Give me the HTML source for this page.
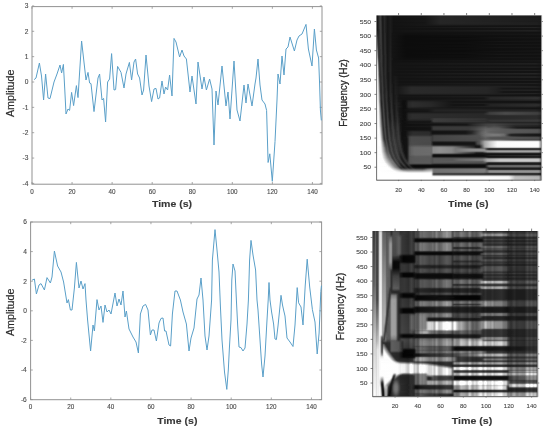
<!DOCTYPE html>
<html><head><meta charset="utf-8"><title>Signals and spectrograms</title>
<style>
html,body{margin:0;padding:0;background:#fff;}
body{width:550px;height:432px;overflow:hidden;position:relative;}
.sp{position:absolute;overflow:hidden;}
.sp i{display:block;height:1px;width:100%;}
svg{position:absolute;left:0;top:0;display:block;font-family:"Liberation Sans", sans-serif;}
</style></head><body>
<div class="sp" style="left:377px;top:15px;width:165px;height:166px"><i style="background:linear-gradient(90deg,#151515 0%,#151515 0.3%,#323232 1.5%,#3a3a3a 2.1%,#1a1a1a 3.3%,#262626 4.5%,#171717 5.8%,#1a1a1a 8.2%,#121212 10%,#121212 27%,#202020 38.5%,#1b1b1b 96.7%,#161616 100%)"></i>
<i style="background:linear-gradient(90deg,#151515 0%,#151515 0.3%,#353535 1.5%,#3d3d3d 2.1%,#1a1a1a 3.3%,#272727 4.5%,#151515 6.4%,#1b1b1b 8.2%,#121212 10%,#141414 28.8%,#252525 38.5%,#1d1d1d 96.7%,#181818 100%)"></i>
<i style="background:linear-gradient(90deg,#151515 0%,#151515 0.3%,#353535 1.5%,#3d3d3d 2.1%,#1a1a1a 3.3%,#282828 4.5%,#151515 6.4%,#1c1c1c 8.2%,#131313 10%,#171717 29.4%,#262626 38.5%,#1b1b1b 100%)"></i>
<i style="background:linear-gradient(90deg,#151515 0%,#151515 0.3%,#353535 1.5%,#3d3d3d 2.1%,#1a1a1a 3.3%,#1d1d1d 3.9%,#282828 4.5%,#151515 6.4%,#1c1c1c 8.2%,#121212 10%,#151515 28.8%,#262626 38.5%,#1e1e1e 96.7%,#191919 100%)"></i>
<i style="background:linear-gradient(90deg,#151515 0%,#151515 0.3%,#353535 1.5%,#3d3d3d 2.1%,#1a1a1a 3.3%,#1d1d1d 3.9%,#282828 4.5%,#151515 6.4%,#1c1c1c 8.2%,#121212 10%,#151515 28.8%,#262626 38.5%,#1e1e1e 96.7%,#191919 100%)"></i>
<i style="background:linear-gradient(90deg,#151515 0%,#151515 0.3%,#353535 1.5%,#3d3d3d 2.1%,#1b1b1b 3.3%,#1d1d1d 3.9%,#282828 4.5%,#151515 6.4%,#1c1c1c 8.2%,#131313 10%,#171717 29.4%,#262626 38.5%,#1c1c1c 100%)"></i>
<i style="background:linear-gradient(90deg,#151515 0%,#151515 0.3%,#343434 1.5%,#3d3d3d 2.1%,#2f2f2f 2.7%,#1b1b1b 3.3%,#1d1d1d 3.9%,#282828 4.5%,#151515 6.4%,#1c1c1c 8.2%,#131313 10%,#171717 29.4%,#262626 38.5%,#1b1b1b 100%)"></i>
<i style="background:linear-gradient(90deg,#151515 0%,#151515 0.3%,#343434 1.5%,#3d3d3d 2.1%,#303030 2.7%,#1b1b1b 3.3%,#1d1d1d 3.9%,#282828 4.5%,#151515 6.4%,#1c1c1c 8.2%,#121212 10%,#151515 28.8%,#262626 38.5%,#1e1e1e 96.7%,#191919 100%)"></i>
<i style="background:linear-gradient(90deg,#151515 0%,#151515 0.3%,#343434 1.5%,#3d3d3d 2.1%,#303030 2.7%,#1b1b1b 3.3%,#1d1d1d 3.9%,#282828 4.5%,#151515 6.4%,#1c1c1c 8.2%,#131313 10%,#161616 28.8%,#252525 38.5%,#1f1f1f 96.7%,#1a1a1a 100%)"></i>
<i style="background:linear-gradient(90deg,#151515 0%,#151515 0.3%,#343434 1.5%,#3d3d3d 2.1%,#313131 2.7%,#1b1b1b 3.3%,#1d1d1d 3.9%,#282828 4.5%,#151515 6.4%,#1c1c1c 8.2%,#131313 10%,#171717 29.4%,#212121 38.5%,#1f1f1f 96.7%,#1b1b1b 100%)"></i>
<i style="background:linear-gradient(90deg,#151515 0%,#151515 0.3%,#333333 1.5%,#3c3c3c 2.1%,#313131 2.7%,#1b1b1b 3.3%,#1d1d1d 3.9%,#282828 4.5%,#151515 6.4%,#1c1c1c 8.2%,#121212 10%,#191919 38.5%,#151515 100%)"></i>
<i style="background:linear-gradient(90deg,#151515 0%,#151515 0.3%,#333333 1.5%,#3c3c3c 2.1%,#313131 2.7%,#1c1c1c 3.3%,#1d1d1d 3.9%,#282828 4.5%,#151515 6.4%,#1c1c1c 8.2%,#121212 10%,#141414 100%)"></i>
<i style="background:linear-gradient(90deg,#151515 0%,#151515 0.3%,#333333 1.5%,#3c3c3c 2.1%,#323232 2.7%,#1c1c1c 3.3%,#1d1d1d 3.9%,#282828 4.5%,#151515 6.4%,#1c1c1c 8.2%,#131313 10%,#232323 96.1%,#1a1a1a 100%)"></i>
<i style="background:linear-gradient(90deg,#151515 0%,#151515 0.3%,#333333 1.5%,#3c3c3c 2.1%,#323232 2.7%,#1c1c1c 3.3%,#1d1d1d 3.9%,#282828 4.5%,#151515 6.4%,#1c1c1c 8.2%,#121212 10%,#151515 100%)"></i>
<i style="background:linear-gradient(90deg,#151515 0%,#151515 0.3%,#3c3c3c 2.1%,#323232 2.7%,#1c1c1c 3.3%,#1d1d1d 3.9%,#282828 4.5%,#151515 6.4%,#1c1c1c 8.2%,#121212 10%,#141414 100%)"></i>
<i style="background:linear-gradient(90deg,#171717 0%,#171717 0.3%,#3c3c3c 2.1%,#333333 2.7%,#1d1d1d 3.3%,#1d1d1d 3.9%,#282828 4.5%,#151515 6.4%,#1d1d1d 8.2%,#131313 10%,#212121 96.1%,#1a1a1a 100%)"></i>
<i style="background:linear-gradient(90deg,#1b1b1b 0%,#232323 0.9%,#3b3b3b 2.1%,#333333 2.7%,#1d1d1d 3.3%,#1c1c1c 3.9%,#282828 4.5%,#151515 6.4%,#1d1d1d 8.2%,#131313 10%,#1b1b1b 96.7%,#171717 100%)"></i>
<i style="background:linear-gradient(90deg,#202020 0%,#242424 0.9%,#3b3b3b 2.1%,#333333 2.7%,#1d1d1d 3.3%,#1c1c1c 3.9%,#282828 4.5%,#151515 6.4%,#1d1d1d 8.2%,#121212 10%,#121212 100%)"></i>
<i style="background:linear-gradient(90deg,#252525 0%,#252525 0.9%,#3b3b3b 2.1%,#343434 2.7%,#1d1d1d 3.3%,#1c1c1c 3.9%,#282828 4.5%,#262626 5.2%,#191919 5.8%,#151515 6.4%,#1d1d1d 8.2%,#131313 9.4%,#101010 16.7%,#141414 100%)"></i>
<i style="background:linear-gradient(90deg,#2a2a2a 0%,#262626 0.9%,#3b3b3b 2.1%,#343434 2.7%,#1e1e1e 3.3%,#1c1c1c 3.9%,#282828 4.5%,#262626 5.2%,#191919 5.8%,#151515 6.4%,#1d1d1d 8.2%,#141414 9.4%,#0f0f0f 17.3%,#171717 100%)"></i>
<i style="background:linear-gradient(90deg,#2f2f2f 0%,#272727 0.9%,#3a3a3a 2.1%,#353535 2.7%,#1e1e1e 3.3%,#1c1c1c 3.9%,#282828 4.5%,#262626 5.2%,#191919 5.8%,#151515 6.4%,#1d1d1d 8.2%,#131313 9.4%,#0d0d0d 17.3%,#121212 100%)"></i>
<i style="background:linear-gradient(90deg,#333333 0%,#333333 0.3%,#282828 0.9%,#3a3a3a 2.1%,#353535 2.7%,#1e1e1e 3.3%,#1c1c1c 3.9%,#282828 4.5%,#262626 5.2%,#191919 5.8%,#151515 6.4%,#1d1d1d 8.2%,#131313 9.4%,#0c0c0c 17.3%,#111111 100%)"></i>
<i style="background:linear-gradient(90deg,#383838 0%,#383838 0.3%,#282828 0.9%,#3a3a3a 2.1%,#353535 2.7%,#1f1f1f 3.3%,#1c1c1c 3.9%,#282828 4.5%,#262626 5.2%,#191919 5.8%,#151515 6.4%,#1d1d1d 8.2%,#141414 9.4%,#0c0c0c 17.3%,#0c0c0c 53%,#141414 74.8%,#151515 100%)"></i>
<i style="background:linear-gradient(90deg,#3c3c3c 0%,#3c3c3c 0.3%,#292929 0.9%,#3a3a3a 2.1%,#363636 2.7%,#1f1f1f 3.3%,#1c1c1c 3.9%,#282828 4.5%,#272727 5.2%,#191919 5.8%,#151515 6.4%,#1d1d1d 8.2%,#131313 9.4%,#0c0c0c 17.3%,#131313 100%)"></i>
<i style="background:linear-gradient(90deg,#404040 0%,#404040 0.3%,#2a2a2a 0.9%,#393939 2.1%,#363636 2.7%,#1f1f1f 3.3%,#1c1c1c 3.9%,#282828 4.5%,#272727 5.2%,#191919 5.8%,#151515 6.4%,#1e1e1e 8.2%,#131313 9.4%,#0c0c0c 17.3%,#111111 100%)"></i>
<i style="background:linear-gradient(90deg,#444444 0%,#444444 0.3%,#2b2b2b 0.9%,#393939 2.1%,#363636 2.7%,#202020 3.3%,#1c1c1c 3.9%,#282828 4.5%,#272727 5.2%,#1a1a1a 5.8%,#151515 6.4%,#1e1e1e 8.2%,#141414 9.4%,#0c0c0c 17.3%,#0c0c0c 53%,#141414 100%)"></i>
<i style="background:linear-gradient(90deg,#484848 0%,#484848 0.3%,#2b2b2b 0.9%,#393939 2.1%,#363636 2.7%,#202020 3.3%,#1c1c1c 3.9%,#282828 4.5%,#272727 5.2%,#1a1a1a 5.8%,#151515 6.4%,#1e1e1e 8.2%,#131313 9.4%,#0c0c0c 17.3%,#0c0c0c 53%,#151515 74.8%,#151515 100%)"></i>
<i style="background:linear-gradient(90deg,#4c4c4c 0%,#4c4c4c 0.3%,#2c2c2c 0.9%,#393939 2.1%,#373737 2.7%,#212121 3.3%,#1c1c1c 3.9%,#282828 4.5%,#272727 5.2%,#1a1a1a 5.8%,#151515 6.4%,#1e1e1e 8.2%,#131313 9.4%,#0c0c0c 16.7%,#111111 100%)"></i>
<i style="background:linear-gradient(90deg,#505050 0%,#505050 0.3%,#2d2d2d 0.9%,#2f2f2f 1.5%,#383838 2.1%,#373737 2.7%,#212121 3.3%,#1c1c1c 3.9%,#282828 4.5%,#282828 5.2%,#1a1a1a 5.8%,#151515 6.4%,#1e1e1e 8.2%,#141414 9.4%,#0c0c0c 17.3%,#121212 100%)"></i>
<i style="background:linear-gradient(90deg,#545454 0%,#545454 0.3%,#2d2d2d 0.9%,#2f2f2f 1.5%,#383838 2.1%,#373737 2.7%,#222222 3.3%,#1c1c1c 3.9%,#282828 4.5%,#282828 5.2%,#1a1a1a 5.8%,#151515 6.4%,#1e1e1e 8.2%,#141414 9.4%,#0c0c0c 17.3%,#0c0c0c 53%,#151515 74.8%,#151515 100%)"></i>
<i style="background:linear-gradient(90deg,#5a5a5a 0%,#5a5a5a 0.3%,#2e2e2e 0.9%,#373737 2.7%,#222222 3.3%,#1c1c1c 3.9%,#282828 4.5%,#282828 5.2%,#1a1a1a 5.8%,#151515 6.4%,#1e1e1e 8.2%,#131313 9.4%,#0c0c0c 16.7%,#111111 100%)"></i>
<i style="background:linear-gradient(90deg,#616161 0%,#616161 0.3%,#303030 0.9%,#2e2e2e 1.5%,#373737 2.1%,#383838 2.7%,#222222 3.3%,#1c1c1c 3.9%,#282828 4.5%,#282828 5.2%,#1b1b1b 5.8%,#151515 6.4%,#1f1f1f 8.2%,#131313 9.4%,#0c0c0c 16.7%,#121212 100%)"></i>
<i style="background:linear-gradient(90deg,#686868 0%,#686868 0.3%,#313131 0.9%,#2e2e2e 1.5%,#373737 2.1%,#383838 2.7%,#232323 3.3%,#1c1c1c 3.9%,#282828 4.5%,#292929 5.2%,#1b1b1b 5.8%,#151515 6.4%,#1f1f1f 8.2%,#141414 9.4%,#0d0d0d 16.7%,#0c0c0c 53%,#151515 74.8%,#161616 100%)"></i>
<i style="background:linear-gradient(90deg,#6f6f6f 0%,#6f6f6f 0.3%,#333333 0.9%,#2e2e2e 1.5%,#373737 2.1%,#383838 2.7%,#232323 3.3%,#1c1c1c 3.9%,#282828 4.5%,#292929 5.2%,#1b1b1b 5.8%,#151515 6.4%,#1f1f1f 8.2%,#131313 9.4%,#0c0c0c 17.3%,#121212 100%)"></i>
<i style="background:linear-gradient(90deg,#767676 0%,#767676 0.3%,#343434 0.9%,#2e2e2e 1.5%,#383838 2.7%,#242424 3.3%,#1c1c1c 3.9%,#282828 4.5%,#292929 5.2%,#1b1b1b 5.8%,#151515 6.4%,#1f1f1f 8.2%,#131313 9.4%,#0c0c0c 17.3%,#111111 100%)"></i>
<i style="background:linear-gradient(90deg,#7d7d7d 0%,#7d7d7d 0.3%,#353535 0.9%,#2d2d2d 1.5%,#383838 2.7%,#252525 3.3%,#1c1c1c 3.9%,#272727 4.5%,#292929 5.2%,#1b1b1b 5.8%,#151515 6.4%,#1f1f1f 8.2%,#141414 9.4%,#0c0c0c 17.9%,#0c0c0c 53%,#151515 100%)"></i>
<i style="background:linear-gradient(90deg,#848484 0%,#848484 0.3%,#363636 0.9%,#2d2d2d 1.5%,#393939 2.7%,#252525 3.3%,#1c1c1c 3.9%,#272727 4.5%,#292929 5.2%,#1c1c1c 5.8%,#151515 6.4%,#1f1f1f 8.2%,#141414 9.4%,#0c0c0c 17.3%,#0c0c0c 53%,#141414 74.8%,#141414 100%)"></i>
<i style="background:linear-gradient(90deg,#8b8b8b 0%,#8b8b8b 0.3%,#383838 0.9%,#2d2d2d 1.5%,#393939 2.7%,#262626 3.3%,#1c1c1c 3.9%,#272727 4.5%,#2a2a2a 5.2%,#1c1c1c 5.8%,#151515 6.4%,#202020 8.2%,#131313 9.4%,#0c0c0c 17.3%,#111111 100%)"></i>
<i style="background:linear-gradient(90deg,#919191 0%,#919191 0.3%,#393939 0.9%,#2d2d2d 1.5%,#393939 2.7%,#262626 3.3%,#1c1c1c 3.9%,#272727 4.5%,#2a2a2a 5.2%,#1c1c1c 5.8%,#151515 6.4%,#202020 8.2%,#141414 9.4%,#0c0c0c 17.9%,#141414 100%)"></i>
<i style="background:linear-gradient(90deg,#979797 0%,#979797 0.3%,#3a3a3a 0.9%,#2c2c2c 1.5%,#393939 2.7%,#272727 3.3%,#1d1d1d 3.9%,#272727 4.5%,#2a2a2a 5.2%,#151515 6.4%,#202020 8.2%,#141414 9.4%,#0c0c0c 17.9%,#0c0c0c 53%,#161616 74.8%,#161616 100%)"></i>
<i style="background:linear-gradient(90deg,#9e9e9e 0%,#9e9e9e 0.3%,#3b3b3b 0.9%,#2c2c2c 1.5%,#393939 2.7%,#1d1d1d 3.9%,#2a2a2a 5.2%,#151515 6.4%,#202020 8.2%,#141414 9.4%,#0c0c0c 17.3%,#111111 100%)"></i>
<i style="background:linear-gradient(90deg,#a4a4a4 0%,#a4a4a4 0.3%,#3d3d3d 0.9%,#2c2c2c 1.5%,#393939 2.7%,#1d1d1d 3.9%,#2a2a2a 5.2%,#151515 6.4%,#202020 8.2%,#141414 9.4%,#0c0c0c 17.3%,#121212 100%)"></i>
<i style="background:linear-gradient(90deg,#ababab 0%,#ababab 0.3%,#404040 0.9%,#2d2d2d 1.5%,#393939 2.7%,#1d1d1d 3.9%,#2a2a2a 5.2%,#151515 6.4%,#212121 8.2%,#141414 9.4%,#0d0d0d 17.9%,#0d0d0d 53%,#161616 74.8%,#161616 100%)"></i>
<i style="background:linear-gradient(90deg,#b2b2b2 0%,#b2b2b2 0.3%,#464646 0.9%,#2e2e2e 1.5%,#393939 2.7%,#1d1d1d 3.9%,#2b2b2b 5.2%,#151515 6.4%,#212121 8.2%,#121212 10%,#0e0e0e 17.3%,#131313 100%)"></i>
<i style="background:linear-gradient(90deg,#b9b9b9 0%,#b9b9b9 0.3%,#4d4d4d 0.9%,#2f2f2f 1.5%,#393939 2.7%,#1d1d1d 3.9%,#2b2b2b 5.2%,#151515 6.4%,#212121 8.2%,#121212 10%,#0f0f0f 17.3%,#121212 100%)"></i>
<i style="background:linear-gradient(90deg,#c0c0c0 0%,#c0c0c0 0.3%,#535353 0.9%,#303030 1.5%,#393939 2.7%,#1d1d1d 3.9%,#2b2b2b 5.2%,#161616 6.4%,#212121 8.2%,#141414 9.4%,#131313 10%,#121212 17.3%,#181818 100%)"></i>
<i style="background:linear-gradient(90deg,#c7c7c7 0%,#c7c7c7 0.3%,#595959 0.9%,#313131 1.5%,#393939 2.7%,#1e1e1e 3.9%,#2b2b2b 5.2%,#161616 6.4%,#212121 8.2%,#141414 9.4%,#131313 10%,#111111 16.7%,#161616 100%)"></i>
<i style="background:linear-gradient(90deg,#cecece 0%,#cecece 0.3%,#606060 0.9%,#323232 1.5%,#323232 2.1%,#393939 2.7%,#1e1e1e 3.9%,#2b2b2b 5.2%,#161616 6.4%,#212121 8.2%,#141414 9.4%,#131313 10%,#141414 100%)"></i>
<i style="background:linear-gradient(90deg,#d4d4d4 0%,#d4d4d4 0.3%,#666666 0.9%,#333333 1.5%,#313131 2.1%,#383838 2.7%,#1e1e1e 3.9%,#2b2b2b 5.2%,#161616 6.4%,#222222 8.2%,#141414 9.4%,#141414 10%,#202020 96.1%,#181818 100%)"></i>
<i style="background:linear-gradient(90deg,#dbdbdb 0%,#dbdbdb 0.3%,#6b6b6b 0.9%,#333333 1.5%,#313131 2.1%,#383838 2.7%,#1e1e1e 3.9%,#2c2c2c 5.2%,#161616 6.4%,#222222 8.2%,#141414 9.4%,#141414 10%,#1c1c1c 96.1%,#171717 100%)"></i>
<i style="background:linear-gradient(90deg,#e1e1e1 0%,#e1e1e1 0.3%,#717171 0.9%,#343434 1.5%,#303030 2.1%,#383838 2.7%,#1e1e1e 3.9%,#2c2c2c 5.2%,#161616 6.4%,#222222 8.2%,#141414 9.4%,#131313 13%,#141414 100%)"></i>
<i style="background:linear-gradient(90deg,#e4e4e4 0%,#e4e4e4 0.3%,#767676 0.9%,#353535 1.5%,#303030 2.1%,#383838 2.7%,#1f1f1f 3.9%,#2c2c2c 5.2%,#161616 6.4%,#222222 8.2%,#151515 9.4%,#141414 10%,#1a1a1a 96.1%,#161616 100%)"></i>
<i style="background:linear-gradient(90deg,#e6e6e6 0%,#e6e6e6 0.3%,#7b7b7b 0.9%,#363636 1.5%,#2f2f2f 2.1%,#383838 2.7%,#2f2f2f 3.3%,#1f1f1f 3.9%,#2c2c2c 5.2%,#161616 6.4%,#222222 8.2%,#151515 9.4%,#141414 10%,#1e1e1e 96.1%,#171717 100%)"></i>
<i style="background:linear-gradient(90deg,#e7e7e7 0%,#e7e7e7 0.3%,#7f7f7f 0.9%,#373737 1.5%,#2f2f2f 2.1%,#373737 2.7%,#303030 3.3%,#1f1f1f 3.9%,#2c2c2c 5.2%,#161616 6.4%,#232323 8.2%,#151515 9.4%,#131313 13%,#131313 100%)"></i>
<i style="background:linear-gradient(90deg,#e8e8e8 0%,#e8e8e8 0.3%,#848484 0.9%,#383838 1.5%,#2e2e2e 2.1%,#373737 2.7%,#303030 3.3%,#202020 3.9%,#2c2c2c 5.2%,#161616 6.4%,#232323 8.2%,#151515 9.4%,#131313 13%,#141414 100%)"></i>
<i style="background:linear-gradient(90deg,#e9e9e9 0%,#e9e9e9 0.3%,#888888 0.9%,#383838 1.5%,#2e2e2e 2.1%,#373737 2.7%,#313131 3.3%,#202020 3.9%,#2c2c2c 5.2%,#161616 6.4%,#232323 8.2%,#151515 9.4%,#151515 10%,#1f1f1f 96.1%,#181818 100%)"></i>
<i style="background:linear-gradient(90deg,#eaeaea 0%,#eaeaea 0.3%,#8c8c8c 0.9%,#393939 1.5%,#2d2d2d 2.1%,#363636 2.7%,#323232 3.3%,#202020 3.9%,#2c2c2c 5.2%,#171717 6.4%,#232323 8.2%,#151515 9.4%,#131313 13%,#141414 100%)"></i>
<i style="background:linear-gradient(90deg,#ebebeb 0%,#ebebeb 0.3%,#3a3a3a 1.5%,#2c2c2c 2.1%,#363636 2.7%,#333333 3.3%,#212121 3.9%,#2c2c2c 5.2%,#171717 6.4%,#171717 7%,#232323 8.2%,#151515 9.4%,#131313 13%,#141414 100%)"></i>
<i style="background:linear-gradient(90deg,#ececec 0%,#ececec 0.3%,#3a3a3a 1.5%,#2c2c2c 2.1%,#353535 2.7%,#333333 3.3%,#212121 3.9%,#2c2c2c 5.2%,#171717 6.4%,#171717 7%,#232323 8.2%,#151515 9.4%,#151515 10%,#252525 96.1%,#1b1b1b 100%)"></i>
<i style="background:linear-gradient(90deg,#ededed 0%,#ededed 0.3%,#3b3b3b 1.5%,#2b2b2b 2.1%,#343434 2.7%,#343434 3.3%,#222222 3.9%,#2c2c2c 5.2%,#171717 6.4%,#171717 7%,#232323 8.2%,#151515 9.4%,#141414 13%,#1d1d1d 96.1%,#171717 100%)"></i>
<i style="background:linear-gradient(90deg,#eeeeee 0%,#eeeeee 0.3%,#9a9a9a 0.9%,#3c3c3c 1.5%,#2b2b2b 2.1%,#343434 2.7%,#353535 3.3%,#222222 3.9%,#242424 4.5%,#2c2c2c 5.2%,#171717 6.4%,#171717 7%,#232323 8.2%,#151515 9.4%,#131313 13.6%,#141414 100%)"></i>
<i style="background:linear-gradient(90deg,#efefef 0%,#efefef 0.3%,#9e9e9e 0.9%,#404040 1.5%,#2b2b2b 2.1%,#363636 3.3%,#232323 3.9%,#232323 4.5%,#2c2c2c 5.2%,#181818 6.4%,#171717 7%,#232323 8.2%,#161616 9.4%,#191919 11.2%,#151515 13%,#202020 96.1%,#181818 100%)"></i>
<i style="background:linear-gradient(90deg,#f0f0f0 0%,#f0f0f0 0.3%,#a2a2a2 0.9%,#454545 1.5%,#2c2c2c 2.1%,#363636 3.3%,#242424 3.9%,#232323 4.5%,#2c2c2c 5.2%,#181818 6.4%,#171717 7%,#232323 8.2%,#161616 9.4%,#191919 11.2%,#151515 13%,#212121 96.1%,#191919 100%)"></i>
<i style="background:linear-gradient(90deg,#f0f0f0 0%,#f0f0f0 0.3%,#a6a6a6 0.9%,#4a4a4a 1.5%,#2c2c2c 2.1%,#373737 3.3%,#242424 3.9%,#232323 4.5%,#2c2c2c 5.2%,#181818 6.4%,#171717 7%,#232323 8.2%,#161616 9.4%,#191919 11.2%,#131313 13.6%,#141414 100%)"></i>
<i style="background:linear-gradient(90deg,#f1f1f1 0%,#f1f1f1 0.3%,#a9a9a9 0.9%,#4f4f4f 1.5%,#2d2d2d 2.1%,#373737 3.3%,#252525 3.9%,#232323 4.5%,#2b2b2b 5.2%,#262626 5.8%,#181818 6.4%,#171717 7%,#242424 8.2%,#161616 9.4%,#191919 11.2%,#141414 13.6%,#151515 100%)"></i>
<i style="background:linear-gradient(90deg,#f2f2f2 0%,#f2f2f2 0.3%,#adadad 0.9%,#535353 1.5%,#2d2d2d 2.1%,#383838 3.3%,#262626 3.9%,#232323 4.5%,#2b2b2b 5.2%,#262626 5.8%,#191919 6.4%,#161616 7%,#242424 8.2%,#161616 9.4%,#161616 10%,#1b1b1b 11.2%,#151515 13.6%,#1e1e1e 96.1%,#181818 100%)"></i>
<i style="background:linear-gradient(90deg,#f2f2f2 0%,#f2f2f2 0.3%,#b0b0b0 0.9%,#585858 1.5%,#2e2e2e 2.1%,#393939 3.3%,#262626 3.9%,#232323 4.5%,#2b2b2b 5.2%,#272727 5.8%,#191919 6.4%,#171717 7%,#242424 8.2%,#161616 9.4%,#1a1a1a 11.2%,#131313 13.6%,#131313 100%)"></i>
<i style="background:linear-gradient(90deg,#f3f3f3 0%,#f3f3f3 0.3%,#b3b3b3 0.9%,#5c5c5c 1.5%,#2e2e2e 2.1%,#303030 2.7%,#393939 3.3%,#272727 3.9%,#232323 4.5%,#2b2b2b 5.2%,#282828 5.8%,#1a1a1a 6.4%,#171717 7%,#242424 8.2%,#171717 9.4%,#1a1a1a 11.2%,#131313 13.6%,#141414 100%)"></i>
<i style="background:linear-gradient(90deg,#f3f3f3 0%,#f3f3f3 0.3%,#b7b7b7 0.9%,#606060 1.5%,#2f2f2f 2.1%,#2f2f2f 2.7%,#3a3a3a 3.3%,#282828 3.9%,#222222 4.5%,#2b2b2b 5.2%,#282828 5.8%,#1a1a1a 6.4%,#171717 7%,#252525 8.2%,#171717 9.4%,#161616 10%,#1c1c1c 11.2%,#151515 13.6%,#202020 96.1%,#181818 100%)"></i>
<i style="background:linear-gradient(90deg,#f4f4f4 0%,#f4f4f4 0.3%,#bababa 0.9%,#646464 1.5%,#2f2f2f 2.1%,#2e2e2e 2.7%,#3a3a3a 3.3%,#292929 3.9%,#222222 4.5%,#2b2b2b 5.2%,#292929 5.8%,#1b1b1b 6.4%,#171717 7%,#252525 8.2%,#151515 10%,#1b1b1b 11.2%,#141414 13.6%,#181818 68.8%,#151515 100%)"></i>
<i style="background:linear-gradient(90deg,#f4f4f4 0%,#f4f4f4 0.3%,#bcbcbc 0.9%,#676767 1.5%,#2f2f2f 2.1%,#2e2e2e 2.7%,#3b3b3b 3.3%,#2a2a2a 3.9%,#222222 4.5%,#2b2b2b 5.2%,#2a2a2a 5.8%,#1b1b1b 6.4%,#171717 7%,#252525 8.2%,#151515 10%,#1b1b1b 11.2%,#151515 13%,#1a1a1a 20.3%,#1a1a1a 65.8%,#141414 100%)"></i>
<i style="background:linear-gradient(90deg,#f5f5f5 0%,#f5f5f5 0.3%,#bfbfbf 0.9%,#6b6b6b 1.5%,#303030 2.1%,#2d2d2d 2.7%,#3b3b3b 3.3%,#2b2b2b 3.9%,#222222 4.5%,#2b2b2b 5.2%,#2b2b2b 5.8%,#1c1c1c 6.4%,#171717 7%,#262626 8.2%,#161616 10%,#1d1d1d 11.2%,#181818 13%,#232323 20.9%,#202020 96.1%,#181818 100%)"></i>
<i style="background:linear-gradient(90deg,#f5f5f5 0%,#f5f5f5 0.3%,#c2c2c2 0.9%,#6e6e6e 1.5%,#303030 2.1%,#2c2c2c 2.7%,#3b3b3b 3.3%,#222222 4.5%,#2b2b2b 5.2%,#2b2b2b 5.8%,#1c1c1c 6.4%,#171717 7%,#262626 8.2%,#161616 10%,#1d1d1d 11.2%,#1a1a1a 13%,#292929 20.9%,#262626 66.4%,#1d1d1d 76.1%,#1e1e1e 96.7%,#181818 100%)"></i>
<i style="background:linear-gradient(90deg,#f6f6f6 0%,#f6f6f6 0.3%,#c4c4c4 0.9%,#717171 1.5%,#303030 2.1%,#2c2c2c 2.7%,#3c3c3c 3.3%,#222222 4.5%,#2c2c2c 5.8%,#1d1d1d 6.4%,#171717 7%,#262626 8.2%,#151515 10%,#1d1d1d 11.2%,#191919 13%,#2a2a2a 20.9%,#262626 66.4%,#202020 72.4%,#161616 76.7%,#141414 100%)"></i>
<i style="background:linear-gradient(90deg,#f6f6f6 0%,#f6f6f6 0.3%,#c7c7c7 0.9%,#747474 1.5%,#313131 2.1%,#2b2b2b 2.7%,#3c3c3c 3.3%,#222222 4.5%,#2d2d2d 5.8%,#1e1e1e 6.4%,#171717 7%,#262626 8.2%,#161616 10%,#1e1e1e 11.2%,#1a1a1a 13%,#2a2a2a 20.9%,#262626 66.4%,#1b1b1b 76.1%,#1b1b1b 96.7%,#161616 100%)"></i>
<i style="background:linear-gradient(90deg,#f7f7f7 0%,#f7f7f7 0.3%,#c9c9c9 0.9%,#777777 1.5%,#313131 2.1%,#2a2a2a 2.7%,#3c3c3c 3.3%,#222222 4.5%,#2e2e2e 5.8%,#1e1e1e 6.4%,#171717 7%,#272727 8.2%,#161616 10%,#1e1e1e 11.2%,#1a1a1a 13%,#2a2a2a 20.3%,#262626 66.4%,#1f1f1f 74.2%,#222222 96.7%,#1a1a1a 100%)"></i>
<i style="background:linear-gradient(90deg,#f7f7f7 0%,#f7f7f7 0.3%,#cbcbcb 0.9%,#7b7b7b 1.5%,#323232 2.1%,#2a2a2a 2.7%,#3c3c3c 3.3%,#222222 4.5%,#2e2e2e 5.8%,#171717 7%,#272727 8.2%,#161616 10%,#1e1e1e 11.2%,#1a1a1a 13%,#2a2a2a 20.9%,#262626 66.4%,#202020 72.4%,#161616 76.7%,#141414 100%)"></i>
<i style="background:linear-gradient(90deg,#f8f8f8 0%,#f8f8f8 0.3%,#cecece 0.9%,#343434 2.1%,#2a2a2a 2.7%,#3c3c3c 3.3%,#222222 4.5%,#2f2f2f 5.8%,#171717 7%,#272727 8.2%,#161616 10%,#1e1e1e 11.2%,#1a1a1a 13%,#2a2a2a 20.9%,#262626 66.4%,#202020 72.4%,#161616 76.7%,#141414 100%)"></i>
<i style="background:linear-gradient(90deg,#f8f8f8 0%,#f8f8f8 0.3%,#d0d0d0 0.9%,#383838 2.1%,#2a2a2a 2.7%,#3c3c3c 3.3%,#232323 4.5%,#303030 5.8%,#171717 7%,#272727 8.2%,#252525 8.8%,#161616 10%,#1f1f1f 11.2%,#1a1a1a 13%,#272727 20.3%,#242424 66.4%,#1f1f1f 73.6%,#232323 96.1%,#1a1a1a 100%)"></i>
<i style="background:linear-gradient(90deg,#f8f8f8 0%,#f8f8f8 0.3%,#d2d2d2 0.9%,#3c3c3c 2.1%,#2a2a2a 2.7%,#3c3c3c 3.3%,#343434 3.9%,#232323 4.5%,#303030 5.8%,#181818 7%,#272727 8.2%,#262626 8.8%,#161616 10%,#1e1e1e 11.2%,#171717 13.6%,#1e1e1e 20.9%,#1d1d1d 66.4%,#151515 100%)"></i>
<i style="background:linear-gradient(90deg,#f9f9f9 0%,#f9f9f9 0.3%,#d4d4d4 0.9%,#3f3f3f 2.1%,#2a2a2a 2.7%,#3c3c3c 3.3%,#353535 3.9%,#232323 4.5%,#313131 5.8%,#181818 7%,#282828 8.2%,#272727 8.8%,#161616 10%,#1e1e1e 11.8%,#141414 13.6%,#141414 100%)"></i>
<i style="background:linear-gradient(90deg,#f9f9f9 0%,#f9f9f9 0.3%,#d6d6d6 0.9%,#434343 2.1%,#2a2a2a 2.7%,#3b3b3b 3.3%,#363636 3.9%,#232323 4.5%,#313131 5.8%,#181818 7%,#282828 8.2%,#272727 8.8%,#171717 10%,#1f1f1f 11.8%,#151515 13.6%,#222222 96.1%,#1a1a1a 100%)"></i>
<i style="background:linear-gradient(90deg,#fafafa 0%,#fafafa 0.3%,#d8d8d8 0.9%,#464646 2.1%,#2a2a2a 2.7%,#3b3b3b 3.3%,#373737 3.9%,#232323 4.5%,#323232 5.8%,#181818 7%,#1c1c1c 7.6%,#282828 8.2%,#282828 8.8%,#171717 10%,#1f1f1f 11.8%,#161616 13%,#141414 14.2%,#181818 64.5%,#262626 68.8%,#2f2f2f 96.7%,#2e2e2e 97.9%,#202020 100%)"></i>
<i style="background:linear-gradient(90deg,#fafafa 0%,#fafafa 0.3%,#d9d9d9 0.9%,#494949 2.1%,#2a2a2a 2.7%,#3b3b3b 3.3%,#383838 3.9%,#242424 4.5%,#272727 5.2%,#323232 5.8%,#181818 7%,#1c1c1c 7.6%,#282828 8.2%,#292929 8.8%,#171717 10%,#1f1f1f 11.8%,#151515 13%,#131313 14.2%,#151515 64.5%,#272727 68.8%,#313131 97.3%,#202020 100%)"></i>
<i style="background:linear-gradient(90deg,#fafafa 0%,#fafafa 0.3%,#dbdbdb 0.9%,#4a4a4a 2.1%,#292929 2.7%,#3a3a3a 3.3%,#393939 3.9%,#242424 4.5%,#272727 5.2%,#323232 5.8%,#191919 7%,#1c1c1c 7.6%,#282828 8.2%,#292929 8.8%,#171717 10%,#202020 11.8%,#161616 13%,#131313 15.5%,#1a1a1a 64.5%,#232323 68.8%,#292929 96.1%,#282828 97.9%,#1e1e1e 100%)"></i>
<i style="background:linear-gradient(90deg,#fbfbfb 0%,#fbfbfb 0.3%,#dddddd 0.9%,#4a4a4a 2.1%,#272727 2.7%,#393939 3.3%,#3b3b3b 3.9%,#252525 4.5%,#262626 5.2%,#333333 5.8%,#191919 7%,#2a2a2a 8.8%,#181818 10%,#212121 11.8%,#181818 13%,#101010 16.1%,#111111 17.3%,#1c1c1c 19.1%,#1e1e1e 21.5%,#191919 47%,#232323 96.1%,#1a1a1a 100%)"></i>
<i style="background:linear-gradient(90deg,#fbfbfb 0%,#fbfbfb 0.3%,#dfdfdf 0.9%,#4d4d4d 2.1%,#252525 2.7%,#373737 3.3%,#3d3d3d 3.9%,#252525 4.5%,#252525 5.2%,#333333 5.8%,#1a1a1a 7%,#1b1b1b 7.6%,#272727 8.2%,#2b2b2b 8.8%,#171717 10%,#212121 11.8%,#171717 13%,#0e0e0e 16.1%,#0f0f0f 17.3%,#222222 19.1%,#262626 21.5%,#222222 33%,#141414 46.4%,#141414 100%)"></i>
<i style="background:linear-gradient(90deg,#fcfcfc 0%,#fcfcfc 0.3%,#e2e2e2 0.9%,#515151 2.1%,#252525 2.7%,#363636 3.3%,#3e3e3e 3.9%,#262626 4.5%,#252525 5.2%,#333333 5.8%,#2b2b2b 6.4%,#1a1a1a 7%,#1b1b1b 7.6%,#272727 8.2%,#2c2c2c 8.8%,#181818 10%,#222222 11.8%,#0f0f0f 15.5%,#0e0e0e 16.7%,#151515 17.9%,#272727 19.1%,#2c2c2c 21.5%,#262626 33%,#151515 46.4%,#141414 100%)"></i>
<i style="background:linear-gradient(90deg,#fcfcfc 0%,#fcfcfc 0.3%,#e5e5e5 0.9%,#a1a1a1 1.5%,#565656 2.1%,#252525 2.7%,#404040 3.9%,#282828 4.5%,#242424 5.2%,#333333 5.8%,#2c2c2c 6.4%,#1b1b1b 7%,#1a1a1a 7.6%,#2d2d2d 8.8%,#191919 10%,#232323 11.8%,#0f0f0f 15.5%,#0e0e0e 16.7%,#161616 17.9%,#282828 19.1%,#2e2e2e 21.5%,#282828 32.4%,#191919 43.9%,#222222 96.1%,#1a1a1a 100%)"></i>
<i style="background:linear-gradient(90deg,#fdfdfd 0%,#fdfdfd 0.3%,#e8e8e8 0.9%,#a6a6a6 1.5%,#5a5a5a 2.1%,#252525 2.7%,#414141 3.9%,#292929 4.5%,#232323 5.2%,#323232 5.8%,#2e2e2e 6.4%,#1c1c1c 7%,#1a1a1a 7.6%,#2d2d2d 8.8%,#181818 10%,#232323 11.8%,#0f0f0f 15.5%,#0e0e0e 16.7%,#161616 17.9%,#282828 19.1%,#2e2e2e 21.5%,#282828 33%,#141414 46.4%,#141414 64.5%,#232323 68.8%,#2c2c2c 96.7%,#2b2b2b 97.9%,#1e1e1e 100%)"></i>
<i style="background:linear-gradient(90deg,#fdfdfd 0%,#fdfdfd 0.3%,#ebebeb 0.9%,#aaaaaa 1.5%,#5e5e5e 2.1%,#262626 2.7%,#424242 3.9%,#2a2a2a 4.5%,#232323 5.2%,#323232 5.8%,#2f2f2f 6.4%,#1d1d1d 7%,#1a1a1a 7.6%,#2e2e2e 8.8%,#191919 10%,#181818 10.6%,#242424 11.8%,#1a1a1a 13%,#0e0e0e 16.1%,#0f0f0f 17.3%,#282828 19.1%,#2e2e2e 21.5%,#282828 33%,#141414 46.4%,#151515 64.5%,#232323 68.8%,#2d2d2d 96.7%,#2c2c2c 97.9%,#1e1e1e 100%)"></i>
<i style="background:linear-gradient(90deg,#fefefe 0%,#fefefe 0.3%,#eeeeee 0.9%,#aeaeae 1.5%,#636363 2.1%,#292929 2.7%,#303030 3.3%,#434343 3.9%,#2c2c2c 4.5%,#222222 5.2%,#313131 5.8%,#313131 6.4%,#1e1e1e 7%,#1a1a1a 7.6%,#2e2e2e 8.8%,#1a1a1a 10%,#191919 10.6%,#252525 11.8%,#0e0e0e 16.1%,#0f0f0f 17.3%,#272727 19.1%,#2c2c2c 21.5%,#272727 32.4%,#191919 43.9%,#272727 96.1%,#1c1c1c 100%)"></i>
<i style="background:linear-gradient(90deg,#fefefe 0%,#fefefe 0.3%,#f1f1f1 0.9%,#b2b2b2 1.5%,#686868 2.1%,#2d2d2d 2.7%,#2f2f2f 3.3%,#444444 3.9%,#2d2d2d 4.5%,#222222 5.2%,#313131 5.8%,#323232 6.4%,#1f1f1f 7%,#191919 7.6%,#2f2f2f 8.8%,#1a1a1a 10%,#191919 10.6%,#252525 11.8%,#181818 13.6%,#0e0e0e 16.1%,#0f0f0f 17.3%,#222222 19.1%,#252525 21.5%,#171717 45.2%,#1b1b1b 96.1%,#161616 100%)"></i>
<i style="background:linear-gradient(90deg,#ffffff 0%,#ffffff 0.3%,#f2f2f2 0.9%,#b6b6b6 1.5%,#6d6d6d 2.1%,#313131 2.7%,#2f2f2f 3.3%,#444444 3.9%,#2f2f2f 4.5%,#212121 5.2%,#303030 5.8%,#343434 6.4%,#202020 7%,#191919 7.6%,#2f2f2f 8.8%,#1b1b1b 10%,#181818 10.6%,#252525 11.8%,#151515 13.6%,#0e0e0e 16.1%,#0f0f0f 17.3%,#1b1b1b 19.7%,#1d1d1d 34.8%,#141414 100%)"></i>
<i style="background:linear-gradient(90deg,#ffffff 0%,#ffffff 0.3%,#f3f3f3 0.9%,#b9b9b9 1.5%,#727272 2.1%,#353535 2.7%,#2e2e2e 3.3%,#444444 3.9%,#212121 5.2%,#2f2f2f 5.8%,#353535 6.4%,#212121 7%,#191919 7.6%,#2f2f2f 8.8%,#292929 9.4%,#1c1c1c 10%,#191919 10.6%,#262626 11.8%,#161616 13.6%,#0f0f0f 16.1%,#161616 19.1%,#181818 30.6%,#202020 35.5%,#1f1f1f 96.1%,#181818 100%)"></i>
<i style="background:linear-gradient(90deg,#ffffff 0%,#ffffff 0.3%,#f4f4f4 0.9%,#bdbdbd 1.5%,#777777 2.1%,#393939 2.7%,#2d2d2d 3.3%,#444444 3.9%,#202020 5.2%,#363636 6.4%,#222222 7%,#191919 7.6%,#303030 8.8%,#2b2b2b 9.4%,#1d1d1d 10%,#191919 10.6%,#272727 11.8%,#161616 13.6%,#0f0f0f 16.1%,#161616 19.7%,#171717 30.6%,#232323 35.5%,#252525 96.1%,#1b1b1b 100%)"></i>
<i style="background:linear-gradient(90deg,#ffffff 0%,#f4f4f4 0.9%,#c0c0c0 1.5%,#7b7b7b 2.1%,#3d3d3d 2.7%,#2d2d2d 3.3%,#444444 3.9%,#202020 5.2%,#373737 6.4%,#242424 7%,#191919 7.6%,#303030 8.8%,#2c2c2c 9.4%,#1d1d1d 10%,#181818 10.6%,#272727 11.8%,#242424 12.4%,#151515 13.6%,#0f0f0f 16.1%,#141414 19.7%,#151515 30.6%,#202020 34.8%,#202020 65.2%,#2b2b2b 68.2%,#323232 77.9%,#2c2c2c 97.3%,#1e1e1e 100%)"></i>
<i style="background:linear-gradient(90deg,#ffffff 0%,#f5f5f5 0.9%,#c3c3c3 1.5%,#414141 2.7%,#2c2c2c 3.3%,#434343 3.9%,#373737 4.5%,#212121 5.2%,#383838 6.4%,#191919 7.6%,#303030 8.8%,#2d2d2d 9.4%,#1e1e1e 10%,#191919 10.6%,#272727 11.8%,#262626 12.4%,#161616 13.6%,#0f0f0f 16.1%,#0f0f0f 17.3%,#1a1a1a 19.1%,#1c1c1c 21.5%,#202020 64.5%,#242424 65.8%,#3a3a3a 68.2%,#474747 77.9%,#3c3c3c 97.3%,#272727 100%)"></i>
<i style="background:linear-gradient(90deg,#ffffff 0%,#f6f6f6 0.9%,#c6c6c6 1.5%,#454545 2.7%,#2b2b2b 3.3%,#424242 3.9%,#393939 4.5%,#212121 5.2%,#393939 6.4%,#1a1a1a 7.6%,#212121 8.2%,#303030 8.8%,#2e2e2e 9.4%,#202020 10%,#191919 10.6%,#282828 11.8%,#282828 12.4%,#181818 13.6%,#0f0f0f 16.1%,#101010 17.3%,#222222 19.1%,#262626 21.5%,#262626 64.5%,#3d3d3d 68.2%,#4b4b4b 77.9%,#3f3f3f 97.3%,#2c2c2c 100%)"></i>
<i style="background:linear-gradient(90deg,#ffffff 0%,#f6f6f6 0.9%,#c9c9c9 1.5%,#494949 2.7%,#2b2b2b 3.3%,#414141 3.9%,#3b3b3b 4.5%,#222222 5.2%,#2a2a2a 5.8%,#3a3a3a 6.4%,#1a1a1a 7.6%,#202020 8.2%,#2f2f2f 8.8%,#2f2f2f 9.4%,#202020 10%,#191919 10.6%,#272727 11.8%,#272727 12.4%,#171717 13.6%,#0f0f0f 16.7%,#151515 17.9%,#272727 19.1%,#2d2d2d 21.5%,#282828 64.5%,#393939 68.2%,#454545 77.9%,#3b3b3b 97.3%,#292929 100%)"></i>
<i style="background:linear-gradient(90deg,#ffffff 0%,#f7f7f7 0.9%,#cccccc 1.5%,#4d4d4d 2.7%,#2a2a2a 3.3%,#404040 3.9%,#3e3e3e 4.5%,#232323 5.2%,#292929 5.8%,#3a3a3a 6.4%,#1a1a1a 7.6%,#1f1f1f 8.2%,#2f2f2f 8.8%,#303030 9.4%,#191919 10.6%,#282828 11.8%,#282828 12.4%,#171717 13.6%,#0f0f0f 16.1%,#101010 17.3%,#272727 19.1%,#2e2e2e 21.5%,#282828 64.5%,#303030 77.3%,#303030 96.7%,#212121 100%)"></i>
<i style="background:linear-gradient(90deg,#ffffff 0%,#f7f7f7 0.9%,#cfcfcf 1.5%,#505050 2.7%,#2a2a2a 3.3%,#3f3f3f 3.9%,#404040 4.5%,#242424 5.2%,#282828 5.8%,#3b3b3b 6.4%,#1b1b1b 7.6%,#1f1f1f 8.2%,#2f2f2f 8.8%,#323232 9.4%,#1a1a1a 10.6%,#292929 11.8%,#2a2a2a 12.4%,#1a1a1a 13.6%,#0f0f0f 16.1%,#101010 17.3%,#272727 19.1%,#2e2e2e 21.5%,#282828 66.4%,#2c2c2c 96.7%,#222222 100%)"></i>
<i style="background:linear-gradient(90deg,#ffffff 0%,#f8f8f8 0.9%,#d1d1d1 1.5%,#545454 2.7%,#2a2a2a 3.3%,#3d3d3d 3.9%,#424242 4.5%,#252525 5.2%,#272727 5.8%,#3b3b3b 6.4%,#1c1c1c 7.6%,#1f1f1f 8.2%,#2f2f2f 8.8%,#333333 9.4%,#1a1a1a 10.6%,#2b2b2b 12.4%,#191919 13.6%,#0f0f0f 16.1%,#101010 17.3%,#272727 19.1%,#2e2e2e 21.5%,#282828 68.2%,#2c2c2c 96.7%,#202020 100%)"></i>
<i style="background:linear-gradient(90deg,#ffffff 0%,#f8f8f8 0.9%,#d4d4d4 1.5%,#585858 2.7%,#2c2c2c 3.3%,#3c3c3c 3.9%,#444444 4.5%,#262626 5.2%,#262626 5.8%,#3b3b3b 6.4%,#313131 7%,#1d1d1d 7.6%,#1f1f1f 8.2%,#2f2f2f 8.8%,#343434 9.4%,#1b1b1b 10.6%,#2c2c2c 12.4%,#151515 14.2%,#0f0f0f 16.7%,#161616 17.9%,#272727 19.1%,#2d2d2d 20.9%,#2a2a2a 31.8%,#393939 34.8%,#303030 65.2%,#292929 67.6%,#2d2d2d 96.7%,#1f1f1f 100%)"></i>
<i style="background:linear-gradient(90deg,#ffffff 0%,#f9f9f9 0.9%,#d7d7d7 1.5%,#5d5d5d 2.7%,#2f2f2f 3.3%,#464646 4.5%,#282828 5.2%,#262626 5.8%,#3b3b3b 6.4%,#333333 7%,#1f1f1f 7.6%,#1f1f1f 8.2%,#2f2f2f 8.8%,#353535 9.4%,#1d1d1d 10.6%,#2d2d2d 12.4%,#161616 14.2%,#0f0f0f 16.7%,#101010 17.3%,#272727 19.7%,#282828 31.8%,#3d3d3d 34.8%,#333333 65.2%,#2d2d2d 67.6%,#333333 97.3%,#262626 100%)"></i>
<i style="background:linear-gradient(90deg,#ffffff 0%,#f9f9f9 0.9%,#d9d9d9 1.5%,#616161 2.7%,#323232 3.3%,#474747 4.5%,#2a2a2a 5.2%,#252525 5.8%,#3a3a3a 6.4%,#353535 7%,#212121 7.6%,#202020 8.2%,#363636 9.4%,#1e1e1e 10.6%,#202020 11.2%,#2f2f2f 12.4%,#151515 14.2%,#0f0f0f 15.5%,#101010 17.3%,#1e1e1e 19.1%,#212121 20.9%,#202020 31.8%,#222222 32.4%,#3c3c3c 34.2%,#3d3d3d 34.8%,#2f2f2f 67%,#343434 68.8%,#393939 97.3%,#282828 100%)"></i>
<i style="background:linear-gradient(90deg,#ffffff 0%,#fafafa 0.9%,#dcdcdc 1.5%,#656565 2.7%,#353535 3.3%,#393939 3.9%,#484848 4.5%,#2b2b2b 5.2%,#242424 5.8%,#3a3a3a 6.4%,#373737 7%,#232323 7.6%,#212121 8.2%,#383838 9.4%,#202020 10.6%,#202020 11.2%,#303030 12.4%,#151515 14.2%,#0f0f0f 15.5%,#161616 19.7%,#171717 31.8%,#191919 32.4%,#383838 34.2%,#3a3a3a 34.8%,#323232 65.2%,#2c2c2c 67%,#323232 70%,#343434 97.3%,#232323 100%)"></i>
<i style="background:linear-gradient(90deg,#ffffff 0%,#fafafa 0.9%,#dedede 1.5%,#696969 2.7%,#383838 3.3%,#373737 3.9%,#494949 4.5%,#2d2d2d 5.2%,#242424 5.8%,#393939 6.4%,#393939 7%,#252525 7.6%,#222222 8.2%,#393939 9.4%,#222222 10.6%,#222222 11.2%,#313131 12.4%,#161616 14.2%,#0f0f0f 16.1%,#151515 19.7%,#161616 31.8%,#292929 34.8%,#272727 54.8%,#2d2d2d 65.8%,#252525 82.7%,#252525 96.7%,#1b1b1b 100%)"></i>
<i style="background:linear-gradient(90deg,#ffffff 0%,#fbfbfb 0.9%,#e0e0e0 1.5%,#6d6d6d 2.7%,#3b3b3b 3.3%,#363636 3.9%,#494949 4.5%,#2f2f2f 5.2%,#232323 5.8%,#383838 6.4%,#3b3b3b 7%,#272727 7.6%,#232323 8.2%,#393939 9.4%,#242424 10.6%,#232323 11.2%,#333333 12.4%,#121212 14.8%,#0f0f0f 16.7%,#161616 19.7%,#1e1e1e 54.2%,#363636 65.8%,#393939 71.2%,#2e2e2e 83.3%,#2c2c2c 96.7%,#202020 100%)"></i>
<i style="background:linear-gradient(90deg,#ffffff 0%,#fbfbfb 0.9%,#e3e3e3 1.5%,#717171 2.7%,#3e3e3e 3.3%,#353535 3.9%,#494949 4.5%,#313131 5.2%,#232323 5.8%,#373737 6.4%,#3c3c3c 7%,#292929 7.6%,#242424 8.2%,#3a3a3a 9.4%,#252525 10.6%,#242424 11.2%,#333333 12.4%,#2e2e2e 13%,#171717 14.2%,#101010 15.5%,#161616 54.2%,#2b2b2b 58.5%,#414141 66.4%,#454545 70.6%,#323232 83.9%,#2f2f2f 97.3%,#1f1f1f 100%)"></i>
<i style="background:linear-gradient(90deg,#ffffff 0%,#fcfcfc 0.9%,#e5e5e5 1.5%,#414141 3.3%,#333333 3.9%,#494949 4.5%,#232323 5.8%,#363636 6.4%,#3e3e3e 7%,#2b2b2b 7.6%,#242424 8.2%,#3a3a3a 9.4%,#272727 10.6%,#242424 11.2%,#343434 12.4%,#2f2f2f 13%,#171717 14.2%,#101010 15.5%,#141414 31.8%,#1c1c1c 34.8%,#1d1d1d 54.2%,#424242 65.8%,#474747 71.2%,#2a2a2a 83.3%,#252525 97.3%,#1a1a1a 100%)"></i>
<i style="background:linear-gradient(90deg,#ffffff 0%,#fcfcfc 0.9%,#e8e8e8 1.5%,#454545 3.3%,#323232 3.9%,#484848 4.5%,#232323 5.8%,#3f3f3f 7%,#2d2d2d 7.6%,#252525 8.2%,#3a3a3a 9.4%,#363636 10%,#282828 10.6%,#252525 11.2%,#353535 12.4%,#313131 13%,#191919 14.2%,#101010 15.5%,#161616 19.7%,#181818 31.8%,#1a1a1a 32.4%,#303030 34.2%,#313131 34.8%,#313131 54.8%,#3a3a3a 59.7%,#4e4e4e 65.8%,#494949 67.6%,#4e4e4e 71.2%,#474747 74.8%,#242424 83.9%,#202020 96.7%,#191919 100%)"></i>
<i style="background:linear-gradient(90deg,#ffffff 0%,#fdfdfd 0.9%,#ececec 1.5%,#bababa 2.1%,#494949 3.3%,#303030 3.9%,#474747 4.5%,#242424 5.8%,#404040 7%,#2f2f2f 7.6%,#262626 8.2%,#3a3a3a 9.4%,#373737 10%,#2a2a2a 10.6%,#262626 11.2%,#353535 12.4%,#323232 13%,#191919 14.2%,#101010 15.5%,#141414 31.8%,#161616 32.4%,#373737 34.2%,#393939 34.8%,#3a3a3a 56.1%,#424242 59.7%,#595959 65.8%,#525252 67.6%,#575757 70.6%,#535353 73.6%,#272727 82.1%,#1d1d1d 85.2%,#151515 100%)"></i>
<i style="background:linear-gradient(90deg,#ffffff 0%,#fefefe 0.9%,#f1f1f1 1.5%,#bfbfbf 2.1%,#4d4d4d 3.3%,#2e2e2e 3.9%,#454545 4.5%,#3c3c3c 5.2%,#242424 5.8%,#414141 7%,#272727 8.2%,#3a3a3a 9.4%,#393939 10%,#2c2c2c 10.6%,#262626 11.2%,#363636 12.4%,#343434 13%,#191919 14.2%,#101010 15.5%,#121212 31.8%,#141414 32.4%,#383838 34.2%,#3a3a3a 34.8%,#3b3b3b 55.5%,#444444 59.1%,#616161 65.8%,#5c5c5c 73.6%,#2e2e2e 85.2%,#282828 97.9%,#1b1b1b 100%)"></i>
<i style="background:linear-gradient(90deg,#ffffff 0%,#ffffff 0.9%,#f4f4f4 1.5%,#c4c4c4 2.1%,#515151 3.3%,#2f2f2f 3.9%,#434343 4.5%,#3f3f3f 5.2%,#252525 5.8%,#2f2f2f 6.4%,#414141 7%,#282828 8.2%,#2d2d2d 8.8%,#3a3a3a 9.4%,#3a3a3a 10%,#272727 11.2%,#363636 12.4%,#353535 13%,#1a1a1a 14.2%,#101010 15.5%,#131313 31.8%,#151515 32.4%,#343434 34.2%,#363636 34.8%,#393939 55.5%,#454545 59.1%,#676767 65.8%,#515151 83.9%,#4c4c4c 97.3%,#434343 98.5%,#2a2a2a 99.7%,#2a2a2a 100%)"></i>
<i style="background:linear-gradient(90deg,#ffffff 0%,#ffffff 0.9%,#f6f6f6 1.5%,#c9c9c9 2.1%,#565656 3.3%,#313131 3.9%,#424242 4.5%,#424242 5.2%,#272727 5.8%,#2d2d2d 6.4%,#414141 7%,#292929 8.2%,#2d2d2d 8.8%,#3a3a3a 9.4%,#3c3c3c 10%,#282828 11.2%,#363636 12.4%,#363636 13%,#1b1b1b 14.2%,#101010 15.5%,#1a1a1a 21.5%,#181818 32.4%,#262626 34.8%,#282828 54.2%,#353535 57.9%,#696969 65.8%,#5a5a5a 77.9%,#545454 97.3%,#4a4a4a 98.5%,#2e2e2e 99.7%,#2e2e2e 100%)"></i>
<i style="background:linear-gradient(90deg,#ffffff 0%,#ffffff 0.9%,#f7f7f7 1.5%,#cdcdcd 2.1%,#5c5c5c 3.3%,#343434 3.9%,#404040 4.5%,#444444 5.2%,#282828 5.8%,#2c2c2c 6.4%,#414141 7%,#393939 7.6%,#2b2b2b 8.2%,#2d2d2d 8.8%,#393939 9.4%,#3d3d3d 10%,#292929 11.2%,#373737 13%,#1c1c1c 14.2%,#101010 15.5%,#101010 17.3%,#1d1d1d 19.1%,#262626 21.5%,#252525 31.2%,#151515 33.6%,#181818 53.6%,#2a2a2a 57.9%,#616161 63.9%,#6c6c6c 65.8%,#626262 68.8%,#5a5a5a 77.9%,#545454 97.3%,#4a4a4a 98.5%,#2e2e2e 99.7%,#2e2e2e 100%)"></i>
<i style="background:linear-gradient(90deg,#ffffff 0%,#ffffff 0.9%,#f8f8f8 1.5%,#d1d1d1 2.1%,#616161 3.3%,#363636 3.9%,#464646 5.2%,#2a2a2a 5.8%,#2b2b2b 6.4%,#404040 7%,#3c3c3c 7.6%,#2d2d2d 8.2%,#2d2d2d 8.8%,#3e3e3e 10%,#2b2b2b 11.2%,#383838 13%,#131313 14.8%,#101010 15.5%,#111111 17.3%,#252525 19.7%,#2d2d2d 22.1%,#2b2b2b 31.2%,#2a2a2a 31.8%,#131313 33.6%,#121212 34.2%,#161616 53.6%,#252525 57.3%,#5f5f5f 63.3%,#6f6f6f 65.8%,#656565 68.2%,#565656 81.5%,#4f4f4f 97.3%,#464646 98.5%,#2b2b2b 99.7%,#2b2b2b 100%)"></i>
<i style="background:linear-gradient(90deg,#ffffff 0%,#ffffff 0.9%,#f8f8f8 1.5%,#d5d5d5 2.1%,#666666 3.3%,#393939 3.9%,#3b3b3b 4.5%,#484848 5.2%,#2d2d2d 5.8%,#2a2a2a 6.4%,#3f3f3f 7%,#3e3e3e 7.6%,#2e2e2e 8.2%,#2d2d2d 8.8%,#3f3f3f 10%,#2c2c2c 11.2%,#393939 13%,#131313 14.8%,#101010 15.5%,#111111 17.3%,#262626 19.7%,#2e2e2e 22.1%,#2c2c2c 31.2%,#2b2b2b 31.8%,#151515 33.6%,#151515 34.2%,#191919 53.6%,#282828 57.3%,#666666 63.9%,#717171 66.4%,#646464 76.7%,#454545 80.9%,#3c3c3c 83.9%,#333333 97.9%,#212121 100%)"></i>
<i style="background:linear-gradient(90deg,#ffffff 0%,#f9f9f9 1.5%,#d9d9d9 2.1%,#6b6b6b 3.3%,#3d3d3d 3.9%,#393939 4.5%,#494949 5.2%,#2f2f2f 5.8%,#292929 6.4%,#3e3e3e 7%,#404040 7.6%,#303030 8.2%,#2d2d2d 8.8%,#3f3f3f 10%,#2d2d2d 11.2%,#2d2d2d 11.8%,#393939 13%,#141414 14.8%,#101010 15.5%,#111111 17.3%,#272727 19.7%,#2f2f2f 21.5%,#2e2e2e 31.2%,#212121 33.6%,#252525 34.8%,#2b2b2b 54.2%,#3f3f3f 59.1%,#727272 65.8%,#797979 70%,#777777 73.6%,#6d6d6d 76.7%,#5f5f5f 77.9%,#303030 80.3%,#252525 81.5%,#161616 100%)"></i>
<i style="background:linear-gradient(90deg,#ffffff 0%,#fafafa 1.5%,#dedede 2.1%,#717171 3.3%,#404040 3.9%,#363636 4.5%,#494949 5.2%,#323232 5.8%,#292929 6.4%,#3c3c3c 7%,#424242 7.6%,#323232 8.2%,#2e2e2e 8.8%,#404040 10%,#2e2e2e 11.2%,#2e2e2e 11.8%,#3a3a3a 13%,#313131 13.6%,#141414 14.8%,#101010 15.5%,#111111 17.3%,#2e2e2e 19.7%,#363636 21.5%,#353535 31.2%,#2e2e2e 33%,#3d3d3d 34.8%,#454545 56.1%,#525252 62.1%,#696969 64.5%,#727272 66.4%,#787878 70.6%,#757575 74.2%,#676767 77.3%,#2f2f2f 80.3%,#242424 81.5%,#161616 100%)"></i>
<i style="background:linear-gradient(90deg,#ffffff 0%,#fbfbfb 1.5%,#e2e2e2 2.1%,#444444 3.9%,#343434 4.5%,#494949 5.2%,#353535 5.8%,#292929 6.4%,#3b3b3b 7%,#434343 7.6%,#343434 8.2%,#2e2e2e 8.8%,#404040 10%,#303030 11.2%,#2e2e2e 11.8%,#3a3a3a 13%,#333333 13.6%,#151515 14.8%,#111111 15.5%,#111111 17.3%,#161616 17.9%,#3a3a3a 19.7%,#424242 20.9%,#424242 31.2%,#3b3b3b 33.6%,#454545 34.8%,#505050 61.5%,#545454 62.7%,#686868 65.2%,#6b6b6b 66.4%,#666666 74.8%,#5e5e5e 77.3%,#424242 80.9%,#3c3c3c 82.7%,#333333 87.6%,#313131 97.3%,#1f1f1f 100%)"></i>
<i style="background:linear-gradient(90deg,#ffffff 0%,#fcfcfc 1.5%,#e6e6e6 2.1%,#474747 3.9%,#323232 4.5%,#494949 5.2%,#292929 6.4%,#444444 7.6%,#2f2f2f 8.8%,#404040 10%,#2f2f2f 11.8%,#3a3a3a 13%,#343434 13.6%,#151515 14.8%,#111111 15.5%,#151515 17.9%,#414141 19.7%,#4a4a4a 20.9%,#494949 31.8%,#3d3d3d 33.6%,#464646 34.8%,#4f4f4f 62.1%,#636363 65.8%,#585858 68.8%,#4d4d4d 97.3%,#4b4b4b 97.9%,#2c2c2c 99.7%,#2c2c2c 100%)"></i>
<i style="background:linear-gradient(90deg,#ffffff 0%,#fdfdfd 1.5%,#eaeaea 2.1%,#b9b9b9 2.7%,#4c4c4c 3.9%,#313131 4.5%,#474747 5.2%,#2a2a2a 6.4%,#454545 7.6%,#303030 8.8%,#404040 10%,#2f2f2f 11.8%,#3a3a3a 13%,#353535 13.6%,#161616 14.8%,#111111 15.5%,#131313 17.9%,#1f1f1f 18.5%,#424242 19.7%,#4b4b4b 20.9%,#4a4a4a 31.8%,#3d3d3d 33.6%,#464646 34.8%,#4f4f4f 62.7%,#5f5f5f 65.8%,#555555 69.4%,#4f4f4f 97.3%,#4d4d4d 97.9%,#2d2d2d 99.7%,#2d2d2d 100%)"></i>
<i style="background:linear-gradient(90deg,#ffffff 0%,#fdfdfd 1.5%,#eeeeee 2.1%,#bfbfbf 2.7%,#545454 3.9%,#343434 4.5%,#454545 5.2%,#404040 5.8%,#2b2b2b 6.4%,#464646 7.6%,#313131 8.8%,#3f3f3f 10%,#404040 10.6%,#303030 11.8%,#3a3a3a 13%,#373737 13.6%,#171717 14.8%,#111111 15.5%,#131313 17.9%,#1e1e1e 18.5%,#424242 19.7%,#4b4b4b 20.9%,#4a4a4a 31.8%,#3d3d3d 33.6%,#464646 34.8%,#4c4c4c 60.3%,#535353 62.7%,#646464 65.2%,#676767 67%,#626262 69.4%,#616161 74.8%,#4a4a4a 85.2%,#484848 97.3%,#464646 97.9%,#292929 99.7%,#292929 100%)"></i>
<i style="background:linear-gradient(90deg,#ffffff 0%,#fefefe 1.5%,#f2f2f2 2.1%,#c6c6c6 2.7%,#606060 3.9%,#3b3b3b 4.5%,#454545 5.8%,#2e2e2e 6.4%,#333333 7%,#454545 7.6%,#323232 8.8%,#414141 10.6%,#313131 11.8%,#383838 13.6%,#191919 14.8%,#101010 16.1%,#131313 17.9%,#1e1e1e 18.5%,#424242 19.7%,#4b4b4b 20.9%,#4a4a4a 31.8%,#3b3b3b 33.6%,#424242 34.8%,#4a4a4a 60.3%,#545454 62.1%,#808080 65.2%,#858585 65.8%,#9e9e9e 73%,#848484 84.5%,#828282 97.3%,#7e7e7e 97.9%,#434343 99.7%,#434343 100%)"></i>
<i style="background:linear-gradient(90deg,#ffffff 0%,#ffffff 1.5%,#f6f6f6 2.1%,#cdcdcd 2.7%,#6b6b6b 3.9%,#444444 4.5%,#3e3e3e 5.2%,#494949 5.8%,#323232 6.4%,#303030 7%,#434343 7.6%,#424242 8.2%,#343434 8.8%,#333333 9.4%,#424242 10.6%,#323232 11.8%,#393939 13.6%,#1b1b1b 14.8%,#111111 16.1%,#131313 17.9%,#1e1e1e 18.5%,#424242 19.7%,#4b4b4b 20.9%,#4a4a4a 31.8%,#484848 32.4%,#303030 33.6%,#2c2c2c 34.2%,#303030 53.6%,#353535 59.1%,#555555 62.1%,#9f9f9f 65.2%,#a8a8a8 65.8%,#e9e9e9 73%,#e7e7e7 97.3%,#e0e0e0 97.9%,#6f6f6f 99.7%,#6f6f6f 100%)"></i>
<i style="background:linear-gradient(90deg,#ffffff 0%,#ffffff 1.5%,#f7f7f7 2.1%,#d2d2d2 2.7%,#4d4d4d 4.5%,#3d3d3d 5.2%,#4b4b4b 5.8%,#373737 6.4%,#2f2f2f 7%,#404040 7.6%,#454545 8.2%,#373737 8.8%,#323232 9.4%,#424242 10.6%,#333333 11.8%,#323232 12.4%,#393939 13.6%,#2f2f2f 14.2%,#1d1d1d 14.8%,#131313 15.5%,#111111 16.1%,#131313 17.9%,#1e1e1e 18.5%,#424242 19.7%,#494949 20.3%,#4c4c4c 21.5%,#484848 32.4%,#3a3a3a 33%,#252525 33.6%,#191919 34.2%,#171717 34.8%,#1b1b1b 58.5%,#1f1f1f 59.1%,#494949 60.9%,#555555 62.1%,#a6a6a6 65.2%,#cbcbcb 68.2%,#f9f9f9 73%,#fefefe 97.3%,#f6f6f6 97.9%,#797979 99.7%,#797979 100%)"></i>
<i style="background:linear-gradient(90deg,#ffffff 0%,#ffffff 1.5%,#f8f8f8 2.1%,#d7d7d7 2.7%,#565656 4.5%,#414141 5.2%,#4c4c4c 5.8%,#2f2f2f 7%,#474747 8.2%,#323232 9.4%,#424242 10.6%,#313131 12.4%,#393939 13.6%,#323232 14.2%,#141414 15.5%,#111111 16.1%,#131313 17.9%,#1e1e1e 18.5%,#424242 19.7%,#494949 20.3%,#4c4c4c 21.5%,#484848 32.4%,#151515 34.2%,#121212 34.8%,#151515 58.5%,#181818 59.1%,#474747 60.9%,#535353 62.1%,#a6a6a6 65.2%,#cbcbcb 68.2%,#fafafa 73%,#fefefe 97.3%,#f7f7f7 97.9%,#797979 99.7%,#797979 100%)"></i>
<i style="background:linear-gradient(90deg,#ffffff 0%,#ffffff 1.5%,#f9f9f9 2.1%,#dcdcdc 2.7%,#606060 4.5%,#454545 5.2%,#4a4a4a 5.8%,#434343 6.4%,#313131 7%,#474747 8.2%,#333333 9.4%,#414141 10.6%,#414141 11.2%,#313131 12.4%,#393939 13.6%,#343434 14.2%,#161616 15.5%,#111111 16.1%,#131313 17.9%,#1e1e1e 18.5%,#434343 19.7%,#4a4a4a 20.3%,#4d4d4d 21.5%,#4a4a4a 32.4%,#1a1a1a 34.2%,#171717 34.8%,#171717 59.1%,#3a3a3a 60.9%,#444444 62.1%,#676767 63.3%,#a5a5a5 65.2%,#afafaf 65.8%,#f1f1f1 71.8%,#fafafa 73%,#fefefe 97.3%,#f7f7f7 97.9%,#797979 99.7%,#797979 100%)"></i>
<i style="background:linear-gradient(90deg,#ffffff 0%,#ffffff 1.5%,#fafafa 2.1%,#e0e0e0 2.7%,#696969 4.5%,#4b4b4b 5.2%,#494949 6.4%,#343434 7%,#383838 7.6%,#474747 8.2%,#343434 9.4%,#424242 11.2%,#323232 12.4%,#363636 14.2%,#181818 15.5%,#111111 16.7%,#131313 17.9%,#1f1f1f 18.5%,#484848 19.7%,#505050 20.3%,#565656 22.7%,#555555 31.8%,#545454 32.4%,#383838 34.2%,#353535 45.2%,#1a1a1a 59.7%,#2a2a2a 62.1%,#555555 63.3%,#a4a4a4 65.2%,#afafaf 65.8%,#f1f1f1 71.8%,#f9f9f9 73%,#fefefe 97.3%,#f7f7f7 97.9%,#797979 99.7%,#797979 100%)"></i>
<i style="background:linear-gradient(90deg,#ffffff 0%,#fbfbfb 2.1%,#e3e3e3 2.7%,#727272 4.5%,#525252 5.2%,#4b4b4b 5.8%,#4d4d4d 6.4%,#373737 7%,#363636 7.6%,#454545 8.2%,#434343 8.8%,#353535 9.4%,#343434 10%,#434343 11.2%,#333333 12.4%,#373737 14.2%,#1a1a1a 15.5%,#111111 16.7%,#131313 17.9%,#1f1f1f 18.5%,#4e4e4e 19.7%,#5b5b5b 20.9%,#606060 23.3%,#5d5d5d 33%,#686868 34.2%,#6c6c6c 37.9%,#646464 45.8%,#252525 58.5%,#171717 59.7%,#161616 61.5%,#1a1a1a 62.1%,#303030 62.7%,#a1a1a1 65.2%,#adadad 65.8%,#c8c8c8 68.2%,#f6f6f6 73%,#fbfbfb 97.3%,#f3f3f3 97.9%,#777777 99.7%,#777777 100%)"></i>
<i style="background:linear-gradient(90deg,#ffffff 0%,#fbfbfb 2.1%,#e7e7e7 2.7%,#595959 5.2%,#4d4d4d 5.8%,#515151 6.4%,#3c3c3c 7%,#353535 7.6%,#434343 8.2%,#464646 8.8%,#383838 9.4%,#333333 10%,#434343 11.2%,#303030 13%,#373737 14.2%,#1c1c1c 15.5%,#111111 16.7%,#131313 17.9%,#202020 18.5%,#535353 19.7%,#626262 20.9%,#686868 22.7%,#696969 33%,#868686 34.2%,#8c8c8c 37.9%,#808080 45.8%,#5d5d5d 51.2%,#373737 58.5%,#212121 60.3%,#202020 61.5%,#242424 62.1%,#353535 62.7%,#919191 65.2%,#c8c8c8 73%,#cccccc 97.3%,#c6c6c6 97.9%,#646464 99.7%,#646464 100%)"></i>
<i style="background:linear-gradient(90deg,#ffffff 0%,#fcfcfc 2.1%,#eaeaea 2.7%,#616161 5.2%,#505050 5.8%,#535353 6.4%,#353535 7.6%,#484848 8.8%,#333333 10%,#434343 11.2%,#303030 13%,#373737 14.2%,#303030 14.8%,#151515 16.1%,#111111 16.7%,#131313 17.9%,#202020 18.5%,#545454 19.7%,#636363 20.9%,#6a6a6a 22.7%,#6c6c6c 33%,#8a8a8a 34.2%,#919191 37.9%,#888888 45.2%,#787878 47.6%,#6d6d6d 56.7%,#5f5f5f 60.3%,#606060 62.1%,#767676 65.2%,#454545 67%,#373737 68.2%,#3f3f3f 73%,#424242 97.3%,#414141 97.9%,#292929 100%)"></i>
<i style="background:linear-gradient(90deg,#ffffff 0%,#fcfcfc 2.1%,#ededed 2.7%,#686868 5.2%,#545454 5.8%,#565656 6.4%,#373737 7.6%,#494949 8.8%,#343434 10%,#424242 11.2%,#424242 11.8%,#303030 13%,#363636 14.2%,#323232 14.8%,#161616 16.1%,#121212 16.7%,#131313 17.9%,#202020 18.5%,#545454 19.7%,#636363 20.9%,#6a6a6a 22.7%,#6c6c6c 33%,#8b8b8b 34.2%,#919191 37.9%,#888888 45.2%,#797979 47.6%,#8c8c8c 56.1%,#8e8e8e 64.5%,#8a8a8a 65.2%,#535353 66.4%,#3e3e3e 67%,#313131 67.6%,#2d2d2d 68.2%,#333333 97.3%,#2e2e2e 98.5%,#202020 100%)"></i>
<i style="background:linear-gradient(90deg,#ffffff 0%,#fdfdfd 2.1%,#efefef 2.7%,#6f6f6f 5.2%,#595959 5.8%,#585858 6.4%,#4e4e4e 7%,#393939 7.6%,#3b3b3b 8.2%,#484848 8.8%,#353535 10%,#434343 11.8%,#303030 13%,#343434 14.8%,#181818 16.1%,#121212 16.7%,#131313 17.9%,#202020 18.5%,#545454 19.7%,#636363 20.9%,#6a6a6a 22.7%,#6c6c6c 33%,#8b8b8b 34.2%,#919191 37.9%,#888888 45.2%,#797979 47.6%,#8e8e8e 56.1%,#939393 64.5%,#939393 65.2%,#848484 66.4%,#7b7b7b 68.2%,#848484 74.8%,#858585 97.3%,#838383 97.9%,#747474 98.5%,#424242 99.7%,#424242 100%)"></i>
<i style="background:linear-gradient(90deg,#ffffff 0%,#fdfdfd 2.1%,#f2f2f2 2.7%,#767676 5.2%,#5f5f5f 5.8%,#545454 7%,#3d3d3d 7.6%,#3a3a3a 8.2%,#464646 8.8%,#444444 9.4%,#373737 10%,#353535 10.6%,#444444 11.8%,#313131 13%,#2d2d2d 13.6%,#353535 14.8%,#1a1a1a 16.1%,#111111 17.3%,#131313 17.9%,#202020 18.5%,#545454 19.7%,#636363 20.9%,#6a6a6a 22.7%,#6c6c6c 33%,#8a8a8a 34.2%,#919191 37.9%,#888888 45.2%,#797979 47.6%,#7c7c7c 56.1%,#737373 60.3%,#747474 62.7%,#797979 64.5%,#959595 67%,#a2a2a2 74.2%,#a3a3a3 97.3%,#a0a0a0 97.9%,#8e8e8e 98.5%,#4f4f4f 99.7%,#4f4f4f 100%)"></i>
<i style="background:linear-gradient(90deg,#ffffff 0%,#fefefe 2.1%,#f6f6f6 2.7%,#676767 5.8%,#5d5d5d 6.4%,#5c5c5c 7%,#454545 7.6%,#393939 8.2%,#474747 9.4%,#3a3a3a 10%,#353535 10.6%,#444444 11.8%,#3f3f3f 12.4%,#2b2b2b 13.6%,#353535 14.8%,#2e2e2e 15.5%,#141414 16.7%,#111111 17.3%,#131313 17.9%,#202020 18.5%,#545454 19.7%,#636363 20.9%,#6a6a6a 22.7%,#6b6b6b 33%,#868686 34.2%,#8c8c8c 37.9%,#838383 45.2%,#717171 48.2%,#454545 58.5%,#333333 60.3%,#343434 63.9%,#656565 67%,#6e6e6e 74.8%,#6e6e6e 97.3%,#6c6c6c 97.9%,#606060 98.5%,#383838 99.7%,#383838 100%)"></i>
<i style="background:linear-gradient(90deg,#ffffff 0%,#ffffff 2.1%,#fafafa 2.7%,#e3e3e3 3.3%,#717171 5.8%,#626262 6.4%,#616161 7%,#3c3c3c 8.2%,#3e3e3e 8.8%,#494949 9.4%,#353535 10.6%,#424242 11.8%,#424242 12.4%,#2b2b2b 13.6%,#2a2a2a 14.2%,#333333 14.8%,#333333 15.5%,#171717 16.7%,#121212 17.3%,#131313 17.9%,#202020 18.5%,#545454 19.7%,#636363 20.9%,#6a6a6a 22.7%,#6c6c6c 31.8%,#676767 33%,#686868 38.5%,#616161 45.2%,#272727 58.5%,#161616 60.3%,#151515 63.9%,#202020 67%,#222222 74.8%,#222222 97.3%,#191919 100%)"></i>
<i style="background:linear-gradient(90deg,#ffffff 0%,#fbfbfb 2.7%,#e9e9e9 3.3%,#7c7c7c 5.8%,#696969 6.4%,#5e5e5e 7.6%,#434343 8.2%,#3b3b3b 8.8%,#464646 9.4%,#454545 10%,#383838 10.6%,#363636 11.2%,#444444 12.4%,#2c2c2c 13.6%,#262626 14.2%,#353535 15.5%,#131313 17.3%,#131313 17.9%,#202020 18.5%,#545454 19.7%,#626262 20.9%,#696969 22.7%,#6b6b6b 31.8%,#696969 32.4%,#5e5e5e 33%,#2b2b2b 34.2%,#242424 34.8%,#232323 45.8%,#0e0e0e 60.3%,#131313 68.8%,#151515 100%)"></i>
<i style="background:linear-gradient(90deg,#ffffff 0%,#fdfdfd 2.7%,#efefef 3.3%,#878787 5.8%,#727272 6.4%,#696969 7%,#676767 7.6%,#3b3b3b 8.8%,#494949 10%,#353535 11.2%,#434343 12.4%,#3f3f3f 13%,#232323 14.2%,#343434 15.5%,#303030 16.1%,#161616 17.3%,#141414 17.9%,#202020 18.5%,#515151 19.7%,#5b5b5b 20.3%,#646464 23.3%,#636363 32.4%,#545454 33%,#303030 33.6%,#131313 34.2%,#0d0d0d 34.8%,#0c0c0c 64.5%,#212121 68.8%,#2e2e2e 97.3%,#1e1e1e 100%)"></i>
<i style="background:linear-gradient(90deg,#ffffff 0%,#fefefe 2.7%,#f4f4f4 3.3%,#7c7c7c 6.4%,#6e6e6e 7%,#6c6c6c 7.6%,#5d5d5d 8.2%,#414141 8.8%,#3d3d3d 9.4%,#484848 10%,#373737 11.2%,#424242 13%,#232323 14.2%,#232323 14.8%,#303030 15.5%,#343434 16.1%,#191919 17.3%,#151515 17.9%,#202020 18.5%,#4e4e4e 19.7%,#585858 20.9%,#5c5c5c 23.3%,#5b5b5b 32.4%,#4f4f4f 33%,#303030 33.6%,#171717 34.2%,#121212 34.8%,#131313 64.5%,#1e1e1e 97.3%,#171717 100%)"></i>
<i style="background:linear-gradient(90deg,#ffffff 0%,#fefefe 2.7%,#f8f8f8 3.3%,#868686 6.4%,#757575 7%,#696969 8.2%,#4d4d4d 8.8%,#3c3c3c 9.4%,#474747 10.6%,#3b3b3b 11.2%,#363636 11.8%,#434343 13%,#393939 13.6%,#262626 14.2%,#1f1f1f 14.8%,#353535 16.1%,#161616 17.9%,#202020 18.5%,#4e4e4e 19.7%,#555555 20.3%,#5a5a5a 23.3%,#595959 32.4%,#525252 33%,#424242 33.6%,#383838 34.2%,#373737 34.8%,#363636 63.3%,#3a3a3a 65.8%,#272727 67.6%,#262626 68.2%,#2a2a2a 97.3%,#1c1c1c 100%)"></i>
<i style="background:linear-gradient(90deg,#ffffff 0%,#fcfcfc 3.3%,#ebebeb 3.9%,#929292 6.4%,#757575 7.6%,#717171 8.2%,#5f5f5f 8.8%,#424242 9.4%,#3f3f3f 10%,#484848 10.6%,#373737 11.8%,#414141 13%,#3f3f3f 13.6%,#1e1e1e 14.8%,#232323 15.5%,#313131 16.1%,#333333 16.7%,#1a1a1a 17.9%,#212121 18.5%,#4e4e4e 19.7%,#555555 20.3%,#585858 21.5%,#5a5a5a 31.8%,#4f4f4f 33.6%,#545454 34.8%,#535353 45.8%,#595959 49.4%,#606060 63.3%,#676767 64.5%,#808080 66.4%,#7e7e7e 68.2%,#8e8e8e 74.8%,#8e8e8e 97.3%,#8c8c8c 97.9%,#7c7c7c 98.5%,#464646 99.7%,#464646 100%)"></i>
<i style="background:linear-gradient(90deg,#ffffff 0%,#fefefe 3.3%,#f4f4f4 3.9%,#8d8d8d 7%,#7e7e7e 7.6%,#6f6f6f 8.8%,#404040 10%,#484848 11.2%,#373737 12.4%,#414141 13.6%,#373737 14.2%,#232323 14.8%,#1d1d1d 15.5%,#343434 16.7%,#2f2f2f 17.3%,#222222 17.9%,#242424 18.5%,#4e4e4e 19.7%,#555555 20.3%,#585858 21.5%,#5a5a5a 31.8%,#525252 33.6%,#5a5a5a 34.8%,#585858 45.8%,#666666 49.4%,#7a7a7a 63.9%,#a9a9a9 67%,#c5c5c5 74.8%,#c5c5c5 97.3%,#c1c1c1 97.9%,#ababab 98.5%,#5d5d5d 99.7%,#5d5d5d 100%)"></i>
<i style="background:linear-gradient(90deg,#ffffff 0%,#fbfbfb 3.9%,#9a9a9a 7%,#7c7c7c 8.2%,#6a6a6a 9.4%,#4d4d4d 10%,#404040 10.6%,#484848 11.2%,#353535 13%,#3e3e3e 14.2%,#1e1e1e 15.5%,#202020 16.1%,#2e2e2e 16.7%,#353535 17.3%,#282828 18.5%,#4e4e4e 19.7%,#555555 20.3%,#585858 21.5%,#5a5a5a 31.8%,#525252 33.6%,#5a5a5a 34.8%,#585858 45.8%,#646464 49.4%,#767676 63.9%,#7d7d7d 64.5%,#aeaeae 67%,#cccccc 74.8%,#cccccc 97.3%,#c8c8c8 97.9%,#b1b1b1 98.5%,#606060 99.7%,#606060 100%)"></i>
<i style="background:linear-gradient(90deg,#ffffff 0%,#fdfdfd 3.9%,#f4f4f4 4.5%,#b8b8b8 6.4%,#868686 8.2%,#757575 9.4%,#626262 10%,#474747 10.6%,#434343 11.2%,#494949 11.8%,#343434 13%,#343434 13.6%,#3c3c3c 14.2%,#393939 14.8%,#262626 15.5%,#1c1c1c 16.1%,#323232 17.3%,#2f2f2f 18.5%,#4e4e4e 19.7%,#555555 20.3%,#595959 22.1%,#5a5a5a 31.8%,#525252 33.6%,#5a5a5a 34.8%,#5c5c5c 63.9%,#656565 64.5%,#929292 66.4%,#9a9a9a 67%,#b2b2b2 74.8%,#b3b3b3 97.3%,#afafaf 97.9%,#9c9c9c 98.5%,#565656 99.7%,#565656 100%)"></i>
<i style="background:linear-gradient(90deg,#ffffff 0%,#fbfbfb 4.5%,#828282 8.8%,#727272 10%,#444444 11.2%,#474747 12.4%,#2e2e2e 13.6%,#3c3c3c 14.8%,#333333 15.5%,#222222 16.1%,#1e1e1e 16.7%,#353535 17.9%,#373737 18.5%,#555555 20.3%,#5a5a5a 23.3%,#5a5a5a 31.8%,#505050 33.6%,#575757 34.8%,#505050 63.3%,#5c5c5c 65.8%,#414141 67.6%,#3f3f3f 68.2%,#464646 74.8%,#474747 97.3%,#414141 98.5%,#2b2b2b 99.7%,#2b2b2b 100%)"></i>
<i style="background:linear-gradient(90deg,#ffffff 0%,#fefefe 4.5%,#f9f9f9 5.2%,#8f8f8f 8.8%,#808080 9.4%,#6e6e6e 10.6%,#545454 11.2%,#434343 11.8%,#474747 12.4%,#434343 13%,#313131 13.6%,#282828 14.2%,#3b3b3b 15.5%,#202020 16.7%,#202020 17.3%,#393939 18.5%,#4e4e4e 20.3%,#515151 31.8%,#515151 32.4%,#444444 33.6%,#3f3f3f 65.2%,#3a3a3a 65.8%,#1f1f1f 67%,#191919 68.2%,#1d1d1d 97.3%,#171717 100%)"></i>
<i style="background:linear-gradient(90deg,#ffffff 0%,#ffffff 4.5%,#f6f6f6 5.8%,#8c8c8c 9.4%,#6a6a6a 11.2%,#4f4f4f 11.8%,#434343 12.4%,#464646 13%,#3d3d3d 13.6%,#282828 14.2%,#242424 14.8%,#343434 15.5%,#3a3a3a 16.1%,#1d1d1d 17.3%,#202020 17.9%,#393939 19.1%,#2d2d2d 21.5%,#2c2c2c 32.4%,#222222 33.6%,#1e1e1e 34.8%,#1d1d1d 65.2%,#232323 68.8%,#272727 97.3%,#1b1b1b 100%)"></i>
<i style="background:linear-gradient(90deg,#ffffff 0%,#ffffff 5.2%,#f4f4f4 6.4%,#8a8a8a 10%,#757575 11.2%,#646464 11.8%,#4b4b4b 12.4%,#414141 13%,#424242 13.6%,#202020 14.8%,#242424 15.5%,#343434 16.1%,#353535 16.7%,#181818 17.9%,#1e1e1e 18.5%,#2c2c2c 19.1%,#2f2f2f 19.7%,#161616 20.9%,#0e0e0e 22.1%,#0e0e0e 64.5%,#101010 65.2%,#1a1a1a 65.8%,#545454 67.6%,#5d5d5d 68.2%,#5f5f5f 68.8%,#656565 97.3%,#646464 97.9%,#595959 98.5%,#353535 99.7%,#353535 100%)"></i>
<i style="background:linear-gradient(90deg,#ffffff 0%,#fcfcfc 6.4%,#e4e4e4 7.6%,#898989 10.6%,#727272 11.8%,#474747 13%,#3b3b3b 13.6%,#383838 14.2%,#1e1e1e 15.5%,#222222 16.1%,#2e2e2e 16.7%,#2d2d2d 17.3%,#161616 18.5%,#262626 19.7%,#262626 20.3%,#101010 21.5%,#090909 22.7%,#0d0d0d 64.5%,#0f0f0f 65.2%,#1a1a1a 65.8%,#595959 67.6%,#646464 68.2%,#666666 68.8%,#6c6c6c 97.3%,#6a6a6a 97.9%,#5f5f5f 98.5%,#383838 99.7%,#383838 100%)"></i>
<i style="background:linear-gradient(90deg,#ffffff 0%,#ffffff 6.4%,#f5f5f5 7.6%,#8d8d8d 11.2%,#737373 12.4%,#5f5f5f 13%,#444444 13.6%,#343434 14.2%,#323232 14.8%,#202020 16.1%,#2c2c2c 17.3%,#2c2c2c 17.9%,#1b1b1b 19.1%,#272727 20.3%,#282828 20.9%,#171717 22.1%,#121212 23.9%,#131313 28.2%,#1c1c1c 33%,#1e1e1e 64.5%,#232323 65.8%,#3d3d3d 68.2%,#414141 97.3%,#3b3b3b 98.5%,#272727 99.7%,#272727 100%)"></i>
<i style="background:linear-gradient(90deg,#ffffff 0%,#ffffff 7%,#f7f7f7 8.2%,#808080 13%,#525252 14.2%,#444444 14.8%,#444444 15.5%,#393939 16.7%,#424242 18.5%,#373737 19.7%,#3f3f3f 21.5%,#323232 23.3%,#313131 27.6%,#393939 28.8%,#4f4f4f 30.6%,#5c5c5c 33%,#4d4d4d 34.8%,#565656 64.5%,#4e4e4e 65.8%,#262626 67.6%,#1e1e1e 68.8%,#1f1f1f 97.3%,#181818 100%)"></i>
<i style="background:linear-gradient(90deg,#ffffff 0%,#ffffff 7.6%,#fafafa 8.8%,#989898 13.6%,#737373 14.8%,#6a6a6a 15.5%,#626262 17.3%,#676767 19.1%,#626262 20.3%,#666666 22.1%,#5f5f5f 23.9%,#5e5e5e 27.6%,#686868 28.8%,#828282 30.6%,#8f8f8f 32.4%,#8f8f8f 33%,#6f6f6f 34.2%,#6c6c6c 34.8%,#777777 64.5%,#767676 65.2%,#6a6a6a 65.8%,#444444 67%,#353535 67.6%,#2d2d2d 68.2%,#2d2d2d 97.3%,#1d1d1d 100%)"></i>
<i style="background:linear-gradient(90deg,#ffffff 0%,#fcfcfc 9.4%,#d5d5d5 12.4%,#999999 16.1%,#909090 17.9%,#8e8e8e 27.6%,#a9a9a9 30.6%,#b2b2b2 32.4%,#afafaf 33%,#767676 34.2%,#707070 34.8%,#7d7d7d 64.5%,#7c7c7c 65.2%,#6a6a6a 66.4%,#6a6a6a 67%,#7c7c7c 68.2%,#7e7e7e 68.8%,#808080 97.3%,#7e7e7e 97.9%,#707070 98.5%,#404040 99.7%,#404040 100%)"></i>
<i style="background:linear-gradient(90deg,#ffffff 0%,#fcfcfc 10.6%,#cccccc 16.1%,#bebebe 18.5%,#bdbdbd 27.6%,#d2d2d2 32.4%,#cbcbcb 33%,#787878 34.2%,#707070 34.8%,#7d7d7d 64.5%,#7c7c7c 65.2%,#6e6e6e 66.4%,#737373 67%,#8f8f8f 68.2%,#929292 68.8%,#959595 97.3%,#929292 97.9%,#828282 98.5%,#494949 99.7%,#494949 100%)"></i>
<i style="background:linear-gradient(90deg,#ffffff 0%,#fefefe 11.2%,#e7e7e7 19.7%,#e7e7e7 27.6%,#efefef 32.4%,#e4e4e4 33%,#737373 34.2%,#686868 34.8%,#707070 64.5%,#636363 66.4%,#676767 67%,#7d7d7d 68.2%,#7f7f7f 68.8%,#818181 97.3%,#7f7f7f 97.9%,#717171 98.5%,#404040 99.7%,#404040 100%)"></i>
<i style="background:linear-gradient(90deg,#ffffff 0%,#fdfdfd 32.4%,#ededed 33%,#545454 34.2%,#444444 34.8%,#3d3d3d 64.5%,#343434 67%,#303030 97.3%,#1e1e1e 100%)"></i>
<i style="background:linear-gradient(90deg,#ffffff 0%,#ffffff 32.4%,#efefef 33%,#5c5c5c 34.2%,#4d4d4d 34.8%,#2d2d2d 97.3%,#1d1d1d 100%)"></i>
<i style="background:linear-gradient(90deg,#ffffff 0%,#ffffff 32.4%,#f7f7f7 33%,#a8a8a8 34.2%,#a1a1a1 34.8%,#999999 79.7%,#777777 83.9%,#717171 97.9%,#656565 98.5%,#3a3a3a 99.7%,#3a3a3a 100%)"></i>
<i style="background:linear-gradient(90deg,#ffffff 0%,#ffffff 32.4%,#efefef 34.8%,#efefef 66.4%,#eaeaea 79.7%,#b3b3b3 83.9%,#aaaaaa 97.9%,#969696 98.5%,#535353 99.7%,#535353 100%)"></i>
<i style="background:linear-gradient(90deg,#ffffff 0%,#ffffff 66.4%,#fafafa 79.1%,#f4f4f4 80.3%,#c4c4c4 83.3%,#bfbfbf 83.9%,#b5b5b5 97.9%,#a0a0a0 98.5%,#575757 99.7%,#575757 100%)"></i>
<i style="background:linear-gradient(90deg,#ffffff 0%,#ffffff 66.4%,#fafafa 79.1%,#f4f4f4 80.3%,#c4c4c4 83.3%,#bfbfbf 83.9%,#b5b5b5 97.9%,#a0a0a0 98.5%,#575757 99.7%,#575757 100%)"></i>
<i style="background:linear-gradient(90deg,#ffffff 0%,#ffffff 66.4%,#fafafa 79.1%,#f4f4f4 80.3%,#c4c4c4 83.3%,#bfbfbf 83.9%,#b5b5b5 97.9%,#a0a0a0 98.5%,#575757 99.7%,#575757 100%)"></i>
<i style="background:linear-gradient(90deg,#ffffff 0%,#ffffff 66.4%,#fafafa 79.1%,#f4f4f4 80.3%,#c4c4c4 83.3%,#bfbfbf 83.9%,#b5b5b5 97.9%,#a0a0a0 98.5%,#575757 99.7%,#575757 100%)"></i></div>
<div class="sp" style="left:373px;top:231px;width:165px;height:166px"><i style="background:linear-gradient(90deg,#303030 0%,#393939 0.9%,#555555 1.5%,#3f3f3f 2.1%,#3b3b3b 2.7%,#616161 3.3%,#b3b3b3 3.9%,#c6c6c6 4.5%,#b5b5b5 5.2%,#6b6b6b 5.8%,#505050 6.4%,#464646 8.2%,#444444 10%,#2d2d2d 11.2%,#434343 12.4%,#454545 13%,#424242 15.5%,#303030 16.7%,#333333 19.1%,#2c2c2c 21.5%,#3d3d3d 23.3%,#333333 24.5%,#363636 25.2%,#454545 25.8%,#3e3e3e 27%,#444444 27.6%,#636363 28.8%,#5f5f5f 30%,#656565 30.6%,#646464 31.2%,#585858 34.2%,#5d5d5d 35.5%,#676767 36.1%,#5c5c5c 37.3%,#787878 38.5%,#626262 39.7%,#5e5e5e 40.3%,#666666 41.5%,#797979 42.7%,#7e7e7e 43.9%,#898989 44.5%,#898989 45.2%,#7e7e7e 45.8%,#787878 47%,#4a4a4a 48.2%,#4c4c4c 48.8%,#565656 49.4%,#494949 50.6%,#484848 51.8%,#606060 53.6%,#474747 57.3%,#5f5f5f 58.5%,#5a5a5a 59.1%,#414141 60.3%,#484848 61.5%,#414141 62.7%,#565656 65.2%,#515151 65.8%,#313131 67%,#333333 68.2%,#292929 69.4%,#292929 71.2%,#313131 72.4%,#2a2a2a 73.6%,#323232 77.9%,#1c1c1c 82.1%,#1e1e1e 83.9%,#282828 85.8%,#1f1f1f 87%,#232323 88.8%,#1f1f1f 91.8%,#303030 93.6%,#272727 94.8%,#2e2e2e 96.1%,#262626 97.3%,#2a2a2a 98.5%,#242424 100%)"></i>
<i style="background:linear-gradient(90deg,#313131 0%,#3b3b3b 0.9%,#5b5b5b 1.5%,#414141 2.1%,#3e3e3e 2.7%,#686868 3.3%,#c5c5c5 3.9%,#dbdbdb 4.5%,#c6c6c6 5.2%,#737373 5.8%,#5b5b5b 6.4%,#575757 7.6%,#4d4d4d 8.2%,#4c4c4c 10%,#2f2f2f 11.2%,#4a4a4a 12.4%,#4d4d4d 13%,#494949 15.5%,#313131 16.7%,#343434 19.1%,#2d2d2d 21.5%,#3e3e3e 23.3%,#343434 24.5%,#383838 25.2%,#494949 25.8%,#424242 27%,#484848 27.6%,#6a6a6a 28.8%,#656565 30%,#6c6c6c 30.6%,#6c6c6c 31.2%,#5f5f5f 34.2%,#646464 35.5%,#6f6f6f 36.1%,#636363 37.3%,#818181 38.5%,#6a6a6a 39.7%,#656565 40.3%,#6e6e6e 41.5%,#838383 42.7%,#888888 43.9%,#959595 44.5%,#949494 45.2%,#888888 45.8%,#838383 47%,#505050 48.2%,#595959 48.8%,#6a6a6a 49.4%,#5b5b5b 50.6%,#5a5a5a 51.8%,#727272 53%,#787878 53.6%,#5a5a5a 56.7%,#595959 57.3%,#777777 58.5%,#707070 59.1%,#5c5c5c 59.7%,#515151 60.3%,#5a5a5a 61.5%,#515151 62.7%,#6d6d6d 65.2%,#686868 65.8%,#454545 67%,#4d4d4d 68.2%,#3e3e3e 69.4%,#3f3f3f 71.2%,#4a4a4a 72.4%,#3f3f3f 73.6%,#4a4a4a 76.1%,#4c4c4c 77.9%,#3e3e3e 79.1%,#393939 80.9%,#2d2d2d 81.5%,#2a2a2a 82.1%,#2f2f2f 82.7%,#2b2b2b 83.9%,#393939 85.2%,#393939 85.8%,#2d2d2d 87%,#333333 88.8%,#2d2d2d 91.8%,#474747 93.6%,#393939 94.8%,#434343 96.1%,#383838 97.3%,#3d3d3d 98.5%,#323232 99.1%,#2d2d2d 100%)"></i>
<i style="background:linear-gradient(90deg,#323232 0%,#3d3d3d 0.9%,#5d5d5d 1.5%,#424242 2.1%,#3e3e3e 2.7%,#6a6a6a 3.3%,#cacaca 3.9%,#e0e0e0 4.5%,#cbcbcb 5.2%,#777777 5.8%,#626262 6.4%,#5e5e5e 7.6%,#525252 8.2%,#555555 9.4%,#525252 10%,#303030 11.2%,#4c4c4c 12.4%,#4f4f4f 13%,#4c4c4c 15.5%,#333333 16.7%,#353535 19.1%,#2d2d2d 21.5%,#3f3f3f 23.3%,#343434 24.5%,#383838 25.2%,#4a4a4a 25.8%,#434343 27%,#494949 27.6%,#6c6c6c 28.8%,#676767 30%,#6e6e6e 30.6%,#6d6d6d 31.2%,#616161 34.2%,#666666 35.5%,#717171 36.1%,#656565 37.3%,#848484 38.5%,#6c6c6c 39.7%,#676767 40.3%,#707070 41.5%,#868686 42.7%,#8b8b8b 43.9%,#979797 44.5%,#979797 45.2%,#8b8b8b 45.8%,#858585 47%,#515151 48.2%,#5b5b5b 48.8%,#6f6f6f 49.4%,#606060 50.6%,#5e5e5e 51.8%,#787878 53%,#7e7e7e 53.6%,#5e5e5e 56.7%,#5d5d5d 57.3%,#7c7c7c 58.5%,#757575 59.1%,#616161 59.7%,#555555 60.3%,#5e5e5e 61.5%,#555555 62.7%,#595959 63.3%,#7a7a7a 65.2%,#7e7e7e 65.8%,#626262 67%,#727272 68.2%,#5c5c5c 69.4%,#5d5d5d 71.2%,#6e6e6e 72.4%,#5e5e5e 73.6%,#6f6f6f 76.1%,#717171 77.9%,#5d5d5d 79.1%,#555555 80.9%,#424242 81.5%,#393939 82.1%,#313131 83.3%,#303030 83.9%,#3f3f3f 85.2%,#404040 85.8%,#333333 87%,#393939 88.8%,#333333 91.8%,#515151 93.6%,#424242 94.8%,#4e4e4e 96.1%,#424242 97.3%,#474747 98.5%,#3a3a3a 99.1%,#323232 100%)"></i>
<i style="background:linear-gradient(90deg,#333333 0%,#3d3d3d 0.9%,#5d5d5d 1.5%,#424242 2.1%,#3e3e3e 2.7%,#6a6a6a 3.3%,#cacaca 3.9%,#e0e0e0 4.5%,#cccccc 5.2%,#787878 5.8%,#646464 6.4%,#606060 7.6%,#535353 8.2%,#535353 10%,#323232 11.2%,#4c4c4c 12.4%,#515151 14.8%,#4f4f4f 15.5%,#383838 16.7%,#2d2d2d 21.5%,#3f3f3f 23.3%,#343434 24.5%,#383838 25.2%,#4a4a4a 25.8%,#434343 27%,#494949 27.6%,#6c6c6c 28.8%,#676767 30%,#6e6e6e 30.6%,#6d6d6d 31.2%,#616161 34.2%,#666666 35.5%,#717171 36.1%,#656565 37.3%,#848484 38.5%,#6c6c6c 39.7%,#676767 40.3%,#707070 41.5%,#868686 42.7%,#8b8b8b 43.9%,#989898 44.5%,#979797 45.2%,#8b8b8b 45.8%,#858585 47%,#515151 48.2%,#5b5b5b 48.8%,#6f6f6f 49.4%,#606060 50.6%,#5e5e5e 51.8%,#787878 53%,#7e7e7e 53.6%,#5e5e5e 56.7%,#5d5d5d 57.3%,#7d7d7d 58.5%,#757575 59.1%,#616161 59.7%,#555555 60.3%,#5e5e5e 61.5%,#555555 62.7%,#626262 63.9%,#8f8f8f 65.8%,#7f7f7f 67%,#9c9c9c 68.2%,#7e7e7e 69.4%,#838383 70.6%,#7f7f7f 71.2%,#969696 72.4%,#808080 73.6%,#8a8a8a 74.2%,#979797 76.1%,#9b9b9b 77.9%,#7f7f7f 79.1%,#797979 79.7%,#7c7c7c 80.3%,#757575 80.9%,#5a5a5a 81.5%,#4a4a4a 82.1%,#393939 83.3%,#383838 83.9%,#4a4a4a 85.2%,#4a4a4a 85.8%,#3b3b3b 87%,#3a3a3a 87.6%,#434343 88.8%,#3d3d3d 91.8%,#606060 93.6%,#4e4e4e 94.8%,#5d5d5d 96.1%,#4f4f4f 97.3%,#555555 98.5%,#393939 99.7%,#393939 100%)"></i>
<i style="background:linear-gradient(90deg,#343434 0%,#3e3e3e 0.9%,#5e5e5e 1.5%,#424242 2.1%,#3e3e3e 2.7%,#6a6a6a 3.3%,#cacaca 3.9%,#e1e1e1 4.5%,#cccccc 5.2%,#787878 5.8%,#656565 6.4%,#616161 7.6%,#545454 8.2%,#575757 10%,#3f3f3f 11.2%,#4c4c4c 12.4%,#545454 15.5%,#3a3a3a 17.3%,#2d2d2d 20.9%,#2d2d2d 21.5%,#3f3f3f 23.3%,#343434 24.5%,#383838 25.2%,#4a4a4a 25.8%,#434343 27%,#494949 27.6%,#6c6c6c 28.8%,#676767 30%,#6e6e6e 30.6%,#6d6d6d 31.2%,#616161 34.2%,#666666 35.5%,#717171 36.1%,#656565 37.3%,#848484 38.5%,#6c6c6c 39.7%,#676767 40.3%,#707070 41.5%,#868686 42.7%,#8b8b8b 43.9%,#979797 44.5%,#979797 45.2%,#8b8b8b 45.8%,#858585 47%,#525252 48.2%,#5b5b5b 48.8%,#6f6f6f 49.4%,#5f5f5f 50.6%,#5e5e5e 51.8%,#777777 53%,#7d7d7d 53.6%,#5e5e5e 56.7%,#5d5d5d 57.3%,#7c7c7c 58.5%,#757575 59.1%,#616161 59.7%,#555555 60.3%,#5e5e5e 61.5%,#555555 62.7%,#626262 63.9%,#8b8b8b 65.8%,#7b7b7b 67%,#979797 68.2%,#7a7a7a 69.4%,#7f7f7f 70.6%,#7b7b7b 71.2%,#919191 72.4%,#7c7c7c 73.6%,#858585 74.2%,#929292 76.1%,#969696 77.9%,#7b7b7b 79.1%,#717171 80.9%,#575757 81.5%,#484848 82.1%,#3a3a3a 83.3%,#383838 83.9%,#4a4a4a 85.2%,#4b4b4b 85.8%,#3c3c3c 87%,#3b3b3b 87.6%,#434343 88.8%,#3d3d3d 91.8%,#606060 93.6%,#4e4e4e 94.8%,#5d5d5d 96.1%,#4f4f4f 97.3%,#555555 98.5%,#3b3b3b 99.7%,#3b3b3b 100%)"></i>
<i style="background:linear-gradient(90deg,#353535 0%,#3f3f3f 0.9%,#5e5e5e 1.5%,#424242 2.1%,#3f3f3f 2.7%,#6a6a6a 3.3%,#cbcbcb 3.9%,#e1e1e1 4.5%,#cccccc 5.2%,#797979 5.8%,#666666 6.4%,#626262 7.6%,#545454 8.2%,#5d5d5d 10%,#494949 11.8%,#5a5a5a 15.5%,#363636 17.9%,#2d2d2d 20.9%,#2d2d2d 21.5%,#3f3f3f 23.3%,#343434 24.5%,#373737 25.2%,#484848 25.8%,#424242 27%,#484848 27.6%,#6a6a6a 28.8%,#656565 30%,#6c6c6c 30.6%,#6c6c6c 31.2%,#5f5f5f 34.2%,#646464 35.5%,#6e6e6e 36.1%,#636363 37.3%,#818181 38.5%,#6a6a6a 39.7%,#656565 40.3%,#6e6e6e 41.5%,#838383 42.7%,#888888 43.9%,#949494 44.5%,#949494 45.2%,#888888 45.8%,#828282 47%,#505050 48.2%,#555555 48.8%,#646464 49.4%,#565656 50.6%,#545454 51.8%,#6b6b6b 53%,#717171 53.6%,#555555 56.7%,#535353 57.3%,#707070 58.5%,#696969 59.1%,#575757 59.7%,#4d4d4d 60.3%,#555555 61.5%,#4d4d4d 62.7%,#505050 63.3%,#686868 65.2%,#666666 65.8%,#4b4b4b 67%,#585858 68.2%,#474747 69.4%,#484848 71.2%,#555555 72.4%,#484848 73.6%,#555555 76.1%,#575757 77.9%,#474747 79.1%,#424242 80.9%,#333333 81.5%,#2f2f2f 82.1%,#333333 82.7%,#2f2f2f 83.9%,#3d3d3d 85.2%,#3e3e3e 85.8%,#313131 87%,#373737 88.8%,#313131 91.8%,#4d4d4d 93.6%,#3e3e3e 94.8%,#494949 96.1%,#3d3d3d 97.3%,#424242 98.5%,#363636 99.1%,#303030 100%)"></i>
<i style="background:linear-gradient(90deg,#363636 0%,#404040 0.9%,#5e5e5e 1.5%,#434343 2.1%,#3f3f3f 2.7%,#6b6b6b 3.3%,#cbcbcb 3.9%,#e1e1e1 4.5%,#cdcdcd 5.2%,#7a7a7a 5.8%,#676767 6.4%,#636363 7.6%,#555555 8.2%,#686868 10.6%,#636363 11.2%,#4f4f4f 11.8%,#4d4d4d 12.4%,#4e4e4e 13.6%,#5d5d5d 15.5%,#5a5a5a 16.1%,#3f3f3f 17.3%,#363636 17.9%,#2d2d2d 20.9%,#2d2d2d 21.5%,#3f3f3f 23.3%,#333333 24.5%,#323232 25.2%,#3f3f3f 25.8%,#393939 27%,#3d3d3d 27.6%,#5a5a5a 28.8%,#555555 30%,#5a5a5a 31.2%,#4f4f4f 34.2%,#535353 35.5%,#5c5c5c 36.1%,#525252 37.3%,#6b6b6b 38.5%,#585858 39.7%,#545454 40.3%,#5b5b5b 41.5%,#6c6c6c 42.7%,#707070 43.9%,#7a7a7a 44.5%,#6b6b6b 47%,#414141 48.2%,#313131 51.2%,#323232 51.8%,#444444 53.6%,#323232 57.3%,#434343 58.5%,#2e2e2e 60.3%,#333333 61.5%,#2e2e2e 62.7%,#3d3d3d 65.2%,#2c2c2c 67%,#353535 68.2%,#2b2b2b 69.4%,#2b2b2b 71.2%,#323232 72.4%,#2b2b2b 73.6%,#333333 77.9%,#1d1d1d 82.1%,#1f1f1f 83.9%,#292929 85.8%,#202020 87%,#242424 88.8%,#202020 91.8%,#323232 93.6%,#282828 94.8%,#2f2f2f 96.1%,#272727 97.3%,#2b2b2b 98.5%,#252525 100%)"></i>
<i style="background:linear-gradient(90deg,#373737 0%,#414141 0.9%,#5f5f5f 1.5%,#434343 2.1%,#3f3f3f 2.7%,#6b6b6b 3.3%,#cbcbcb 3.9%,#e2e2e2 4.5%,#cdcdcd 5.2%,#7a7a7a 5.8%,#686868 6.4%,#646464 7.6%,#555555 8.2%,#575757 8.8%,#717171 10.6%,#6c6c6c 11.2%,#525252 11.8%,#4d4d4d 12.4%,#4e4e4e 13.6%,#5e5e5e 15.5%,#5b5b5b 16.1%,#505050 16.7%,#3f3f3f 17.3%,#363636 17.9%,#2d2d2d 21.5%,#3f3f3f 23.3%,#242424 25.2%,#1d1d1d 27%,#2d2d2d 28.8%,#262626 34.2%,#2b2b2b 36.1%,#262626 37.3%,#313131 38.5%,#262626 40.3%,#373737 44.5%,#303030 47%,#212121 48.2%,#242424 49.4%,#1e1e1e 51.2%,#292929 53.6%,#1f1f1f 57.3%,#292929 58.5%,#1c1c1c 60.3%,#1c1c1c 62.7%,#262626 65.2%,#232323 66.4%,#373737 68.2%,#2c2c2c 69.4%,#2d2d2d 71.2%,#343434 72.4%,#2d2d2d 73.6%,#353535 77.9%,#1e1e1e 82.1%,#232323 82.7%,#212121 83.9%,#2b2b2b 85.8%,#222222 87%,#262626 88.8%,#222222 91.8%,#343434 93.6%,#2a2a2a 94.8%,#323232 96.1%,#2a2a2a 97.3%,#2d2d2d 98.5%,#262626 100%)"></i>
<i style="background:linear-gradient(90deg,#383838 0%,#414141 0.9%,#5f5f5f 1.5%,#434343 2.1%,#3f3f3f 2.7%,#6b6b6b 3.3%,#cbcbcb 3.9%,#e2e2e2 4.5%,#cecece 5.2%,#7b7b7b 5.8%,#696969 6.4%,#656565 7.6%,#555555 8.2%,#606060 9.4%,#717171 10%,#787878 10.6%,#727272 11.2%,#545454 11.8%,#4d4d4d 12.4%,#4e4e4e 13.6%,#5e5e5e 15.5%,#5b5b5b 16.1%,#505050 16.7%,#3f3f3f 17.3%,#363636 17.9%,#2d2d2d 20.9%,#2d2d2d 21.5%,#3f3f3f 23.3%,#393939 23.9%,#0e0e0e 25.8%,#0a0a0a 27%,#0f0f0f 28.8%,#0d0d0d 47.6%,#131313 48.8%,#0d0d0d 51.2%,#121212 53.6%,#0d0d0d 57.3%,#121212 58.5%,#0c0c0c 60.3%,#0d0d0d 63.3%,#121212 65.8%,#1b1b1b 66.4%,#404040 67.6%,#474747 68.2%,#393939 69.4%,#3a3a3a 71.2%,#444444 72.4%,#3a3a3a 73.6%,#464646 77.9%,#393939 79.1%,#353535 80.9%,#2a2a2a 81.5%,#282828 82.1%,#2e2e2e 82.7%,#2c2c2c 83.9%,#393939 85.2%,#393939 85.8%,#2d2d2d 87%,#333333 88.8%,#2d2d2d 91.8%,#464646 93.6%,#393939 94.8%,#434343 96.1%,#383838 97.3%,#3c3c3c 98.5%,#323232 99.1%,#2d2d2d 100%)"></i>
<i style="background:linear-gradient(90deg,#393939 0%,#424242 0.9%,#5f5f5f 1.5%,#434343 2.1%,#3f3f3f 2.7%,#6b6b6b 3.3%,#cccccc 3.9%,#e2e2e2 4.5%,#cecece 5.2%,#7c7c7c 5.8%,#6a6a6a 6.4%,#666666 7.6%,#565656 8.2%,#585858 8.8%,#626262 9.4%,#767676 10%,#7f7f7f 10.6%,#787878 11.2%,#565656 11.8%,#4d4d4d 12.4%,#4d4d4d 13.6%,#5e5e5e 15.5%,#5b5b5b 16.1%,#505050 16.7%,#3f3f3f 17.3%,#373737 17.9%,#2d2d2d 20.9%,#2d2d2d 21.5%,#3f3f3f 23.3%,#393939 23.9%,#0a0a0a 25.8%,#080808 26.4%,#080808 47.6%,#0f0f0f 48.8%,#0a0a0a 51.2%,#0e0e0e 58.5%,#0a0a0a 63.3%,#0e0e0e 65.8%,#151515 66.4%,#323232 67.6%,#373737 68.2%,#2c2c2c 69.4%,#2d2d2d 71.2%,#343434 72.4%,#2d2d2d 73.6%,#353535 77.9%,#1e1e1e 82.1%,#232323 82.7%,#212121 83.9%,#2b2b2b 85.8%,#222222 87%,#262626 88.8%,#222222 91.8%,#343434 93.6%,#2a2a2a 94.8%,#323232 96.1%,#2a2a2a 97.3%,#2d2d2d 98.5%,#262626 100%)"></i>
<i style="background:linear-gradient(90deg,#393939 0%,#434343 0.9%,#606060 1.5%,#434343 2.1%,#3f3f3f 2.7%,#6b6b6b 3.3%,#cccccc 3.9%,#e2e2e2 4.5%,#cecece 5.2%,#7c7c7c 5.8%,#6b6b6b 6.4%,#676767 7.6%,#565656 8.2%,#585858 8.8%,#646464 9.4%,#7c7c7c 10%,#868686 10.6%,#7e7e7e 11.2%,#585858 11.8%,#4d4d4d 12.4%,#4d4d4d 13.6%,#5e5e5e 15.5%,#5b5b5b 16.1%,#505050 16.7%,#3f3f3f 17.3%,#373737 17.9%,#2d2d2d 20.9%,#2d2d2d 21.5%,#3f3f3f 23.3%,#393939 23.9%,#1d1d1d 25.2%,#141414 25.8%,#101010 27%,#181818 28.8%,#121212 37.3%,#171717 38.5%,#121212 40.3%,#1a1a1a 44.5%,#131313 48.2%,#181818 49.4%,#141414 51.8%,#1b1b1b 53.6%,#141414 57.3%,#1b1b1b 58.5%,#131313 60.3%,#131313 62.7%,#1b1b1b 66.4%,#2f2f2f 67.6%,#333333 68.2%,#292929 69.4%,#292929 71.2%,#313131 72.4%,#2a2a2a 73.6%,#323232 77.9%,#1c1c1c 82.1%,#1e1e1e 83.9%,#282828 85.8%,#1f1f1f 87%,#232323 88.8%,#1f1f1f 91.8%,#303030 93.6%,#272727 94.8%,#2e2e2e 96.1%,#262626 97.3%,#2a2a2a 98.5%,#242424 100%)"></i>
<i style="background:linear-gradient(90deg,#3a3a3a 0%,#444444 0.9%,#606060 1.5%,#434343 2.1%,#3f3f3f 2.7%,#6b6b6b 3.3%,#cccccc 3.9%,#e3e3e3 4.5%,#cfcfcf 5.2%,#7d7d7d 5.8%,#6c6c6c 6.4%,#676767 7.6%,#575757 8.2%,#595959 8.8%,#666666 9.4%,#818181 10%,#8d8d8d 10.6%,#848484 11.2%,#5a5a5a 11.8%,#4d4d4d 12.4%,#4d4d4d 13.6%,#5e5e5e 15.5%,#5b5b5b 16.1%,#505050 16.7%,#3f3f3f 17.3%,#373737 17.9%,#2d2d2d 20.9%,#2d2d2d 21.5%,#3f3f3f 23.3%,#303030 25.2%,#393939 25.8%,#323232 27%,#353535 27.6%,#4c4c4c 28.8%,#474747 30%,#4a4a4a 31.2%,#3e3e3e 34.2%,#464646 36.1%,#3e3e3e 37.3%,#4f4f4f 38.5%,#3c3c3c 40.3%,#585858 44.5%,#4d4d4d 47%,#333333 48.2%,#414141 49.4%,#393939 50.6%,#383838 51.8%,#4c4c4c 53.6%,#393939 57.3%,#4d4d4d 58.5%,#484848 59.1%,#353535 60.3%,#3b3b3b 61.5%,#363636 62.7%,#474747 65.2%,#363636 67%,#434343 68.2%,#363636 69.4%,#363636 71.2%,#404040 72.4%,#373737 73.6%,#424242 77.9%,#363636 79.1%,#313131 80.9%,#272727 81.5%,#262626 82.1%,#2b2b2b 82.7%,#292929 83.9%,#353535 85.2%,#353535 85.8%,#2a2a2a 87%,#2f2f2f 88.8%,#2a2a2a 91.8%,#414141 93.6%,#353535 94.8%,#3e3e3e 96.1%,#343434 97.3%,#383838 98.5%,#2f2f2f 99.1%,#2a2a2a 100%)"></i>
<i style="background:linear-gradient(90deg,#3b3b3b 0%,#444444 0.9%,#606060 1.5%,#434343 2.1%,#3f3f3f 2.7%,#6c6c6c 3.3%,#cccccc 3.9%,#e3e3e3 4.5%,#cfcfcf 5.2%,#7e7e7e 5.8%,#6c6c6c 6.4%,#686868 7.6%,#575757 8.2%,#595959 8.8%,#686868 9.4%,#868686 10%,#949494 10.6%,#8a8a8a 11.2%,#5c5c5c 11.8%,#4d4d4d 12.4%,#4c4c4c 13.6%,#5e5e5e 15.5%,#5b5b5b 16.1%,#505050 16.7%,#3f3f3f 17.3%,#373737 17.9%,#2d2d2d 20.9%,#2d2d2d 21.5%,#3f3f3f 23.3%,#353535 24.5%,#3d3d3d 25.2%,#525252 25.8%,#515151 26.4%,#494949 27%,#4f4f4f 27.6%,#717171 28.8%,#696969 30%,#707070 30.6%,#6e6e6e 31.2%,#5d5d5d 34.2%,#606060 35.5%,#696969 36.1%,#5d5d5d 37.3%,#777777 38.5%,#616161 39.7%,#5c5c5c 40.3%,#636363 41.5%,#767676 42.7%,#7b7b7b 43.9%,#868686 44.5%,#757575 47%,#484848 48.2%,#4e4e4e 48.8%,#5e5e5e 49.4%,#515151 50.6%,#505050 51.8%,#666666 53%,#6c6c6c 53.6%,#515151 56.7%,#505050 57.3%,#6c6c6c 58.5%,#666666 59.1%,#555555 59.7%,#4a4a4a 60.3%,#535353 61.5%,#4b4b4b 62.7%,#636363 65.2%,#5e5e5e 65.8%,#3a3a3a 67%,#3f3f3f 68.2%,#333333 69.4%,#333333 71.2%,#3c3c3c 72.4%,#333333 73.6%,#3e3e3e 77.9%,#323232 79.1%,#2e2e2e 80.9%,#242424 81.5%,#232323 82.1%,#282828 82.7%,#262626 83.9%,#323232 85.2%,#323232 85.8%,#282828 87%,#2c2c2c 88.8%,#272727 91.8%,#3d3d3d 93.6%,#313131 94.8%,#3a3a3a 96.1%,#313131 97.3%,#343434 98.5%,#2c2c2c 99.1%,#292929 100%)"></i>
<i style="background:linear-gradient(90deg,#3c3c3c 0%,#454545 0.9%,#616161 1.5%,#444444 2.1%,#404040 2.7%,#6c6c6c 3.3%,#cdcdcd 3.9%,#e3e3e3 4.5%,#cfcfcf 5.2%,#7f7f7f 5.8%,#6d6d6d 6.4%,#696969 7.6%,#585858 8.2%,#595959 8.8%,#696969 9.4%,#898989 10%,#979797 10.6%,#8d8d8d 11.2%,#5d5d5d 11.8%,#4d4d4d 12.4%,#4c4c4c 13.6%,#5e5e5e 15.5%,#5b5b5b 16.1%,#505050 16.7%,#3f3f3f 17.3%,#373737 17.9%,#2d2d2d 20.9%,#2d2d2d 21.5%,#3f3f3f 23.3%,#363636 24.5%,#3f3f3f 25.2%,#565656 25.8%,#565656 26.4%,#4d4d4d 27%,#535353 27.6%,#696969 28.2%,#777777 28.8%,#6f6f6f 30%,#767676 30.6%,#747474 31.2%,#626262 34.2%,#666666 35.5%,#707070 36.1%,#636363 37.3%,#7e7e7e 38.5%,#676767 39.7%,#616161 40.3%,#696969 41.5%,#7d7d7d 42.7%,#828282 43.9%,#8e8e8e 44.5%,#8d8d8d 45.2%,#828282 45.8%,#7d7d7d 47%,#4b4b4b 48.2%,#515151 48.8%,#636363 49.4%,#555555 50.6%,#545454 51.8%,#6b6b6b 53%,#717171 53.6%,#555555 56.7%,#545454 57.3%,#717171 58.5%,#6b6b6b 59.1%,#595959 59.7%,#4e4e4e 60.3%,#575757 61.5%,#4f4f4f 62.7%,#686868 65.2%,#626262 65.8%,#353535 67%,#343434 68.2%,#2a2a2a 69.4%,#2a2a2a 71.2%,#313131 72.4%,#2a2a2a 73.6%,#323232 77.9%,#1c1c1c 82.1%,#1e1e1e 83.9%,#282828 85.8%,#1f1f1f 87%,#232323 88.8%,#1f1f1f 91.8%,#303030 93.6%,#272727 94.8%,#2e2e2e 96.1%,#262626 97.3%,#2a2a2a 98.5%,#252525 100%)"></i>
<i style="background:linear-gradient(90deg,#3d3d3d 0%,#464646 0.9%,#616161 1.5%,#444444 2.1%,#404040 2.7%,#6c6c6c 3.3%,#cdcdcd 3.9%,#e4e4e4 4.5%,#d0d0d0 5.2%,#7f7f7f 5.8%,#6e6e6e 6.4%,#6a6a6a 7.6%,#585858 8.2%,#5a5a5a 8.8%,#696969 9.4%,#8a8a8a 10%,#989898 10.6%,#8e8e8e 11.2%,#5d5d5d 11.8%,#4c4c4c 12.4%,#4c4c4c 13.6%,#5e5e5e 15.5%,#5b5b5b 16.1%,#505050 16.7%,#3f3f3f 17.3%,#373737 17.9%,#2e2e2e 20.9%,#2e2e2e 21.5%,#3f3f3f 23.3%,#363636 24.5%,#3f3f3f 25.2%,#565656 25.8%,#565656 26.4%,#4d4d4d 27%,#535353 27.6%,#696969 28.2%,#777777 28.8%,#707070 30%,#767676 30.6%,#747474 31.2%,#626262 34.2%,#666666 35.5%,#707070 36.1%,#636363 37.3%,#7f7f7f 38.5%,#676767 39.7%,#616161 40.3%,#696969 41.5%,#7e7e7e 42.7%,#828282 43.9%,#8e8e8e 44.5%,#8d8d8d 45.2%,#828282 45.8%,#7d7d7d 47%,#4b4b4b 48.2%,#525252 48.8%,#636363 49.4%,#555555 50.6%,#545454 51.8%,#6b6b6b 53%,#717171 53.6%,#555555 56.7%,#545454 57.3%,#717171 58.5%,#6b6b6b 59.1%,#595959 59.7%,#4e4e4e 60.3%,#575757 61.5%,#4f4f4f 62.7%,#696969 65.2%,#646464 65.8%,#3d3d3d 67%,#414141 68.2%,#353535 69.4%,#353535 71.2%,#3e3e3e 72.4%,#353535 73.6%,#404040 77.9%,#343434 79.1%,#303030 80.9%,#262626 81.5%,#232323 82.1%,#272727 82.7%,#252525 83.9%,#303030 85.8%,#262626 87%,#2b2b2b 88.8%,#262626 91.8%,#3c3c3c 93.6%,#303030 94.8%,#393939 96.1%,#303030 97.3%,#343434 98.5%,#2a2a2a 100%)"></i>
<i style="background:linear-gradient(90deg,#3e3e3e 0%,#474747 0.9%,#626262 1.5%,#444444 2.1%,#404040 2.7%,#6c6c6c 3.3%,#cdcdcd 3.9%,#e4e4e4 4.5%,#d0d0d0 5.2%,#808080 5.8%,#6f6f6f 6.4%,#6b6b6b 7.6%,#595959 8.2%,#5a5a5a 8.8%,#696969 9.4%,#8a8a8a 10%,#989898 10.6%,#8e8e8e 11.2%,#5c5c5c 11.8%,#4c4c4c 12.4%,#4b4b4b 13.6%,#5e5e5e 15.5%,#5b5b5b 16.1%,#505050 16.7%,#3f3f3f 17.3%,#373737 17.9%,#2e2e2e 20.9%,#2e2e2e 21.5%,#3f3f3f 23.3%,#363636 24.5%,#3f3f3f 25.2%,#565656 25.8%,#565656 26.4%,#4d4d4d 27%,#535353 27.6%,#696969 28.2%,#777777 28.8%,#707070 30%,#767676 30.6%,#747474 31.2%,#626262 34.2%,#666666 35.5%,#707070 36.1%,#636363 37.3%,#7f7f7f 38.5%,#676767 39.7%,#616161 40.3%,#696969 41.5%,#7e7e7e 42.7%,#828282 43.9%,#8e8e8e 44.5%,#8d8d8d 45.2%,#828282 45.8%,#7d7d7d 47%,#676767 47.6%,#4a4a4a 48.2%,#4d4d4d 48.8%,#5a5a5a 49.4%,#4d4d4d 50.6%,#4c4c4c 51.8%,#616161 53%,#666666 53.6%,#4c4c4c 57.3%,#666666 58.5%,#616161 59.1%,#474747 60.3%,#4e4e4e 61.5%,#474747 62.7%,#4a4a4a 63.3%,#656565 65.2%,#666666 65.8%,#545454 67%,#666666 68.2%,#525252 69.4%,#535353 71.2%,#626262 72.4%,#545454 73.6%,#626262 76.1%,#656565 77.9%,#525252 79.1%,#4c4c4c 80.9%,#3b3b3b 81.5%,#353535 82.1%,#373737 82.7%,#323232 83.3%,#313131 83.9%,#414141 85.2%,#414141 85.8%,#343434 87%,#3b3b3b 88.8%,#353535 91.8%,#545454 93.6%,#454545 94.8%,#525252 96.1%,#454545 97.3%,#4b4b4b 98.5%,#3f3f3f 99.1%,#373737 100%)"></i>
<i style="background:linear-gradient(90deg,#3f3f3f 0%,#484848 0.9%,#626262 1.5%,#444444 2.1%,#404040 2.7%,#6c6c6c 3.3%,#cecece 3.9%,#e4e4e4 4.5%,#d0d0d0 5.2%,#818181 5.8%,#707070 6.4%,#6c6c6c 7.6%,#595959 8.2%,#5a5a5a 8.8%,#696969 9.4%,#8a8a8a 10%,#989898 10.6%,#8e8e8e 11.2%,#5c5c5c 11.8%,#4c4c4c 12.4%,#4b4b4b 13.6%,#5e5e5e 15.5%,#5b5b5b 16.1%,#505050 16.7%,#3f3f3f 17.3%,#373737 17.9%,#2e2e2e 20.9%,#2e2e2e 21.5%,#3f3f3f 23.3%,#363636 24.5%,#3f3f3f 25.2%,#565656 25.8%,#565656 26.4%,#4d4d4d 27%,#535353 27.6%,#696969 28.2%,#777777 28.8%,#707070 30%,#767676 30.6%,#747474 31.2%,#626262 34.2%,#666666 35.5%,#707070 36.1%,#636363 37.3%,#7f7f7f 38.5%,#676767 39.7%,#616161 40.3%,#696969 41.5%,#7e7e7e 42.7%,#828282 43.9%,#8e8e8e 44.5%,#8d8d8d 45.2%,#828282 45.8%,#7d7d7d 47%,#666666 47.6%,#424242 48.2%,#353535 48.8%,#2a2a2a 51.2%,#3a3a3a 53.6%,#2b2b2b 57.3%,#3a3a3a 58.5%,#282828 60.3%,#2d2d2d 61.5%,#2b2b2b 63.3%,#373737 64.5%,#575757 65.8%,#555555 67%,#696969 68.2%,#555555 69.4%,#555555 71.2%,#656565 72.4%,#565656 73.6%,#666666 76.1%,#686868 77.9%,#555555 79.1%,#4e4e4e 80.9%,#3d3d3d 81.5%,#363636 82.1%,#383838 82.7%,#323232 83.3%,#323232 83.9%,#424242 85.2%,#434343 85.8%,#353535 87%,#3c3c3c 88.8%,#363636 91.8%,#565656 93.6%,#464646 94.8%,#535353 96.1%,#464646 97.3%,#4c4c4c 98.5%,#353535 99.7%,#353535 100%)"></i>
<i style="background:linear-gradient(90deg,#404040 0%,#484848 0.9%,#626262 1.5%,#444444 2.1%,#404040 2.7%,#6c6c6c 3.3%,#cecece 3.9%,#e5e5e5 4.5%,#d1d1d1 5.2%,#818181 5.8%,#717171 6.4%,#6d6d6d 7.6%,#595959 8.2%,#5a5a5a 8.8%,#696969 9.4%,#8a8a8a 10%,#989898 10.6%,#8e8e8e 11.2%,#5c5c5c 11.8%,#4b4b4b 12.4%,#4b4b4b 13.6%,#5e5e5e 15.5%,#5b5b5b 16.1%,#505050 16.7%,#3f3f3f 17.3%,#373737 17.9%,#2e2e2e 20.9%,#2e2e2e 21.5%,#3f3f3f 23.3%,#363636 24.5%,#3f3f3f 25.2%,#565656 25.8%,#565656 26.4%,#4d4d4d 27%,#535353 27.6%,#696969 28.2%,#777777 28.8%,#707070 30%,#767676 30.6%,#747474 31.2%,#626262 34.2%,#666666 35.5%,#707070 36.1%,#636363 37.3%,#7f7f7f 38.5%,#676767 39.7%,#616161 40.3%,#696969 41.5%,#7e7e7e 42.7%,#828282 43.9%,#8e8e8e 44.5%,#8d8d8d 45.2%,#828282 45.8%,#7d7d7d 47%,#666666 47.6%,#414141 48.2%,#313131 48.8%,#272727 51.2%,#363636 53.6%,#282828 57.3%,#363636 58.5%,#262626 60.3%,#2a2a2a 61.5%,#262626 62.7%,#333333 64.5%,#484848 65.8%,#444444 67%,#555555 68.2%,#454545 69.4%,#454545 71.2%,#525252 72.4%,#464646 73.6%,#525252 76.1%,#545454 77.9%,#454545 79.1%,#3f3f3f 80.9%,#313131 81.5%,#2d2d2d 82.1%,#303030 82.7%,#2c2c2c 83.9%,#3a3a3a 85.2%,#3a3a3a 85.8%,#2e2e2e 87%,#343434 88.8%,#2f2f2f 91.8%,#4a4a4a 93.6%,#3c3c3c 94.8%,#474747 96.1%,#3c3c3c 97.3%,#414141 98.5%,#363636 99.1%,#2f2f2f 100%)"></i>
<i style="background:linear-gradient(90deg,#414141 0%,#494949 0.9%,#636363 1.5%,#444444 2.1%,#404040 2.7%,#6c6c6c 3.3%,#cecece 3.9%,#e5e5e5 4.5%,#d1d1d1 5.2%,#828282 5.8%,#727272 6.4%,#6e6e6e 7.6%,#5a5a5a 8.2%,#5a5a5a 8.8%,#6a6a6a 9.4%,#8a8a8a 10%,#989898 10.6%,#8e8e8e 11.2%,#5c5c5c 11.8%,#4b4b4b 12.4%,#4a4a4a 13.6%,#5e5e5e 15.5%,#5b5b5b 16.1%,#505050 16.7%,#3f3f3f 17.3%,#373737 17.9%,#2e2e2e 20.9%,#2e2e2e 21.5%,#3f3f3f 23.3%,#363636 24.5%,#3f3f3f 25.2%,#565656 25.8%,#565656 26.4%,#4d4d4d 27%,#535353 27.6%,#696969 28.2%,#777777 28.8%,#6f6f6f 30%,#767676 30.6%,#747474 31.2%,#626262 34.2%,#666666 35.5%,#6f6f6f 36.1%,#636363 37.3%,#7e7e7e 38.5%,#676767 39.7%,#616161 40.3%,#696969 41.5%,#7d7d7d 42.7%,#828282 43.9%,#8e8e8e 44.5%,#8d8d8d 45.2%,#828282 45.8%,#7d7d7d 47%,#676767 47.6%,#474747 48.2%,#454545 48.8%,#4d4d4d 49.4%,#404040 51.2%,#424242 51.8%,#595959 53.6%,#434343 57.3%,#5a5a5a 58.5%,#555555 59.1%,#3f3f3f 60.3%,#464646 61.5%,#404040 62.7%,#434343 63.3%,#575757 65.2%,#565656 65.8%,#434343 67%,#525252 68.2%,#424242 69.4%,#424242 71.2%,#4e4e4e 72.4%,#434343 73.6%,#4f4f4f 76.1%,#515151 77.9%,#424242 79.1%,#3d3d3d 80.9%,#303030 81.5%,#2e2e2e 82.1%,#343434 82.7%,#313131 83.9%,#404040 85.2%,#404040 85.8%,#333333 87%,#393939 88.8%,#333333 91.8%,#505050 93.6%,#414141 94.8%,#4c4c4c 96.1%,#404040 97.3%,#454545 98.5%,#373737 99.1%,#303030 100%)"></i>
<i style="background:linear-gradient(90deg,#414141 0%,#4a4a4a 0.9%,#636363 1.5%,#444444 2.1%,#404040 2.7%,#6d6d6d 3.3%,#cecece 3.9%,#e5e5e5 4.5%,#d2d2d2 5.2%,#838383 5.8%,#737373 6.4%,#6f6f6f 7.6%,#5a5a5a 8.2%,#5b5b5b 8.8%,#6a6a6a 9.4%,#8a8a8a 10%,#989898 10.6%,#8e8e8e 11.2%,#5c5c5c 11.8%,#4b4b4b 12.4%,#4a4a4a 13.6%,#5e5e5e 15.5%,#5b5b5b 16.1%,#505050 16.7%,#3f3f3f 17.3%,#373737 17.9%,#2e2e2e 20.9%,#2e2e2e 21.5%,#404040 23.3%,#353535 24.5%,#3b3b3b 25.2%,#4e4e4e 25.8%,#4e4e4e 26.4%,#464646 27%,#4b4b4b 27.6%,#6c6c6c 28.8%,#656565 30%,#6b6b6b 30.6%,#696969 31.2%,#595959 34.2%,#5c5c5c 35.5%,#656565 36.1%,#595959 37.3%,#727272 38.5%,#5c5c5c 39.7%,#585858 40.3%,#5f5f5f 41.5%,#717171 42.7%,#757575 43.9%,#808080 44.5%,#707070 47%,#5d5d5d 47.6%,#424242 48.2%,#434343 48.8%,#4d4d4d 49.4%,#424242 50.6%,#424242 51.8%,#595959 53.6%,#434343 57.3%,#5a5a5a 58.5%,#555555 59.1%,#3f3f3f 60.3%,#464646 61.5%,#404040 62.7%,#555555 65.2%,#515151 65.8%,#383838 67%,#3f3f3f 68.2%,#333333 69.4%,#333333 71.2%,#3d3d3d 72.4%,#343434 73.6%,#3e3e3e 77.9%,#333333 79.1%,#2e2e2e 80.9%,#252525 81.5%,#232323 82.1%,#282828 82.7%,#262626 83.9%,#323232 85.2%,#323232 85.8%,#282828 87%,#2c2c2c 88.8%,#272727 91.8%,#3e3e3e 93.6%,#323232 94.8%,#3b3b3b 96.1%,#313131 97.3%,#353535 98.5%,#2d2d2d 99.1%,#2a2a2a 100%)"></i>
<i style="background:linear-gradient(90deg,#424242 0%,#4b4b4b 0.9%,#636363 1.5%,#454545 2.1%,#404040 2.7%,#6d6d6d 3.3%,#cfcfcf 3.9%,#e5e5e5 4.5%,#d2d2d2 5.2%,#838383 5.8%,#747474 6.4%,#707070 7.6%,#5b5b5b 8.2%,#5b5b5b 8.8%,#6a6a6a 9.4%,#8a8a8a 10%,#989898 10.6%,#8e8e8e 11.2%,#5b5b5b 11.8%,#4b4b4b 12.4%,#4a4a4a 13.6%,#5e5e5e 15.5%,#5b5b5b 16.1%,#505050 16.7%,#3f3f3f 17.3%,#373737 17.9%,#2e2e2e 20.9%,#2e2e2e 21.5%,#404040 23.3%,#292929 25.2%,#252525 27%,#272727 27.6%,#383838 28.8%,#2d2d2d 34.2%,#333333 36.1%,#2d2d2d 37.3%,#393939 38.5%,#2c2c2c 40.3%,#404040 44.5%,#383838 47%,#252525 48.2%,#2a2a2a 49.4%,#232323 51.2%,#303030 53.6%,#242424 57.3%,#313131 58.5%,#222222 60.3%,#252525 61.5%,#222222 62.7%,#2d2d2d 65.2%,#292929 67%,#353535 68.2%,#2a2a2a 69.4%,#2a2a2a 71.2%,#323232 72.4%,#2b2b2b 73.6%,#333333 77.9%,#1d1d1d 82.1%,#1f1f1f 83.9%,#292929 85.8%,#202020 87%,#242424 88.8%,#202020 91.8%,#313131 93.6%,#282828 94.8%,#2f2f2f 96.1%,#272727 97.3%,#2b2b2b 98.5%,#252525 100%)"></i>
<i style="background:linear-gradient(90deg,#434343 0%,#4c4c4c 0.9%,#646464 1.5%,#454545 2.1%,#414141 2.7%,#6d6d6d 3.3%,#cfcfcf 3.9%,#e6e6e6 4.5%,#d2d2d2 5.2%,#848484 5.8%,#757575 6.4%,#717171 7.6%,#5b5b5b 8.2%,#5b5b5b 8.8%,#6a6a6a 9.4%,#8a8a8a 10%,#989898 10.6%,#8e8e8e 11.2%,#5b5b5b 11.8%,#4a4a4a 12.4%,#4a4a4a 13.6%,#5e5e5e 15.5%,#5b5b5b 16.1%,#505050 16.7%,#3f3f3f 17.3%,#373737 17.9%,#2e2e2e 21.5%,#404040 23.3%,#3a3a3a 23.9%,#0f0f0f 25.8%,#0b0b0b 27%,#111111 28.8%,#0e0e0e 47.6%,#141414 48.8%,#0f0f0f 51.2%,#141414 53.6%,#0f0f0f 57.3%,#141414 58.5%,#0e0e0e 60.3%,#0f0f0f 63.3%,#131313 64.5%,#242424 66.4%,#3f3f3f 67.6%,#454545 68.2%,#383838 69.4%,#383838 71.2%,#424242 72.4%,#393939 73.6%,#444444 77.9%,#383838 79.1%,#333333 80.9%,#282828 81.5%,#262626 82.1%,#2a2a2a 82.7%,#272727 83.9%,#333333 85.2%,#343434 85.8%,#292929 87%,#2e2e2e 88.8%,#292929 91.8%,#404040 93.6%,#343434 94.8%,#3d3d3d 96.1%,#333333 97.3%,#383838 98.5%,#2f2f2f 99.1%,#2b2b2b 100%)"></i>
<i style="background:linear-gradient(90deg,#444444 0%,#4c4c4c 0.9%,#646464 1.5%,#454545 2.1%,#414141 2.7%,#6d6d6d 3.3%,#cfcfcf 3.9%,#e6e6e6 4.5%,#d3d3d3 5.2%,#858585 5.8%,#767676 6.4%,#727272 7.6%,#5c5c5c 8.2%,#5b5b5b 8.8%,#6a6a6a 9.4%,#8a8a8a 10%,#989898 10.6%,#8d8d8d 11.2%,#5b5b5b 11.8%,#4a4a4a 12.4%,#494949 13.6%,#5c5c5c 15.5%,#595959 16.1%,#3d3d3d 17.3%,#353535 17.9%,#2c2c2c 21.5%,#3d3d3d 23.3%,#373737 23.9%,#0b0b0b 25.8%,#080808 26.4%,#090909 47.6%,#111111 48.8%,#0b0b0b 51.2%,#101010 58.5%,#0c0c0c 63.3%,#131313 64.5%,#3e3e3e 65.8%,#4b4b4b 67%,#5f5f5f 68.2%,#4d4d4d 69.4%,#4d4d4d 71.2%,#5c5c5c 72.4%,#4e4e4e 73.6%,#5c5c5c 76.1%,#5e5e5e 77.9%,#4d4d4d 79.1%,#474747 80.9%,#373737 81.5%,#313131 82.1%,#333333 82.7%,#2e2e2e 83.3%,#2d2d2d 83.9%,#3c3c3c 85.2%,#3c3c3c 85.8%,#303030 87%,#363636 88.8%,#313131 91.8%,#4d4d4d 93.6%,#3f3f3f 94.8%,#4b4b4b 96.1%,#3f3f3f 97.3%,#454545 98.5%,#3a3a3a 99.1%,#343434 100%)"></i>
<i style="background:linear-gradient(90deg,#454545 0%,#4d4d4d 0.9%,#646464 1.5%,#454545 2.1%,#414141 2.7%,#6d6d6d 3.3%,#cfcfcf 3.9%,#e6e6e6 4.5%,#d3d3d3 5.2%,#858585 5.8%,#777777 6.4%,#727272 7.6%,#5c5c5c 8.2%,#5b5b5b 8.8%,#6a6a6a 9.4%,#8a8a8a 10%,#989898 10.6%,#8d8d8d 11.2%,#5a5a5a 11.8%,#494949 12.4%,#484848 13.6%,#555555 15.5%,#4e4e4e 16.1%,#323232 17.3%,#292929 17.9%,#212121 21.5%,#2e2e2e 23.3%,#2a2a2a 23.9%,#161616 25.2%,#0e0e0e 27%,#151515 28.8%,#0f0f0f 37.3%,#131313 38.5%,#0f0f0f 40.3%,#151515 44.5%,#101010 47.6%,#161616 49.4%,#121212 51.8%,#191919 53.6%,#131313 56.7%,#191919 58.5%,#111111 60.3%,#121212 63.3%,#1b1b1b 64.5%,#454545 65.8%,#4b4b4b 67%,#5d5d5d 68.2%,#4b4b4b 69.4%,#4b4b4b 71.2%,#595959 72.4%,#4c4c4c 73.6%,#5a5a5a 76.1%,#5c5c5c 77.9%,#4b4b4b 79.1%,#454545 80.9%,#363636 81.5%,#303030 82.1%,#2c2c2c 83.3%,#2c2c2c 83.9%,#393939 85.2%,#3a3a3a 85.8%,#2e2e2e 87%,#343434 88.8%,#2f2f2f 91.8%,#4a4a4a 93.6%,#3d3d3d 94.8%,#484848 96.1%,#3d3d3d 97.3%,#424242 98.5%,#373737 99.1%,#303030 100%)"></i>
<i style="background:linear-gradient(90deg,#464646 0%,#4e4e4e 0.9%,#656565 1.5%,#454545 2.1%,#414141 2.7%,#6d6d6d 3.3%,#d0d0d0 3.9%,#e7e7e7 4.5%,#d3d3d3 5.2%,#868686 5.8%,#787878 6.4%,#737373 7.6%,#5c5c5c 8.2%,#5c5c5c 8.8%,#6a6a6a 9.4%,#8a8a8a 10%,#989898 10.6%,#8d8d8d 11.2%,#585858 11.8%,#454545 12.4%,#494949 15.5%,#1f1f1f 17.3%,#131313 18.5%,#131313 24.5%,#161616 25.2%,#2c2c2c 26.4%,#2b2b2b 27.6%,#3d3d3d 28.8%,#2e2e2e 34.2%,#333333 36.1%,#2c2c2c 37.3%,#383838 38.5%,#2a2a2a 40.3%,#3c3c3c 45.2%,#353535 47%,#252525 48.2%,#333333 49.4%,#2b2b2b 51.8%,#3a3a3a 53.6%,#2b2b2b 57.3%,#3a3a3a 58.5%,#282828 60.3%,#2d2d2d 61.5%,#282828 62.7%,#3a3a3a 65.2%,#3d3d3d 65.8%,#333333 67%,#3f3f3f 68.2%,#333333 69.4%,#333333 71.2%,#3c3c3c 72.4%,#333333 73.6%,#3d3d3d 77.9%,#323232 79.1%,#2e2e2e 80.9%,#242424 81.5%,#222222 82.1%,#232323 83.9%,#2e2e2e 85.8%,#252525 87%,#292929 88.8%,#242424 91.8%,#393939 93.6%,#2e2e2e 94.8%,#363636 96.1%,#2e2e2e 97.3%,#313131 98.5%,#282828 100%)"></i>
<i style="background:linear-gradient(90deg,#474747 0%,#4f4f4f 0.9%,#656565 1.5%,#454545 2.1%,#414141 2.7%,#6e6e6e 3.3%,#d0d0d0 3.9%,#e7e7e7 4.5%,#d4d4d4 5.2%,#878787 5.8%,#797979 6.4%,#7a7a7a 7%,#747474 7.6%,#5d5d5d 8.2%,#5c5c5c 8.8%,#6b6b6b 9.4%,#8a8a8a 10%,#989898 10.6%,#8c8c8c 11.2%,#535353 11.8%,#3d3d3d 12.4%,#393939 15.5%,#1b1b1b 16.7%,#070707 18.5%,#0a0a0a 24.5%,#131313 25.2%,#2c2c2c 25.8%,#3c3c3c 26.4%,#3c3c3c 27.6%,#545454 28.8%,#4d4d4d 30%,#4f4f4f 31.2%,#404040 34.2%,#464646 36.1%,#3d3d3d 37.3%,#4d4d4d 38.5%,#3a3a3a 40.3%,#545454 44.5%,#535353 45.2%,#4a4a4a 47%,#323232 48.2%,#494949 49.4%,#3f3f3f 50.6%,#3e3e3e 51.8%,#535353 53.6%,#3e3e3e 57.3%,#535353 58.5%,#4e4e4e 59.1%,#393939 60.3%,#3f3f3f 61.5%,#393939 62.7%,#4c4c4c 65.2%,#494949 65.8%,#383838 67%,#434343 68.2%,#363636 69.4%,#373737 71.2%,#404040 72.4%,#373737 73.6%,#424242 77.9%,#363636 79.1%,#323232 80.9%,#272727 81.5%,#262626 82.1%,#2b2b2b 82.7%,#292929 83.9%,#363636 85.2%,#363636 85.8%,#2b2b2b 87%,#303030 88.8%,#2a2a2a 91.8%,#424242 93.6%,#353535 94.8%,#3f3f3f 96.1%,#353535 97.3%,#393939 98.5%,#2f2f2f 99.1%,#2b2b2b 100%)"></i>
<i style="background:linear-gradient(90deg,#484848 0%,#505050 0.9%,#666666 1.5%,#454545 2.1%,#414141 2.7%,#6e6e6e 3.3%,#d0d0d0 3.9%,#e7e7e7 4.5%,#d4d4d4 5.2%,#878787 5.8%,#7a7a7a 6.4%,#7b7b7b 7%,#757575 7.6%,#5d5d5d 8.2%,#5c5c5c 8.8%,#6b6b6b 9.4%,#8a8a8a 10%,#989898 10.6%,#8b8b8b 11.2%,#4e4e4e 11.8%,#343434 12.4%,#2f2f2f 15.5%,#161616 16.7%,#050505 18.5%,#080808 24.5%,#121212 25.2%,#2d2d2d 25.8%,#3e3e3e 26.4%,#3f3f3f 27.6%,#585858 28.8%,#515151 30%,#535353 31.2%,#434343 34.2%,#4a4a4a 36.1%,#404040 37.3%,#505050 38.5%,#3c3c3c 40.3%,#585858 44.5%,#575757 45.2%,#4d4d4d 47%,#343434 48.2%,#4d4d4d 49.4%,#434343 50.6%,#424242 51.8%,#585858 53.6%,#414141 57.3%,#585858 58.5%,#535353 59.1%,#3c3c3c 60.3%,#434343 61.5%,#3d3d3d 62.7%,#505050 65.2%,#4c4c4c 65.8%,#313131 67%,#363636 68.2%,#2b2b2b 69.4%,#2b2b2b 71.2%,#333333 72.4%,#2c2c2c 73.6%,#343434 77.9%,#1e1e1e 82.1%,#202020 83.9%,#2a2a2a 85.8%,#212121 87%,#252525 88.8%,#212121 91.8%,#333333 93.6%,#292929 94.8%,#303030 96.1%,#282828 97.3%,#2c2c2c 98.5%,#252525 100%)"></i>
<i style="background:linear-gradient(90deg,#494949 0%,#505050 0.9%,#666666 1.5%,#464646 2.1%,#414141 2.7%,#6e6e6e 3.3%,#d0d0d0 3.9%,#e7e7e7 4.5%,#d4d4d4 5.2%,#888888 5.8%,#7b7b7b 6.4%,#7c7c7c 7%,#767676 7.6%,#5e5e5e 8.2%,#5c5c5c 8.8%,#6b6b6b 9.4%,#8a8a8a 10%,#989898 10.6%,#8a8a8a 11.2%,#494949 11.8%,#2c2c2c 12.4%,#272727 15.5%,#0e0e0e 17.3%,#040404 18.5%,#080808 24.5%,#121212 25.2%,#2d2d2d 25.8%,#3e3e3e 26.4%,#3f3f3f 27.6%,#585858 28.8%,#515151 30%,#535353 31.2%,#434343 34.2%,#4a4a4a 36.1%,#404040 37.3%,#515151 38.5%,#3c3c3c 40.3%,#585858 44.5%,#575757 45.2%,#4d4d4d 47%,#343434 48.2%,#4d4d4d 49.4%,#434343 50.6%,#424242 51.8%,#585858 53.6%,#414141 57.3%,#585858 58.5%,#535353 59.1%,#3c3c3c 60.3%,#434343 61.5%,#3d3d3d 62.7%,#515151 65.2%,#4d4d4d 65.8%,#313131 67%,#353535 68.2%,#2b2b2b 69.4%,#2b2b2b 71.2%,#323232 72.4%,#2b2b2b 73.6%,#333333 77.9%,#1d1d1d 82.1%,#1e1e1e 83.9%,#282828 85.8%,#202020 87%,#232323 88.8%,#1f1f1f 91.8%,#313131 93.6%,#272727 94.8%,#2e2e2e 96.1%,#272727 97.3%,#2a2a2a 98.5%,#252525 100%)"></i>
<i style="background:linear-gradient(90deg,#494949 0%,#515151 0.9%,#666666 1.5%,#464646 2.1%,#414141 2.7%,#6e6e6e 3.3%,#d1d1d1 3.9%,#e8e8e8 4.5%,#d5d5d5 5.2%,#898989 5.8%,#7c7c7c 6.4%,#7d7d7d 7%,#777777 7.6%,#5e5e5e 8.2%,#5d5d5d 8.8%,#6b6b6b 9.4%,#8a8a8a 10%,#989898 10.6%,#898989 11.2%,#444444 11.8%,#232323 12.4%,#1c1c1c 16.1%,#040404 18.5%,#080808 24.5%,#121212 25.2%,#2d2d2d 25.8%,#3e3e3e 26.4%,#3f3f3f 27.6%,#585858 28.8%,#515151 30%,#535353 31.2%,#434343 34.2%,#4a4a4a 36.1%,#404040 37.3%,#515151 38.5%,#3c3c3c 40.3%,#585858 44.5%,#575757 45.2%,#4d4d4d 47%,#343434 48.2%,#4b4b4b 49.4%,#404040 50.6%,#3f3f3f 51.8%,#555555 53.6%,#3f3f3f 57.3%,#555555 58.5%,#505050 59.1%,#3a3a3a 60.3%,#414141 61.5%,#3b3b3b 62.7%,#3d3d3d 63.3%,#515151 65.2%,#515151 65.8%,#404040 67%,#4d4d4d 68.2%,#3e3e3e 69.4%,#3f3f3f 71.2%,#4a4a4a 72.4%,#3f3f3f 73.6%,#4b4b4b 76.1%,#4c4c4c 77.9%,#3e3e3e 79.1%,#3a3a3a 80.9%,#2d2d2d 81.5%,#2a2a2a 82.1%,#2e2e2e 82.7%,#2a2a2a 83.9%,#373737 85.2%,#383838 85.8%,#2c2c2c 87%,#323232 88.8%,#2d2d2d 91.8%,#474747 93.6%,#393939 94.8%,#444444 96.1%,#393939 97.3%,#3e3e3e 98.5%,#343434 99.1%,#2f2f2f 100%)"></i>
<i style="background:linear-gradient(90deg,#4a4a4a 0%,#525252 0.9%,#676767 1.5%,#464646 2.1%,#414141 2.7%,#6e6e6e 3.3%,#d1d1d1 3.9%,#e8e8e8 4.5%,#d5d5d5 5.2%,#898989 5.8%,#7d7d7d 6.4%,#7e7e7e 7%,#787878 7.6%,#5f5f5f 8.2%,#5d5d5d 8.8%,#6b6b6b 9.4%,#8a8a8a 10%,#989898 10.6%,#898989 11.2%,#3f3f3f 11.8%,#1b1b1b 12.4%,#161616 13%,#181818 16.1%,#050505 18.5%,#080808 24.5%,#121212 25.2%,#2d2d2d 25.8%,#3e3e3e 26.4%,#3f3f3f 27.6%,#585858 28.8%,#515151 30%,#535353 31.2%,#434343 34.2%,#4a4a4a 36.1%,#404040 37.3%,#515151 38.5%,#3c3c3c 40.3%,#585858 44.5%,#575757 45.2%,#4d4d4d 47%,#313131 48.2%,#3c3c3c 49.4%,#343434 50.6%,#333333 51.8%,#454545 53.6%,#343434 57.3%,#454545 58.5%,#303030 60.3%,#353535 61.5%,#303030 62.7%,#383838 63.9%,#4e4e4e 65.8%,#464646 67%,#565656 68.2%,#464646 69.4%,#464646 71.2%,#535353 72.4%,#474747 73.6%,#545454 76.1%,#565656 77.9%,#464646 79.1%,#404040 80.9%,#323232 81.5%,#2e2e2e 82.1%,#313131 82.7%,#2c2c2c 83.9%,#3a3a3a 85.2%,#3b3b3b 85.8%,#2f2f2f 87%,#353535 88.8%,#303030 91.8%,#4c4c4c 93.6%,#3e3e3e 94.8%,#494949 96.1%,#3e3e3e 97.3%,#434343 98.5%,#393939 99.1%,#323232 100%)"></i>
<i style="background:linear-gradient(90deg,#4b4b4b 0%,#535353 0.9%,#676767 1.5%,#464646 2.1%,#424242 2.7%,#6e6e6e 3.3%,#d1d1d1 3.9%,#e8e8e8 4.5%,#d6d6d6 5.2%,#8a8a8a 5.8%,#7e7e7e 6.4%,#7f7f7f 7%,#797979 7.6%,#5f5f5f 8.2%,#5d5d5d 8.8%,#6b6b6b 9.4%,#8a8a8a 10%,#979797 10.6%,#878787 11.2%,#3b3b3b 11.8%,#131313 12.4%,#0d0d0d 13%,#0d0d0d 14.8%,#141414 16.7%,#070707 18.5%,#0a0a0a 24.5%,#131313 25.2%,#2e2e2e 25.8%,#3e3e3e 26.4%,#3b3b3b 27%,#3f3f3f 27.6%,#585858 28.8%,#515151 30%,#535353 31.2%,#434343 34.2%,#4a4a4a 36.1%,#404040 37.3%,#515151 38.5%,#3c3c3c 40.3%,#585858 44.5%,#575757 45.2%,#4d4d4d 47%,#2d2d2d 48.2%,#252525 51.2%,#333333 53.6%,#272727 57.3%,#343434 58.5%,#242424 60.3%,#282828 61.5%,#252525 62.7%,#2b2b2b 63.9%,#3e3e3e 65.8%,#393939 67%,#474747 68.2%,#393939 69.4%,#393939 71.2%,#444444 72.4%,#3a3a3a 73.6%,#454545 77.9%,#393939 79.1%,#343434 80.9%,#292929 81.5%,#262626 82.1%,#262626 83.9%,#313131 85.2%,#323232 85.8%,#272727 87%,#2c2c2c 88.8%,#282828 91.8%,#3f3f3f 93.6%,#333333 94.8%,#3c3c3c 96.1%,#333333 97.3%,#373737 98.5%,#2b2b2b 100%)"></i>
<i style="background:linear-gradient(90deg,#4c4c4c 0%,#535353 0.9%,#676767 1.5%,#464646 2.1%,#424242 2.7%,#6f6f6f 3.3%,#d2d2d2 3.9%,#e9e9e9 4.5%,#d6d6d6 5.2%,#8b8b8b 5.8%,#7f7f7f 6.4%,#818181 7%,#7a7a7a 7.6%,#606060 8.2%,#5d5d5d 8.8%,#6a6a6a 9.4%,#868686 10%,#939393 10.6%,#838383 11.2%,#373737 11.8%,#0f0f0f 12.4%,#090909 13%,#0b0b0b 15.5%,#1a1a1a 16.7%,#101010 20.9%,#151515 24.5%,#1c1c1c 25.2%,#343434 25.8%,#3f3f3f 26.4%,#3b3b3b 27%,#3f3f3f 27.6%,#585858 28.8%,#515151 30%,#535353 31.2%,#434343 34.2%,#4a4a4a 36.1%,#404040 37.3%,#505050 38.5%,#3c3c3c 40.3%,#585858 44.5%,#575757 45.2%,#4d4d4d 47%,#2f2f2f 48.2%,#373737 49.4%,#303030 50.6%,#2f2f2f 51.8%,#404040 53.6%,#303030 57.3%,#414141 58.5%,#2d2d2d 60.3%,#323232 61.5%,#303030 63.3%,#3e3e3e 65.2%,#313131 67%,#3c3c3c 68.2%,#303030 69.4%,#303030 71.2%,#393939 72.4%,#313131 73.6%,#3a3a3a 77.9%,#212121 82.1%,#252525 82.7%,#232323 83.9%,#2e2e2e 85.8%,#242424 87%,#292929 88.8%,#242424 91.8%,#383838 93.6%,#2d2d2d 94.8%,#363636 96.1%,#2d2d2d 97.3%,#313131 98.5%,#272727 100%)"></i>
<i style="background:linear-gradient(90deg,#4d4d4d 0%,#545454 0.9%,#686868 1.5%,#464646 2.1%,#424242 2.7%,#6f6f6f 3.3%,#d2d2d2 3.9%,#e9e9e9 4.5%,#d6d6d6 5.2%,#8b8b8b 5.8%,#808080 6.4%,#828282 7%,#7b7b7b 7.6%,#606060 8.2%,#5d5d5d 8.8%,#686868 9.4%,#808080 10%,#8a8a8a 10.6%,#7b7b7b 11.2%,#343434 11.8%,#0e0e0e 12.4%,#080808 13%,#0b0b0b 15.5%,#252525 16.7%,#2a2a2a 17.3%,#212121 21.5%,#2f2f2f 23.3%,#272727 24.5%,#2b2b2b 25.2%,#3c3c3c 25.8%,#3e3e3e 27.6%,#575757 28.8%,#505050 30%,#525252 31.2%,#424242 34.2%,#494949 36.1%,#3f3f3f 37.3%,#4f4f4f 38.5%,#3c3c3c 40.3%,#565656 44.5%,#565656 45.2%,#4c4c4c 47%,#313131 48.2%,#404040 49.4%,#373737 50.6%,#373737 51.8%,#4a4a4a 53.6%,#383838 57.3%,#4b4b4b 58.5%,#474747 59.1%,#343434 60.3%,#3a3a3a 61.5%,#353535 62.7%,#474747 65.2%,#343434 67%,#3f3f3f 68.2%,#333333 69.4%,#333333 71.2%,#3c3c3c 72.4%,#333333 73.6%,#3e3e3e 77.9%,#333333 79.1%,#2f2f2f 80.9%,#252525 81.5%,#242424 82.1%,#292929 82.7%,#262626 83.9%,#323232 85.2%,#323232 85.8%,#282828 87%,#2c2c2c 88.8%,#272727 91.8%,#3d3d3d 93.6%,#313131 94.8%,#3a3a3a 96.1%,#313131 97.3%,#343434 98.5%,#2c2c2c 99.1%,#292929 100%)"></i>
<i style="background:linear-gradient(90deg,#4e4e4e 0%,#555555 0.9%,#686868 1.5%,#464646 2.1%,#424242 2.7%,#6f6f6f 3.3%,#d2d2d2 3.9%,#e9e9e9 4.5%,#d7d7d7 5.2%,#8c8c8c 5.8%,#818181 6.4%,#838383 7%,#7c7c7c 7.6%,#606060 8.2%,#5d5d5d 8.8%,#666666 9.4%,#797979 10%,#818181 10.6%,#737373 11.2%,#313131 11.8%,#0d0d0d 12.4%,#080808 13%,#0b0b0b 15.5%,#2b2b2b 16.7%,#333333 17.3%,#2c2c2c 21.5%,#3d3d3d 23.3%,#313131 24.5%,#303030 25.2%,#3a3a3a 25.8%,#333333 27%,#363636 27.6%,#4d4d4d 28.8%,#464646 30%,#484848 31.2%,#3a3a3a 34.2%,#404040 36.1%,#373737 37.3%,#464646 38.5%,#343434 40.3%,#4c4c4c 45.2%,#434343 47%,#2c2c2c 48.2%,#3b3b3b 49.4%,#333333 50.6%,#323232 51.8%,#444444 53.6%,#333333 57.3%,#454545 58.5%,#303030 60.3%,#353535 61.5%,#303030 62.7%,#414141 65.2%,#3e3e3e 65.8%,#2b2b2b 67%,#323232 68.2%,#282828 69.4%,#282828 71.2%,#303030 72.4%,#292929 73.6%,#303030 77.9%,#1b1b1b 82.1%,#1e1e1e 83.9%,#272727 85.8%,#1f1f1f 87%,#222222 88.8%,#1e1e1e 91.8%,#2f2f2f 93.6%,#262626 94.8%,#2c2c2c 96.1%,#252525 97.3%,#282828 98.5%,#242424 100%)"></i>
<i style="background:linear-gradient(90deg,#4f4f4f 0%,#565656 0.9%,#686868 1.5%,#474747 2.1%,#424242 2.7%,#6f6f6f 3.3%,#d2d2d2 3.9%,#eaeaea 4.5%,#d7d7d7 5.2%,#8d8d8d 5.8%,#828282 6.4%,#848484 7%,#7d7d7d 7.6%,#616161 8.2%,#5d5d5d 8.8%,#797979 10.6%,#6b6b6b 11.2%,#2e2e2e 11.8%,#0d0d0d 12.4%,#080808 13%,#0b0b0b 15.5%,#2d2d2d 16.7%,#353535 17.3%,#363636 19.1%,#2e2e2e 21.5%,#404040 23.3%,#272727 25.2%,#222222 27%,#323232 28.8%,#262626 34.2%,#2a2a2a 36.1%,#252525 37.3%,#2e2e2e 38.5%,#232323 40.3%,#333333 44.5%,#2c2c2c 47%,#1f1f1f 48.2%,#282828 49.4%,#212121 51.8%,#2d2d2d 53.6%,#222222 57.3%,#2e2e2e 58.5%,#1f1f1f 60.3%,#202020 62.7%,#2c2c2c 65.2%,#2a2a2a 67%,#363636 68.2%,#2b2b2b 69.4%,#2b2b2b 71.2%,#333333 72.4%,#2b2b2b 73.6%,#343434 77.9%,#1d1d1d 82.1%,#1e1e1e 83.9%,#282828 85.8%,#1f1f1f 87%,#232323 88.8%,#1f1f1f 91.8%,#313131 93.6%,#272727 94.8%,#2e2e2e 96.1%,#272727 97.3%,#2a2a2a 98.5%,#252525 100%)"></i>
<i style="background:linear-gradient(90deg,#505050 0%,#575757 0.9%,#696969 1.5%,#474747 2.1%,#424242 2.7%,#6f6f6f 3.3%,#d3d3d3 3.9%,#eaeaea 4.5%,#d7d7d7 5.2%,#8e8e8e 5.8%,#838383 6.4%,#858585 7%,#7e7e7e 7.6%,#616161 8.2%,#5d5d5d 8.8%,#707070 10.6%,#636363 11.2%,#2c2c2c 11.8%,#0d0d0d 12.4%,#080808 13%,#0b0b0b 15.5%,#2d2d2d 16.7%,#353535 17.3%,#363636 19.1%,#2e2e2e 21.5%,#404040 23.3%,#3a3a3a 23.9%,#232323 25.2%,#1a1a1a 27%,#272727 28.8%,#1d1d1d 37.3%,#242424 38.5%,#1b1b1b 40.3%,#282828 44.5%,#232323 47%,#1a1a1a 48.2%,#1e1e1e 49.4%,#191919 51.8%,#212121 53.6%,#191919 57.3%,#222222 58.5%,#171717 60.3%,#181818 62.7%,#202020 64.5%,#343434 65.8%,#3e3e3e 67%,#4c4c4c 67.6%,#525252 68.2%,#434343 69.4%,#434343 71.2%,#4f4f4f 72.4%,#444444 73.6%,#505050 76.1%,#525252 77.9%,#434343 79.1%,#3d3d3d 80.9%,#303030 81.5%,#2c2c2c 82.1%,#2b2b2b 83.9%,#383838 85.2%,#383838 85.8%,#2d2d2d 87%,#323232 88.8%,#2d2d2d 91.8%,#474747 93.6%,#3a3a3a 94.8%,#444444 96.1%,#393939 97.3%,#3e3e3e 98.5%,#353535 99.1%,#303030 100%)"></i>
<i style="background:linear-gradient(90deg,#515151 0%,#575757 0.9%,#696969 1.5%,#474747 2.1%,#424242 2.7%,#6f6f6f 3.3%,#d3d3d3 3.9%,#eaeaea 4.5%,#d8d8d8 5.2%,#8e8e8e 5.8%,#848484 6.4%,#868686 7%,#7e7e7e 7.6%,#626262 8.2%,#5d5d5d 8.8%,#676767 10.6%,#5b5b5b 11.2%,#292929 11.8%,#0d0d0d 12.4%,#090909 13%,#0b0b0b 15.5%,#2d2d2d 16.7%,#353535 17.3%,#363636 19.1%,#2e2e2e 21.5%,#404040 23.3%,#3a3a3a 23.9%,#242424 25.2%,#1d1d1d 27%,#2b2b2b 28.8%,#202020 37.3%,#282828 38.5%,#1e1e1e 40.3%,#2c2c2c 44.5%,#262626 47%,#1c1c1c 48.2%,#222222 49.4%,#1c1c1c 51.8%,#262626 53.6%,#1d1d1d 57.3%,#272727 58.5%,#1b1b1b 60.3%,#1b1b1b 62.7%,#262626 64.5%,#454545 65.8%,#494949 67%,#5b5b5b 68.2%,#4a4a4a 69.4%,#4a4a4a 71.2%,#585858 72.4%,#4b4b4b 73.6%,#595959 76.1%,#5b5b5b 77.9%,#4a4a4a 79.1%,#444444 80.9%,#353535 81.5%,#2f2f2f 82.1%,#2a2a2a 83.3%,#2a2a2a 83.9%,#373737 85.2%,#373737 85.8%,#2c2c2c 87%,#323232 88.8%,#2d2d2d 91.8%,#474747 93.6%,#3a3a3a 94.8%,#454545 96.1%,#3a3a3a 97.3%,#3f3f3f 98.5%,#363636 99.1%,#303030 100%)"></i>
<i style="background:linear-gradient(90deg,#515151 0%,#585858 0.9%,#6a6a6a 1.5%,#474747 2.1%,#424242 2.7%,#707070 3.3%,#d3d3d3 3.9%,#eaeaea 4.5%,#d8d8d8 5.2%,#8f8f8f 5.8%,#858585 6.4%,#878787 7%,#7f7f7f 7.6%,#626262 8.2%,#5d5d5d 8.8%,#5d5d5d 10.6%,#525252 11.2%,#282828 11.8%,#101010 12.4%,#0c0c0c 13%,#0f0f0f 15.5%,#2d2d2d 16.7%,#353535 17.3%,#363636 19.1%,#2e2e2e 21.5%,#404040 23.3%,#2b2b2b 25.2%,#303030 25.8%,#292929 27%,#2c2c2c 27.6%,#3e3e3e 28.8%,#303030 34.2%,#353535 36.1%,#2e2e2e 37.3%,#3b3b3b 38.5%,#2c2c2c 40.3%,#404040 44.5%,#393939 47%,#262626 48.2%,#303030 49.4%,#282828 51.8%,#363636 53.6%,#282828 57.3%,#363636 58.5%,#252525 60.3%,#292929 61.5%,#262626 62.7%,#323232 64.5%,#4d4d4d 65.8%,#4a4a4a 67%,#5c5c5c 68.2%,#4a4a4a 69.4%,#4b4b4b 71.2%,#585858 72.4%,#4c4c4c 73.6%,#595959 76.1%,#5b5b5b 77.9%,#4b4b4b 79.1%,#454545 80.9%,#353535 81.5%,#2e2e2e 82.1%,#292929 83.3%,#292929 83.9%,#353535 85.2%,#363636 85.8%,#2b2b2b 87%,#313131 88.8%,#2c2c2c 91.8%,#464646 93.6%,#393939 94.8%,#444444 96.1%,#393939 97.3%,#3e3e3e 98.5%,#343434 99.1%,#2e2e2e 100%)"></i>
<i style="background:linear-gradient(90deg,#525252 0%,#595959 0.9%,#6a6a6a 1.5%,#474747 2.1%,#434343 2.7%,#707070 3.3%,#d3d3d3 3.9%,#ebebeb 4.5%,#d8d8d8 5.2%,#909090 5.8%,#868686 6.4%,#888888 7%,#808080 7.6%,#636363 8.2%,#585858 10%,#505050 10.6%,#424242 11.2%,#252525 11.8%,#151515 12.4%,#131313 13%,#141414 15.5%,#353535 17.3%,#363636 19.1%,#2e2e2e 21.5%,#404040 23.3%,#333333 24.5%,#313131 25.2%,#3b3b3b 25.8%,#333333 27%,#373737 27.6%,#4e4e4e 28.8%,#484848 30%,#4a4a4a 31.2%,#3c3c3c 34.2%,#434343 36.1%,#3b3b3b 37.3%,#4a4a4a 38.5%,#383838 40.3%,#525252 44.5%,#515151 45.2%,#484848 47%,#303030 48.2%,#414141 49.4%,#383838 50.6%,#373737 51.8%,#4a4a4a 53.6%,#373737 57.3%,#494949 58.5%,#323232 60.3%,#383838 61.5%,#333333 62.7%,#3a3a3a 63.9%,#535353 65.8%,#4a4a4a 67%,#5c5c5c 68.2%,#4a4a4a 69.4%,#4b4b4b 71.2%,#585858 72.4%,#4c4c4c 73.6%,#595959 76.1%,#5b5b5b 77.9%,#4b4b4b 79.1%,#454545 80.9%,#353535 81.5%,#2e2e2e 82.1%,#292929 83.3%,#292929 83.9%,#353535 85.2%,#363636 85.8%,#2b2b2b 87%,#313131 88.8%,#2c2c2c 91.8%,#464646 93.6%,#393939 94.8%,#444444 96.1%,#393939 97.3%,#3f3f3f 98.5%,#313131 100%)"></i>
<i style="background:linear-gradient(90deg,#535353 0%,#5a5a5a 0.9%,#6a6a6a 1.5%,#474747 2.1%,#434343 2.7%,#707070 3.3%,#d4d4d4 3.9%,#ebebeb 4.5%,#d9d9d9 5.2%,#909090 5.8%,#878787 6.4%,#898989 7%,#818181 7.6%,#636363 8.2%,#575757 10%,#242424 11.8%,#1b1b1b 12.4%,#1a1a1a 13%,#1b1b1b 15.5%,#353535 17.3%,#363636 19.1%,#2e2e2e 21.5%,#404040 23.3%,#333333 24.5%,#323232 25.2%,#3d3d3d 25.8%,#353535 27%,#393939 27.6%,#515151 28.8%,#4a4a4a 30%,#4d4d4d 31.2%,#3f3f3f 34.2%,#464646 36.1%,#3d3d3d 37.3%,#4d4d4d 38.5%,#3b3b3b 40.3%,#555555 44.5%,#4b4b4b 47%,#323232 48.2%,#454545 49.4%,#3b3b3b 50.6%,#3a3a3a 51.8%,#4e4e4e 53.6%,#3a3a3a 57.3%,#4e4e4e 58.5%,#494949 59.1%,#353535 60.3%,#3b3b3b 61.5%,#353535 62.7%,#383838 63.3%,#525252 65.8%,#484848 67%,#585858 68.2%,#474747 69.4%,#484848 71.2%,#555555 72.4%,#484848 73.6%,#555555 76.1%,#575757 77.9%,#474747 79.1%,#424242 80.9%,#333333 81.5%,#2d2d2d 82.1%,#282828 83.3%,#272727 83.9%,#343434 85.2%,#343434 85.8%,#2a2a2a 87%,#2f2f2f 88.8%,#2b2b2b 91.8%,#444444 93.6%,#373737 94.8%,#424242 96.1%,#373737 97.3%,#3d3d3d 98.5%,#303030 100%)"></i>
<i style="background:linear-gradient(90deg,#545454 0%,#5b5b5b 0.9%,#6b6b6b 1.5%,#474747 2.1%,#434343 2.7%,#707070 3.3%,#d4d4d4 3.9%,#ebebeb 4.5%,#d9d9d9 5.2%,#919191 5.8%,#888888 6.4%,#8a8a8a 7%,#828282 7.6%,#636363 8.2%,#595959 10%,#2e2e2e 11.2%,#212121 12.4%,#212121 15.5%,#323232 17.3%,#2a2a2a 21.5%,#3b3b3b 23.3%,#2f2f2f 24.5%,#2f2f2f 25.2%,#3b3b3b 25.8%,#353535 27%,#383838 27.6%,#505050 28.8%,#494949 30%,#4c4c4c 31.2%,#3e3e3e 34.2%,#454545 36.1%,#3c3c3c 37.3%,#4c4c4c 38.5%,#3a3a3a 40.3%,#545454 44.5%,#4a4a4a 47%,#303030 48.2%,#434343 49.4%,#3a3a3a 50.6%,#393939 51.8%,#4c4c4c 53.6%,#383838 57.3%,#4c4c4c 58.5%,#474747 59.1%,#343434 60.3%,#3a3a3a 61.5%,#363636 63.3%,#494949 65.2%,#4a4a4a 65.8%,#3a3a3a 67%,#464646 68.2%,#383838 69.4%,#393939 71.2%,#434343 72.4%,#393939 73.6%,#454545 77.9%,#383838 79.1%,#343434 80.9%,#282828 81.5%,#242424 82.1%,#232323 83.3%,#2d2d2d 85.8%,#242424 87%,#282828 88.8%,#242424 91.8%,#393939 93.6%,#2e2e2e 94.8%,#373737 96.1%,#2e2e2e 97.3%,#323232 98.5%,#292929 100%)"></i>
<i style="background:linear-gradient(90deg,#555555 0%,#5b5b5b 0.9%,#6b6b6b 1.5%,#484848 2.1%,#434343 2.7%,#707070 3.3%,#d4d4d4 3.9%,#ececec 4.5%,#dadada 5.2%,#929292 5.8%,#898989 6.4%,#8b8b8b 7%,#838383 7.6%,#646464 8.2%,#595959 10%,#2d2d2d 11.2%,#282828 11.8%,#272727 15.5%,#191919 21.5%,#222222 23.3%,#1d1d1d 24.5%,#202020 25.2%,#2e2e2e 25.8%,#303030 27.6%,#454545 28.8%,#353535 34.2%,#3b3b3b 36.1%,#343434 37.3%,#424242 38.5%,#323232 40.3%,#484848 44.5%,#3f3f3f 47%,#2b2b2b 48.2%,#3a3a3a 49.4%,#323232 50.6%,#313131 51.8%,#424242 53.6%,#313131 57.3%,#424242 58.5%,#2e2e2e 60.3%,#333333 61.5%,#2e2e2e 62.7%,#3e3e3e 65.2%,#303030 67%,#3c3c3c 68.2%,#303030 69.4%,#303030 71.2%,#393939 72.4%,#303030 73.6%,#3a3a3a 77.9%,#2f2f2f 79.1%,#2b2b2b 80.9%,#222222 81.5%,#212121 82.1%,#222222 83.9%,#2d2d2d 85.8%,#242424 87%,#282828 88.8%,#232323 91.8%,#373737 93.6%,#2d2d2d 94.8%,#353535 96.1%,#2c2c2c 97.3%,#303030 98.5%,#272727 100%)"></i>
<i style="background:linear-gradient(90deg,#565656 0%,#5c5c5c 0.9%,#6b6b6b 1.5%,#484848 2.1%,#434343 2.7%,#707070 3.3%,#d5d5d5 3.9%,#ececec 4.5%,#dadada 5.2%,#929292 5.8%,#8a8a8a 6.4%,#8c8c8c 7%,#848484 7.6%,#646464 8.2%,#595959 10%,#2d2d2d 11.2%,#2d2d2d 15.5%,#181818 16.7%,#090909 18.5%,#0a0a0a 23.9%,#191919 25.8%,#191919 27.6%,#242424 28.8%,#1b1b1b 37.3%,#222222 38.5%,#191919 40.3%,#252525 45.2%,#1b1b1b 48.2%,#2b2b2b 49.4%,#252525 51.8%,#323232 53.6%,#262626 57.3%,#333333 58.5%,#232323 60.3%,#272727 61.5%,#242424 62.7%,#303030 65.2%,#2e2e2e 66.4%,#494949 68.2%,#3b3b3b 69.4%,#3b3b3b 71.2%,#464646 72.4%,#3c3c3c 73.6%,#464646 76.1%,#484848 77.9%,#3b3b3b 79.1%,#363636 80.9%,#2b2b2b 81.5%,#292929 82.1%,#2f2f2f 82.7%,#2d2d2d 83.9%,#3a3a3a 85.2%,#3b3b3b 85.8%,#2e2e2e 87%,#343434 88.8%,#2e2e2e 91.8%,#484848 93.6%,#3a3a3a 94.8%,#454545 96.1%,#3a3a3a 97.3%,#3e3e3e 98.5%,#333333 99.1%,#2d2d2d 100%)"></i>
<i style="background:linear-gradient(90deg,#575757 0%,#5d5d5d 0.9%,#6c6c6c 1.5%,#484848 2.1%,#434343 2.7%,#717171 3.3%,#d5d5d5 3.9%,#ececec 4.5%,#dadada 5.2%,#939393 5.8%,#858585 7.6%,#656565 8.2%,#595959 10%,#2e2e2e 11.2%,#353535 13%,#333333 15.5%,#171717 16.7%,#050505 18.5%,#050505 23.9%,#101010 25.8%,#0a0a0a 27%,#0f0f0f 28.8%,#0d0d0d 47.6%,#141414 48.8%,#121212 51.8%,#181818 53.6%,#121212 57.3%,#181818 58.5%,#111111 60.3%,#111111 62.7%,#1b1b1b 66.4%,#333333 67.6%,#383838 68.2%,#2d2d2d 69.4%,#2d2d2d 71.2%,#353535 72.4%,#2d2d2d 73.6%,#363636 77.9%,#1f1f1f 82.1%,#232323 82.7%,#212121 83.9%,#2c2c2c 85.8%,#222222 87%,#262626 88.8%,#222222 91.8%,#353535 93.6%,#2b2b2b 94.8%,#323232 96.1%,#2a2a2a 97.3%,#2e2e2e 98.5%,#262626 100%)"></i>
<i style="background:linear-gradient(90deg,#585858 0%,#5e5e5e 0.9%,#6c6c6c 1.5%,#484848 2.1%,#434343 2.7%,#717171 3.3%,#d5d5d5 3.9%,#ededed 4.5%,#dbdbdb 5.2%,#949494 5.8%,#8c8c8c 6.4%,#8e8e8e 7%,#868686 7.6%,#656565 8.2%,#5a5a5a 10%,#2f2f2f 11.2%,#3c3c3c 13%,#393939 15.5%,#171717 16.7%,#050505 18.5%,#050505 23.9%,#0e0e0e 25.8%,#080808 27%,#0c0c0c 28.8%,#0a0a0a 47.6%,#111111 48.8%,#0d0d0d 51.2%,#121212 53.6%,#0d0d0d 62.7%,#121212 65.8%,#161616 66.4%,#2e2e2e 67.6%,#333333 68.2%,#292929 69.4%,#292929 71.2%,#303030 72.4%,#292929 73.6%,#313131 77.9%,#1c1c1c 82.1%,#1e1e1e 83.9%,#272727 85.8%,#1f1f1f 87%,#232323 88.8%,#1f1f1f 91.8%,#303030 93.6%,#262626 94.8%,#2d2d2d 96.1%,#262626 97.3%,#292929 98.5%,#242424 100%)"></i>
<i style="background:linear-gradient(90deg,#595959 0%,#5f5f5f 0.9%,#6c6c6c 1.5%,#484848 2.1%,#434343 2.7%,#717171 3.3%,#d5d5d5 3.9%,#ededed 4.5%,#dbdbdb 5.2%,#949494 5.8%,#8d8d8d 6.4%,#8f8f8f 7%,#878787 7.6%,#666666 8.2%,#5a5a5a 10%,#2f2f2f 11.2%,#3f3f3f 12.4%,#414141 14.8%,#3d3d3d 15.5%,#1a1a1a 16.7%,#090909 18.5%,#070707 21.5%,#0e0e0e 25.8%,#080808 27%,#0c0c0c 28.8%,#0a0a0a 47.6%,#121212 48.8%,#0d0d0d 51.2%,#121212 53.6%,#0d0d0d 57.3%,#121212 58.5%,#0c0c0c 60.3%,#0d0d0d 63.3%,#121212 65.8%,#191919 66.4%,#3a3a3a 67.6%,#404040 68.2%,#343434 69.4%,#343434 71.2%,#3d3d3d 72.4%,#353535 73.6%,#3f3f3f 77.9%,#343434 79.1%,#303030 80.9%,#252525 81.5%,#242424 82.1%,#292929 82.7%,#272727 83.9%,#333333 85.2%,#333333 85.8%,#292929 87%,#2d2d2d 88.8%,#282828 91.8%,#3f3f3f 93.6%,#333333 94.8%,#3c3c3c 96.1%,#323232 97.3%,#363636 98.5%,#2d2d2d 99.1%,#292929 100%)"></i>
<i style="background:linear-gradient(90deg,#595959 0%,#5f5f5f 0.9%,#6d6d6d 1.5%,#484848 2.1%,#434343 2.7%,#717171 3.3%,#d6d6d6 3.9%,#ededed 4.5%,#dbdbdb 5.2%,#959595 5.8%,#8e8e8e 6.4%,#909090 7%,#888888 7.6%,#666666 8.2%,#5f5f5f 8.8%,#5a5a5a 10%,#2f2f2f 11.2%,#414141 12.4%,#434343 14.8%,#404040 15.5%,#252525 16.7%,#222222 17.3%,#191919 21.5%,#232323 23.3%,#0a0a0a 27%,#0f0f0f 28.8%,#0c0c0c 47.6%,#131313 48.8%,#0f0f0f 51.2%,#151515 53.6%,#0f0f0f 63.3%,#141414 65.8%,#1a1a1a 66.4%,#373737 67.6%,#3d3d3d 68.2%,#313131 69.4%,#313131 71.2%,#3a3a3a 72.4%,#323232 73.6%,#3c3c3c 77.9%,#313131 79.1%,#2d2d2d 80.9%,#232323 81.5%,#222222 82.1%,#272727 82.7%,#252525 83.9%,#303030 85.8%,#262626 87%,#2b2b2b 88.8%,#262626 91.8%,#3b3b3b 93.6%,#303030 94.8%,#383838 96.1%,#2f2f2f 97.3%,#333333 98.5%,#282828 100%)"></i>
<i style="background:linear-gradient(90deg,#5a5a5a 0%,#606060 0.9%,#6d6d6d 1.5%,#484848 2.1%,#444444 2.7%,#717171 3.3%,#d6d6d6 3.9%,#ededed 4.5%,#dcdcdc 5.2%,#969696 5.8%,#8f8f8f 6.4%,#919191 7%,#898989 7.6%,#676767 8.2%,#5f5f5f 8.8%,#5a5a5a 10%,#303030 11.2%,#444444 12.4%,#464646 13%,#434343 15.5%,#303030 16.7%,#323232 19.1%,#2b2b2b 20.9%,#2b2b2b 21.5%,#3b3b3b 23.3%,#363636 23.9%,#1f1f1f 25.2%,#151515 27%,#212121 28.8%,#191919 37.3%,#202020 38.5%,#191919 40.3%,#242424 44.5%,#181818 48.2%,#232323 49.4%,#1d1d1d 51.8%,#272727 53.6%,#1d1d1d 57.3%,#282828 58.5%,#1b1b1b 60.3%,#1c1c1c 62.7%,#252525 65.2%,#222222 66.4%,#333333 68.2%,#292929 69.4%,#292929 71.2%,#303030 72.4%,#292929 73.6%,#313131 77.9%,#1c1c1c 82.1%,#1e1e1e 83.9%,#272727 85.8%,#1f1f1f 87%,#232323 88.8%,#1f1f1f 91.8%,#303030 93.6%,#262626 94.8%,#2d2d2d 96.1%,#262626 97.3%,#292929 98.5%,#242424 100%)"></i>
<i style="background:linear-gradient(90deg,#5b5b5b 0%,#616161 0.9%,#6e6e6e 1.5%,#484848 2.1%,#444444 2.7%,#717171 3.3%,#d6d6d6 3.9%,#eeeeee 4.5%,#dcdcdc 5.2%,#969696 5.8%,#909090 6.4%,#929292 7%,#8a8a8a 7.6%,#676767 8.2%,#5f5f5f 8.8%,#5a5a5a 10%,#303030 11.2%,#464646 12.4%,#484848 14.8%,#454545 15.5%,#323232 16.7%,#363636 19.1%,#2e2e2e 21.5%,#404040 23.3%,#2a2a2a 25.2%,#2e2e2e 25.8%,#292929 27%,#2c2c2c 27.6%,#3f3f3f 28.8%,#3f3f3f 31.2%,#363636 34.2%,#3e3e3e 36.1%,#373737 37.3%,#474747 38.5%,#373737 40.3%,#515151 44.5%,#474747 47%,#313131 48.2%,#424242 49.4%,#393939 50.6%,#383838 51.8%,#4c4c4c 53.6%,#393939 57.3%,#4c4c4c 58.5%,#484848 59.1%,#343434 60.3%,#3a3a3a 61.5%,#353535 62.7%,#464646 65.2%,#434343 65.8%,#313131 67%,#3b3b3b 68.2%,#2f2f2f 69.4%,#2f2f2f 71.2%,#383838 72.4%,#303030 73.6%,#393939 77.9%,#2f2f2f 79.1%,#2b2b2b 80.9%,#222222 81.5%,#212121 82.1%,#252525 82.7%,#232323 83.9%,#2e2e2e 85.8%,#242424 87%,#282828 88.8%,#242424 91.8%,#383838 93.6%,#2d2d2d 94.8%,#353535 96.1%,#2c2c2c 97.3%,#303030 98.5%,#272727 100%)"></i>
<i style="background:linear-gradient(90deg,#5c5c5c 0%,#626262 0.9%,#6e6e6e 1.5%,#494949 2.1%,#444444 2.7%,#727272 3.3%,#d6d6d6 3.9%,#eeeeee 4.5%,#dcdcdc 5.2%,#979797 5.8%,#919191 6.4%,#939393 7%,#8a8a8a 7.6%,#676767 8.2%,#5f5f5f 8.8%,#5a5a5a 10%,#303030 11.2%,#484848 12.4%,#4a4a4a 13%,#474747 15.5%,#323232 16.7%,#363636 19.1%,#2e2e2e 21.5%,#414141 23.3%,#303030 25.2%,#3a3a3a 25.8%,#343434 27%,#383838 27.6%,#535353 28.8%,#4f4f4f 30%,#545454 31.2%,#4a4a4a 34.2%,#4e4e4e 35.5%,#565656 36.1%,#4d4d4d 37.3%,#646464 38.5%,#4e4e4e 40.3%,#555555 41.5%,#656565 42.7%,#696969 43.9%,#727272 44.5%,#656565 47%,#424242 48.2%,#606060 49.4%,#545454 50.6%,#525252 51.8%,#696969 53%,#6f6f6f 53.6%,#545454 56.7%,#535353 57.3%,#6f6f6f 58.5%,#696969 59.1%,#575757 59.7%,#4d4d4d 60.3%,#555555 61.5%,#4d4d4d 62.7%,#515151 63.3%,#6c6c6c 65.2%,#6d6d6d 65.8%,#515151 67%,#606060 68.2%,#4d4d4d 69.4%,#4d4d4d 71.2%,#5b5b5b 72.4%,#4e4e4e 73.6%,#5b5b5b 76.1%,#5c5c5c 77.9%,#4c4c4c 79.1%,#464646 80.9%,#363636 81.5%,#313131 82.1%,#333333 82.7%,#2f2f2f 83.3%,#2e2e2e 83.9%,#3c3c3c 85.2%,#3d3d3d 85.8%,#303030 87%,#363636 88.8%,#303030 91.8%,#4b4b4b 93.6%,#3d3d3d 94.8%,#484848 96.1%,#3c3c3c 97.3%,#414141 98.5%,#353535 99.1%,#2f2f2f 100%)"></i>
<i style="background:linear-gradient(90deg,#5d5d5d 0%,#626262 0.9%,#6e6e6e 1.5%,#494949 2.1%,#444444 2.7%,#727272 3.3%,#d7d7d7 3.9%,#eeeeee 4.5%,#dddddd 5.2%,#989898 5.8%,#929292 6.4%,#949494 7%,#8b8b8b 7.6%,#686868 8.2%,#5f5f5f 8.8%,#5b5b5b 10%,#303030 11.2%,#4a4a4a 12.4%,#4d4d4d 13.6%,#494949 15.5%,#323232 16.7%,#363636 19.1%,#2e2e2e 21.5%,#414141 23.3%,#313131 25.2%,#3b3b3b 25.8%,#363636 27%,#3b3b3b 27.6%,#565656 28.8%,#525252 30%,#575757 31.2%,#4d4d4d 34.2%,#515151 35.5%,#5a5a5a 36.1%,#515151 37.3%,#696969 38.5%,#565656 39.7%,#525252 40.3%,#595959 41.5%,#6b6b6b 42.7%,#6f6f6f 43.9%,#797979 44.5%,#6a6a6a 47%,#454545 48.2%,#666666 49.4%,#595959 50.6%,#585858 51.8%,#707070 53%,#767676 53.6%,#595959 56.7%,#585858 57.3%,#767676 58.5%,#707070 59.1%,#5d5d5d 59.7%,#525252 60.3%,#5b5b5b 61.5%,#525252 62.7%,#565656 63.3%,#6d6d6d 64.5%,#8a8a8a 65.2%,#9f9f9f 65.8%,#999999 67%,#b2b2b2 67.6%,#c2c2c2 68.2%,#9d9d9d 69.4%,#a2a2a2 70.6%,#9b9b9b 71.2%,#b6b6b6 72.4%,#9a9a9a 73.6%,#a4a4a4 74.2%,#b1b1b1 76.1%,#b4b4b4 77.9%,#939393 79.1%,#8d8d8d 79.7%,#8f8f8f 80.3%,#878787 80.9%,#686868 81.5%,#525252 82.1%,#3a3a3a 83.3%,#383838 83.9%,#494949 85.2%,#4a4a4a 85.8%,#3b3b3b 87%,#3a3a3a 87.6%,#434343 88.8%,#3c3c3c 91.8%,#606060 93.6%,#4e4e4e 94.8%,#5d5d5d 96.1%,#4e4e4e 97.3%,#545454 98.5%,#383838 99.7%,#383838 100%)"></i>
<i style="background:linear-gradient(90deg,#5e5e5e 0%,#636363 0.9%,#6f6f6f 1.5%,#494949 2.1%,#444444 2.7%,#727272 3.3%,#d7d7d7 3.9%,#efefef 4.5%,#dddddd 5.2%,#989898 5.8%,#939393 6.4%,#959595 7%,#8c8c8c 7.6%,#686868 8.2%,#606060 8.8%,#5b5b5b 10%,#303030 11.2%,#4c4c4c 12.4%,#4f4f4f 13.6%,#4b4b4b 15.5%,#333333 16.7%,#363636 19.1%,#2e2e2e 21.5%,#414141 23.3%,#313131 25.2%,#3c3c3c 25.8%,#363636 27%,#3b3b3b 27.6%,#565656 28.8%,#525252 30%,#575757 31.2%,#4d4d4d 34.2%,#515151 35.5%,#5a5a5a 36.1%,#515151 37.3%,#696969 38.5%,#565656 39.7%,#525252 40.3%,#595959 41.5%,#6b6b6b 42.7%,#6f6f6f 43.9%,#797979 44.5%,#6a6a6a 47%,#444444 48.2%,#666666 49.4%,#595959 50.6%,#575757 51.8%,#707070 53%,#767676 53.6%,#595959 56.7%,#585858 57.3%,#767676 58.5%,#6f6f6f 59.1%,#5c5c5c 59.7%,#515151 60.3%,#5a5a5a 61.5%,#525252 62.7%,#555555 63.3%,#6d6d6d 64.5%,#a5a5a5 65.8%,#a2a2a2 67%,#bcbcbc 67.6%,#cdcdcd 68.2%,#bdbdbd 68.8%,#a6a6a6 69.4%,#ababab 70.6%,#a4a4a4 71.2%,#c0c0c0 72.4%,#a2a2a2 73.6%,#adadad 74.2%,#bbbbbb 76.1%,#bdbdbd 77.9%,#9b9b9b 79.1%,#949494 79.7%,#979797 80.3%,#8f8f8f 80.9%,#6d6d6d 81.5%,#565656 82.1%,#3b3b3b 83.3%,#393939 83.9%,#4a4a4a 85.2%,#4b4b4b 85.8%,#3c3c3c 87%,#3b3b3b 87.6%,#444444 88.8%,#3d3d3d 91.8%,#616161 93.6%,#4f4f4f 94.8%,#5e5e5e 96.1%,#505050 97.3%,#565656 98.5%,#393939 99.7%,#393939 100%)"></i>
<i style="background:linear-gradient(90deg,#5f5f5f 0%,#646464 0.9%,#6f6f6f 1.5%,#494949 2.1%,#444444 2.7%,#727272 3.3%,#d7d7d7 3.9%,#efefef 4.5%,#dedede 5.2%,#999999 5.8%,#949494 6.4%,#969696 7%,#8d8d8d 7.6%,#696969 8.2%,#606060 8.8%,#5b5b5b 10%,#313131 11.2%,#4e4e4e 12.4%,#515151 13.6%,#4d4d4d 15.5%,#333333 16.7%,#363636 19.1%,#2e2e2e 21.5%,#414141 23.3%,#313131 25.2%,#3c3c3c 25.8%,#363636 27%,#3b3b3b 27.6%,#565656 28.8%,#525252 30%,#575757 31.2%,#4d4d4d 34.2%,#515151 35.5%,#5a5a5a 36.1%,#515151 37.3%,#696969 38.5%,#565656 39.7%,#525252 40.3%,#595959 41.5%,#6b6b6b 42.7%,#6f6f6f 43.9%,#797979 44.5%,#6a6a6a 47%,#434343 48.2%,#5a5a5a 49.4%,#4e4e4e 50.6%,#4d4d4d 51.8%,#626262 53%,#686868 53.6%,#4d4d4d 57.3%,#686868 58.5%,#626262 59.1%,#515151 59.7%,#484848 60.3%,#505050 61.5%,#484848 62.7%,#545454 63.9%,#7e7e7e 65.8%,#727272 67%,#8e8e8e 68.2%,#737373 69.4%,#767676 70.6%,#727272 71.2%,#858585 72.4%,#717171 73.6%,#828282 76.1%,#858585 77.9%,#6c6c6c 79.1%,#646464 80.9%,#4d4d4d 81.5%,#404040 82.1%,#323232 83.3%,#313131 83.9%,#404040 85.2%,#414141 85.8%,#333333 87%,#3a3a3a 88.8%,#343434 91.8%,#525252 93.6%,#424242 94.8%,#4f4f4f 96.1%,#424242 97.3%,#484848 98.5%,#3b3b3b 99.1%,#333333 100%)"></i>
<i style="background:linear-gradient(90deg,#606060 0%,#656565 0.9%,#6f6f6f 1.5%,#494949 2.1%,#444444 2.7%,#727272 3.3%,#d7d7d7 3.9%,#efefef 4.5%,#dedede 5.2%,#9a9a9a 5.8%,#959595 6.4%,#979797 7%,#8e8e8e 7.6%,#696969 8.2%,#606060 8.8%,#5b5b5b 10%,#313131 11.2%,#505050 12.4%,#535353 13%,#4f4f4f 15.5%,#333333 16.7%,#363636 19.1%,#2e2e2e 21.5%,#414141 23.3%,#313131 25.2%,#3c3c3c 25.8%,#363636 27%,#3b3b3b 27.6%,#565656 28.8%,#525252 30%,#575757 31.2%,#4d4d4d 34.2%,#515151 35.5%,#5a5a5a 36.1%,#515151 37.3%,#696969 38.5%,#565656 39.7%,#525252 40.3%,#595959 41.5%,#6b6b6b 42.7%,#6f6f6f 43.9%,#797979 44.5%,#6a6a6a 47%,#575757 47.6%,#3a3a3a 48.2%,#323232 48.8%,#343434 49.4%,#2b2b2b 51.2%,#3b3b3b 53.6%,#2c2c2c 57.3%,#3c3c3c 58.5%,#292929 60.3%,#2e2e2e 61.5%,#2a2a2a 62.7%,#3b3b3b 65.2%,#363636 67%,#454545 68.2%,#383838 69.4%,#383838 71.2%,#424242 72.4%,#383838 73.6%,#424242 77.9%,#363636 79.1%,#323232 80.9%,#272727 81.5%,#242424 82.1%,#232323 83.9%,#2e2e2e 85.8%,#242424 87%,#292929 88.8%,#242424 91.8%,#383838 93.6%,#2e2e2e 94.8%,#363636 96.1%,#2d2d2d 97.3%,#313131 98.5%,#282828 100%)"></i>
<i style="background:linear-gradient(90deg,#616161 0%,#666666 0.9%,#707070 1.5%,#494949 2.1%,#444444 2.7%,#727272 3.3%,#d8d8d8 3.9%,#efefef 4.5%,#dedede 5.2%,#9a9a9a 5.8%,#959595 6.4%,#989898 7%,#8f8f8f 7.6%,#696969 8.2%,#606060 8.8%,#5b5b5b 10%,#313131 11.2%,#525252 12.4%,#565656 13%,#515151 15.5%,#333333 16.7%,#363636 19.1%,#2e2e2e 21.5%,#414141 23.3%,#313131 25.2%,#3c3c3c 25.8%,#363636 27%,#3b3b3b 27.6%,#565656 28.8%,#525252 30%,#575757 31.2%,#4d4d4d 34.2%,#515151 35.5%,#5a5a5a 36.1%,#515151 37.3%,#696969 38.5%,#565656 39.7%,#525252 40.3%,#595959 41.5%,#6b6b6b 42.7%,#6f6f6f 43.9%,#797979 44.5%,#6a6a6a 47%,#575757 47.6%,#3b3b3b 48.2%,#353535 48.8%,#383838 49.4%,#2e2e2e 51.2%,#404040 53.6%,#303030 57.3%,#414141 58.5%,#2d2d2d 60.3%,#323232 61.5%,#2f2f2f 63.3%,#404040 65.2%,#414141 65.8%,#363636 67%,#414141 68.2%,#353535 69.4%,#353535 71.2%,#3e3e3e 72.4%,#353535 73.6%,#3f3f3f 77.9%,#343434 79.1%,#2f2f2f 80.9%,#252525 81.5%,#212121 83.3%,#2a2a2a 85.8%,#212121 87%,#252525 88.8%,#212121 91.8%,#343434 93.6%,#2a2a2a 94.8%,#323232 96.1%,#292929 97.3%,#2d2d2d 98.5%,#272727 100%)"></i>
<i style="background:linear-gradient(90deg,#636363 0%,#686868 0.9%,#727272 1.5%,#4a4a4a 2.1%,#454545 2.7%,#727272 3.3%,#d8d8d8 3.9%,#f0f0f0 4.5%,#dedede 5.2%,#9b9b9b 5.8%,#969696 6.4%,#999999 7%,#8f8f8f 7.6%,#6a6a6a 8.2%,#606060 8.8%,#5a5a5a 10%,#313131 11.2%,#545454 12.4%,#585858 13%,#535353 15.5%,#343434 16.7%,#363636 19.1%,#2f2f2f 21.5%,#414141 23.3%,#313131 25.2%,#3b3b3b 25.8%,#353535 27%,#3a3a3a 27.6%,#555555 28.8%,#515151 30%,#565656 31.2%,#4c4c4c 34.2%,#505050 35.5%,#585858 36.1%,#4f4f4f 37.3%,#676767 38.5%,#555555 39.7%,#515151 40.3%,#585858 41.5%,#696969 42.7%,#6d6d6d 43.9%,#777777 44.5%,#686868 47%,#404040 48.2%,#454545 48.8%,#515151 49.4%,#464646 50.6%,#454545 51.8%,#5e5e5e 53.6%,#474747 57.3%,#606060 58.5%,#5a5a5a 59.1%,#424242 60.3%,#4a4a4a 61.5%,#434343 62.7%,#474747 63.3%,#595959 64.5%,#6e6e6e 65.2%,#7c7c7c 65.8%,#707070 67%,#898989 68.2%,#6e6e6e 69.4%,#737373 70.6%,#6f6f6f 71.2%,#838383 72.4%,#707070 73.6%,#848484 76.1%,#878787 77.9%,#6f6f6f 79.1%,#666666 80.9%,#4e4e4e 81.5%,#404040 82.1%,#323232 83.3%,#313131 83.9%,#404040 85.2%,#414141 85.8%,#333333 87%,#3a3a3a 88.8%,#343434 91.8%,#535353 93.6%,#434343 94.8%,#505050 96.1%,#434343 97.3%,#494949 98.5%,#3d3d3d 99.1%,#353535 100%)"></i>
<i style="background:linear-gradient(90deg,#656565 0%,#737373 1.5%,#4a4a4a 2.1%,#454545 2.7%,#737373 3.3%,#d8d8d8 3.9%,#f0f0f0 4.5%,#dfdfdf 5.2%,#9b9b9b 5.8%,#979797 6.4%,#9a9a9a 7%,#909090 7.6%,#6a6a6a 8.2%,#545454 10%,#3e3e3e 10.6%,#313131 11.2%,#575757 12.4%,#5a5a5a 13%,#5a5a5a 14.8%,#555555 15.5%,#343434 16.7%,#363636 19.1%,#2f2f2f 21.5%,#414141 23.3%,#2e2e2e 25.2%,#353535 25.8%,#2f2f2f 27%,#333333 27.6%,#4b4b4b 28.8%,#474747 30%,#4b4b4b 31.2%,#424242 34.2%,#454545 35.5%,#4c4c4c 36.1%,#444444 37.3%,#585858 38.5%,#454545 40.3%,#4a4a4a 41.5%,#595959 42.7%,#5c5c5c 43.9%,#646464 44.5%,#585858 47%,#393939 48.2%,#4d4d4d 49.4%,#424242 50.6%,#424242 51.8%,#595959 53.6%,#434343 57.3%,#5b5b5b 58.5%,#565656 59.1%,#3f3f3f 60.3%,#464646 61.5%,#404040 62.7%,#4a4a4a 63.9%,#575757 64.5%,#929292 65.8%,#909090 67%,#a4a4a4 67.6%,#b1b1b1 68.2%,#8f8f8f 69.4%,#959595 70.6%,#909090 71.2%,#aaaaaa 72.4%,#929292 73.6%,#9d9d9d 74.2%,#acacac 76.1%,#b0b0b0 77.9%,#909090 79.1%,#8a8a8a 79.7%,#8d8d8d 80.3%,#858585 80.9%,#666666 81.5%,#515151 82.1%,#3b3b3b 83.3%,#393939 83.9%,#4b4b4b 85.2%,#4c4c4c 85.8%,#3c3c3c 87%,#3b3b3b 87.6%,#444444 88.8%,#3e3e3e 91.8%,#626262 93.6%,#505050 94.8%,#5f5f5f 96.1%,#505050 97.3%,#575757 98.5%,#3c3c3c 99.7%,#3c3c3c 100%)"></i>
<i style="background:linear-gradient(90deg,#676767 0%,#747474 1.5%,#4b4b4b 2.1%,#454545 2.7%,#737373 3.3%,#d8d8d8 3.9%,#f0f0f0 4.5%,#dfdfdf 5.2%,#9c9c9c 5.8%,#979797 6.4%,#9a9a9a 7%,#919191 7.6%,#6a6a6a 8.2%,#5c5c5c 9.4%,#393939 10.6%,#313131 11.2%,#565656 12.4%,#595959 14.2%,#545454 15.5%,#343434 16.7%,#363636 19.1%,#2f2f2f 21.5%,#414141 23.3%,#262626 25.2%,#212121 27%,#323232 28.8%,#282828 34.2%,#2d2d2d 36.1%,#282828 37.3%,#333333 38.5%,#272727 40.3%,#393939 44.5%,#323232 47%,#232323 48.2%,#2d2d2d 49.4%,#262626 51.8%,#343434 53.6%,#272727 57.3%,#343434 58.5%,#242424 60.3%,#282828 61.5%,#252525 62.7%,#2b2b2b 63.9%,#363636 64.5%,#797979 65.8%,#828282 66.4%,#828282 67%,#959595 67.6%,#a1a1a1 68.2%,#828282 69.4%,#878787 70.6%,#838383 71.2%,#9b9b9b 72.4%,#848484 73.6%,#8e8e8e 74.2%,#9c9c9c 76.1%,#a0a0a0 77.9%,#838383 79.1%,#7d7d7d 79.7%,#808080 80.3%,#787878 80.9%,#5c5c5c 81.5%,#4a4a4a 82.1%,#373737 83.3%,#353535 83.9%,#454545 85.2%,#464646 85.8%,#383838 87%,#3f3f3f 88.8%,#393939 91.8%,#5b5b5b 93.6%,#4a4a4a 94.8%,#585858 96.1%,#4a4a4a 97.3%,#505050 98.5%,#373737 99.7%,#373737 100%)"></i>
<i style="background:linear-gradient(90deg,#696969 0%,#757575 1.5%,#4b4b4b 2.1%,#454545 2.7%,#737373 3.3%,#d8d8d8 3.9%,#f0f0f0 4.5%,#dfdfdf 5.2%,#9c9c9c 5.8%,#989898 6.4%,#9b9b9b 7%,#919191 7.6%,#6a6a6a 8.2%,#5a5a5a 9.4%,#333333 10.6%,#2f2f2f 11.2%,#4a4a4a 12.4%,#4c4c4c 14.2%,#494949 15.5%,#333333 16.7%,#363636 19.1%,#2f2f2f 21.5%,#414141 23.3%,#3b3b3b 23.9%,#232323 25.2%,#1a1a1a 27%,#272727 28.8%,#1d1d1d 37.3%,#242424 38.5%,#1b1b1b 40.3%,#282828 44.5%,#232323 47%,#1a1a1a 48.2%,#202020 49.4%,#1b1b1b 51.8%,#252525 53.6%,#1c1c1c 57.3%,#252525 58.5%,#1a1a1a 60.3%,#1a1a1a 62.7%,#232323 64.5%,#363636 65.8%,#383838 67%,#464646 68.2%,#393939 69.4%,#393939 71.2%,#434343 72.4%,#3a3a3a 73.6%,#454545 77.9%,#393939 79.1%,#343434 80.9%,#242424 82.1%,#212121 83.3%,#2b2b2b 85.8%,#222222 87%,#262626 88.8%,#232323 91.8%,#373737 93.6%,#2c2c2c 94.8%,#353535 96.1%,#2c2c2c 97.3%,#303030 98.5%,#282828 100%)"></i>
<i style="background:linear-gradient(90deg,#6b6b6b 0%,#777777 1.5%,#4b4b4b 2.1%,#454545 2.7%,#737373 3.3%,#d8d8d8 3.9%,#f0f0f0 4.5%,#dfdfdf 5.2%,#9d9d9d 5.8%,#9c9c9c 7%,#929292 7.6%,#6a6a6a 8.2%,#585858 9.4%,#414141 10%,#323232 10.6%,#2d2d2d 11.2%,#3b3b3b 13%,#3a3a3a 14.8%,#313131 16.7%,#363636 19.1%,#2f2f2f 21.5%,#414141 23.3%,#3b3b3b 23.9%,#222222 25.2%,#191919 27%,#252525 28.8%,#1c1c1c 37.3%,#232323 38.5%,#1a1a1a 40.3%,#262626 44.5%,#212121 47%,#191919 48.2%,#1f1f1f 49.4%,#1a1a1a 51.8%,#232323 53.6%,#1b1b1b 57.3%,#242424 58.5%,#191919 60.3%,#191919 62.7%,#292929 65.8%,#252525 67%,#2f2f2f 68.2%,#262626 69.4%,#262626 71.2%,#2d2d2d 72.4%,#262626 73.6%,#2e2e2e 77.9%,#1a1a1a 82.1%,#1a1a1a 83.9%,#232323 85.8%,#1c1c1c 87%,#1d1d1d 91.8%,#2d2d2d 93.6%,#252525 94.8%,#2c2c2c 96.1%,#252525 97.3%,#292929 98.5%,#262626 100%)"></i>
<i style="background:linear-gradient(90deg,#6d6d6d 0%,#787878 1.5%,#4c4c4c 2.1%,#454545 2.7%,#737373 3.3%,#d8d8d8 3.9%,#f0f0f0 4.5%,#dfdfdf 5.2%,#9d9d9d 5.8%,#9c9c9c 7%,#929292 7.6%,#6a6a6a 8.2%,#555555 9.4%,#3e3e3e 10%,#2b2b2b 11.2%,#2b2b2b 15.5%,#353535 17.9%,#2d2d2d 21.5%,#3e3e3e 23.3%,#393939 23.9%,#222222 25.2%,#1a1a1a 27%,#272727 28.8%,#1d1d1d 37.3%,#252525 38.5%,#1c1c1c 40.3%,#292929 44.5%,#242424 47%,#1a1a1a 48.2%,#202020 49.4%,#1b1b1b 51.8%,#252525 53.6%,#1c1c1c 57.3%,#252525 58.5%,#1a1a1a 60.3%,#1a1a1a 62.7%,#2a2a2a 65.8%,#252525 67%,#2e2e2e 68.2%,#252525 69.4%,#252525 71.2%,#2c2c2c 72.4%,#262626 73.6%,#2e2e2e 77.9%,#191919 82.1%,#1a1a1a 83.9%,#232323 85.8%,#1c1c1c 87%,#1c1c1c 91.8%,#2d2d2d 93.6%,#252525 94.8%,#2c2c2c 96.1%,#252525 97.3%,#282828 98.5%,#242424 100%)"></i>
<i style="background:linear-gradient(90deg,#6f6f6f 0%,#797979 1.5%,#4c4c4c 2.1%,#454545 2.7%,#737373 3.3%,#d9d9d9 3.9%,#f0f0f0 4.5%,#dfdfdf 5.2%,#9d9d9d 5.8%,#9d9d9d 7%,#939393 7.6%,#6b6b6b 8.2%,#525252 9.4%,#3b3b3b 10%,#2c2c2c 11.8%,#272727 16.1%,#2a2a2a 17.3%,#222222 21.5%,#2f2f2f 23.3%,#1f1f1f 25.2%,#222222 27.6%,#313131 28.8%,#282828 34.2%,#2d2d2d 36.1%,#282828 37.3%,#333333 38.5%,#272727 40.3%,#393939 44.5%,#323232 47%,#222222 48.2%,#2b2b2b 49.4%,#242424 51.8%,#313131 53.6%,#242424 57.3%,#313131 58.5%,#222222 60.3%,#242424 63.3%,#2e2e2e 65.2%,#252525 67%,#2e2e2e 68.2%,#252525 69.4%,#252525 71.2%,#2c2c2c 72.4%,#262626 73.6%,#2e2e2e 77.9%,#191919 82.1%,#1a1a1a 83.9%,#232323 85.8%,#1c1c1c 87%,#1c1c1c 91.8%,#2d2d2d 93.6%,#252525 94.8%,#2c2c2c 96.1%,#252525 97.3%,#282828 98.5%,#242424 100%)"></i>
<i style="background:linear-gradient(90deg,#717171 0%,#7b7b7b 1.5%,#4c4c4c 2.1%,#454545 2.7%,#737373 3.3%,#d9d9d9 3.9%,#f0f0f0 4.5%,#e0e0e0 5.2%,#9e9e9e 5.8%,#9e9e9e 7%,#949494 7.6%,#6b6b6b 8.2%,#4f4f4f 9.4%,#393939 10%,#404040 11.8%,#3f3f3f 13.6%,#272727 15.5%,#131313 18.5%,#141414 24.5%,#171717 25.2%,#292929 26.4%,#292929 27.6%,#3c3c3c 28.8%,#343434 34.2%,#3b3b3b 36.1%,#353535 37.3%,#454545 38.5%,#353535 40.3%,#4e4e4e 44.5%,#454545 47%,#2e2e2e 48.2%,#3f3f3f 49.4%,#373737 50.6%,#363636 51.8%,#484848 53.6%,#363636 57.3%,#484848 58.5%,#323232 60.3%,#373737 61.5%,#323232 62.7%,#3e3e3e 64.5%,#3c3c3c 65.2%,#282828 66.4%,#252525 67%,#2e2e2e 68.2%,#252525 69.4%,#252525 71.2%,#2c2c2c 72.4%,#262626 73.6%,#2e2e2e 77.9%,#191919 82.1%,#1a1a1a 83.9%,#232323 85.8%,#1c1c1c 87%,#1c1c1c 91.8%,#2d2d2d 93.6%,#252525 94.8%,#2c2c2c 96.1%,#252525 97.3%,#262626 100%)"></i>
<i style="background:linear-gradient(90deg,#737373 0%,#7c7c7c 1.5%,#4d4d4d 2.1%,#464646 2.7%,#737373 3.3%,#d9d9d9 3.9%,#f1f1f1 4.5%,#e0e0e0 5.2%,#9e9e9e 5.8%,#9e9e9e 7%,#949494 7.6%,#6b6b6b 8.2%,#383838 10%,#404040 10.6%,#575757 11.2%,#5c5c5c 11.8%,#5a5a5a 13.6%,#4d4d4d 14.2%,#272727 15.5%,#161616 16.7%,#070707 18.5%,#0a0a0a 24.5%,#101010 25.2%,#1e1e1e 25.8%,#242424 26.4%,#252525 27.6%,#363636 28.8%,#2f2f2f 34.2%,#363636 36.1%,#303030 37.3%,#3e3e3e 38.5%,#303030 40.3%,#474747 44.5%,#3e3e3e 47%,#2a2a2a 48.2%,#393939 49.4%,#313131 51.8%,#424242 53.6%,#313131 57.3%,#424242 58.5%,#2e2e2e 60.3%,#333333 61.5%,#2e2e2e 62.7%,#3a3a3a 64.5%,#393939 65.2%,#282828 66.4%,#252525 67%,#2e2e2e 68.2%,#252525 69.4%,#252525 71.2%,#2c2c2c 72.4%,#262626 73.6%,#2e2e2e 77.9%,#191919 82.1%,#1a1a1a 83.9%,#232323 85.8%,#1c1c1c 87%,#1c1c1c 91.8%,#2d2d2d 93.6%,#252525 94.8%,#2c2c2c 96.1%,#252525 97.3%,#262626 100%)"></i>
<i style="background:linear-gradient(90deg,#757575 0%,#7d7d7d 1.5%,#4d4d4d 2.1%,#464646 2.7%,#737373 3.3%,#d9d9d9 3.9%,#f1f1f1 4.5%,#e0e0e0 5.2%,#9f9f9f 5.8%,#9f9f9f 7%,#959595 7.6%,#6b6b6b 8.2%,#383838 10%,#4a4a4a 10.6%,#6f6f6f 11.2%,#787878 11.8%,#747474 13.6%,#606060 14.2%,#3f3f3f 14.8%,#292929 15.5%,#151515 16.7%,#050505 18.5%,#050505 23.9%,#131313 25.8%,#101010 27%,#191919 28.8%,#161616 37.3%,#1d1d1d 38.5%,#171717 40.3%,#212121 44.5%,#1d1d1d 47%,#151515 48.2%,#121212 51.2%,#191919 53.6%,#131313 57.3%,#191919 58.5%,#111111 60.3%,#111111 62.7%,#181818 64.5%,#262626 65.8%,#252525 67%,#2e2e2e 68.2%,#252525 69.4%,#252525 71.2%,#2c2c2c 72.4%,#262626 73.6%,#2e2e2e 77.9%,#191919 82.1%,#1a1a1a 83.9%,#232323 85.8%,#1c1c1c 87%,#1c1c1c 91.8%,#2d2d2d 93.6%,#252525 94.8%,#2c2c2c 96.1%,#252525 97.3%,#282828 98.5%,#242424 100%)"></i>
<i style="background:linear-gradient(90deg,#777777 0%,#7f7f7f 1.5%,#4e4e4e 2.1%,#464646 2.7%,#747474 3.3%,#d9d9d9 3.9%,#f1f1f1 4.5%,#e0e0e0 5.2%,#9f9f9f 5.8%,#a0a0a0 7%,#959595 7.6%,#6b6b6b 8.2%,#383838 10%,#505050 10.6%,#7a7a7a 11.2%,#848484 11.8%,#848484 13%,#808080 13.6%,#696969 14.2%,#434343 14.8%,#292929 15.5%,#161616 16.7%,#070707 18.5%,#070707 23.9%,#0d0d0d 25.8%,#070707 27%,#101010 38.5%,#0c0c0c 40.3%,#121212 44.5%,#050505 50.6%,#050505 63.3%,#090909 64.5%,#212121 65.8%,#2e2e2e 68.2%,#252525 69.4%,#252525 71.2%,#2c2c2c 72.4%,#262626 73.6%,#2e2e2e 77.9%,#191919 82.1%,#1a1a1a 83.9%,#232323 85.8%,#1c1c1c 87%,#1c1c1c 91.8%,#2d2d2d 93.6%,#252525 94.8%,#2c2c2c 96.1%,#252525 97.3%,#292929 98.5%,#252525 100%)"></i>
<i style="background:linear-gradient(90deg,#797979 0%,#808080 1.5%,#4e4e4e 2.1%,#464646 2.7%,#747474 3.3%,#d9d9d9 3.9%,#f1f1f1 4.5%,#e0e0e0 5.2%,#a0a0a0 5.8%,#a0a0a0 7%,#969696 7.6%,#6b6b6b 8.2%,#444444 9.4%,#393939 10%,#565656 10.6%,#828282 11.2%,#8c8c8c 11.8%,#8c8c8c 13%,#888888 13.6%,#6f6f6f 14.2%,#454545 14.8%,#2a2a2a 15.5%,#1d1d1d 16.7%,#131313 18.5%,#101010 21.5%,#161616 23.3%,#060606 27%,#111111 44.5%,#0c0c0c 48.8%,#040404 50%,#040404 62.7%,#070707 64.5%,#202020 65.8%,#2e2e2e 68.2%,#252525 69.4%,#252525 71.2%,#2c2c2c 72.4%,#262626 73.6%,#2e2e2e 77.9%,#191919 82.1%,#1a1a1a 83.9%,#232323 85.8%,#1c1c1c 87%,#1c1c1c 91.8%,#2d2d2d 93.6%,#252525 94.8%,#2c2c2c 96.1%,#252525 97.3%,#272727 100%)"></i>
<i style="background:linear-gradient(90deg,#7b7b7b 0%,#818181 1.5%,#4e4e4e 2.1%,#464646 2.7%,#747474 3.3%,#d9d9d9 3.9%,#f1f1f1 4.5%,#e1e1e1 5.2%,#a0a0a0 5.8%,#a1a1a1 7%,#979797 7.6%,#6b6b6b 8.2%,#414141 9.4%,#3b3b3b 10%,#5d5d5d 10.6%,#8a8a8a 11.2%,#949494 11.8%,#949494 13%,#8f8f8f 13.6%,#747474 14.2%,#474747 14.8%,#2c2c2c 15.5%,#272727 16.1%,#2a2a2a 17.3%,#222222 21.5%,#2f2f2f 23.3%,#2b2b2b 23.9%,#0a0a0a 25.8%,#060606 26.4%,#111111 44.5%,#040404 50.6%,#040404 63.9%,#070707 64.5%,#202020 65.8%,#2e2e2e 68.2%,#252525 69.4%,#252525 71.2%,#2c2c2c 72.4%,#262626 73.6%,#2e2e2e 77.9%,#191919 82.1%,#1a1a1a 83.9%,#232323 85.8%,#1c1c1c 87%,#1c1c1c 91.8%,#2d2d2d 93.6%,#252525 94.8%,#2c2c2c 96.1%,#252525 97.3%,#292929 98.5%,#242424 100%)"></i>
<i style="background:linear-gradient(90deg,#7d7d7d 0%,#838383 1.5%,#4f4f4f 2.1%,#464646 2.7%,#747474 3.3%,#dadada 3.9%,#f1f1f1 4.5%,#e1e1e1 5.2%,#a0a0a0 5.8%,#a2a2a2 7%,#979797 7.6%,#6b6b6b 8.2%,#3f3f3f 9.4%,#3d3d3d 10%,#636363 10.6%,#919191 11.2%,#9b9b9b 11.8%,#9b9b9b 13%,#969696 13.6%,#7a7a7a 14.2%,#4a4a4a 14.8%,#2d2d2d 15.5%,#2b2b2b 16.1%,#353535 17.9%,#2d2d2d 21.5%,#3f3f3f 23.3%,#393939 23.9%,#0d0d0d 25.8%,#0a0a0a 26.4%,#0f0f0f 28.8%,#0f0f0f 37.3%,#141414 38.5%,#101010 40.3%,#171717 44.5%,#0a0a0a 50.6%,#0a0a0a 63.3%,#0e0e0e 64.5%,#242424 65.8%,#343434 68.2%,#2a2a2a 69.4%,#2a2a2a 71.2%,#323232 72.4%,#2b2b2b 73.6%,#333333 77.9%,#2a2a2a 79.1%,#272727 80.9%,#1c1c1c 82.1%,#1d1d1d 83.9%,#262626 85.8%,#1e1e1e 87%,#222222 88.8%,#1f1f1f 91.8%,#313131 93.6%,#282828 94.8%,#303030 96.1%,#282828 97.3%,#2c2c2c 98.5%,#252525 100%)"></i>
<i style="background:linear-gradient(90deg,#7f7f7f 0%,#848484 1.5%,#505050 2.1%,#484848 2.7%,#757575 3.3%,#dadada 3.9%,#f1f1f1 4.5%,#e1e1e1 5.2%,#a1a1a1 5.8%,#a2a2a2 7%,#989898 7.6%,#6a6a6a 8.2%,#3c3c3c 9.4%,#404040 10%,#969696 11.2%,#9f9f9f 11.8%,#9f9f9f 13%,#9a9a9a 13.6%,#7c7c7c 14.2%,#4b4b4b 14.8%,#2d2d2d 15.5%,#2b2b2b 16.1%,#373737 17.9%,#2f2f2f 21.5%,#414141 23.3%,#262626 25.2%,#202020 27%,#323232 28.8%,#2a2a2a 34.2%,#303030 36.1%,#2b2b2b 37.3%,#373737 38.5%,#2b2b2b 40.3%,#3e3e3e 44.5%,#373737 47%,#262626 48.2%,#2d2d2d 49.4%,#272727 51.8%,#353535 53.6%,#282828 57.3%,#363636 58.5%,#252525 60.3%,#2a2a2a 61.5%,#262626 62.7%,#2c2c2c 63.9%,#3f3f3f 65.8%,#414141 67%,#575757 68.2%,#464646 69.4%,#454545 71.2%,#515151 72.4%,#444444 73.6%,#4e4e4e 76.1%,#4e4e4e 77.9%,#404040 79.1%,#3b3b3b 80.9%,#2e2e2e 81.5%,#2a2a2a 82.1%,#292929 83.9%,#363636 85.2%,#363636 85.8%,#2b2b2b 87%,#313131 88.8%,#2c2c2c 91.8%,#454545 93.6%,#383838 94.8%,#434343 96.1%,#383838 97.3%,#3d3d3d 98.5%,#343434 99.1%,#2f2f2f 100%)"></i>
<i style="background:linear-gradient(90deg,#818181 0%,#868686 1.5%,#535353 2.1%,#4b4b4b 2.7%,#777777 3.3%,#dadada 3.9%,#f2f2f2 4.5%,#e1e1e1 5.2%,#a1a1a1 5.8%,#a3a3a3 7%,#989898 7.6%,#6a6a6a 8.2%,#3a3a3a 9.4%,#434343 10%,#979797 11.2%,#a0a0a0 11.8%,#a0a0a0 13%,#9b9b9b 13.6%,#7d7d7d 14.2%,#4b4b4b 14.8%,#2d2d2d 15.5%,#2b2b2b 16.1%,#383838 17.9%,#2f2f2f 21.5%,#424242 23.3%,#363636 24.5%,#383838 25.2%,#484848 25.8%,#414141 27%,#464646 27.6%,#666666 28.8%,#606060 30%,#666666 30.6%,#656565 31.2%,#575757 34.2%,#5b5b5b 35.5%,#646464 36.1%,#595959 37.3%,#737373 38.5%,#5e5e5e 39.7%,#595959 40.3%,#606060 41.5%,#737373 42.7%,#787878 43.9%,#828282 44.5%,#727272 47%,#474747 48.2%,#4d4d4d 48.8%,#5a5a5a 49.4%,#4e4e4e 50.6%,#4d4d4d 51.8%,#626262 53%,#686868 53.6%,#4d4d4d 57.3%,#686868 58.5%,#626262 59.1%,#515151 59.7%,#484848 60.3%,#505050 61.5%,#484848 62.7%,#4c4c4c 63.3%,#6d6d6d 65.8%,#676767 67%,#898989 68.2%,#6f6f6f 69.4%,#707070 70.6%,#6b6b6b 71.2%,#7a7a7a 72.4%,#666666 73.6%,#707070 76.1%,#707070 77.9%,#5b5b5b 79.1%,#545454 80.9%,#414141 81.5%,#383838 82.1%,#323232 83.3%,#313131 83.9%,#404040 85.2%,#414141 85.8%,#343434 87%,#3a3a3a 88.8%,#353535 91.8%,#535353 93.6%,#444444 94.8%,#515151 96.1%,#444444 97.3%,#4a4a4a 98.5%,#3d3d3d 99.1%,#353535 100%)"></i>
<i style="background:linear-gradient(90deg,#838383 0%,#888888 1.5%,#555555 2.1%,#4d4d4d 2.7%,#797979 3.3%,#dbdbdb 3.9%,#f2f2f2 4.5%,#e1e1e1 5.2%,#a2a2a2 5.8%,#a4a4a4 7%,#999999 7.6%,#696969 8.2%,#4c4c4c 8.8%,#383838 9.4%,#464646 10%,#989898 11.2%,#a0a0a0 11.8%,#a0a0a0 12.4%,#9b9b9b 13.6%,#7d7d7d 14.2%,#4b4b4b 14.8%,#2d2d2d 15.5%,#2b2b2b 16.1%,#383838 17.9%,#303030 21.5%,#424242 23.3%,#383838 24.5%,#3f3f3f 25.2%,#555555 25.8%,#565656 26.4%,#4e4e4e 27%,#545454 27.6%,#6a6a6a 28.2%,#7a7a7a 28.8%,#737373 30%,#7a7a7a 30.6%,#797979 31.2%,#696969 34.2%,#6d6d6d 35.5%,#787878 36.1%,#6b6b6b 37.3%,#8b8b8b 38.5%,#717171 39.7%,#6c6c6c 40.3%,#757575 41.5%,#8b8b8b 42.7%,#919191 43.9%,#9e9e9e 44.5%,#9d9d9d 45.2%,#919191 45.8%,#8a8a8a 47%,#737373 47.6%,#535353 48.2%,#595959 48.8%,#6b6b6b 49.4%,#5d5d5d 50.6%,#5b5b5b 51.8%,#757575 53%,#7b7b7b 53.6%,#5d5d5d 56.7%,#5c5c5c 57.3%,#7c7c7c 58.5%,#757575 59.1%,#616161 59.7%,#555555 60.3%,#5f5f5f 61.5%,#565656 62.7%,#5a5a5a 63.3%,#797979 65.2%,#7d7d7d 65.8%,#757575 66.4%,#757575 67%,#9e9e9e 68.2%,#939393 68.8%,#808080 69.4%,#818181 70.6%,#7b7b7b 71.2%,#8c8c8c 72.4%,#747474 73.6%,#7c7c7c 74.8%,#7e7e7e 77.9%,#676767 79.1%,#5f5f5f 80.9%,#494949 81.5%,#3e3e3e 82.1%,#353535 83.3%,#343434 83.9%,#444444 85.2%,#454545 85.8%,#373737 87%,#3e3e3e 88.8%,#383838 91.8%,#595959 93.6%,#494949 94.8%,#565656 96.1%,#494949 97.3%,#4f4f4f 98.5%,#373737 99.7%,#373737 100%)"></i>
<i style="background:linear-gradient(90deg,#858585 0%,#898989 1.5%,#575757 2.1%,#505050 2.7%,#7b7b7b 3.3%,#dbdbdb 3.9%,#f2f2f2 4.5%,#e2e2e2 5.2%,#a2a2a2 5.8%,#a4a4a4 7%,#999999 7.6%,#696969 8.2%,#4a4a4a 8.8%,#383838 9.4%,#484848 10%,#989898 11.2%,#a0a0a0 11.8%,#9b9b9b 13.6%,#7d7d7d 14.2%,#4b4b4b 14.8%,#2d2d2d 15.5%,#2c2c2c 16.1%,#383838 17.9%,#303030 21.5%,#434343 23.3%,#383838 24.5%,#404040 25.2%,#575757 25.8%,#575757 26.4%,#4f4f4f 27%,#555555 27.6%,#6c6c6c 28.2%,#7c7c7c 28.8%,#757575 30%,#7d7d7d 30.6%,#7c7c7c 31.2%,#6b6b6b 34.2%,#707070 35.5%,#7b7b7b 36.1%,#6d6d6d 37.3%,#8e8e8e 38.5%,#747474 39.7%,#6e6e6e 40.3%,#777777 41.5%,#8e8e8e 42.7%,#949494 43.9%,#a1a1a1 44.5%,#a0a0a0 45.2%,#949494 45.8%,#8d8d8d 47%,#757575 47.6%,#525252 48.2%,#515151 48.8%,#5d5d5d 49.4%,#505050 50.6%,#4f4f4f 51.8%,#656565 53%,#6b6b6b 53.6%,#515151 56.7%,#505050 57.3%,#6b6b6b 58.5%,#656565 59.1%,#545454 59.7%,#4a4a4a 60.3%,#525252 61.5%,#4b4b4b 62.7%,#575757 63.9%,#797979 65.8%,#777777 67%,#909090 67.6%,#a1a1a1 68.2%,#969696 68.8%,#838383 69.4%,#838383 70.6%,#7d7d7d 71.2%,#8f8f8f 72.4%,#767676 73.6%,#7e7e7e 74.8%,#808080 77.9%,#696969 79.1%,#606060 80.9%,#4b4b4b 81.5%,#3f3f3f 82.1%,#353535 83.3%,#343434 83.9%,#454545 85.2%,#454545 85.8%,#373737 87%,#3f3f3f 88.8%,#393939 91.8%,#5a5a5a 93.6%,#494949 94.8%,#575757 96.1%,#4a4a4a 97.3%,#505050 98.5%,#393939 99.7%,#393939 100%)"></i>
<i style="background:linear-gradient(90deg,#878787 0%,#8b8b8b 1.5%,#5a5a5a 2.1%,#535353 2.7%,#7d7d7d 3.3%,#dcdcdc 3.9%,#f2f2f2 4.5%,#e2e2e2 5.2%,#a3a3a3 5.8%,#a5a5a5 7%,#9a9a9a 7.6%,#696969 8.2%,#474747 8.8%,#383838 9.4%,#4b4b4b 10%,#989898 11.2%,#a0a0a0 11.8%,#9b9b9b 13.6%,#7d7d7d 14.2%,#4b4b4b 14.8%,#2d2d2d 15.5%,#2c2c2c 16.1%,#393939 17.9%,#303030 21.5%,#404040 22.7%,#434343 23.3%,#383838 24.5%,#404040 25.2%,#575757 25.8%,#575757 26.4%,#4f4f4f 27%,#555555 27.6%,#6c6c6c 28.2%,#7c7c7c 28.8%,#757575 30%,#7d7d7d 30.6%,#7b7b7b 31.2%,#6b6b6b 34.2%,#707070 35.5%,#7b7b7b 36.1%,#6d6d6d 37.3%,#8d8d8d 38.5%,#747474 39.7%,#6e6e6e 40.3%,#777777 41.5%,#8e8e8e 42.7%,#949494 43.9%,#a1a1a1 44.5%,#a0a0a0 45.2%,#949494 45.8%,#8d8d8d 47%,#747474 47.6%,#4a4a4a 48.2%,#3a3a3a 48.8%,#313131 51.2%,#323232 51.8%,#434343 53.6%,#333333 57.3%,#444444 58.5%,#2f2f2f 60.3%,#353535 61.5%,#323232 63.3%,#414141 64.5%,#6d6d6d 65.8%,#777777 67%,#8f8f8f 67.6%,#a1a1a1 68.2%,#969696 68.8%,#828282 69.4%,#838383 70.6%,#7d7d7d 71.2%,#8f8f8f 72.4%,#767676 73.6%,#7e7e7e 74.8%,#808080 77.9%,#696969 79.1%,#606060 80.9%,#4a4a4a 81.5%,#3f3f3f 82.1%,#353535 83.3%,#343434 83.9%,#454545 85.2%,#454545 85.8%,#373737 87%,#3e3e3e 88.8%,#393939 91.8%,#5a5a5a 93.6%,#494949 94.8%,#575757 96.1%,#4a4a4a 97.3%,#505050 98.5%,#393939 99.7%,#393939 100%)"></i>
<i style="background:linear-gradient(90deg,#898989 0%,#8d8d8d 1.5%,#5c5c5c 2.1%,#565656 2.7%,#7f7f7f 3.3%,#dcdcdc 3.9%,#f2f2f2 4.5%,#e2e2e2 5.2%,#a3a3a3 5.8%,#a6a6a6 7%,#9b9b9b 7.6%,#686868 8.2%,#454545 8.8%,#383838 9.4%,#4d4d4d 10%,#989898 11.2%,#a0a0a0 11.8%,#a0a0a0 12.4%,#9b9b9b 13.6%,#7d7d7d 14.2%,#4b4b4b 14.8%,#2d2d2d 15.5%,#2c2c2c 16.1%,#393939 17.9%,#313131 21.5%,#414141 22.7%,#444444 23.3%,#383838 24.5%,#3d3d3d 25.2%,#515151 25.8%,#525252 26.4%,#4a4a4a 27%,#505050 27.6%,#747474 28.8%,#6d6d6d 30%,#747474 30.6%,#737373 31.2%,#636363 34.2%,#686868 35.5%,#727272 36.1%,#666666 37.3%,#838383 38.5%,#6b6b6b 39.7%,#666666 40.3%,#6f6f6f 41.5%,#848484 42.7%,#898989 43.9%,#959595 44.5%,#959595 45.2%,#898989 45.8%,#838383 47%,#6c6c6c 47.6%,#4a4a4a 48.2%,#464646 48.8%,#505050 49.4%,#454545 50.6%,#444444 51.8%,#5c5c5c 53.6%,#454545 57.3%,#5e5e5e 58.5%,#585858 59.1%,#414141 60.3%,#484848 61.5%,#424242 62.7%,#4d4d4d 63.9%,#707070 65.8%,#707070 67%,#969696 68.2%,#8c8c8c 68.8%,#7a7a7a 69.4%,#7b7b7b 70.6%,#757575 71.2%,#858585 72.4%,#6e6e6e 73.6%,#767676 74.8%,#787878 77.9%,#626262 79.1%,#5b5b5b 80.9%,#464646 81.5%,#3c3c3c 82.1%,#333333 83.3%,#323232 83.9%,#424242 85.2%,#424242 85.8%,#353535 87%,#3c3c3c 88.8%,#363636 91.8%,#565656 93.6%,#464646 94.8%,#535353 96.1%,#464646 97.3%,#4c4c4c 98.5%,#353535 99.7%,#353535 100%)"></i>
<i style="background:linear-gradient(90deg,#8b8b8b 0%,#8e8e8e 1.5%,#5e5e5e 2.1%,#595959 2.7%,#818181 3.3%,#dddddd 3.9%,#f2f2f2 4.5%,#e2e2e2 5.2%,#a4a4a4 5.8%,#a7a7a7 7%,#9b9b9b 7.6%,#676767 8.2%,#424242 8.8%,#383838 9.4%,#505050 10%,#989898 11.2%,#a0a0a0 11.8%,#a0a0a0 13%,#9b9b9b 13.6%,#7d7d7d 14.2%,#4b4b4b 14.8%,#2d2d2d 15.5%,#2b2b2b 16.1%,#373737 17.9%,#2f2f2f 21.5%,#414141 23.3%,#2e2e2e 25.2%,#363636 25.8%,#2f2f2f 27%,#333333 27.6%,#4a4a4a 28.8%,#464646 30%,#4a4a4a 31.2%,#3f3f3f 34.2%,#494949 36.1%,#414141 37.3%,#535353 38.5%,#414141 40.3%,#464646 41.5%,#535353 42.7%,#575757 43.9%,#5e5e5e 44.5%,#535353 47%,#343434 48.2%,#3b3b3b 49.4%,#323232 50.6%,#323232 51.8%,#434343 53.6%,#323232 57.3%,#444444 58.5%,#2f2f2f 60.3%,#343434 61.5%,#303030 62.7%,#373737 63.9%,#4e4e4e 65.8%,#4a4a4a 67%,#616161 68.2%,#4e4e4e 69.4%,#4c4c4c 71.2%,#575757 72.4%,#494949 73.6%,#515151 77.9%,#424242 79.1%,#3d3d3d 80.9%,#2f2f2f 81.5%,#2a2a2a 82.1%,#272727 83.3%,#333333 85.8%,#292929 87%,#2e2e2e 88.8%,#292929 91.8%,#414141 93.6%,#353535 94.8%,#3f3f3f 96.1%,#353535 97.3%,#3a3a3a 98.5%,#2c2c2c 100%)"></i>
<i style="background:linear-gradient(90deg,#8d8d8d 0%,#909090 1.5%,#616161 2.1%,#5c5c5c 2.7%,#838383 3.3%,#dddddd 3.9%,#f2f2f2 4.5%,#e2e2e2 5.2%,#a4a4a4 5.8%,#a7a7a7 7%,#9b9b9b 7.6%,#646464 8.2%,#404040 8.8%,#3b3b3b 9.4%,#525252 10%,#989898 11.2%,#a0a0a0 11.8%,#a0a0a0 13%,#9b9b9b 13.6%,#7d7d7d 14.2%,#4b4b4b 14.8%,#2d2d2d 15.5%,#282828 16.1%,#2c2c2c 17.3%,#242424 21.5%,#323232 23.3%,#1a1a1a 25.2%,#121212 27%,#1d1d1d 28.8%,#1f1f1f 37.3%,#292929 38.5%,#202020 40.3%,#303030 44.5%,#2a2a2a 47%,#1d1d1d 48.2%,#222222 49.4%,#1d1d1d 51.8%,#272727 53.6%,#1d1d1d 57.3%,#272727 58.5%,#1b1b1b 60.3%,#1c1c1c 62.7%,#262626 65.2%,#1f1f1f 67%,#282828 68.2%,#202020 69.4%,#252525 77.9%,#161616 81.5%,#222222 85.8%,#1b1b1b 87%,#1c1c1c 91.8%,#2c2c2c 93.6%,#242424 94.8%,#2b2b2b 96.1%,#242424 97.3%,#262626 100%)"></i>
<i style="background:linear-gradient(90deg,#8f8f8f 0%,#929292 1.5%,#636363 2.1%,#5e5e5e 2.7%,#858585 3.3%,#dedede 3.9%,#f3f3f3 4.5%,#e2e2e2 5.2%,#a4a4a4 5.8%,#a8a8a8 7%,#9b9b9b 7.6%,#616161 8.2%,#3d3d3d 8.8%,#3d3d3d 9.4%,#555555 10%,#989898 11.2%,#a0a0a0 11.8%,#a0a0a0 13%,#9b9b9b 13.6%,#7d7d7d 14.2%,#4b4b4b 14.8%,#2b2b2b 15.5%,#222222 16.1%,#141414 18.5%,#111111 21.5%,#171717 23.3%,#0a0a0a 27%,#131313 28.8%,#181818 37.3%,#202020 38.5%,#1a1a1a 40.3%,#262626 44.5%,#222222 47%,#181818 48.2%,#1b1b1b 49.4%,#171717 51.8%,#1f1f1f 53.6%,#171717 57.3%,#1f1f1f 58.5%,#161616 60.3%,#1d1d1d 65.2%,#161616 67%,#1c1c1c 68.2%,#161616 69.4%,#1c1c1c 77.9%,#111111 81.5%,#1f1f1f 85.2%,#191919 87%,#191919 91.8%,#282828 93.6%,#212121 94.8%,#272727 96.1%,#212121 97.3%,#222222 100%)"></i>
<i style="background:linear-gradient(90deg,#919191 0%,#939393 1.5%,#666666 2.1%,#616161 2.7%,#878787 3.3%,#dedede 3.9%,#f3f3f3 4.5%,#e3e3e3 5.2%,#a5a5a5 5.8%,#a9a9a9 7%,#9b9b9b 7.6%,#5e5e5e 8.2%,#3b3b3b 8.8%,#3f3f3f 9.4%,#757575 10.6%,#989898 11.2%,#a0a0a0 11.8%,#a0a0a0 13%,#9b9b9b 13.6%,#7d7d7d 14.2%,#4b4b4b 14.8%,#2a2a2a 15.5%,#161616 16.7%,#070707 18.5%,#070707 23.9%,#0f0f0f 25.8%,#0a0a0a 27%,#121212 28.8%,#171717 37.3%,#1f1f1f 38.5%,#1a1a1a 40.3%,#262626 44.5%,#212121 47%,#171717 48.2%,#1b1b1b 49.4%,#161616 51.8%,#1e1e1e 53.6%,#171717 57.3%,#1f1f1f 58.5%,#151515 60.3%,#1d1d1d 65.2%,#161616 67%,#1c1c1c 68.2%,#161616 69.4%,#1b1b1b 77.9%,#111111 81.5%,#1e1e1e 85.2%,#191919 87%,#191919 91.8%,#282828 93.6%,#212121 94.8%,#272727 96.1%,#212121 97.3%,#212121 100%)"></i>
<i style="background:linear-gradient(90deg,#939393 0%,#959595 1.5%,#686868 2.1%,#646464 2.7%,#898989 3.3%,#dfdfdf 3.9%,#f3f3f3 4.5%,#e3e3e3 5.2%,#a5a5a5 5.8%,#a9a9a9 7%,#9b9b9b 7.6%,#5b5b5b 8.2%,#393939 8.8%,#424242 9.4%,#757575 10.6%,#989898 11.2%,#a0a0a0 11.8%,#a0a0a0 13%,#9b9b9b 13.6%,#7d7d7d 14.2%,#4b4b4b 14.8%,#2a2a2a 15.5%,#151515 16.7%,#050505 18.5%,#050505 23.9%,#0f0f0f 25.8%,#0a0a0a 27%,#121212 28.8%,#181818 37.3%,#202020 38.5%,#1a1a1a 40.3%,#262626 44.5%,#212121 47%,#181818 48.2%,#1b1b1b 49.4%,#161616 51.2%,#1e1e1e 53.6%,#171717 57.3%,#1f1f1f 58.5%,#151515 60.3%,#1d1d1d 65.2%,#161616 67%,#1c1c1c 68.2%,#161616 69.4%,#1b1b1b 77.9%,#111111 81.5%,#1e1e1e 85.2%,#191919 87%,#191919 91.8%,#282828 93.6%,#212121 94.8%,#272727 96.1%,#212121 97.3%,#242424 100%)"></i>
<i style="background:linear-gradient(90deg,#959595 0%,#979797 1.5%,#6a6a6a 2.1%,#676767 2.7%,#8b8b8b 3.3%,#dfdfdf 3.9%,#f3f3f3 4.5%,#e3e3e3 5.2%,#a6a6a6 5.8%,#aaaaaa 7%,#9a9a9a 7.6%,#585858 8.2%,#383838 8.8%,#444444 9.4%,#5b5b5b 10%,#757575 10.6%,#989898 11.2%,#a0a0a0 11.8%,#a0a0a0 13%,#9b9b9b 13.6%,#7d7d7d 14.2%,#4b4b4b 14.8%,#2a2a2a 15.5%,#151515 16.7%,#050505 18.5%,#050505 23.9%,#111111 25.8%,#0e0e0e 27%,#171717 28.8%,#1b1b1b 37.3%,#232323 38.5%,#1c1c1c 40.3%,#2a2a2a 44.5%,#252525 47%,#1a1a1a 48.2%,#1d1d1d 49.4%,#171717 51.2%,#202020 53.6%,#181818 57.3%,#212121 58.5%,#171717 60.3%,#171717 62.7%,#1e1e1e 65.2%,#181818 67%,#1d1d1d 68.2%,#181818 69.4%,#1d1d1d 77.9%,#121212 81.5%,#1f1f1f 85.2%,#191919 87%,#191919 91.8%,#282828 93.6%,#212121 94.8%,#272727 96.1%,#212121 97.3%,#242424 100%)"></i>
<i style="background:linear-gradient(90deg,#979797 0%,#989898 1.5%,#6d6d6d 2.1%,#6a6a6a 2.7%,#8d8d8d 3.3%,#e0e0e0 3.9%,#f3f3f3 4.5%,#e3e3e3 5.2%,#a6a6a6 5.8%,#ababab 7%,#9a9a9a 7.6%,#555555 8.2%,#383838 8.8%,#464646 9.4%,#5c5c5c 10%,#757575 10.6%,#989898 11.2%,#a0a0a0 11.8%,#a0a0a0 13%,#9b9b9b 13.6%,#7d7d7d 14.2%,#4b4b4b 14.8%,#2b2b2b 15.5%,#171717 16.7%,#090909 18.5%,#0c0c0c 24.5%,#202020 25.8%,#242424 27.6%,#353535 28.8%,#2d2d2d 34.2%,#343434 36.1%,#2e2e2e 37.3%,#3c3c3c 38.5%,#2f2f2f 40.3%,#444444 44.5%,#3c3c3c 47%,#262626 48.2%,#292929 49.4%,#212121 51.2%,#2d2d2d 53.6%,#222222 57.3%,#2e2e2e 58.5%,#202020 60.3%,#202020 62.7%,#2d2d2d 65.2%,#282828 67%,#333333 68.2%,#292929 69.4%,#292929 71.2%,#313131 72.4%,#2a2a2a 73.6%,#323232 77.9%,#292929 79.1%,#252525 80.9%,#1c1c1c 82.1%,#1c1c1c 83.9%,#262626 85.8%,#1e1e1e 87%,#212121 88.8%,#1e1e1e 91.8%,#303030 93.6%,#272727 94.8%,#2e2e2e 96.1%,#272727 97.3%,#2a2a2a 98.5%,#252525 100%)"></i>
<i style="background:linear-gradient(90deg,#999999 0%,#9a9a9a 1.5%,#6f6f6f 2.1%,#6d6d6d 2.7%,#8f8f8f 3.3%,#e0e0e0 3.9%,#f3f3f3 4.5%,#e3e3e3 5.2%,#a7a7a7 5.8%,#ababab 7%,#9a9a9a 7.6%,#535353 8.2%,#383838 8.8%,#5c5c5c 10%,#757575 10.6%,#989898 11.2%,#a0a0a0 11.8%,#a0a0a0 13%,#9b9b9b 13.6%,#7d7d7d 14.2%,#4b4b4b 14.8%,#2c2c2c 15.5%,#252525 16.1%,#1b1b1b 20.9%,#282828 23.3%,#232323 24.5%,#292929 25.2%,#3e3e3e 25.8%,#464646 26.4%,#414141 27%,#464646 27.6%,#656565 28.8%,#5e5e5e 30%,#636363 31.2%,#535353 34.2%,#565656 35.5%,#5f5f5f 36.1%,#545454 37.3%,#6c6c6c 38.5%,#575757 39.7%,#535353 40.3%,#5a5a5a 41.5%,#6b6b6b 42.7%,#6f6f6f 43.9%,#797979 44.5%,#6a6a6a 47%,#585858 47.6%,#3e3e3e 48.2%,#3a3a3a 48.8%,#3f3f3f 49.4%,#333333 51.2%,#343434 51.8%,#464646 53.6%,#343434 57.3%,#464646 58.5%,#303030 60.3%,#363636 61.5%,#333333 63.3%,#414141 64.5%,#5f5f5f 65.8%,#5b5b5b 67%,#717171 68.2%,#5c5c5c 69.4%,#5c5c5c 71.2%,#6d6d6d 72.4%,#5d5d5d 73.6%,#6e6e6e 76.1%,#707070 77.9%,#5c5c5c 79.1%,#555555 80.9%,#414141 81.5%,#363636 82.1%,#2c2c2c 83.3%,#2b2b2b 83.9%,#383838 85.2%,#393939 85.8%,#2d2d2d 87%,#333333 88.8%,#2e2e2e 91.8%,#4a4a4a 93.6%,#3c3c3c 94.8%,#474747 96.1%,#3c3c3c 97.3%,#414141 98.5%,#373737 99.1%,#303030 100%)"></i>
<i style="background:linear-gradient(90deg,#9b9b9b 0%,#9c9c9c 1.5%,#717171 2.1%,#707070 2.7%,#919191 3.3%,#e1e1e1 3.9%,#f3f3f3 4.5%,#e4e4e4 5.2%,#a7a7a7 5.8%,#acacac 7%,#999999 7.6%,#505050 8.2%,#383838 8.8%,#5d5d5d 10%,#757575 10.6%,#989898 11.2%,#a0a0a0 11.8%,#a0a0a0 13%,#9b9b9b 13.6%,#7d7d7d 14.2%,#4b4b4b 14.8%,#2d2d2d 15.5%,#2c2c2c 16.1%,#383838 17.9%,#303030 21.5%,#4b4b4b 23.3%,#404040 24.5%,#424242 25.2%,#555555 25.8%,#565656 26.4%,#4f4f4f 27%,#555555 27.6%,#6c6c6c 28.2%,#7b7b7b 28.8%,#737373 30%,#7a7a7a 30.6%,#787878 31.2%,#636363 34.2%,#666666 35.5%,#707070 36.1%,#636363 37.3%,#808080 38.5%,#686868 39.7%,#636363 40.3%,#6b6b6b 41.5%,#7f7f7f 42.7%,#848484 43.9%,#909090 44.5%,#8f8f8f 45.2%,#848484 45.8%,#7e7e7e 47%,#686868 47.6%,#474747 48.2%,#414141 48.8%,#484848 49.4%,#3c3c3c 51.2%,#3d3d3d 51.8%,#525252 53.6%,#3d3d3d 57.3%,#515151 58.5%,#4d4d4d 59.1%,#383838 60.3%,#3e3e3e 61.5%,#383838 62.7%,#3a3a3a 63.3%,#4a4a4a 64.5%,#6d6d6d 65.8%,#686868 67%,#808080 68.2%,#686868 69.4%,#6c6c6c 70.6%,#686868 71.2%,#7b7b7b 72.4%,#6a6a6a 73.6%,#7c7c7c 76.1%,#7f7f7f 77.9%,#686868 79.1%,#606060 80.9%,#4a4a4a 81.5%,#3d3d3d 82.1%,#2f2f2f 83.3%,#2e2e2e 83.9%,#3d3d3d 85.2%,#3e3e3e 85.8%,#313131 87%,#373737 88.8%,#323232 91.8%,#505050 93.6%,#414141 94.8%,#4d4d4d 96.1%,#414141 97.3%,#474747 98.5%,#3c3c3c 99.1%,#343434 100%)"></i>
<i style="background:linear-gradient(90deg,#9d9d9d 0%,#9e9e9e 1.5%,#747474 2.1%,#727272 2.7%,#939393 3.3%,#e1e1e1 3.9%,#f4f4f4 4.5%,#e4e4e4 5.2%,#a7a7a7 5.8%,#ababab 7%,#939393 7.6%,#4c4c4c 8.2%,#3a3a3a 8.8%,#5d5d5d 10%,#757575 10.6%,#989898 11.2%,#a0a0a0 11.8%,#a0a0a0 13%,#9b9b9b 13.6%,#7d7d7d 14.2%,#4b4b4b 14.8%,#2e2e2e 15.5%,#2d2d2d 16.1%,#3c3c3c 17.3%,#3d3d3d 17.9%,#343434 21.5%,#5a5a5a 23.3%,#4d4d4d 25.2%,#5b5b5b 25.8%,#5a5a5a 26.4%,#535353 27%,#5a5a5a 27.6%,#717171 28.2%,#818181 28.8%,#797979 30%,#808080 30.6%,#7e7e7e 31.2%,#646464 34.2%,#686868 35.5%,#727272 36.1%,#656565 37.3%,#828282 38.5%,#6a6a6a 39.7%,#646464 40.3%,#6d6d6d 41.5%,#828282 42.7%,#878787 43.9%,#939393 44.5%,#929292 45.2%,#878787 45.8%,#818181 47%,#6a6a6a 47.6%,#474747 48.2%,#414141 48.8%,#494949 49.4%,#3c3c3c 51.2%,#3d3d3d 51.8%,#525252 53.6%,#3d3d3d 57.3%,#525252 58.5%,#4d4d4d 59.1%,#383838 60.3%,#3e3e3e 61.5%,#383838 62.7%,#4a4a4a 64.5%,#656565 65.8%,#5d5d5d 67%,#727272 68.2%,#5c5c5c 69.4%,#5d5d5d 71.2%,#6e6e6e 72.4%,#5e5e5e 73.6%,#6f6f6f 76.1%,#717171 77.9%,#5d5d5d 79.1%,#555555 80.9%,#424242 81.5%,#373737 82.1%,#2c2c2c 83.3%,#2b2b2b 83.9%,#383838 85.2%,#393939 85.8%,#2d2d2d 87%,#333333 88.8%,#2e2e2e 91.8%,#4a4a4a 93.6%,#3c3c3c 94.8%,#474747 96.1%,#3c3c3c 97.3%,#414141 98.5%,#363636 99.1%,#303030 100%)"></i>
<i style="background:linear-gradient(90deg,#9f9f9f 0%,#9f9f9f 1.5%,#767676 2.1%,#757575 2.7%,#959595 3.3%,#e2e2e2 3.9%,#f4f4f4 4.5%,#e4e4e4 5.2%,#a8a8a8 5.8%,#aaaaaa 7%,#8c8c8c 7.6%,#494949 8.2%,#3d3d3d 8.8%,#5e5e5e 10%,#757575 10.6%,#989898 11.2%,#a0a0a0 11.8%,#a0a0a0 13%,#9b9b9b 13.6%,#7d7d7d 14.2%,#4b4b4b 14.8%,#2e2e2e 15.5%,#2d2d2d 16.1%,#3c3c3c 17.3%,#3d3d3d 17.9%,#353535 21.5%,#616161 23.3%,#525252 25.2%,#5d5d5d 25.8%,#555555 27%,#5c5c5c 27.6%,#757575 28.2%,#858585 28.8%,#7c7c7c 30%,#838383 30.6%,#818181 31.2%,#616161 33.6%,#5e5e5e 34.2%,#626262 35.5%,#6b6b6b 36.1%,#5f5f5f 37.3%,#7a7a7a 38.5%,#636363 39.7%,#5e5e5e 40.3%,#666666 41.5%,#797979 42.7%,#7e7e7e 43.9%,#898989 44.5%,#898989 45.2%,#7e7e7e 45.8%,#787878 47%,#646464 47.6%,#444444 48.2%,#3f3f3f 48.8%,#454545 49.4%,#393939 51.2%,#3a3a3a 51.8%,#4e4e4e 53.6%,#3a3a3a 57.3%,#4e4e4e 58.5%,#494949 59.1%,#363636 60.3%,#3c3c3c 61.5%,#363636 62.7%,#454545 65.2%,#2e2e2e 67%,#373737 68.2%,#2d2d2d 69.4%,#2d2d2d 71.2%,#353535 72.4%,#2d2d2d 73.6%,#363636 77.9%,#2c2c2c 79.1%,#292929 80.9%,#1d1d1d 82.1%,#1c1c1c 83.9%,#262626 85.8%,#1e1e1e 87%,#212121 88.8%,#1e1e1e 91.8%,#303030 93.6%,#272727 94.8%,#2e2e2e 96.1%,#272727 97.3%,#2a2a2a 98.5%,#252525 100%)"></i>
<i style="background:linear-gradient(90deg,#a1a1a1 0%,#a1a1a1 1.5%,#797979 2.1%,#787878 2.7%,#979797 3.3%,#e2e2e2 3.9%,#f4f4f4 4.5%,#e4e4e4 5.2%,#a8a8a8 5.8%,#a9a9a9 7%,#858585 7.6%,#454545 8.2%,#3f3f3f 8.8%,#535353 9.4%,#5e5e5e 10%,#757575 10.6%,#989898 11.2%,#a0a0a0 11.8%,#a0a0a0 13%,#9b9b9b 13.6%,#7d7d7d 14.2%,#4b4b4b 14.8%,#2e2e2e 15.5%,#2d2d2d 16.1%,#3c3c3c 17.3%,#3e3e3e 17.9%,#353535 21.5%,#636363 23.3%,#525252 25.2%,#5d5d5d 25.8%,#555555 27%,#5d5d5d 27.6%,#757575 28.2%,#868686 28.8%,#7d7d7d 30%,#848484 30.6%,#828282 31.2%,#797979 31.8%,#434343 33.6%,#3f3f3f 34.2%,#474747 36.1%,#3f3f3f 37.3%,#505050 38.5%,#3d3d3d 40.3%,#595959 44.5%,#4f4f4f 47%,#333333 48.2%,#3b3b3b 49.4%,#333333 50.6%,#333333 51.8%,#454545 53.6%,#343434 57.3%,#464646 58.5%,#303030 60.3%,#363636 61.5%,#313131 62.7%,#3d3d3d 64.5%,#393939 65.2%,#232323 66.4%,#1f1f1f 67%,#262626 68.2%,#1f1f1f 69.4%,#252525 77.9%,#161616 82.1%,#1f1f1f 85.8%,#191919 87%,#191919 91.8%,#282828 93.6%,#212121 94.8%,#272727 96.1%,#212121 97.3%,#232323 100%)"></i>
<i style="background:linear-gradient(90deg,#a3a3a3 0%,#a3a3a3 1.5%,#7b7b7b 2.1%,#7b7b7b 2.7%,#999999 3.3%,#e3e3e3 3.9%,#f4f4f4 4.5%,#e4e4e4 5.2%,#a9a9a9 5.8%,#a8a8a8 7%,#7e7e7e 7.6%,#424242 8.2%,#414141 8.8%,#565656 9.4%,#5f5f5f 10%,#757575 10.6%,#989898 11.2%,#a0a0a0 11.8%,#a0a0a0 13%,#9b9b9b 13.6%,#7d7d7d 14.2%,#4b4b4b 14.8%,#2e2e2e 15.5%,#2d2d2d 16.1%,#3d3d3d 17.3%,#3e3e3e 17.9%,#363636 21.5%,#636363 23.3%,#535353 25.2%,#5d5d5d 25.8%,#555555 27%,#5d5d5d 27.6%,#757575 28.2%,#868686 28.8%,#7d7d7d 30%,#848484 30.6%,#828282 31.2%,#777777 31.8%,#222222 33.6%,#1d1d1d 34.2%,#202020 36.1%,#1c1c1c 37.3%,#232323 38.5%,#1b1b1b 40.3%,#272727 44.5%,#222222 47%,#1a1a1a 48.2%,#212121 49.4%,#1c1c1c 51.8%,#262626 53.6%,#1d1d1d 57.3%,#272727 58.5%,#1b1b1b 60.3%,#1d1d1d 63.3%,#252525 65.2%,#1e1e1e 67%,#252525 68.2%,#1e1e1e 69.4%,#252525 77.9%,#151515 82.1%,#1f1f1f 85.8%,#191919 87%,#191919 91.8%,#282828 93.6%,#212121 94.8%,#272727 96.1%,#212121 97.3%,#222222 100%)"></i>
<i style="background:linear-gradient(90deg,#a5a5a5 0%,#a4a4a4 1.5%,#7d7d7d 2.1%,#7e7e7e 2.7%,#9b9b9b 3.3%,#e3e3e3 3.9%,#f4f4f4 4.5%,#e5e5e5 5.2%,#a9a9a9 5.8%,#a7a7a7 7%,#787878 7.6%,#404040 8.2%,#434343 8.8%,#575757 9.4%,#5f5f5f 10%,#757575 10.6%,#989898 11.2%,#a0a0a0 11.8%,#a0a0a0 13%,#9b9b9b 13.6%,#7d7d7d 14.2%,#4b4b4b 14.8%,#2e2e2e 15.5%,#2d2d2d 16.1%,#3d3d3d 17.3%,#3e3e3e 17.9%,#363636 21.5%,#636363 23.3%,#535353 25.2%,#5d5d5d 25.8%,#555555 27%,#5d5d5d 27.6%,#757575 28.2%,#868686 28.8%,#7d7d7d 30%,#848484 30.6%,#828282 31.2%,#767676 31.8%,#1c1c1c 33.6%,#161616 34.2%,#151515 37.3%,#1b1b1b 38.5%,#141414 40.3%,#1e1e1e 44.5%,#151515 48.2%,#1c1c1c 49.4%,#181818 51.8%,#202020 53.6%,#181818 57.3%,#202020 58.5%,#161616 60.3%,#171717 62.7%,#252525 65.8%,#222222 67%,#2b2b2b 68.2%,#232323 69.4%,#232323 71.2%,#292929 72.4%,#232323 73.6%,#2a2a2a 77.9%,#181818 82.1%,#212121 85.8%,#1a1a1a 87%,#1b1b1b 91.8%,#2b2b2b 93.6%,#232323 94.8%,#292929 96.1%,#232323 97.3%,#262626 98.5%,#222222 100%)"></i>
<i style="background:linear-gradient(90deg,#a7a7a7 0%,#a6a6a6 1.5%,#808080 2.1%,#818181 2.7%,#9d9d9d 3.3%,#e4e4e4 3.9%,#f4f4f4 4.5%,#e5e5e5 5.2%,#a9a9a9 5.8%,#ababab 6.4%,#a5a5a5 7%,#3f3f3f 8.2%,#454545 8.8%,#575757 9.4%,#5f5f5f 10%,#757575 10.6%,#989898 11.2%,#a0a0a0 11.8%,#a0a0a0 13%,#9b9b9b 13.6%,#7d7d7d 14.2%,#4b4b4b 14.8%,#2e2e2e 15.5%,#2e2e2e 16.1%,#3d3d3d 17.3%,#3f3f3f 17.9%,#363636 21.5%,#636363 23.3%,#535353 25.2%,#5d5d5d 25.8%,#555555 27%,#5d5d5d 27.6%,#757575 28.2%,#868686 28.8%,#7d7d7d 30%,#848484 30.6%,#828282 31.2%,#777777 31.8%,#323232 33.6%,#2d2d2d 34.2%,#2f2f2f 36.1%,#282828 37.3%,#353535 38.5%,#292929 40.3%,#3c3c3c 44.5%,#343434 47%,#282828 48.2%,#3a3a3a 49.4%,#2c2c2c 51.8%,#353535 53.6%,#262626 57.3%,#323232 58.5%,#222222 60.3%,#262626 61.5%,#232323 62.7%,#282828 63.9%,#3c3c3c 65.8%,#3f3f3f 67%,#555555 68.2%,#454545 69.4%,#434343 71.2%,#4d4d4d 72.4%,#404040 73.6%,#484848 77.9%,#3b3b3b 79.1%,#363636 80.9%,#2a2a2a 81.5%,#252525 82.1%,#232323 83.3%,#2e2e2e 85.8%,#242424 87%,#292929 88.8%,#252525 91.8%,#3a3a3a 93.6%,#2f2f2f 94.8%,#383838 96.1%,#2f2f2f 97.3%,#333333 98.5%,#292929 100%)"></i>
<i style="background:linear-gradient(90deg,#a9a9a9 0%,#a8a8a8 1.5%,#828282 2.1%,#838383 2.7%,#9f9f9f 3.3%,#e4e4e4 3.9%,#f4f4f4 4.5%,#e5e5e5 5.2%,#a9a9a9 5.8%,#ababab 6.4%,#a3a3a3 7%,#6a6a6a 7.6%,#3e3e3e 8.2%,#585858 9.4%,#5f5f5f 10%,#757575 10.6%,#989898 11.2%,#a0a0a0 11.8%,#a0a0a0 13%,#9b9b9b 13.6%,#7d7d7d 14.2%,#4b4b4b 14.8%,#2e2e2e 15.5%,#2e2e2e 16.1%,#3e3e3e 17.3%,#3f3f3f 17.9%,#373737 21.5%,#636363 23.3%,#535353 25.2%,#5d5d5d 25.8%,#555555 27%,#5d5d5d 27.6%,#757575 28.2%,#868686 28.8%,#7d7d7d 30%,#848484 30.6%,#7d7d7d 31.8%,#8b8b8b 33.6%,#8b8b8b 36.1%,#737373 37.3%,#a3a3a3 38.5%,#9a9a9a 39.1%,#878787 39.7%,#7f7f7f 40.3%,#888888 41.5%,#a3a3a3 42.7%,#a9a9a9 43.9%,#b8b8b8 44.5%,#b7b7b7 45.2%,#a9a9a9 45.8%,#a2a2a2 47%,#777777 48.2%,#aeaeae 49.4%,#a6a6a6 50%,#8f8f8f 50.6%,#747474 51.8%,#737373 52.4%,#7f7f7f 53.6%,#555555 56.7%,#525252 57.3%,#696969 58.5%,#626262 59.1%,#515151 59.7%,#474747 60.3%,#4e4e4e 61.5%,#474747 62.7%,#4a4a4a 63.3%,#5b5b5b 64.5%,#757575 65.8%,#767676 67%,#a1a1a1 68.2%,#969696 68.8%,#838383 69.4%,#838383 70.6%,#7c7c7c 71.2%,#8d8d8d 72.4%,#747474 73.6%,#7b7b7b 74.8%,#7c7c7c 77.9%,#656565 79.1%,#5d5d5d 80.9%,#484848 81.5%,#3b3b3b 82.1%,#2f2f2f 83.3%,#2e2e2e 83.9%,#3c3c3c 85.2%,#3d3d3d 85.8%,#303030 87%,#373737 88.8%,#323232 91.8%,#4e4e4e 93.6%,#404040 94.8%,#4c4c4c 96.1%,#404040 97.3%,#454545 98.5%,#3a3a3a 99.1%,#333333 100%)"></i>
<i style="background:linear-gradient(90deg,#ababab 0%,#a9a9a9 1.5%,#848484 2.1%,#868686 2.7%,#a1a1a1 3.3%,#e5e5e5 3.9%,#f5f5f5 4.5%,#e5e5e5 5.2%,#a9a9a9 5.8%,#aaaaaa 6.4%,#a0a0a0 7%,#626262 7.6%,#3d3d3d 8.2%,#585858 9.4%,#5e5e5e 10%,#757575 10.6%,#989898 11.2%,#a0a0a0 11.8%,#a0a0a0 13%,#9b9b9b 13.6%,#7d7d7d 14.2%,#4b4b4b 14.8%,#2e2e2e 15.5%,#2e2e2e 16.1%,#3e3e3e 17.3%,#404040 17.9%,#373737 21.5%,#636363 23.3%,#535353 25.2%,#5d5d5d 25.8%,#555555 27%,#5d5d5d 27.6%,#757575 28.2%,#868686 28.8%,#7d7d7d 30%,#848484 30.6%,#808080 31.8%,#969696 32.4%,#b5b5b5 33%,#c9c9c9 33.6%,#cecece 34.8%,#c6c6c6 35.5%,#cacaca 36.1%,#b3b3b3 36.7%,#a6a6a6 37.3%,#ededed 38.5%,#e1e1e1 39.1%,#c5c5c5 39.7%,#b9b9b9 40.3%,#c7c7c7 41.5%,#eeeeee 42.7%,#f0f0f0 43.3%,#ffffff 44.5%,#ffffff 45.2%,#ececec 47%,#ababab 48.2%,#f8f8f8 49.4%,#ebebeb 50%,#cacaca 50.6%,#b0b0b0 51.2%,#9f9f9f 51.8%,#9a9a9a 52.4%,#a7a7a7 53.6%,#6d6d6d 56.7%,#696969 57.3%,#848484 58.5%,#7a7a7a 59.1%,#656565 59.7%,#585858 60.3%,#616161 61.5%,#585858 62.7%,#5b5b5b 63.3%,#8a8a8a 65.8%,#8b8b8b 67%,#a9a9a9 67.6%,#c0c0c0 68.2%,#b3b3b3 68.8%,#9c9c9c 69.4%,#9c9c9c 70.6%,#939393 71.2%,#a7a7a7 72.4%,#888888 73.6%,#8f8f8f 74.2%,#909090 77.9%,#767676 79.1%,#6d6d6d 80.9%,#535353 81.5%,#434343 82.1%,#323232 83.3%,#313131 83.9%,#404040 85.2%,#414141 85.8%,#343434 87%,#3b3b3b 88.8%,#353535 91.8%,#555555 93.6%,#454545 94.8%,#525252 96.1%,#454545 97.3%,#4b4b4b 98.5%,#343434 99.7%,#343434 100%)"></i>
<i style="background:linear-gradient(90deg,#adadad 0%,#ababab 1.5%,#878787 2.1%,#898989 2.7%,#a3a3a3 3.3%,#e5e5e5 3.9%,#f5f5f5 4.5%,#e5e5e5 5.2%,#a9a9a9 5.8%,#a9a9a9 6.4%,#999999 7%,#5b5b5b 7.6%,#3e3e3e 8.2%,#595959 9.4%,#5e5e5e 10%,#757575 10.6%,#989898 11.2%,#a0a0a0 11.8%,#a0a0a0 13%,#9b9b9b 13.6%,#7d7d7d 14.2%,#4b4b4b 14.8%,#2e2e2e 15.5%,#2e2e2e 16.1%,#3e3e3e 17.3%,#404040 17.9%,#373737 21.5%,#636363 23.3%,#535353 25.2%,#5d5d5d 25.8%,#555555 27%,#5d5d5d 27.6%,#757575 28.2%,#868686 28.8%,#7d7d7d 30%,#848484 30.6%,#818181 31.8%,#9a9a9a 32.4%,#bcbcbc 33%,#d3d3d3 33.6%,#d9d9d9 34.8%,#d1d1d1 35.5%,#d5d5d5 36.1%,#bcbcbc 36.7%,#aeaeae 37.3%,#fafafa 38.5%,#eeeeee 39.1%,#d0d0d0 39.7%,#c4c4c4 40.3%,#d2d2d2 41.5%,#fbfbfb 42.7%,#fefefe 46.4%,#f9f9f9 47%,#b4b4b4 48.2%,#dedede 48.8%,#ffffff 49.4%,#f6f6f6 50%,#d3d3d3 50.6%,#b9b9b9 51.2%,#a6a6a6 51.8%,#a1a1a1 52.4%,#adadad 53.6%,#717171 56.7%,#6c6c6c 57.3%,#888888 58.5%,#7e7e7e 59.1%,#686868 59.7%,#5b5b5b 60.3%,#5c5c5c 60.9%,#646464 61.5%,#5a5a5a 62.7%,#5e5e5e 63.3%,#8d8d8d 65.8%,#898989 66.4%,#8d8d8d 67%,#adadad 67.6%,#c3c3c3 68.2%,#b6b6b6 68.8%,#9f9f9f 69.4%,#9e9e9e 70.6%,#969696 71.2%,#aaaaaa 72.4%,#8b8b8b 73.6%,#929292 74.2%,#929292 77.9%,#787878 79.1%,#6e6e6e 80.9%,#555555 81.5%,#444444 82.1%,#333333 83.3%,#313131 83.9%,#414141 85.2%,#424242 85.8%,#343434 87%,#3b3b3b 88.8%,#363636 91.8%,#555555 93.6%,#454545 94.8%,#525252 96.1%,#464646 97.3%,#4c4c4c 98.5%,#353535 99.7%,#353535 100%)"></i>
<i style="background:linear-gradient(90deg,#afafaf 0%,#adadad 1.5%,#898989 2.1%,#8c8c8c 2.7%,#a5a5a5 3.3%,#e5e5e5 3.9%,#f5f5f5 4.5%,#e5e5e5 5.2%,#a8a8a8 5.8%,#a7a7a7 6.4%,#909090 7%,#535353 7.6%,#3f3f3f 8.2%,#4f4f4f 8.8%,#5e5e5e 10%,#757575 10.6%,#989898 11.2%,#a0a0a0 11.8%,#a0a0a0 13%,#9b9b9b 13.6%,#7d7d7d 14.2%,#4b4b4b 14.8%,#2e2e2e 15.5%,#2e2e2e 16.1%,#3f3f3f 17.3%,#404040 17.9%,#383838 21.5%,#636363 23.3%,#535353 25.2%,#5d5d5d 25.8%,#555555 27%,#5d5d5d 27.6%,#757575 28.2%,#868686 28.8%,#7d7d7d 30%,#848484 30.6%,#818181 31.8%,#9a9a9a 32.4%,#bdbdbd 33%,#d3d3d3 33.6%,#d9d9d9 34.8%,#d1d1d1 35.5%,#d5d5d5 36.1%,#bdbdbd 36.7%,#aeaeae 37.3%,#fafafa 38.5%,#eeeeee 39.1%,#d0d0d0 39.7%,#c4c4c4 40.3%,#d2d2d2 41.5%,#fbfbfb 42.7%,#ffffff 46.4%,#fafafa 47%,#b4b4b4 48.2%,#dedede 48.8%,#ffffff 49.4%,#f7f7f7 50%,#d4d4d4 50.6%,#b9b9b9 51.2%,#a6a6a6 51.8%,#a1a1a1 52.4%,#adadad 53.6%,#717171 56.7%,#6c6c6c 57.3%,#888888 58.5%,#7e7e7e 59.1%,#686868 59.7%,#5b5b5b 60.3%,#5c5c5c 60.9%,#646464 61.5%,#5a5a5a 62.7%,#5e5e5e 63.3%,#8d8d8d 65.8%,#898989 66.4%,#8d8d8d 67%,#adadad 67.6%,#c4c4c4 68.2%,#b7b7b7 68.8%,#9f9f9f 69.4%,#9f9f9f 70.6%,#969696 71.2%,#aaaaaa 72.4%,#8b8b8b 73.6%,#929292 74.2%,#929292 77.9%,#787878 79.1%,#6e6e6e 80.9%,#555555 81.5%,#444444 82.1%,#333333 83.3%,#313131 83.9%,#414141 85.2%,#424242 85.8%,#343434 87%,#3b3b3b 88.8%,#363636 91.8%,#555555 93.6%,#454545 94.8%,#525252 96.1%,#464646 97.3%,#4c4c4c 98.5%,#3f3f3f 99.1%,#373737 100%)"></i>
<i style="background:linear-gradient(90deg,#b1b1b1 0%,#aeaeae 1.5%,#8c8c8c 2.1%,#8f8f8f 2.7%,#a7a7a7 3.3%,#e6e6e6 3.9%,#f5f5f5 4.5%,#e5e5e5 5.2%,#a8a8a8 5.8%,#a5a5a5 6.4%,#878787 7%,#4b4b4b 7.6%,#414141 8.2%,#525252 8.8%,#5e5e5e 10%,#757575 10.6%,#989898 11.2%,#a0a0a0 11.8%,#a0a0a0 13%,#9b9b9b 13.6%,#7d7d7d 14.2%,#4b4b4b 14.8%,#2e2e2e 15.5%,#2e2e2e 16.1%,#3f3f3f 17.3%,#414141 17.9%,#383838 21.5%,#636363 23.3%,#535353 25.2%,#5d5d5d 25.8%,#555555 27%,#5d5d5d 27.6%,#757575 28.2%,#868686 28.8%,#7d7d7d 30%,#848484 30.6%,#818181 31.8%,#9a9a9a 32.4%,#bdbdbd 33%,#d3d3d3 33.6%,#d9d9d9 34.8%,#d1d1d1 35.5%,#d5d5d5 36.1%,#bdbdbd 36.7%,#aeaeae 37.3%,#fafafa 38.5%,#eeeeee 39.1%,#d0d0d0 39.7%,#c4c4c4 40.3%,#d2d2d2 41.5%,#fbfbfb 42.7%,#ffffff 46.4%,#fafafa 47%,#b4b4b4 48.2%,#dedede 48.8%,#ffffff 49.4%,#f7f7f7 50%,#d4d4d4 50.6%,#b9b9b9 51.2%,#a6a6a6 51.8%,#a1a1a1 52.4%,#adadad 53.6%,#717171 56.7%,#6c6c6c 57.3%,#888888 58.5%,#7e7e7e 59.1%,#686868 59.7%,#5b5b5b 60.3%,#5c5c5c 60.9%,#646464 61.5%,#5a5a5a 62.7%,#5e5e5e 63.3%,#8d8d8d 65.8%,#898989 66.4%,#8d8d8d 67%,#adadad 67.6%,#c4c4c4 68.2%,#b7b7b7 68.8%,#9f9f9f 69.4%,#9f9f9f 70.6%,#969696 71.2%,#aaaaaa 72.4%,#8b8b8b 73.6%,#929292 74.2%,#929292 77.9%,#787878 79.1%,#6e6e6e 80.9%,#555555 81.5%,#444444 82.1%,#333333 83.3%,#313131 83.9%,#414141 85.2%,#424242 85.8%,#343434 87%,#3b3b3b 88.8%,#363636 91.8%,#555555 93.6%,#454545 94.8%,#525252 96.1%,#464646 97.3%,#4c4c4c 98.5%,#353535 99.7%,#353535 100%)"></i>
<i style="background:linear-gradient(90deg,#b3b3b3 0%,#b0b0b0 1.5%,#8e8e8e 2.1%,#929292 2.7%,#a9a9a9 3.3%,#e6e6e6 3.9%,#f5f5f5 4.5%,#e5e5e5 5.2%,#a8a8a8 5.8%,#a3a3a3 6.4%,#7f7f7f 7%,#444444 7.6%,#424242 8.2%,#555555 8.8%,#5e5e5e 10%,#757575 10.6%,#989898 11.2%,#a0a0a0 11.8%,#a0a0a0 13%,#9b9b9b 13.6%,#7d7d7d 14.2%,#4b4b4b 14.8%,#2e2e2e 15.5%,#2e2e2e 16.1%,#404040 17.3%,#414141 17.9%,#383838 21.5%,#636363 23.3%,#535353 25.2%,#5d5d5d 25.8%,#555555 27%,#5d5d5d 27.6%,#757575 28.2%,#868686 28.8%,#7d7d7d 30%,#848484 30.6%,#818181 31.8%,#9a9a9a 32.4%,#bdbdbd 33%,#d3d3d3 33.6%,#d9d9d9 34.8%,#d1d1d1 35.5%,#d5d5d5 36.1%,#bdbdbd 36.7%,#aeaeae 37.3%,#fafafa 38.5%,#eeeeee 39.1%,#d0d0d0 39.7%,#c4c4c4 40.3%,#d2d2d2 41.5%,#fbfbfb 42.7%,#ffffff 46.4%,#fafafa 47%,#b4b4b4 48.2%,#dedede 48.8%,#ffffff 49.4%,#f7f7f7 50%,#d4d4d4 50.6%,#b9b9b9 51.2%,#a6a6a6 51.8%,#a1a1a1 52.4%,#adadad 53.6%,#717171 56.7%,#6c6c6c 57.3%,#888888 58.5%,#7e7e7e 59.1%,#686868 59.7%,#5b5b5b 60.3%,#5c5c5c 60.9%,#646464 61.5%,#5a5a5a 62.7%,#5e5e5e 63.3%,#8d8d8d 65.8%,#898989 66.4%,#8d8d8d 67%,#adadad 67.6%,#c3c3c3 68.2%,#b6b6b6 68.8%,#9f9f9f 69.4%,#9e9e9e 70.6%,#969696 71.2%,#aaaaaa 72.4%,#8b8b8b 73.6%,#929292 74.2%,#929292 77.9%,#787878 79.1%,#6e6e6e 80.9%,#555555 81.5%,#444444 82.1%,#333333 83.3%,#313131 83.9%,#414141 85.2%,#424242 85.8%,#343434 87%,#3b3b3b 88.8%,#363636 91.8%,#555555 93.6%,#454545 94.8%,#525252 96.1%,#464646 97.3%,#4c4c4c 98.5%,#353535 99.7%,#353535 100%)"></i>
<i style="background:linear-gradient(90deg,#b5b5b5 0%,#b2b2b2 1.5%,#909090 2.1%,#959595 2.7%,#ababab 3.3%,#e7e7e7 3.9%,#f5f5f5 4.5%,#e5e5e5 5.2%,#a8a8a8 5.8%,#a0a0a0 6.4%,#777777 7%,#414141 7.6%,#454545 8.2%,#565656 8.8%,#5e5e5e 10%,#757575 10.6%,#989898 11.2%,#a0a0a0 11.8%,#a0a0a0 13%,#9b9b9b 13.6%,#7d7d7d 14.2%,#4b4b4b 14.8%,#2e2e2e 15.5%,#2e2e2e 16.1%,#404040 17.3%,#424242 17.9%,#393939 21.5%,#636363 23.3%,#535353 25.2%,#5d5d5d 25.8%,#555555 27%,#5d5d5d 27.6%,#757575 28.2%,#868686 28.8%,#7d7d7d 30%,#848484 30.6%,#818181 31.8%,#9a9a9a 32.4%,#bdbdbd 33%,#d3d3d3 33.6%,#d9d9d9 34.8%,#d1d1d1 35.5%,#d5d5d5 36.1%,#bdbdbd 36.7%,#aeaeae 37.3%,#fafafa 38.5%,#eeeeee 39.1%,#d0d0d0 39.7%,#c4c4c4 40.3%,#d2d2d2 41.5%,#fbfbfb 42.7%,#ffffff 46.4%,#fafafa 47%,#b4b4b4 48.2%,#dedede 48.8%,#ffffff 49.4%,#f7f7f7 50%,#d4d4d4 50.6%,#b9b9b9 51.2%,#a6a6a6 51.8%,#a1a1a1 52.4%,#adadad 53.6%,#717171 56.7%,#6c6c6c 57.3%,#888888 58.5%,#7e7e7e 59.1%,#686868 59.7%,#5b5b5b 60.3%,#5c5c5c 60.9%,#646464 61.5%,#5a5a5a 62.7%,#5e5e5e 63.3%,#8c8c8c 65.8%,#888888 66.4%,#8b8b8b 67%,#a9a9a9 67.6%,#c0c0c0 68.2%,#b3b3b3 68.8%,#9c9c9c 69.4%,#9b9b9b 70.6%,#939393 71.2%,#a7a7a7 72.4%,#888888 73.6%,#8f8f8f 74.2%,#909090 77.9%,#767676 79.1%,#6c6c6c 80.9%,#535353 81.5%,#434343 82.1%,#323232 83.3%,#313131 83.9%,#404040 85.2%,#414141 85.8%,#343434 87%,#3b3b3b 88.8%,#353535 91.8%,#545454 93.6%,#454545 94.8%,#525252 96.1%,#454545 97.3%,#4b4b4b 98.5%,#3f3f3f 99.1%,#383838 100%)"></i>
<i style="background:linear-gradient(90deg,#b7b7b7 0%,#b4b4b4 1.5%,#939393 2.1%,#979797 2.7%,#adadad 3.3%,#e7e7e7 3.9%,#f5f5f5 4.5%,#e5e5e5 5.2%,#a8a8a8 5.8%,#9e9e9e 6.4%,#3f3f3f 7.6%,#474747 8.2%,#575757 8.8%,#5e5e5e 10%,#757575 10.6%,#989898 11.2%,#a0a0a0 11.8%,#a0a0a0 13%,#9b9b9b 13.6%,#7d7d7d 14.2%,#4b4b4b 14.8%,#2e2e2e 15.5%,#2f2f2f 16.1%,#404040 17.3%,#424242 17.9%,#393939 21.5%,#626262 23.3%,#525252 25.2%,#5e5e5e 25.8%,#565656 27%,#5e5e5e 27.6%,#777777 28.2%,#888888 28.8%,#7f7f7f 30%,#868686 30.6%,#858585 31.8%,#9d9d9d 32.4%,#bebebe 33%,#d4d4d4 33.6%,#d9d9d9 34.8%,#d1d1d1 35.5%,#d5d5d5 36.1%,#bcbcbc 36.7%,#aeaeae 37.3%,#fafafa 38.5%,#eeeeee 39.1%,#d0d0d0 39.7%,#c4c4c4 40.3%,#d2d2d2 41.5%,#fbfbfb 42.7%,#fefefe 46.4%,#f9f9f9 47%,#b4b4b4 48.2%,#dedede 48.8%,#ffffff 49.4%,#f6f6f6 50%,#d3d3d3 50.6%,#b9b9b9 51.2%,#a6a6a6 51.8%,#a1a1a1 52.4%,#adadad 53.6%,#717171 56.7%,#6c6c6c 57.3%,#888888 58.5%,#7e7e7e 59.1%,#686868 59.7%,#5b5b5b 60.3%,#5c5c5c 60.9%,#646464 61.5%,#5a5a5a 62.7%,#5e5e5e 63.3%,#7d7d7d 65.2%,#828282 65.8%,#787878 66.4%,#777777 67%,#9f9f9f 68.2%,#949494 68.8%,#818181 69.4%,#828282 70.6%,#7b7b7b 71.2%,#8c8c8c 72.4%,#737373 73.6%,#7a7a7a 74.8%,#7b7b7b 77.9%,#646464 79.1%,#5d5d5d 80.9%,#474747 81.5%,#3b3b3b 82.1%,#2e2e2e 83.3%,#2d2d2d 83.9%,#3b3b3b 85.2%,#3c3c3c 85.8%,#303030 87%,#363636 88.8%,#313131 91.8%,#4d4d4d 93.6%,#3f3f3f 94.8%,#4b4b4b 96.1%,#3f3f3f 97.3%,#454545 98.5%,#3a3a3a 99.1%,#343434 100%)"></i>
<i style="background:linear-gradient(90deg,#b9b9b9 0%,#b5b5b5 1.5%,#959595 2.1%,#9a9a9a 2.7%,#afafaf 3.3%,#e8e8e8 3.9%,#f5f5f5 4.5%,#e5e5e5 5.2%,#a7a7a7 5.8%,#9c9c9c 6.4%,#696969 7%,#3e3e3e 7.6%,#575757 8.8%,#5e5e5e 10%,#757575 10.6%,#989898 11.2%,#a0a0a0 11.8%,#a0a0a0 13%,#9b9b9b 13.6%,#7d7d7d 14.2%,#4b4b4b 14.8%,#2e2e2e 15.5%,#2f2f2f 16.1%,#414141 17.3%,#424242 17.9%,#393939 21.5%,#5c5c5c 23.3%,#4e4e4e 25.2%,#5e5e5e 25.8%,#5e5e5e 26.4%,#575757 27%,#5f5f5f 27.6%,#7a7a7a 28.2%,#8c8c8c 28.8%,#848484 30%,#8e8e8e 30.6%,#909090 31.8%,#bcbcbc 33%,#c9c9c9 33.6%,#cccccc 34.8%,#c4c4c4 35.5%,#c8c8c8 36.1%,#b1b1b1 36.7%,#a4a4a4 37.3%,#eaeaea 38.5%,#dfdfdf 39.1%,#c2c2c2 39.7%,#b7b7b7 40.3%,#c5c5c5 41.5%,#ebebeb 42.7%,#ededed 43.3%,#ffffff 44.5%,#ffffff 45.2%,#f4f4f4 45.8%,#e9e9e9 47%,#a9a9a9 48.2%,#f5f5f5 49.4%,#e7e7e7 50%,#c7c7c7 50.6%,#aeaeae 51.2%,#9d9d9d 51.8%,#989898 52.4%,#a5a5a5 53.6%,#6c6c6c 56.7%,#676767 57.3%,#828282 58.5%,#797979 59.1%,#646464 59.7%,#575757 60.3%,#606060 61.5%,#575757 62.7%,#6c6c6c 64.5%,#6c6c6c 65.2%,#616161 65.8%,#4c4c4c 66.4%,#434343 67%,#515151 68.2%,#414141 69.4%,#404040 71.2%,#4a4a4a 72.4%,#3e3e3e 73.6%,#464646 77.9%,#393939 79.1%,#353535 80.9%,#242424 82.1%,#212121 83.3%,#2b2b2b 85.8%,#222222 87%,#272727 88.8%,#232323 91.8%,#373737 93.6%,#2d2d2d 94.8%,#353535 96.1%,#2d2d2d 97.3%,#313131 98.5%,#292929 100%)"></i>
<i style="background:linear-gradient(90deg,#bbbbbb 0%,#b7b7b7 1.5%,#979797 2.1%,#9d9d9d 2.7%,#b1b1b1 3.3%,#e8e8e8 3.9%,#f6f6f6 4.5%,#e5e5e5 5.2%,#a7a7a7 5.8%,#9a9a9a 6.4%,#626262 7%,#3e3e3e 7.6%,#585858 8.8%,#5d5d5d 10%,#757575 10.6%,#989898 11.2%,#a0a0a0 11.8%,#a0a0a0 13%,#9b9b9b 13.6%,#7d7d7d 14.2%,#4b4b4b 14.8%,#2e2e2e 15.5%,#2f2f2f 16.1%,#414141 17.3%,#434343 17.9%,#393939 21.5%,#565656 23.3%,#454545 25.2%,#565656 25.8%,#575757 26.4%,#515151 27%,#595959 27.6%,#727272 28.2%,#848484 28.8%,#7f7f7f 30%,#898989 30.6%,#8c8c8c 31.8%,#9a9a9a 33%,#8c8c8c 35.5%,#8f8f8f 36.1%,#777777 37.3%,#a5a5a5 38.5%,#9b9b9b 39.1%,#878787 39.7%,#7f7f7f 40.3%,#888888 41.5%,#a2a2a2 42.7%,#a8a8a8 43.9%,#b7b7b7 44.5%,#b5b5b5 45.2%,#a7a7a7 45.8%,#9f9f9f 47%,#747474 48.2%,#a9a9a9 49.4%,#a0a0a0 50%,#8b8b8b 50.6%,#737373 51.8%,#737373 52.4%,#808080 53.6%,#575757 56.7%,#545454 57.3%,#6c6c6c 58.5%,#646464 59.1%,#535353 59.7%,#494949 60.3%,#505050 61.5%,#484848 62.7%,#585858 64.5%,#545454 65.2%,#353535 66.4%,#2f2f2f 67%,#393939 68.2%,#2e2e2e 69.4%,#2e2e2e 71.2%,#363636 72.4%,#2e2e2e 73.6%,#383838 77.9%,#2d2d2d 79.1%,#2a2a2a 80.9%,#212121 81.5%,#1d1d1d 83.3%,#272727 85.8%,#1f1f1f 87%,#232323 88.8%,#202020 91.8%,#323232 93.6%,#292929 94.8%,#303030 96.1%,#292929 97.3%,#2d2d2d 98.5%,#272727 100%)"></i>
<i style="background:linear-gradient(90deg,#bdbdbd 0%,#b9b9b9 1.5%,#9a9a9a 2.1%,#a0a0a0 2.7%,#b3b3b3 3.3%,#e9e9e9 3.9%,#f6f6f6 4.5%,#e5e5e5 5.2%,#a6a6a6 5.8%,#939393 6.4%,#5c5c5c 7%,#414141 7.6%,#585858 8.8%,#5d5d5d 10%,#747474 10.6%,#989898 11.2%,#a0a0a0 11.8%,#a0a0a0 13%,#9b9b9b 13.6%,#7d7d7d 14.2%,#4b4b4b 14.8%,#2e2e2e 15.5%,#2f2f2f 16.1%,#414141 17.3%,#434343 17.9%,#393939 21.5%,#4d4d4d 22.7%,#515151 23.3%,#414141 24.5%,#424242 25.2%,#585858 25.8%,#5b5b5b 26.4%,#565656 27%,#606060 27.6%,#7d7d7d 28.2%,#939393 28.8%,#929292 30%,#9f9f9f 30.6%,#a2a2a2 31.2%,#a1a1a1 32.4%,#9a9a9a 33%,#7d7d7d 34.2%,#6d6d6d 35.5%,#6f6f6f 36.1%,#5e5e5e 37.3%,#777777 38.5%,#5e5e5e 39.7%,#585858 40.3%,#5d5d5d 41.5%,#6d6d6d 42.7%,#6f6f6f 43.9%,#787878 44.5%,#666666 47%,#494949 48.2%,#696969 49.4%,#585858 50.6%,#525252 51.8%,#686868 53.6%,#494949 57.3%,#606060 58.5%,#5a5a5a 59.1%,#414141 60.3%,#474747 61.5%,#3f3f3f 62.7%,#4d4d4d 64.5%,#4a4a4a 65.2%,#313131 66.4%,#2d2d2d 67%,#373737 68.2%,#2d2d2d 69.4%,#2d2d2d 71.2%,#353535 72.4%,#2d2d2d 73.6%,#373737 77.9%,#2d2d2d 79.1%,#292929 80.9%,#1e1e1e 82.1%,#1d1d1d 83.9%,#272727 85.8%,#1f1f1f 87%,#232323 88.8%,#202020 91.8%,#323232 93.6%,#292929 94.8%,#303030 96.1%,#292929 97.3%,#2d2d2d 98.5%,#282828 100%)"></i>
<i style="background:linear-gradient(90deg,#bfbfbf 0%,#bababa 1.5%,#9c9c9c 2.1%,#a3a3a3 2.7%,#b5b5b5 3.3%,#e9e9e9 3.9%,#f6f6f6 4.5%,#e5e5e5 5.2%,#a4a4a4 5.8%,#8b8b8b 6.4%,#555555 7%,#464646 7.6%,#545454 8.2%,#5d5d5d 10%,#747474 10.6%,#989898 11.2%,#a0a0a0 11.8%,#a0a0a0 13%,#9b9b9b 13.6%,#7d7d7d 14.2%,#4b4b4b 14.8%,#2e2e2e 15.5%,#2e2e2e 16.1%,#3f3f3f 17.3%,#414141 17.9%,#373737 21.5%,#494949 22.7%,#4d4d4d 23.3%,#3e3e3e 24.5%,#404040 25.2%,#5a5a5a 25.8%,#5f5f5f 26.4%,#5a5a5a 27%,#656565 27.6%,#848484 28.2%,#9c9c9c 28.8%,#9c9c9c 30%,#aaaaaa 30.6%,#adadad 31.2%,#aaaaaa 32.4%,#a1a1a1 33%,#7e7e7e 34.2%,#6a6a6a 35.5%,#6d6d6d 36.1%,#5c5c5c 37.3%,#727272 38.5%,#595959 39.7%,#535353 40.3%,#575757 41.5%,#666666 42.7%,#676767 43.9%,#6f6f6f 44.5%,#5d5d5d 47%,#424242 48.2%,#5d5d5d 49.4%,#4f4f4f 50.6%,#4d4d4d 51.8%,#606060 53%,#656565 53.6%,#484848 57.3%,#5f5f5f 58.5%,#595959 59.1%,#404040 60.3%,#454545 61.5%,#3e3e3e 62.7%,#4b4b4b 64.5%,#484848 65.2%,#303030 66.4%,#2d2d2d 67%,#373737 68.2%,#2d2d2d 69.4%,#2d2d2d 71.2%,#353535 72.4%,#2d2d2d 73.6%,#373737 77.9%,#2d2d2d 79.1%,#292929 80.9%,#1e1e1e 82.1%,#1d1d1d 83.9%,#272727 85.8%,#1f1f1f 87%,#232323 88.8%,#202020 91.8%,#323232 93.6%,#292929 94.8%,#303030 96.1%,#292929 97.3%,#2d2d2d 98.5%,#262626 100%)"></i>
<i style="background:linear-gradient(90deg,#c1c1c1 0%,#c2c2c2 0.9%,#bcbcbc 1.5%,#9f9f9f 2.1%,#a6a6a6 2.7%,#b7b7b7 3.3%,#eaeaea 3.9%,#f6f6f6 4.5%,#e5e5e5 5.2%,#a2a2a2 5.8%,#838383 6.4%,#4e4e4e 7%,#4c4c4c 7.6%,#585858 8.2%,#5d5d5d 10%,#747474 10.6%,#989898 11.2%,#a0a0a0 11.8%,#a0a0a0 13%,#9b9b9b 13.6%,#7d7d7d 14.2%,#4b4b4b 14.8%,#2d2d2d 15.5%,#2a2a2a 16.1%,#333333 17.3%,#2a2a2a 21.5%,#3a3a3a 23.3%,#2f2f2f 24.5%,#323232 25.2%,#494949 25.8%,#505050 26.4%,#4c4c4c 27%,#555555 27.6%,#848484 28.8%,#838383 30%,#8f8f8f 30.6%,#919191 31.2%,#8f8f8f 32.4%,#878787 33%,#6a6a6a 34.2%,#5b5b5b 35.5%,#5d5d5d 36.1%,#4f4f4f 37.3%,#626262 38.5%,#4d4d4d 39.7%,#484848 40.3%,#606060 44.5%,#515151 47%,#3a3a3a 48.2%,#535353 49.4%,#474747 50.6%,#454545 51.8%,#5b5b5b 53.6%,#414141 57.3%,#565656 58.5%,#515151 59.1%,#3a3a3a 60.3%,#3f3f3f 61.5%,#393939 62.7%,#454545 64.5%,#444444 65.2%,#303030 66.4%,#2d2d2d 67%,#373737 68.2%,#2d2d2d 69.4%,#2d2d2d 71.2%,#353535 72.4%,#2d2d2d 73.6%,#373737 77.9%,#2d2d2d 79.1%,#292929 80.9%,#1e1e1e 82.1%,#1d1d1d 83.9%,#272727 85.8%,#1f1f1f 87%,#232323 88.8%,#202020 91.8%,#323232 93.6%,#292929 94.8%,#303030 96.1%,#292929 97.3%,#2d2d2d 98.5%,#262626 100%)"></i>
<i style="background:linear-gradient(90deg,#c3c3c3 0%,#c3c3c3 0.9%,#bebebe 1.5%,#a1a1a1 2.1%,#a8a8a8 2.7%,#b9b9b9 3.3%,#eaeaea 3.9%,#f4f4f4 4.5%,#e1e1e1 5.2%,#9e9e9e 5.8%,#7a7a7a 6.4%,#484848 7%,#5c5c5c 8.2%,#595959 9.4%,#5d5d5d 10%,#747474 10.6%,#979797 11.2%,#9f9f9f 11.8%,#9f9f9f 13%,#9a9a9a 13.6%,#7c7c7c 14.2%,#4b4b4b 14.8%,#2b2b2b 15.5%,#232323 16.1%,#171717 18.5%,#131313 21.5%,#1b1b1b 23.3%,#181818 25.2%,#202020 25.8%,#222222 27.6%,#323232 28.8%,#353535 30.6%,#232323 37.3%,#2d2d2d 38.5%,#212121 40.3%,#2f2f2f 44.5%,#212121 48.2%,#313131 49.4%,#2a2a2a 51.8%,#383838 53.6%,#2a2a2a 57.3%,#383838 58.5%,#262626 60.3%,#282828 63.3%,#353535 65.2%,#2d2d2d 67%,#373737 68.2%,#2d2d2d 69.4%,#2d2d2d 71.2%,#353535 72.4%,#2d2d2d 73.6%,#373737 77.9%,#2d2d2d 79.1%,#292929 80.9%,#202020 81.5%,#1d1d1d 83.3%,#272727 85.8%,#1f1f1f 87%,#232323 88.8%,#202020 91.8%,#323232 93.6%,#292929 94.8%,#303030 96.1%,#292929 97.3%,#2d2d2d 98.5%,#2a2a2a 100%)"></i>
<i style="background:linear-gradient(90deg,#c5c5c5 0%,#c5c5c5 0.9%,#bfbfbf 1.5%,#a3a3a3 2.1%,#ababab 2.7%,#bbbbbb 3.3%,#e9e9e9 3.9%,#e9e9e9 4.5%,#c4c4c4 5.2%,#8d8d8d 5.8%,#6f6f6f 6.4%,#454545 7%,#585858 7.6%,#5f5f5f 8.2%,#595959 9.4%,#5c5c5c 10%,#727272 10.6%,#949494 11.2%,#9b9b9b 11.8%,#969696 13.6%,#7a7a7a 14.2%,#494949 14.8%,#2a2a2a 15.5%,#161616 16.7%,#070707 18.5%,#080808 23.9%,#121212 25.8%,#0f0f0f 27%,#171717 28.8%,#141414 37.3%,#1a1a1a 38.5%,#151515 40.3%,#1e1e1e 44.5%,#161616 48.2%,#1e1e1e 49.4%,#191919 51.8%,#222222 53.6%,#1a1a1a 57.3%,#232323 58.5%,#181818 60.3%,#181818 62.7%,#202020 64.5%,#2e2e2e 65.8%,#2c2c2c 67%,#373737 68.2%,#2c2c2c 69.4%,#2c2c2c 71.2%,#353535 72.4%,#2d2d2d 73.6%,#363636 77.9%,#2c2c2c 79.1%,#292929 80.9%,#1d1d1d 82.1%,#1d1d1d 83.9%,#262626 85.8%,#1e1e1e 87%,#222222 88.8%,#1f1f1f 91.8%,#313131 93.6%,#282828 94.8%,#303030 96.1%,#282828 97.3%,#2c2c2c 98.5%,#282828 100%)"></i>
<i style="background:linear-gradient(90deg,#c7c7c7 0%,#c7c7c7 0.9%,#c1c1c1 1.5%,#a6a6a6 2.1%,#bdbdbd 3.3%,#e7e7e7 3.9%,#d5d5d5 4.5%,#929292 5.2%,#707070 5.8%,#636363 6.4%,#444444 7%,#5e5e5e 7.6%,#616161 8.2%,#595959 9.4%,#5c5c5c 10%,#6e6e6e 10.6%,#8d8d8d 11.2%,#949494 11.8%,#8f8f8f 13.6%,#747474 14.2%,#474747 14.8%,#2a2a2a 15.5%,#161616 16.7%,#070707 18.5%,#080808 23.9%,#121212 25.8%,#0e0e0e 27%,#161616 28.8%,#141414 37.3%,#191919 38.5%,#141414 40.3%,#1d1d1d 44.5%,#141414 48.2%,#1b1b1b 49.4%,#171717 51.8%,#1f1f1f 53.6%,#171717 57.3%,#1f1f1f 58.5%,#161616 60.3%,#161616 62.7%,#1e1e1e 64.5%,#333333 65.8%,#353535 67%,#444444 68.2%,#373737 69.4%,#373737 71.2%,#414141 72.4%,#373737 73.6%,#434343 77.9%,#363636 79.1%,#323232 80.9%,#222222 82.1%,#1f1f1f 83.3%,#282828 85.8%,#202020 87%,#242424 88.8%,#202020 91.8%,#333333 93.6%,#292929 94.8%,#313131 96.1%,#292929 97.3%,#2d2d2d 98.5%,#262626 100%)"></i>
<i style="background:linear-gradient(90deg,#c9c9c9 0%,#c9c9c9 0.9%,#c3c3c3 1.5%,#a8a8a8 2.1%,#bfbfbf 3.3%,#e6e6e6 3.9%,#c8c8c8 4.5%,#6f6f6f 5.2%,#595959 5.8%,#595959 6.4%,#444444 7%,#646464 7.6%,#5a5a5a 8.8%,#5b5b5b 10%,#6a6a6a 10.6%,#868686 11.2%,#8c8c8c 11.8%,#8c8c8c 13%,#888888 13.6%,#6f6f6f 14.2%,#454545 14.8%,#2b2b2b 15.5%,#232323 16.1%,#171717 18.5%,#141414 21.5%,#1b1b1b 23.3%,#161616 27%,#232323 28.8%,#1e1e1e 37.3%,#272727 38.5%,#1e1e1e 40.3%,#2c2c2c 44.5%,#262626 47%,#1d1d1d 48.2%,#282828 49.4%,#222222 51.8%,#2e2e2e 53.6%,#232323 57.3%,#2f2f2f 58.5%,#212121 60.3%,#212121 62.7%,#262626 63.9%,#2f2f2f 64.5%,#646464 65.8%,#696969 67%,#838383 68.2%,#6a6a6a 69.4%,#6e6e6e 70.6%,#6b6b6b 71.2%,#7e7e7e 72.4%,#6c6c6c 73.6%,#7f7f7f 76.1%,#828282 77.9%,#6a6a6a 79.1%,#626262 80.9%,#3b3b3b 82.1%,#282828 83.3%,#262626 83.9%,#333333 85.2%,#333333 85.8%,#292929 87%,#2e2e2e 88.8%,#2a2a2a 91.8%,#424242 93.6%,#363636 94.8%,#404040 96.1%,#363636 97.3%,#3b3b3b 98.5%,#2e2e2e 100%)"></i>
<i style="background:linear-gradient(90deg,#cbcbcb 0%,#cbcbcb 0.9%,#c5c5c5 1.5%,#aaaaaa 2.1%,#c1c1c1 3.3%,#e6e6e6 3.9%,#c4c4c4 4.5%,#636363 5.2%,#4e4e4e 5.8%,#505050 6.4%,#444444 7%,#696969 7.6%,#595959 8.8%,#595959 10%,#666666 10.6%,#7e7e7e 11.2%,#848484 11.8%,#848484 13%,#808080 13.6%,#696969 14.2%,#434343 14.8%,#2c2c2c 15.5%,#2b2b2b 16.1%,#343434 17.3%,#2b2b2b 21.5%,#3c3c3c 23.3%,#2f2f2f 24.5%,#2e2e2e 25.2%,#3b3b3b 25.8%,#3d3d3d 26.4%,#383838 27%,#3c3c3c 27.6%,#565656 28.8%,#515151 30%,#555555 31.2%,#484848 34.2%,#4b4b4b 35.5%,#525252 36.1%,#494949 37.3%,#5e5e5e 38.5%,#484848 40.3%,#4e4e4e 41.5%,#5d5d5d 42.7%,#616161 43.9%,#696969 44.5%,#5d5d5d 47%,#404040 48.2%,#5f5f5f 49.4%,#535353 50.6%,#525252 51.8%,#696969 53%,#6e6e6e 53.6%,#545454 56.7%,#535353 57.3%,#707070 58.5%,#696969 59.1%,#585858 59.7%,#4d4d4d 60.3%,#565656 61.5%,#4e4e4e 62.7%,#5b5b5b 63.9%,#838383 65.8%,#777777 67%,#939393 68.2%,#777777 69.4%,#7b7b7b 70.6%,#777777 71.2%,#8d8d8d 72.4%,#797979 73.6%,#828282 74.2%,#8e8e8e 76.1%,#929292 77.9%,#777777 79.1%,#6e6e6e 80.9%,#545454 81.5%,#414141 82.1%,#2a2a2a 83.3%,#292929 83.9%,#353535 85.2%,#363636 85.8%,#2b2b2b 87%,#313131 88.8%,#2c2c2c 91.8%,#464646 93.6%,#393939 94.8%,#444444 96.1%,#393939 97.3%,#3e3e3e 98.5%,#303030 100%)"></i>
<i style="background:linear-gradient(90deg,#cdcdcd 0%,#cdcdcd 0.9%,#c6c6c6 1.5%,#adadad 2.1%,#c3c3c3 3.3%,#e6e6e6 3.9%,#c1c1c1 4.5%,#5c5c5c 5.2%,#464646 5.8%,#474747 7%,#696969 7.6%,#535353 8.8%,#535353 10%,#5e5e5e 10.6%,#747474 11.2%,#787878 13%,#757575 13.6%,#626262 14.2%,#414141 14.8%,#2e2e2e 15.5%,#303030 16.1%,#414141 17.3%,#434343 17.9%,#393939 21.5%,#4c4c4c 22.7%,#505050 23.3%,#3f3f3f 24.5%,#404040 25.2%,#535353 25.8%,#535353 26.4%,#4b4b4b 27%,#515151 27.6%,#757575 28.8%,#6e6e6e 30%,#757575 30.6%,#737373 31.2%,#636363 34.2%,#676767 35.5%,#717171 36.1%,#646464 37.3%,#818181 38.5%,#696969 39.7%,#636363 40.3%,#6b6b6b 41.5%,#808080 42.7%,#858585 43.9%,#919191 44.5%,#919191 45.2%,#858585 45.8%,#808080 47%,#575757 48.2%,#909090 49.4%,#8b8b8b 50%,#7e7e7e 50.6%,#7c7c7c 51.8%,#898989 52.4%,#9f9f9f 53%,#a8a8a8 53.6%,#939393 55.5%,#7f7f7f 56.7%,#7e7e7e 57.3%,#aaaaaa 58.5%,#a0a0a0 59.1%,#858585 59.7%,#757575 60.3%,#777777 60.9%,#838383 61.5%,#777777 62.7%,#7c7c7c 63.3%,#979797 64.5%,#9e9e9e 65.2%,#979797 65.8%,#7e7e7e 66.4%,#727272 67%,#888888 68.2%,#6e6e6e 69.4%,#727272 70.6%,#6f6f6f 71.2%,#838383 72.4%,#707070 73.6%,#848484 76.1%,#878787 77.9%,#6e6e6e 79.1%,#666666 80.9%,#4d4d4d 81.5%,#3c3c3c 82.1%,#292929 83.3%,#272727 83.9%,#333333 85.2%,#343434 85.8%,#292929 87%,#2f2f2f 88.8%,#2a2a2a 91.8%,#434343 93.6%,#363636 94.8%,#414141 96.1%,#363636 97.3%,#3b3b3b 98.5%,#323232 99.1%,#2d2d2d 100%)"></i>
<i style="background:linear-gradient(90deg,#cfcfcf 0%,#cfcfcf 0.9%,#c8c8c8 1.5%,#afafaf 2.1%,#c6c6c6 3.3%,#e7e7e7 3.9%,#bfbfbf 4.5%,#555555 5.2%,#3f3f3f 5.8%,#505050 7%,#626262 7.6%,#484848 8.8%,#464646 9.4%,#484848 10%,#606060 11.2%,#636363 11.8%,#616161 13.6%,#383838 15.5%,#454545 19.1%,#3c3c3c 21.5%,#505050 22.7%,#535353 23.3%,#424242 24.5%,#454545 25.2%,#585858 25.8%,#575757 26.4%,#4f4f4f 27%,#555555 27.6%,#6c6c6c 28.2%,#7c7c7c 28.8%,#757575 30%,#7d7d7d 30.6%,#7c7c7c 31.2%,#6a6a6a 34.2%,#6e6e6e 35.5%,#787878 36.1%,#6a6a6a 37.3%,#898989 38.5%,#6f6f6f 39.7%,#696969 40.3%,#727272 41.5%,#888888 42.7%,#8e8e8e 43.9%,#9b9b9b 44.5%,#9a9a9a 45.2%,#8f8f8f 45.8%,#898989 47%,#5f5f5f 48.2%,#9b9b9b 49.4%,#969696 50%,#878787 50.6%,#838383 51.2%,#868686 51.8%,#959595 52.4%,#adadad 53%,#b7b7b7 53.6%,#a2a2a2 55.5%,#8d8d8d 56.7%,#8c8c8c 57.3%,#bdbdbd 58.5%,#b3b3b3 59.1%,#959595 59.7%,#848484 60.3%,#878787 60.9%,#949494 61.5%,#919191 62.1%,#878787 62.7%,#8e8e8e 63.3%,#adadad 64.5%,#b5b5b5 65.2%,#ababab 65.8%,#858585 66.4%,#686868 67%,#6f6f6f 68.2%,#595959 69.4%,#5a5a5a 71.2%,#6a6a6a 72.4%,#5b5b5b 73.6%,#6b6b6b 76.1%,#6d6d6d 77.9%,#595959 79.1%,#525252 80.9%,#3c3c3c 81.5%,#303030 82.1%,#242424 83.3%,#232323 83.9%,#2e2e2e 85.8%,#242424 87%,#292929 88.8%,#242424 91.8%,#393939 93.6%,#2e2e2e 94.8%,#363636 96.1%,#2d2d2d 97.3%,#313131 98.5%,#292929 100%)"></i>
<i style="background:linear-gradient(90deg,#d0d0d0 0%,#d0d0d0 0.9%,#c9c9c9 1.5%,#b2b2b2 2.1%,#c8c8c8 3.3%,#e7e7e7 3.9%,#bdbdbd 4.5%,#4f4f4f 5.2%,#383838 5.8%,#444444 6.4%,#505050 7.6%,#3c3c3c 8.8%,#3d3d3d 10%,#5a5a5a 11.2%,#5c5c5c 11.8%,#5a5a5a 13.6%,#3e3e3e 16.7%,#373737 17.9%,#444444 19.1%,#3b3b3b 21.5%,#4f4f4f 22.7%,#525252 23.3%,#444444 24.5%,#474747 25.2%,#595959 25.8%,#595959 26.4%,#515151 27%,#585858 27.6%,#707070 28.2%,#818181 28.8%,#7b7b7b 30%,#838383 30.6%,#838383 31.2%,#707070 34.2%,#747474 35.5%,#7f7f7f 36.1%,#6f6f6f 37.3%,#8e8e8e 38.5%,#737373 39.7%,#6d6d6d 40.3%,#767676 41.5%,#8e8e8e 42.7%,#949494 43.9%,#a2a2a2 44.5%,#a2a2a2 45.2%,#969696 45.8%,#909090 47%,#686868 48.2%,#9e9e9e 49.4%,#989898 50%,#8a8a8a 50.6%,#878787 51.2%,#8b8b8b 51.8%,#9b9b9b 52.4%,#b5b5b5 53%,#c1c1c1 53.6%,#adadad 55.5%,#999999 56.7%,#989898 57.3%,#d0d0d0 58.5%,#c6c6c6 59.1%,#a6a6a6 59.7%,#949494 60.3%,#979797 60.9%,#a7a7a7 61.5%,#a5a5a5 62.1%,#9a9a9a 62.7%,#a2a2a2 63.3%,#c8c8c8 64.5%,#d3d3d3 65.2%,#cccccc 65.8%,#aaaaaa 66.4%,#999999 67%,#b6b6b6 68.2%,#939393 69.4%,#999999 70.6%,#949494 71.2%,#afafaf 72.4%,#969696 73.6%,#a1a1a1 74.2%,#b0b0b0 76.1%,#b5b5b5 77.9%,#949494 79.1%,#8d8d8d 79.7%,#909090 80.3%,#868686 80.9%,#5f5f5f 81.5%,#464646 82.1%,#2b2b2b 83.3%,#282828 83.9%,#343434 85.2%,#353535 85.8%,#2a2a2a 87%,#2e2e2e 88.8%,#292929 91.8%,#404040 93.6%,#343434 94.8%,#3d3d3d 96.1%,#333333 97.3%,#373737 98.5%,#2d2d2d 100%)"></i>
<i style="background:linear-gradient(90deg,#d1d1d1 0%,#d1d1d1 0.9%,#cbcbcb 1.5%,#b6b6b6 2.1%,#cccccc 3.3%,#e8e8e8 3.9%,#bcbcbc 4.5%,#4d4d4d 5.2%,#333333 5.8%,#393939 7.6%,#303030 8.8%,#333333 10%,#5a5a5a 11.2%,#5e5e5e 11.8%,#545454 15.5%,#363636 17.3%,#323232 17.9%,#424242 19.1%,#3a3a3a 21.5%,#4d4d4d 22.7%,#515151 23.3%,#434343 24.5%,#474747 25.2%,#595959 25.8%,#595959 26.4%,#515151 27%,#595959 27.6%,#717171 28.2%,#838383 28.8%,#7d7d7d 30%,#868686 30.6%,#737373 34.2%,#777777 35.5%,#818181 36.1%,#727272 37.3%,#919191 38.5%,#757575 39.7%,#6e6e6e 40.3%,#787878 41.5%,#909090 42.7%,#979797 43.9%,#a5a5a5 44.5%,#a5a5a5 45.2%,#999999 45.8%,#949494 47%,#6b6b6b 48.2%,#9f9f9f 49.4%,#999999 50%,#8c8c8c 50.6%,#898989 51.2%,#8d8d8d 51.8%,#9e9e9e 52.4%,#b9b9b9 53%,#c5c5c5 53.6%,#b2b2b2 55.5%,#9e9e9e 56.7%,#9e9e9e 57.3%,#d9d9d9 58.5%,#cfcfcf 59.1%,#adadad 59.7%,#9a9a9a 60.3%,#9f9f9f 60.9%,#afafaf 61.5%,#adadad 62.1%,#a2a2a2 62.7%,#acacac 63.3%,#d5d5d5 64.5%,#e1e1e1 65.2%,#dadada 65.8%,#bababa 66.4%,#b0b0b0 67%,#c9c9c9 67.6%,#d9d9d9 68.2%,#afafaf 69.4%,#b6b6b6 70.6%,#b0b0b0 71.2%,#d0d0d0 72.4%,#b2b2b2 73.6%,#c0c0c0 74.2%,#c8c8c8 75.5%,#d2d2d2 76.1%,#d7d7d7 77.9%,#b0b0b0 79.1%,#a8a8a8 79.7%,#acacac 80.3%,#a0a0a0 80.9%,#707070 81.5%,#505050 82.1%,#2c2c2c 83.3%,#292929 83.9%,#353535 85.2%,#353535 85.8%,#2a2a2a 87%,#2f2f2f 88.8%,#292929 91.8%,#404040 93.6%,#343434 94.8%,#3d3d3d 96.1%,#333333 97.3%,#373737 98.5%,#2b2b2b 100%)"></i>
<i style="background:linear-gradient(90deg,#d2d2d2 0%,#cccccc 1.5%,#bababa 2.1%,#cfcfcf 3.3%,#e8e8e8 3.9%,#bdbdbd 4.5%,#4e4e4e 5.2%,#353535 5.8%,#373737 6.4%,#2a2a2a 8.2%,#2e2e2e 10%,#5a5a5a 11.2%,#5e5e5e 11.8%,#565656 15.5%,#353535 17.3%,#303030 17.9%,#404040 19.1%,#383838 21.5%,#4b4b4b 22.7%,#4e4e4e 23.3%,#424242 24.5%,#474747 25.2%,#595959 25.8%,#595959 26.4%,#525252 27%,#595959 27.6%,#727272 28.2%,#838383 28.8%,#7e7e7e 30%,#878787 30.6%,#868686 31.2%,#747474 34.2%,#777777 35.5%,#828282 36.1%,#727272 37.3%,#919191 38.5%,#757575 39.7%,#6f6f6f 40.3%,#787878 41.5%,#919191 42.7%,#979797 43.9%,#a6a6a6 44.5%,#a6a6a6 45.2%,#9a9a9a 45.8%,#949494 47%,#6c6c6c 48.2%,#9f9f9f 49.4%,#999999 50%,#8c8c8c 50.6%,#898989 51.2%,#8d8d8d 51.8%,#9e9e9e 52.4%,#b9b9b9 53%,#c6c6c6 53.6%,#b3b3b3 55.5%,#9e9e9e 56.7%,#9e9e9e 57.3%,#dadada 58.5%,#d0d0d0 59.1%,#aeaeae 59.7%,#9b9b9b 60.3%,#a0a0a0 60.9%,#b0b0b0 61.5%,#aeaeae 62.1%,#a4a4a4 62.7%,#adadad 63.3%,#d6d6d6 64.5%,#e2e2e2 65.2%,#dbdbdb 65.8%,#bcbcbc 66.4%,#b2b2b2 67%,#cdcdcd 67.6%,#dddddd 68.2%,#b2b2b2 69.4%,#b9b9b9 70.6%,#b3b3b3 71.2%,#d4d4d4 72.4%,#b6b6b6 73.6%,#c3c3c3 74.2%,#cccccc 75.5%,#d6d6d6 76.1%,#dbdbdb 77.9%,#b3b3b3 79.1%,#acacac 79.7%,#afafaf 80.3%,#a3a3a3 80.9%,#727272 81.5%,#515151 82.1%,#2b2b2b 83.3%,#282828 83.9%,#343434 85.2%,#353535 85.8%,#2a2a2a 87%,#2e2e2e 88.8%,#292929 91.8%,#404040 93.6%,#333333 94.8%,#3c3c3c 96.1%,#323232 97.3%,#363636 98.5%,#2a2a2a 100%)"></i>
<i style="background:linear-gradient(90deg,#d3d3d3 0%,#cecece 1.5%,#bdbdbd 2.1%,#cccccc 2.7%,#d2d2d2 3.3%,#e9e9e9 3.9%,#bdbdbd 4.5%,#505050 5.2%,#404040 5.8%,#5f5f5f 6.4%,#4c4c4c 7%,#303030 7.6%,#292929 8.2%,#2d2d2d 10%,#5a5a5a 11.2%,#5e5e5e 11.8%,#565656 15.5%,#353535 17.3%,#303030 17.9%,#3f3f3f 19.1%,#373737 21.5%,#494949 22.7%,#4c4c4c 23.3%,#414141 24.5%,#464646 25.2%,#595959 25.8%,#595959 26.4%,#515151 27%,#585858 27.6%,#717171 28.2%,#828282 28.8%,#7d7d7d 30%,#868686 30.6%,#858585 31.2%,#737373 34.2%,#767676 35.5%,#818181 36.1%,#717171 37.3%,#909090 38.5%,#747474 39.7%,#6e6e6e 40.3%,#777777 41.5%,#909090 42.7%,#969696 43.9%,#a5a5a5 44.5%,#a5a5a5 45.2%,#999999 45.8%,#939393 47%,#6b6b6b 48.2%,#9e9e9e 49.4%,#989898 50%,#8b8b8b 50.6%,#888888 51.2%,#8c8c8c 51.8%,#9d9d9d 52.4%,#b7b7b7 53%,#c4c4c4 53.6%,#b1b1b1 55.5%,#9d9d9d 56.7%,#9d9d9d 57.3%,#d7d7d7 58.5%,#cdcdcd 59.1%,#acacac 59.7%,#999999 60.3%,#9e9e9e 60.9%,#aeaeae 61.5%,#acacac 62.1%,#a1a1a1 62.7%,#ababab 63.3%,#d3d3d3 64.5%,#dfdfdf 65.2%,#d8d8d8 65.8%,#b9b9b9 66.4%,#afafaf 67%,#c8c8c8 67.6%,#d8d8d8 68.2%,#afafaf 69.4%,#b6b6b6 70.6%,#b0b0b0 71.2%,#d0d0d0 72.4%,#b2b2b2 73.6%,#bfbfbf 74.2%,#c8c8c8 75.5%,#d2d2d2 76.1%,#d7d7d7 77.9%,#b0b0b0 79.1%,#a8a8a8 79.7%,#ababab 80.3%,#a0a0a0 80.9%,#707070 81.5%,#505050 82.1%,#2b2b2b 83.3%,#282828 83.9%,#343434 85.2%,#353535 85.8%,#2a2a2a 87%,#2e2e2e 88.8%,#292929 91.8%,#404040 93.6%,#333333 94.8%,#3c3c3c 96.1%,#323232 97.3%,#373737 98.5%,#2e2e2e 100%)"></i>
<i style="background:linear-gradient(90deg,#d4d4d4 0%,#cfcfcf 1.5%,#c1c1c1 2.1%,#d1d1d1 2.7%,#d6d6d6 3.3%,#eaeaea 3.9%,#bebebe 4.5%,#525252 5.2%,#474747 5.8%,#777777 6.4%,#636363 7%,#3f3f3f 7.6%,#2c2c2c 8.2%,#282828 8.8%,#2d2d2d 10%,#5a5a5a 11.2%,#5e5e5e 11.8%,#565656 15.5%,#353535 17.3%,#2f2f2f 17.9%,#3d3d3d 19.1%,#353535 21.5%,#474747 22.7%,#4a4a4a 23.3%,#3e3e3e 24.5%,#424242 25.2%,#545454 25.8%,#545454 26.4%,#4c4c4c 27%,#535353 27.6%,#797979 28.8%,#737373 30%,#7b7b7b 30.6%,#7a7a7a 31.2%,#696969 34.2%,#6c6c6c 35.5%,#757575 36.1%,#676767 37.3%,#838383 38.5%,#6a6a6a 39.7%,#646464 40.3%,#6d6d6d 41.5%,#828282 42.7%,#888888 43.9%,#959595 44.5%,#959595 45.2%,#8a8a8a 45.8%,#848484 47%,#5e5e5e 48.2%,#878787 49.4%,#767676 50.6%,#777777 51.8%,#858585 52.4%,#9c9c9c 53%,#a6a6a6 53.6%,#969696 55.5%,#848484 56.7%,#848484 57.3%,#b5b5b5 58.5%,#adadad 59.1%,#919191 59.7%,#818181 60.3%,#848484 60.9%,#929292 61.5%,#909090 62.1%,#878787 62.7%,#8f8f8f 63.3%,#b1b1b1 64.5%,#bbbbbb 65.2%,#b5b5b5 65.8%,#999999 66.4%,#8f8f8f 67%,#a3a3a3 67.6%,#afafaf 68.2%,#8e8e8e 69.4%,#949494 70.6%,#8f8f8f 71.2%,#a9a9a9 72.4%,#919191 73.6%,#9c9c9c 74.2%,#ababab 76.1%,#afafaf 77.9%,#8f8f8f 79.1%,#898989 79.7%,#8c8c8c 80.3%,#828282 80.9%,#5c5c5c 81.5%,#434343 82.1%,#282828 83.3%,#262626 83.9%,#323232 85.2%,#323232 85.8%,#282828 87%,#2c2c2c 88.8%,#282828 91.8%,#3e3e3e 93.6%,#323232 94.8%,#3b3b3b 96.1%,#313131 97.3%,#363636 98.5%,#2d2d2d 100%)"></i>
<i style="background:linear-gradient(90deg,#d5d5d5 0%,#d0d0d0 1.5%,#c5c5c5 2.1%,#d6d6d6 2.7%,#d9d9d9 3.3%,#ebebeb 3.9%,#bfbfbf 4.5%,#555555 5.2%,#4c4c4c 5.8%,#8a8a8a 6.4%,#797979 7%,#535353 7.6%,#333333 8.2%,#292929 8.8%,#282828 9.4%,#2d2d2d 10%,#5a5a5a 11.2%,#5e5e5e 11.8%,#565656 15.5%,#353535 17.3%,#2f2f2f 17.9%,#3b3b3b 19.1%,#343434 21.5%,#454545 22.7%,#484848 23.3%,#3a3a3a 24.5%,#3a3a3a 25.2%,#484848 25.8%,#404040 27%,#444444 27.6%,#616161 28.8%,#5a5a5a 30%,#5d5d5d 31.2%,#4c4c4c 34.2%,#4d4d4d 35.5%,#545454 36.1%,#494949 37.3%,#5d5d5d 38.5%,#464646 40.3%,#4b4b4b 41.5%,#5a5a5a 42.7%,#5d5d5d 43.9%,#656565 44.5%,#656565 45.2%,#555555 47%,#333333 48.2%,#3a3a3a 49.4%,#2e2e2e 51.2%,#2f2f2f 51.8%,#424242 53.6%,#343434 57.3%,#484848 58.5%,#454545 59.1%,#333333 60.3%,#3a3a3a 61.5%,#363636 62.7%,#4a4a4a 65.2%,#393939 67%,#474747 68.2%,#393939 69.4%,#3a3a3a 71.2%,#454545 72.4%,#3b3b3b 73.6%,#474747 76.1%,#494949 77.9%,#3c3c3c 79.1%,#373737 80.9%,#292929 81.5%,#222222 82.1%,#1c1c1c 83.3%,#252525 85.8%,#1e1e1e 87%,#222222 88.8%,#1f1f1f 91.8%,#323232 93.6%,#292929 94.8%,#323232 96.1%,#2a2a2a 97.3%,#2f2f2f 98.5%,#282828 100%)"></i>
<i style="background:linear-gradient(90deg,#d5d5d5 0%,#d2d2d2 1.5%,#c9c9c9 2.1%,#dadada 2.7%,#dddddd 3.3%,#ececec 3.9%,#c0c0c0 4.5%,#575757 5.2%,#525252 5.8%,#9e9e9e 6.4%,#919191 7%,#454545 8.2%,#2e2e2e 8.8%,#282828 9.4%,#2d2d2d 10%,#5a5a5a 11.2%,#5e5e5e 11.8%,#565656 15.5%,#2e2e2e 17.9%,#373737 19.1%,#303030 21.5%,#404040 22.7%,#434343 23.3%,#383838 24.5%,#3b3b3b 25.2%,#4f4f4f 25.8%,#4f4f4f 26.4%,#474747 27%,#4b4b4b 27.6%,#686868 28.8%,#5f5f5f 30%,#606060 31.2%,#4c4c4c 34.2%,#4d4d4d 35.5%,#535353 36.1%,#484848 37.3%,#5a5a5a 38.5%,#434343 40.3%,#484848 41.5%,#555555 42.7%,#5e5e5e 45.2%,#4b4b4b 47%,#232323 48.2%,#0d0d0d 50.6%,#131313 53.6%,#101010 57.3%,#161616 58.5%,#101010 60.3%,#191919 65.2%,#141414 67%,#191919 68.2%,#151515 69.4%,#1b1b1b 72.4%,#171717 73.6%,#1f1f1f 77.9%,#121212 82.1%,#1c1c1c 85.8%,#171717 87%,#1b1b1b 91.8%,#2c2c2c 93.6%,#252525 94.8%,#2d2d2d 96.1%,#272727 97.3%,#2c2c2c 98.5%,#272727 100%)"></i>
<i style="background:linear-gradient(90deg,#d6d6d6 0%,#d6d6d6 0.9%,#cccccc 2.1%,#dfdfdf 2.7%,#e0e0e0 3.3%,#ededed 3.9%,#c1c1c1 4.5%,#595959 5.2%,#585858 5.8%,#b2b2b2 6.4%,#a9a9a9 7%,#3a3a3a 8.8%,#2b2b2b 9.4%,#2d2d2d 10%,#5a5a5a 11.2%,#5e5e5e 11.8%,#565656 15.5%,#292929 17.9%,#232323 21.5%,#313131 23.3%,#2b2b2b 24.5%,#313131 25.2%,#4b4b4b 25.8%,#515151 26.4%,#494949 27%,#4d4d4d 27.6%,#6c6c6c 28.8%,#616161 30%,#666666 30.6%,#636363 31.2%,#4e4e4e 34.2%,#4f4f4f 35.5%,#555555 36.1%,#494949 37.3%,#5c5c5c 38.5%,#444444 40.3%,#494949 41.5%,#565656 42.7%,#5f5f5f 45.2%,#4b4b4b 47%,#212121 48.2%,#0a0a0a 50%,#080808 50.6%,#101010 58.5%,#0c0c0c 60.3%,#131313 65.2%,#131313 73.6%,#191919 77.9%,#101010 82.1%,#1b1b1b 85.8%,#161616 87%,#1a1a1a 91.8%,#2b2b2b 93.6%,#242424 94.8%,#2d2d2d 96.1%,#272727 97.3%,#2c2c2c 98.5%,#272727 100%)"></i>
<i style="background:linear-gradient(90deg,#d7d7d7 0%,#d0d0d0 2.1%,#e4e4e4 2.7%,#e3e3e3 3.3%,#ededed 3.9%,#c2c2c2 4.5%,#5b5b5b 5.2%,#5e5e5e 5.8%,#c6c6c6 6.4%,#c2c2c2 7%,#4e4e4e 8.8%,#313131 9.4%,#2e2e2e 10%,#5a5a5a 11.2%,#5e5e5e 11.8%,#595959 14.8%,#4d4d4d 16.1%,#181818 18.5%,#121212 19.7%,#161616 24.5%,#1f1f1f 25.2%,#3e3e3e 25.8%,#4d4d4d 26.4%,#484848 27%,#4c4c4c 27.6%,#696969 28.8%,#606060 30%,#616161 31.2%,#4c4c4c 34.2%,#4d4d4d 35.5%,#535353 36.1%,#484848 37.3%,#5a5a5a 38.5%,#434343 40.3%,#484848 41.5%,#555555 42.7%,#5e5e5e 45.2%,#4a4a4a 47%,#222222 48.2%,#0d0d0d 50%,#0b0b0b 50.6%,#101010 53.6%,#0e0e0e 57.3%,#131313 58.5%,#0e0e0e 60.3%,#151515 65.2%,#111111 67%,#151515 68.2%,#121212 69.4%,#141414 73.6%,#1b1b1b 77.9%,#111111 82.1%,#1c1c1c 85.8%,#171717 87%,#1b1b1b 91.8%,#2c2c2c 93.6%,#252525 94.8%,#2d2d2d 96.1%,#272727 97.3%,#2c2c2c 98.5%,#272727 100%)"></i>
<i style="background:linear-gradient(90deg,#d8d8d8 0%,#d2d2d2 2.1%,#e6e6e6 2.7%,#e5e5e5 3.3%,#eeeeee 3.9%,#c2c2c2 4.5%,#5d5d5d 5.2%,#636363 5.8%,#d7d7d7 6.4%,#dadada 7%,#434343 9.4%,#323232 10%,#585858 11.2%,#5c5c5c 11.8%,#575757 14.8%,#4a4a4a 16.1%,#313131 17.3%,#0e0e0e 18.5%,#060606 19.7%,#0a0a0a 24.5%,#141414 25.2%,#333333 25.8%,#464646 26.4%,#434343 27%,#474747 27.6%,#636363 28.8%,#5a5a5a 30%,#5c5c5c 31.2%,#4a4a4a 34.2%,#4b4b4b 35.5%,#515151 36.1%,#464646 37.3%,#585858 38.5%,#424242 40.3%,#474747 41.5%,#545454 42.7%,#575757 43.9%,#5f5f5f 44.5%,#5e5e5e 45.2%,#4e4e4e 47%,#2b2b2b 48.2%,#2c2c2c 49.4%,#202020 51.2%,#2d2d2d 53.6%,#232323 57.3%,#303030 58.5%,#222222 60.3%,#262626 61.5%,#232323 62.7%,#303030 65.2%,#232323 67%,#252525 68.2%,#1a1a1a 69.4%,#232323 77.9%,#151515 82.1%,#212121 85.8%,#1b1b1b 87%,#1e1e1e 91.8%,#303030 93.6%,#282828 94.8%,#303030 96.1%,#292929 97.3%,#2e2e2e 98.5%,#272727 100%)"></i>
<i style="background:linear-gradient(90deg,#d9d9d9 0%,#d3d3d3 2.1%,#e7e7e7 2.7%,#e6e6e6 3.3%,#eeeeee 3.9%,#c4c4c4 4.5%,#616161 5.2%,#686868 5.8%,#dedede 6.4%,#efefef 7%,#cfcfcf 7.6%,#5b5b5b 9.4%,#3e3e3e 10%,#3e3e3e 10.6%,#4c4c4c 11.2%,#4e4e4e 11.8%,#484848 15.5%,#282828 17.3%,#0a0a0a 18.5%,#050505 19.1%,#080808 24.5%,#131313 25.2%,#343434 25.8%,#4a4a4a 26.4%,#474747 27%,#4c4c4c 27.6%,#6c6c6c 28.8%,#646464 30%,#696969 30.6%,#676767 31.2%,#545454 34.2%,#575757 35.5%,#5e5e5e 36.1%,#535353 37.3%,#696969 38.5%,#545454 39.7%,#505050 40.3%,#565656 41.5%,#676767 42.7%,#6c6c6c 43.9%,#767676 44.5%,#686868 47%,#494949 48.2%,#666666 49.4%,#575757 50.6%,#565656 51.8%,#6f6f6f 53%,#757575 53.6%,#5a5a5a 56.7%,#595959 57.3%,#787878 58.5%,#717171 59.1%,#5e5e5e 59.7%,#535353 60.3%,#5d5d5d 61.5%,#555555 62.7%,#717171 65.2%,#6d6d6d 65.8%,#505050 67%,#484848 68.2%,#2a2a2a 69.4%,#292929 71.2%,#313131 72.4%,#2a2a2a 73.6%,#333333 77.9%,#1e1e1e 82.1%,#202020 83.9%,#2b2b2b 85.8%,#232323 87%,#272727 88.8%,#242424 91.8%,#393939 93.6%,#2f2f2f 94.8%,#383838 96.1%,#2f2f2f 97.3%,#343434 98.5%,#2a2a2a 100%)"></i>
<i style="background:linear-gradient(90deg,#dadada 0%,#d3d3d3 2.1%,#e7e7e7 2.7%,#e6e6e6 3.3%,#efefef 3.9%,#c8c8c8 4.5%,#6c6c6c 5.2%,#727272 5.8%,#e2e2e2 6.4%,#fafafa 7%,#e7e7e7 7.6%,#515151 10%,#3a3a3a 10.6%,#333333 15.5%,#0f0f0f 17.9%,#040404 19.1%,#080808 24.5%,#131313 25.2%,#323232 25.8%,#484848 26.4%,#454545 27%,#4a4a4a 27.6%,#696969 28.8%,#626262 30%,#676767 30.6%,#666666 31.2%,#545454 34.2%,#575757 35.5%,#5f5f5f 36.1%,#535353 37.3%,#6a6a6a 38.5%,#555555 39.7%,#515151 40.3%,#575757 41.5%,#696969 42.7%,#6e6e6e 43.9%,#797979 44.5%,#787878 45.2%,#707070 45.8%,#6c6c6c 47%,#4e4e4e 48.2%,#727272 49.4%,#626262 50.6%,#626262 51.8%,#7e7e7e 53%,#858585 53.6%,#666666 56.7%,#656565 57.3%,#898989 58.5%,#828282 59.1%,#6c6c6c 59.7%,#606060 60.3%,#626262 60.9%,#6c6c6c 61.5%,#636363 62.7%,#686868 63.3%,#868686 65.2%,#818181 65.8%,#6d6d6d 66.4%,#606060 67%,#606060 67.6%,#595959 68.2%,#353535 69.4%,#353535 71.2%,#3e3e3e 72.4%,#353535 73.6%,#414141 77.9%,#353535 79.1%,#313131 80.9%,#262626 81.5%,#242424 82.1%,#282828 82.7%,#252525 83.9%,#313131 85.2%,#323232 85.8%,#282828 87%,#2d2d2d 88.8%,#292929 91.8%,#414141 93.6%,#353535 94.8%,#3f3f3f 96.1%,#353535 97.3%,#3a3a3a 98.5%,#2d2d2d 100%)"></i>
<i style="background:linear-gradient(90deg,#dadada 0%,#d3d3d3 2.1%,#e8e8e8 2.7%,#e6e6e6 3.3%,#f0f0f0 3.9%,#cecece 4.5%,#7e7e7e 5.2%,#838383 5.8%,#e6e6e6 6.4%,#fefefe 7%,#f7f7f7 7.6%,#dedede 8.2%,#474747 10.6%,#313131 11.2%,#2b2b2b 11.8%,#272727 15.5%,#050505 18.5%,#080808 24.5%,#101010 25.2%,#212121 25.8%,#2a2a2a 26.4%,#2c2c2c 27.6%,#424242 28.8%,#434343 31.2%,#3b3b3b 34.2%,#424242 36.1%,#3b3b3b 37.3%,#4b4b4b 38.5%,#3a3a3a 40.3%,#515151 43.9%,#595959 44.5%,#595959 45.2%,#515151 47%,#3b3b3b 48.2%,#585858 49.4%,#4d4d4d 50.6%,#4e4e4e 51.8%,#676767 53%,#6e6e6e 53.6%,#595959 56.7%,#595959 57.3%,#7b7b7b 58.5%,#767676 59.1%,#646464 59.7%,#5b5b5b 60.3%,#5e5e5e 60.9%,#696969 61.5%,#646464 62.7%,#6b6b6b 63.3%,#909090 65.2%,#8d8d8d 65.8%,#7a7a7a 66.4%,#717171 67%,#7b7b7b 67.6%,#7e7e7e 68.2%,#5e5e5e 69.4%,#5f5f5f 71.2%,#707070 72.4%,#606060 73.6%,#727272 76.1%,#757575 77.9%,#606060 79.1%,#595959 80.9%,#434343 81.5%,#3a3a3a 82.1%,#3b3b3b 82.7%,#343434 83.3%,#343434 83.9%,#454545 85.2%,#464646 85.8%,#383838 87%,#3f3f3f 88.8%,#3a3a3a 91.8%,#5c5c5c 93.6%,#4b4b4b 94.8%,#5a5a5a 96.1%,#4c4c4c 97.3%,#535353 98.5%,#3a3a3a 99.7%,#3a3a3a 100%)"></i>
<i style="background:linear-gradient(90deg,#dbdbdb 0%,#d4d4d4 2.1%,#e8e8e8 2.7%,#e6e6e6 3.3%,#f1f1f1 3.9%,#d5d5d5 4.5%,#939393 5.2%,#989898 5.8%,#eaeaea 6.4%,#ffffff 7%,#fefefe 7.6%,#f2f2f2 8.2%,#d3d3d3 8.8%,#5f5f5f 10.6%,#3e3e3e 11.2%,#2c2c2c 11.8%,#252525 15.5%,#050505 18.5%,#050505 23.9%,#121212 25.8%,#151515 27.6%,#222222 28.8%,#303030 36.1%,#2b2b2b 37.3%,#383838 38.5%,#2c2c2c 40.3%,#474747 44.5%,#424242 47%,#313131 48.2%,#4b4b4b 49.4%,#444444 50.6%,#484848 51.8%,#696969 53.6%,#5b5b5b 57.3%,#818181 58.5%,#7e7e7e 59.1%,#6d6d6d 59.7%,#646464 60.3%,#6a6a6a 60.9%,#787878 61.5%,#767676 62.7%,#7f7f7f 63.3%,#a5a5a5 64.5%,#b3b3b3 65.2%,#b1b1b1 65.8%,#9a9a9a 66.4%,#939393 67%,#a9a9a9 67.6%,#b5b5b5 68.2%,#929292 69.4%,#989898 70.6%,#949494 71.2%,#afafaf 72.4%,#979797 73.6%,#a2a2a2 74.2%,#b3b3b3 76.1%,#b8b8b8 77.9%,#979797 79.1%,#919191 79.7%,#949494 80.3%,#8b8b8b 80.9%,#676767 81.5%,#565656 82.1%,#545454 82.7%,#484848 83.3%,#474747 83.9%,#5e5e5e 85.2%,#606060 85.8%,#4d4d4d 87%,#4b4b4b 87.6%,#575757 88.8%,#505050 91.8%,#808080 93.6%,#787878 94.2%,#696969 94.8%,#7e7e7e 96.1%,#6b6b6b 97.3%,#747474 98.5%,#4a4a4a 99.7%,#4a4a4a 100%)"></i>
<i style="background:linear-gradient(90deg,#dcdcdc 0%,#d4d4d4 2.1%,#e8e8e8 2.7%,#e7e7e7 3.3%,#f2f2f2 3.9%,#dedede 4.5%,#b2b2b2 5.2%,#b5b5b5 5.8%,#eeeeee 6.4%,#fefefe 7%,#fcfcfc 8.2%,#ebebeb 8.8%,#cacaca 9.4%,#565656 11.2%,#373737 11.8%,#2a2a2a 12.4%,#252525 15.5%,#050505 18.5%,#050505 23.9%,#111111 25.8%,#131313 27.6%,#202020 28.8%,#262626 30.6%,#272727 34.2%,#2e2e2e 36.1%,#292929 37.3%,#363636 38.5%,#2b2b2b 40.3%,#454545 44.5%,#404040 47%,#303030 48.2%,#484848 49.4%,#424242 50.6%,#454545 51.8%,#656565 53.6%,#595959 57.3%,#7d7d7d 58.5%,#7a7a7a 59.1%,#6a6a6a 59.7%,#626262 60.3%,#686868 60.9%,#767676 61.5%,#747474 62.7%,#7d7d7d 63.3%,#a3a3a3 64.5%,#b0b0b0 65.2%,#afafaf 65.8%,#999999 66.4%,#929292 67%,#a9a9a9 67.6%,#b6b6b6 68.2%,#949494 69.4%,#9a9a9a 70.6%,#969696 71.2%,#b2b2b2 72.4%,#999999 73.6%,#a4a4a4 74.2%,#b5b5b5 76.1%,#bbbbbb 77.9%,#999999 79.1%,#939393 79.7%,#969696 80.3%,#8d8d8d 80.9%,#686868 81.5%,#575757 82.1%,#555555 82.7%,#494949 83.3%,#484848 83.9%,#5f5f5f 85.2%,#616161 85.8%,#4d4d4d 87%,#4c4c4c 87.6%,#585858 88.8%,#515151 91.8%,#828282 93.6%,#797979 94.2%,#6a6a6a 94.8%,#7f7f7f 96.1%,#6c6c6c 97.3%,#757575 98.5%,#4a4a4a 99.7%,#4a4a4a 100%)"></i>
<i style="background:linear-gradient(90deg,#dddddd 0%,#dddddd 0.9%,#d4d4d4 2.1%,#e8e8e8 2.7%,#e7e7e7 3.3%,#f2f2f2 3.9%,#d8d8d8 5.2%,#dadada 5.8%,#f3f3f3 6.4%,#fefefe 7%,#ffffff 8.2%,#f9f9f9 8.8%,#e5e5e5 9.4%,#4e4e4e 11.8%,#323232 12.4%,#292929 13%,#252525 15.5%,#060606 18.5%,#0a0a0a 24.5%,#121212 25.2%,#232323 25.8%,#2b2b2b 26.4%,#2c2c2c 27.6%,#404040 28.8%,#414141 31.2%,#383838 34.2%,#3f3f3f 36.1%,#383838 37.3%,#474747 38.5%,#373737 40.3%,#535353 45.2%,#4a4a4a 47%,#363636 48.2%,#4b4b4b 49.4%,#3c3c3c 50.6%,#393939 51.8%,#515151 53.6%,#444444 57.3%,#5e5e5e 58.5%,#5b5b5b 59.1%,#474747 60.3%,#555555 61.5%,#525252 62.7%,#585858 63.3%,#797979 65.2%,#777777 65.8%,#686868 66.4%,#636363 67%,#7c7c7c 68.2%,#646464 69.4%,#696969 70.6%,#666666 71.2%,#797979 72.4%,#686868 73.6%,#7c7c7c 76.1%,#7f7f7f 77.9%,#696969 79.1%,#616161 80.9%,#484848 81.5%,#3e3e3e 82.1%,#3f3f3f 82.7%,#373737 83.3%,#373737 83.9%,#484848 85.2%,#494949 85.8%,#3a3a3a 87%,#3a3a3a 87.6%,#434343 88.8%,#3d3d3d 91.8%,#616161 93.6%,#505050 94.8%,#5f5f5f 96.1%,#515151 97.3%,#585858 98.5%,#3c3c3c 99.7%,#3c3c3c 100%)"></i>
<i style="background:linear-gradient(90deg,#dedede 0%,#dedede 0.9%,#d5d5d5 2.1%,#e9e9e9 2.7%,#e7e7e7 3.3%,#f4f4f4 3.9%,#ebebeb 5.2%,#ececec 5.8%,#fefefe 7%,#fefefe 8.8%,#f7f7f7 9.4%,#dfdfdf 10%,#484848 12.4%,#303030 13%,#292929 13.6%,#262626 15.5%,#0f0f0f 18.5%,#0c0c0c 21.5%,#111111 23.9%,#181818 24.5%,#292929 25.2%,#565656 25.8%,#6c6c6c 26.4%,#656565 27%,#6a6a6a 27.6%,#848484 28.2%,#959595 28.8%,#878787 30%,#8d8d8d 30.6%,#898989 31.2%,#6d6d6d 34.2%,#6e6e6e 35.5%,#787878 36.1%,#686868 37.3%,#838383 38.5%,#686868 39.7%,#626262 40.3%,#696969 41.5%,#7d7d7d 42.7%,#828282 43.9%,#8d8d8d 44.5%,#8c8c8c 45.2%,#818181 45.8%,#7b7b7b 47%,#585858 48.2%,#656565 48.8%,#6a6a6a 49.4%,#424242 50.6%,#343434 51.2%,#2f2f2f 51.8%,#3e3e3e 53.6%,#2f2f2f 57.3%,#3f3f3f 58.5%,#2c2c2c 60.3%,#313131 61.5%,#2d2d2d 62.7%,#3e3e3e 65.2%,#353535 67%,#454545 68.2%,#383838 69.4%,#393939 71.2%,#444444 72.4%,#3b3b3b 73.6%,#474747 76.1%,#494949 77.9%,#3c3c3c 79.1%,#383838 80.9%,#2b2b2b 81.5%,#282828 82.1%,#2c2c2c 82.7%,#292929 83.9%,#363636 85.2%,#363636 85.8%,#2b2b2b 87%,#313131 88.8%,#2d2d2d 91.8%,#474747 93.6%,#3a3a3a 94.8%,#454545 96.1%,#3a3a3a 97.3%,#404040 98.5%,#363636 99.1%,#303030 100%)"></i>
<i style="background:linear-gradient(90deg,#dfdfdf 0%,#dfdfdf 0.9%,#d5d5d5 2.1%,#e9e9e9 2.7%,#e7e7e7 3.3%,#f5f5f5 3.9%,#f5f5f5 5.8%,#fefefe 7%,#fefefe 9.4%,#f5f5f5 10%,#d9d9d9 10.6%,#424242 13%,#2e2e2e 13.6%,#212121 16.7%,#191919 20.9%,#242424 23.9%,#343434 24.5%,#4c4c4c 25.2%,#797979 25.8%,#858585 26.4%,#787878 27%,#7e7e7e 27.6%,#9d9d9d 28.2%,#b0b0b0 28.8%,#9f9f9f 30%,#a5a5a5 30.6%,#a0a0a0 31.2%,#7e7e7e 34.2%,#808080 35.5%,#8b8b8b 36.1%,#787878 37.3%,#979797 38.5%,#787878 39.7%,#717171 40.3%,#797979 41.5%,#909090 42.7%,#959595 43.9%,#a2a2a2 44.5%,#a0a0a0 45.2%,#949494 45.8%,#8d8d8d 47%,#646464 48.2%,#727272 48.8%,#767676 49.4%,#464646 50.6%,#353535 51.2%,#2e2e2e 51.8%,#3b3b3b 53.6%,#2b2b2b 57.3%,#393939 58.5%,#272727 60.3%,#2a2a2a 61.5%,#262626 62.7%,#353535 66.4%,#414141 67%,#585858 67.6%,#616161 68.2%,#4f4f4f 69.4%,#505050 71.2%,#5f5f5f 72.4%,#515151 73.6%,#616161 76.1%,#636363 77.9%,#525252 79.1%,#4b4b4b 80.9%,#3a3a3a 81.5%,#353535 82.1%,#393939 82.7%,#343434 83.9%,#444444 85.2%,#454545 85.8%,#373737 87%,#3e3e3e 88.8%,#393939 91.8%,#5a5a5a 93.6%,#494949 94.8%,#575757 96.1%,#4a4a4a 97.3%,#505050 98.5%,#393939 99.7%,#393939 100%)"></i>
<i style="background:linear-gradient(90deg,#e0e0e0 0%,#dfdfdf 0.9%,#d6d6d6 2.1%,#e9e9e9 2.7%,#e8e8e8 3.3%,#f6f6f6 3.9%,#fafafa 4.5%,#fdfdfd 10%,#f1f1f1 10.6%,#d3d3d3 11.2%,#5f5f5f 13%,#3e3e3e 13.6%,#2d2d2d 14.2%,#262626 16.1%,#202020 21.5%,#2f2f2f 23.9%,#616161 25.2%,#888888 25.8%,#898989 26.4%,#797979 27%,#808080 27.6%,#9e9e9e 28.2%,#b2b2b2 28.8%,#a0a0a0 30%,#a7a7a7 30.6%,#a2a2a2 31.2%,#808080 34.2%,#818181 35.5%,#8c8c8c 36.1%,#7a7a7a 37.3%,#999999 38.5%,#797979 39.7%,#727272 40.3%,#7a7a7a 41.5%,#919191 42.7%,#969696 43.9%,#a3a3a3 44.5%,#a2a2a2 45.2%,#959595 45.8%,#8e8e8e 47%,#656565 48.2%,#737373 48.8%,#777777 49.4%,#464646 50.6%,#353535 51.2%,#2e2e2e 51.8%,#3b3b3b 53.6%,#2b2b2b 57.3%,#393939 58.5%,#262626 60.3%,#2a2a2a 61.5%,#262626 62.7%,#333333 65.8%,#3e3e3e 66.4%,#525252 67%,#737373 67.6%,#808080 68.2%,#686868 69.4%,#6c6c6c 70.6%,#696969 71.2%,#7c7c7c 72.4%,#6a6a6a 73.6%,#7d7d7d 76.1%,#818181 77.9%,#696969 79.1%,#616161 80.9%,#4a4a4a 81.5%,#424242 82.1%,#464646 82.7%,#3f3f3f 83.3%,#3f3f3f 83.9%,#535353 85.2%,#545454 85.8%,#434343 87%,#424242 87.6%,#4b4b4b 88.8%,#454545 91.8%,#6d6d6d 93.6%,#585858 94.8%,#696969 96.1%,#595959 97.3%,#606060 98.5%,#414141 99.7%,#414141 100%)"></i>
<i style="background:linear-gradient(90deg,#e0e0e0 0%,#e0e0e0 0.9%,#d6d6d6 2.1%,#eaeaea 2.7%,#e8e8e8 3.3%,#f6f6f6 3.9%,#fcfcfc 4.5%,#fdfdfd 10.6%,#f1f1f1 11.2%,#d4d4d4 11.8%,#656565 13.6%,#454545 14.2%,#333333 14.8%,#2a2a2a 16.1%,#222222 20.9%,#313131 23.9%,#5f5f5f 25.2%,#828282 25.8%,#818181 26.4%,#727272 27%,#787878 27.6%,#959595 28.2%,#a7a7a7 28.8%,#979797 30%,#9d9d9d 30.6%,#989898 31.2%,#787878 34.2%,#7a7a7a 35.5%,#848484 36.1%,#727272 37.3%,#909090 38.5%,#727272 39.7%,#6b6b6b 40.3%,#737373 41.5%,#898989 42.7%,#8d8d8d 43.9%,#999999 44.5%,#989898 45.2%,#8c8c8c 45.8%,#868686 47%,#5f5f5f 48.2%,#6d6d6d 48.8%,#717171 49.4%,#434343 50.6%,#343434 51.2%,#2d2d2d 51.8%,#3a3a3a 53.6%,#2a2a2a 57.3%,#383838 58.5%,#262626 60.3%,#2a2a2a 61.5%,#262626 62.7%,#333333 66.4%,#3d3d3d 67%,#515151 67.6%,#5a5a5a 68.2%,#494949 69.4%,#4a4a4a 71.2%,#585858 72.4%,#4b4b4b 73.6%,#595959 76.1%,#5c5c5c 77.9%,#4c4c4c 79.1%,#464646 80.9%,#363636 81.5%,#313131 82.1%,#363636 82.7%,#313131 83.9%,#414141 85.2%,#414141 85.8%,#343434 87%,#3b3b3b 88.8%,#363636 91.8%,#555555 93.6%,#454545 94.8%,#525252 96.1%,#454545 97.3%,#4c4c4c 98.5%,#3f3f3f 99.1%,#363636 100%)"></i>
<i style="background:linear-gradient(90deg,#e1e1e1 0%,#e1e1e1 0.9%,#d6d6d6 2.1%,#eaeaea 2.7%,#e8e8e8 3.3%,#f6f6f6 3.9%,#ffffff 5.2%,#fdfdfd 11.2%,#f5f5f5 11.8%,#e0e0e0 12.4%,#656565 14.8%,#4f4f4f 15.5%,#404040 16.7%,#2b2b2b 20.9%,#2a2a2a 21.5%,#373737 22.7%,#373737 23.9%,#494949 25.2%,#5e5e5e 25.8%,#5b5b5b 26.4%,#505050 27%,#545454 27.6%,#686868 28.2%,#757575 28.8%,#696969 30%,#6c6c6c 30.6%,#525252 34.2%,#535353 35.5%,#5a5a5a 36.1%,#4e4e4e 37.3%,#626262 38.5%,#4e4e4e 39.7%,#494949 40.3%,#4f4f4f 41.5%,#5e5e5e 42.7%,#616161 43.9%,#696969 44.5%,#5c5c5c 47%,#454545 48.2%,#616161 49.4%,#444444 50.6%,#383838 51.8%,#4a4a4a 53.6%,#373737 57.3%,#4a4a4a 58.5%,#333333 60.3%,#393939 61.5%,#333333 62.7%,#444444 65.2%,#383838 67%,#484848 68.2%,#3a3a3a 69.4%,#3b3b3b 71.2%,#464646 72.4%,#3c3c3c 73.6%,#484848 76.1%,#4a4a4a 77.9%,#3d3d3d 79.1%,#383838 80.9%,#2c2c2c 81.5%,#292929 82.1%,#2e2e2e 82.7%,#2b2b2b 83.9%,#383838 85.2%,#393939 85.8%,#2d2d2d 87%,#333333 88.8%,#2f2f2f 91.8%,#4a4a4a 93.6%,#3c3c3c 94.8%,#484848 96.1%,#3c3c3c 97.3%,#424242 98.5%,#373737 99.1%,#313131 100%)"></i>
<i style="background:linear-gradient(90deg,#e2e2e2 0%,#e2e2e2 0.9%,#d7d7d7 2.1%,#eaeaea 2.7%,#e8e8e8 3.3%,#f6f6f6 3.9%,#fcfcfc 4.5%,#fefefe 11.8%,#efefef 13%,#838383 16.1%,#7a7a7a 16.7%,#707070 19.1%,#585858 20.9%,#555555 21.5%,#6c6c6c 22.7%,#6d6d6d 23.3%,#4e4e4e 25.2%,#545454 25.8%,#444444 27%,#464646 27.6%,#5c5c5c 28.8%,#4e4e4e 30%,#4f4f4f 30.6%,#353535 33.6%,#323232 36.1%,#2a2a2a 37.3%,#353535 38.5%,#2a2a2a 39.7%,#292929 40.9%,#393939 44.5%,#2e2e2e 47.6%,#383838 48.2%,#838383 49.4%,#7f7f7f 50%,#727272 50.6%,#6f6f6f 51.8%,#7b7b7b 52.4%,#8f8f8f 53%,#979797 53.6%,#747474 56.7%,#737373 57.3%,#9b9b9b 58.5%,#939393 59.1%,#7a7a7a 59.7%,#6c6c6c 60.3%,#6e6e6e 60.9%,#797979 61.5%,#6f6f6f 62.7%,#747474 63.3%,#8e8e8e 64.5%,#959595 65.2%,#8f8f8f 65.8%,#7a7a7a 66.4%,#737373 67%,#8e8e8e 68.2%,#737373 69.4%,#787878 70.6%,#747474 71.2%,#898989 72.4%,#757575 73.6%,#7e7e7e 74.2%,#8b8b8b 76.1%,#8e8e8e 77.9%,#747474 79.1%,#6f6f6f 79.7%,#727272 80.3%,#6b6b6b 80.9%,#525252 81.5%,#4b4b4b 82.1%,#515151 82.7%,#4a4a4a 83.9%,#616161 85.2%,#636363 85.8%,#4e4e4e 87%,#4d4d4d 87.6%,#595959 88.8%,#515151 91.8%,#808080 93.6%,#686868 94.8%,#7c7c7c 96.1%,#696969 97.3%,#717171 98.5%,#484848 99.7%,#484848 100%)"></i>
<i style="background:linear-gradient(90deg,#e3e3e3 0%,#e3e3e3 0.9%,#d7d7d7 2.1%,#ebebeb 2.7%,#e9e9e9 3.3%,#f7f7f7 3.9%,#ffffff 5.2%,#fdfdfd 13%,#e6e6e6 14.8%,#bbbbbb 16.7%,#b2b2b2 19.1%,#919191 20.9%,#8e8e8e 21.5%,#9d9d9d 22.1%,#b5b5b5 22.7%,#b9b9b9 23.3%,#7d7d7d 25.2%,#858585 25.8%,#7c7c7c 26.4%,#6c6c6c 27%,#707070 27.6%,#888888 28.2%,#969696 28.8%,#838383 30%,#868686 30.6%,#7f7f7f 31.2%,#646464 33%,#4c4c4c 34.2%,#2a2a2a 37.3%,#323232 38.5%,#222222 40.3%,#303030 44.5%,#272727 47.6%,#373737 48.2%,#929292 49.4%,#909090 50%,#838383 50.6%,#828282 51.8%,#909090 52.4%,#a7a7a7 53%,#b1b1b1 53.6%,#9c9c9c 55.5%,#888888 56.7%,#878787 57.3%,#b6b6b6 58.5%,#adadad 59.1%,#909090 59.7%,#7f7f7f 60.3%,#828282 60.9%,#8e8e8e 61.5%,#8c8c8c 62.1%,#828282 62.7%,#888888 63.3%,#a7a7a7 64.5%,#afafaf 65.2%,#a8a8a8 65.8%,#8f8f8f 66.4%,#888888 67%,#9b9b9b 67.6%,#a8a8a8 68.2%,#878787 69.4%,#8d8d8d 70.6%,#888888 71.2%,#a1a1a1 72.4%,#8a8a8a 73.6%,#949494 74.2%,#a3a3a3 76.1%,#a7a7a7 77.9%,#888888 79.1%,#828282 79.7%,#858585 80.3%,#7d7d7d 80.9%,#606060 81.5%,#575757 82.1%,#5d5d5d 82.7%,#565656 83.3%,#555555 83.9%,#707070 85.2%,#717171 85.8%,#5a5a5a 87%,#595959 87.6%,#666666 88.8%,#5d5d5d 91.8%,#6c6c6c 92.4%,#858585 93%,#939393 93.6%,#898989 94.2%,#787878 94.8%,#8f8f8f 96.1%,#787878 97.3%,#818181 97.9%,#828282 98.5%,#515151 99.7%,#515151 100%)"></i>
<i style="background:linear-gradient(90deg,#e4e4e4 0%,#e4e4e4 0.9%,#d8d8d8 2.1%,#ebebeb 2.7%,#e9e9e9 3.3%,#f7f7f7 3.9%,#ffffff 5.2%,#fefefe 13.6%,#fbfbfb 14.8%,#e6e6e6 16.7%,#ebebeb 17.3%,#e8e8e8 19.1%,#c1c1c1 20.9%,#bfbfbf 21.5%,#d5d5d5 22.1%,#f7f7f7 22.7%,#ffffff 23.3%,#b1b1b1 25.2%,#bdbdbd 25.8%,#b2b2b2 26.4%,#9d9d9d 27%,#a4a4a4 27.6%,#cacaca 28.2%,#e1e1e1 28.8%,#c8c8c8 30%,#cfcfcf 30.6%,#c7c7c7 31.2%,#a4a4a4 33%,#838383 34.2%,#727272 35.5%,#727272 36.1%,#535353 37.3%,#565656 38.5%,#373737 39.7%,#2a2a2a 40.9%,#303030 44.5%,#262626 47.6%,#2d2d2d 48.2%,#666666 49.4%,#646464 50%,#5a5a5a 50.6%,#595959 51.8%,#737373 53%,#7a7a7a 53.6%,#5d5d5d 56.7%,#5d5d5d 57.3%,#7d7d7d 58.5%,#777777 59.1%,#636363 59.7%,#575757 60.3%,#626262 61.5%,#595959 62.7%,#787878 65.2%,#737373 65.8%,#626262 66.4%,#5d5d5d 67%,#737373 68.2%,#5d5d5d 69.4%,#5d5d5d 71.2%,#6e6e6e 72.4%,#5f5f5f 73.6%,#6f6f6f 76.1%,#727272 77.9%,#5d5d5d 79.1%,#565656 80.9%,#424242 81.5%,#3d3d3d 82.1%,#424242 82.7%,#3d3d3d 83.9%,#505050 85.2%,#515151 85.8%,#404040 87%,#3f3f3f 87.6%,#494949 88.8%,#434343 91.8%,#6a6a6a 93.6%,#565656 94.8%,#676767 96.1%,#575757 97.3%,#5f5f5f 98.5%,#404040 99.7%,#404040 100%)"></i>
<i style="background:linear-gradient(90deg,#e5e5e5 0%,#e5e5e5 0.9%,#d8d8d8 2.1%,#ebebeb 2.7%,#e9e9e9 3.3%,#f7f7f7 3.9%,#ffffff 5.2%,#ffffff 14.2%,#fafafa 15.5%,#eeeeee 16.7%,#f5f5f5 17.3%,#f2f2f2 19.1%,#cecece 20.9%,#cdcdcd 21.5%,#ffffff 22.7%,#ffffff 23.9%,#cacaca 25.2%,#dadada 25.8%,#d0d0d0 26.4%,#b9b9b9 27%,#c4c4c4 27.6%,#f4f4f4 28.2%,#ffffff 28.8%,#fafafa 30%,#fefefe 31.2%,#dadada 33%,#c4c4c4 33.6%,#b7b7b7 34.2%,#aaaaaa 35.5%,#b0b0b0 36.1%,#888888 37.3%,#969696 38.5%,#666666 39.7%,#585858 40.3%,#4f4f4f 41.5%,#4e4e4e 42.7%,#3f3f3f 43.9%,#2e2e2e 47%,#202020 48.2%,#303030 49.4%,#292929 51.8%,#373737 53.6%,#2a2a2a 57.3%,#393939 58.5%,#272727 60.3%,#2c2c2c 61.5%,#282828 62.7%,#363636 65.2%,#292929 67%,#333333 68.2%,#292929 69.4%,#2a2a2a 71.2%,#313131 72.4%,#2a2a2a 73.6%,#333333 77.9%,#1d1d1d 82.1%,#1f1f1f 83.9%,#2a2a2a 85.8%,#212121 87%,#262626 88.8%,#242424 91.8%,#393939 93.6%,#2f2f2f 94.8%,#393939 96.1%,#303030 97.3%,#353535 98.5%,#2b2b2b 100%)"></i>
<i style="background:linear-gradient(90deg,#e5e5e5 0%,#e5e5e5 0.9%,#d8d8d8 2.1%,#ebebeb 2.7%,#e9e9e9 3.3%,#f7f7f7 3.9%,#ffffff 5.2%,#fefefe 14.8%,#f0f0f0 16.7%,#f6f6f6 17.3%,#f3f3f3 19.1%,#cfcfcf 20.9%,#cecece 21.5%,#ffffff 22.7%,#ffffff 23.9%,#cecece 25.2%,#dfdfdf 25.8%,#d5d5d5 26.4%,#bebebe 27%,#c9c9c9 27.6%,#fbfbfb 28.2%,#ffffff 31.2%,#f4f4f4 32.4%,#d8d8d8 33.6%,#d0d0d0 34.2%,#cfcfcf 35.5%,#dfdfdf 36.1%,#b8b8b8 37.3%,#d5d5d5 38.5%,#9b9b9b 39.7%,#8a8a8a 40.3%,#848484 41.5%,#888888 42.7%,#787878 43.9%,#767676 44.5%,#2a2a2a 48.2%,#474747 49.4%,#3e3e3e 50.6%,#3e3e3e 51.8%,#535353 53.6%,#3f3f3f 57.3%,#555555 58.5%,#505050 59.1%,#3b3b3b 60.3%,#424242 61.5%,#3c3c3c 62.7%,#505050 65.2%,#3e3e3e 67%,#4c4c4c 68.2%,#3e3e3e 69.4%,#3e3e3e 71.2%,#494949 72.4%,#3f3f3f 73.6%,#4a4a4a 76.1%,#4c4c4c 77.9%,#3e3e3e 79.1%,#393939 80.9%,#2b2b2b 81.5%,#272727 82.1%,#262626 83.3%,#333333 85.8%,#292929 87%,#2f2f2f 88.8%,#2b2b2b 91.8%,#464646 93.6%,#393939 94.8%,#444444 96.1%,#3a3a3a 97.3%,#404040 98.5%,#363636 99.1%,#303030 100%)"></i>
<i style="background:linear-gradient(90deg,#e6e6e6 0%,#e6e6e6 0.9%,#d9d9d9 2.1%,#ececec 2.7%,#e9e9e9 3.3%,#f7f7f7 3.9%,#ffffff 5.2%,#fefefe 14.8%,#f0f0f0 16.7%,#f7f7f7 17.3%,#f3f3f3 19.1%,#cfcfcf 20.9%,#cecece 21.5%,#ffffff 22.7%,#ffffff 23.9%,#cecece 25.2%,#dfdfdf 25.8%,#d5d5d5 26.4%,#bebebe 27%,#c9c9c9 27.6%,#fbfbfb 28.2%,#ffffff 28.8%,#ffffff 31.2%,#fbfbfb 31.8%,#eaeaea 33%,#dadada 33.6%,#d4d4d4 34.2%,#d6d6d6 35.5%,#e8e8e8 36.1%,#c7c7c7 37.3%,#f5f5f5 38.5%,#dfdfdf 39.1%,#c0c0c0 39.7%,#b2b2b2 40.3%,#b3b3b3 41.5%,#c4c4c4 42.7%,#b8b8b8 43.9%,#bcbcbc 44.5%,#afafaf 45.2%,#969696 45.8%,#7a7a7a 47%,#626262 47.6%,#5b5b5b 48.2%,#909090 48.8%,#d0d0d0 49.4%,#cdcdcd 50%,#bababa 50.6%,#b4b4b4 51.2%,#b8b8b8 51.8%,#cbcbcb 52.4%,#ececec 53%,#f9f9f9 53.6%,#dbdbdb 55.5%,#bebebe 56.7%,#bcbcbc 57.3%,#fefefe 58.5%,#f0f0f0 59.1%,#c7c7c7 59.7%,#b0b0b0 60.3%,#b3b3b3 60.9%,#c4c4c4 61.5%,#c0c0c0 62.1%,#b3b3b3 62.7%,#bbbbbb 63.3%,#e4e4e4 64.5%,#efefef 65.2%,#e6e6e6 65.8%,#c4c4c4 66.4%,#b9b9b9 67%,#d4d4d4 67.6%,#e4e4e4 68.2%,#b8b8b8 69.4%,#c0c0c0 70.6%,#bababa 71.2%,#dbdbdb 72.4%,#bcbcbc 73.6%,#cacaca 74.2%,#d3d3d3 75.5%,#dddddd 76.1%,#e3e3e3 77.9%,#bababa 79.1%,#b2b2b2 79.7%,#b5b5b5 80.3%,#aaaaaa 80.9%,#7e7e7e 81.5%,#6b6b6b 82.1%,#6a6a6a 82.7%,#5c5c5c 83.3%,#5b5b5b 83.9%,#787878 85.2%,#797979 85.8%,#606060 87%,#5f5f5f 87.6%,#6d6d6d 88.8%,#646464 90.6%,#636363 91.8%,#747474 92.4%,#8f8f8f 93%,#9e9e9e 93.6%,#939393 94.2%,#808080 94.8%,#999999 96.1%,#818181 97.3%,#8b8b8b 97.9%,#8c8c8c 98.5%,#555555 99.7%,#555555 100%)"></i>
<i style="background:linear-gradient(90deg,#e7e7e7 0%,#e3e3e3 1.5%,#d9d9d9 2.1%,#ececec 2.7%,#eaeaea 3.3%,#f7f7f7 3.9%,#ffffff 5.2%,#fefefe 14.8%,#f1f1f1 16.7%,#f8f8f8 17.3%,#f4f4f4 19.1%,#cfcfcf 20.9%,#cecece 21.5%,#ffffff 22.7%,#ffffff 23.9%,#cecece 25.2%,#dfdfdf 25.8%,#d5d5d5 26.4%,#bebebe 27%,#c9c9c9 27.6%,#fbfbfb 28.2%,#ffffff 28.8%,#ffffff 31.2%,#fbfbfb 31.8%,#eaeaea 33%,#dadada 33.6%,#d4d4d4 34.2%,#d6d6d6 35.5%,#e8e8e8 36.1%,#c8c8c8 37.3%,#fbfbfb 38.5%,#e6e6e6 39.1%,#c7c7c7 39.7%,#bababa 40.3%,#c5c5c5 41.5%,#e6e6e6 42.7%,#e8e8e8 43.9%,#f6f6f6 44.5%,#ebebeb 45.2%,#cecece 45.8%,#b0b0b0 47%,#8e8e8e 47.6%,#757575 48.2%,#aaaaaa 48.8%,#f2f2f2 49.4%,#efefef 50%,#d8d8d8 50.6%,#d1d1d1 51.2%,#d6d6d6 51.8%,#ffffff 53%,#ffffff 55.5%,#dddddd 56.7%,#dbdbdb 57.3%,#ffffff 57.9%,#ffffff 59.1%,#cdcdcd 60.3%,#d1d1d1 60.9%,#e4e4e4 61.5%,#e0e0e0 62.1%,#d0d0d0 62.7%,#dadada 63.3%,#f2f2f2 63.9%,#ffffff 64.5%,#ffffff 65.8%,#e4e4e4 66.4%,#d7d7d7 67%,#f6f6f6 67.6%,#ffffff 68.2%,#f4f4f4 68.8%,#d7d7d7 69.4%,#dfdfdf 70.6%,#d8d8d8 71.2%,#ffffff 72.4%,#dbdbdb 73.6%,#ebebeb 74.2%,#ffffff 76.1%,#ffffff 77.9%,#f3f3f3 78.5%,#d8d8d8 79.1%,#cfcfcf 79.7%,#d3d3d3 80.3%,#c6c6c6 80.9%,#929292 81.5%,#7b7b7b 82.1%,#7a7a7a 82.7%,#6a6a6a 83.3%,#686868 83.9%,#898989 85.2%,#8b8b8b 85.8%,#6e6e6e 87%,#6c6c6c 87.6%,#7d7d7d 88.8%,#727272 90.6%,#717171 91.8%,#848484 92.4%,#a2a2a2 93%,#b4b4b4 93.6%,#a8a8a8 94.2%,#929292 94.8%,#9c9c9c 95.5%,#aeaeae 96.1%,#939393 97.3%,#9e9e9e 97.9%,#9e9e9e 98.5%,#5e5e5e 99.7%,#5e5e5e 100%)"></i>
<i style="background:linear-gradient(90deg,#e8e8e8 0%,#e4e4e4 1.5%,#dadada 2.1%,#ececec 2.7%,#eaeaea 3.3%,#f7f7f7 3.9%,#ffffff 5.2%,#fefefe 14.8%,#f1f1f1 16.7%,#f7f7f7 17.3%,#f3f3f3 19.1%,#cfcfcf 20.9%,#cecece 21.5%,#ffffff 22.7%,#ffffff 23.9%,#cecece 25.2%,#dfdfdf 25.8%,#d5d5d5 26.4%,#bebebe 27%,#c9c9c9 27.6%,#fbfbfb 28.2%,#ffffff 28.8%,#ffffff 31.2%,#fbfbfb 31.8%,#eaeaea 33%,#dadada 33.6%,#d4d4d4 34.2%,#d6d6d6 35.5%,#e8e8e8 36.1%,#c8c8c8 37.3%,#fbfbfb 38.5%,#e6e6e6 39.1%,#c7c7c7 39.7%,#bbbbbb 40.3%,#c7c7c7 41.5%,#ececec 42.7%,#f1f1f1 43.9%,#ffffff 44.5%,#fdfdfd 45.2%,#e5e5e5 45.8%,#d2d2d2 47%,#808080 48.2%,#a1a1a1 48.8%,#d8d8d8 49.4%,#d3d3d3 50%,#bebebe 50.6%,#b8b8b8 51.2%,#bdbdbd 51.8%,#d1d1d1 52.4%,#f2f2f2 53%,#ffffff 53.6%,#e1e1e1 55.5%,#c3c3c3 56.7%,#c1c1c1 57.3%,#ffffff 58.5%,#f6f6f6 59.1%,#cdcdcd 59.7%,#b5b5b5 60.3%,#b8b8b8 60.9%,#c9c9c9 61.5%,#c5c5c5 62.1%,#b7b7b7 62.7%,#c0c0c0 63.3%,#eaeaea 64.5%,#f5f5f5 65.2%,#ececec 65.8%,#c9c9c9 66.4%,#bdbdbd 67%,#d9d9d9 67.6%,#eaeaea 68.2%,#bdbdbd 69.4%,#c5c5c5 70.6%,#bfbfbf 71.2%,#e1e1e1 72.4%,#c1c1c1 73.6%,#cfcfcf 74.2%,#d8d8d8 75.5%,#e3e3e3 76.1%,#e9e9e9 77.9%,#bebebe 79.1%,#b6b6b6 79.7%,#bababa 80.3%,#aeaeae 80.9%,#828282 81.5%,#707070 82.1%,#717171 82.7%,#646464 83.3%,#636363 83.9%,#828282 85.2%,#848484 85.8%,#696969 87%,#676767 87.6%,#777777 88.8%,#6c6c6c 90.6%,#6c6c6c 91.8%,#7e7e7e 92.4%,#9b9b9b 93%,#ababab 93.6%,#a0a0a0 94.2%,#8c8c8c 94.8%,#959595 95.5%,#a6a6a6 96.1%,#8d8d8d 97.3%,#979797 97.9%,#989898 98.5%,#5b5b5b 99.7%,#5b5b5b 100%)"></i>
<i style="background:linear-gradient(90deg,#e9e9e9 0%,#e5e5e5 1.5%,#dadada 2.1%,#ededed 2.7%,#eaeaea 3.3%,#f8f8f8 3.9%,#fdfdfd 4.5%,#fefefe 14.8%,#f1f1f1 16.7%,#f7f7f7 17.3%,#f3f3f3 19.1%,#cfcfcf 20.9%,#cecece 21.5%,#ffffff 22.7%,#ffffff 23.9%,#cecece 25.2%,#dfdfdf 25.8%,#d5d5d5 26.4%,#bebebe 27%,#c9c9c9 27.6%,#fbfbfb 28.2%,#ffffff 28.8%,#ffffff 31.2%,#fbfbfb 31.8%,#eaeaea 33%,#dadada 33.6%,#d4d4d4 34.2%,#d6d6d6 35.5%,#e8e8e8 36.1%,#c8c8c8 37.3%,#fbfbfb 38.5%,#e6e6e6 39.1%,#c7c7c7 39.7%,#bbbbbb 40.3%,#c7c7c7 41.5%,#ececec 42.7%,#f1f1f1 43.9%,#ffffff 44.5%,#ffffff 45.2%,#e8e8e8 45.8%,#d8d8d8 47%,#afafaf 47.6%,#757575 48.2%,#535353 50.6%,#505050 51.2%,#525252 51.8%,#696969 53%,#6f6f6f 53.6%,#555555 56.7%,#545454 57.3%,#717171 58.5%,#6b6b6b 59.1%,#595959 59.7%,#4e4e4e 60.3%,#575757 61.5%,#505050 62.7%,#6a6a6a 65.2%,#666666 65.8%,#575757 66.4%,#525252 67%,#656565 68.2%,#525252 69.4%,#535353 71.2%,#626262 72.4%,#545454 73.6%,#626262 76.1%,#656565 77.9%,#535353 79.1%,#4d4d4d 80.9%,#404040 81.5%,#444444 82.1%,#545454 82.7%,#545454 83.9%,#6f6f6f 85.2%,#717171 85.8%,#5a5a5a 87%,#595959 87.6%,#676767 88.8%,#5e5e5e 90.6%,#5e5e5e 91.8%,#6e6e6e 92.4%,#888888 93%,#969696 93.6%,#8d8d8d 94.2%,#7b7b7b 94.8%,#939393 96.1%,#7d7d7d 97.3%,#868686 97.9%,#878787 98.5%,#545454 99.7%,#545454 100%)"></i>
<i style="background:linear-gradient(90deg,#eaeaea 0%,#e5e5e5 1.5%,#dadada 2.1%,#ededed 2.7%,#eaeaea 3.3%,#f8f8f8 3.9%,#fdfdfd 4.5%,#fefefe 14.8%,#f0f0f0 16.7%,#f7f7f7 17.3%,#f3f3f3 19.1%,#cecece 20.9%,#cecece 21.5%,#ffffff 22.7%,#ffffff 23.9%,#cdcdcd 25.2%,#dedede 25.8%,#d4d4d4 26.4%,#bdbdbd 27%,#c8c8c8 27.6%,#fafafa 28.2%,#ffffff 28.8%,#ffffff 31.2%,#f3f3f3 32.4%,#dadada 33.6%,#d4d4d4 34.2%,#d6d6d6 35.5%,#e8e8e8 36.1%,#c8c8c8 37.3%,#fbfbfb 38.5%,#e6e6e6 39.1%,#c7c7c7 39.7%,#bbbbbb 40.3%,#c7c7c7 41.5%,#ececec 42.7%,#f1f1f1 43.9%,#ffffff 44.5%,#ffffff 45.2%,#e8e8e8 45.8%,#d8d8d8 47%,#aeaeae 47.6%,#707070 48.2%,#3d3d3d 49.4%,#333333 50%,#2d2d2d 51.2%,#3e3e3e 53.6%,#303030 57.3%,#404040 58.5%,#2d2d2d 60.3%,#323232 61.5%,#2e2e2e 62.7%,#3d3d3d 65.2%,#2f2f2f 67%,#3b3b3b 68.2%,#2f2f2f 69.4%,#303030 71.2%,#383838 72.4%,#303030 73.6%,#3a3a3a 77.9%,#2e2e2e 79.7%,#2e2e2e 81.5%,#414141 82.1%,#5e5e5e 82.7%,#676767 83.9%,#888888 85.2%,#8a8a8a 85.8%,#6f6f6f 87%,#6d6d6d 87.6%,#7e7e7e 88.8%,#747474 90.6%,#757575 91.8%,#898989 92.4%,#a8a8a8 93%,#bbbbbb 93.6%,#afafaf 94.2%,#999999 94.8%,#a4a4a4 95.5%,#b7b7b7 96.1%,#9c9c9c 97.3%,#a7a7a7 97.9%,#a9a9a9 98.5%,#646464 99.7%,#646464 100%)"></i>
<i style="background:linear-gradient(90deg,#eaeaea 0%,#e6e6e6 1.5%,#dbdbdb 2.1%,#ededed 2.7%,#ebebeb 3.3%,#f8f8f8 3.9%,#fdfdfd 4.5%,#ffffff 11.2%,#f8f8f8 13%,#fefefe 14.8%,#eaeaea 16.7%,#ededed 17.3%,#e3e3e3 19.1%,#c2c2c2 20.9%,#c2c2c2 21.5%,#dcdcdc 22.1%,#ffffff 22.7%,#ffffff 23.3%,#f9f9f9 23.9%,#c1c1c1 25.2%,#d0d0d0 25.8%,#c7c7c7 26.4%,#b1b1b1 27%,#bcbcbc 27.6%,#eaeaea 28.2%,#ffffff 28.8%,#f2f2f2 30%,#fefefe 30.6%,#f7f7f7 31.2%,#eaeaea 31.8%,#e5e5e5 33%,#d4d4d4 34.2%,#d6d6d6 35.5%,#e8e8e8 36.1%,#c8c8c8 37.3%,#fbfbfb 38.5%,#e6e6e6 39.1%,#c7c7c7 39.7%,#bbbbbb 40.3%,#c7c7c7 41.5%,#ececec 42.7%,#f1f1f1 43.9%,#ffffff 44.5%,#ffffff 45.2%,#e8e8e8 45.8%,#d8d8d8 47%,#afafaf 47.6%,#737373 48.2%,#555555 50%,#4b4b4b 51.2%,#4d4d4d 51.8%,#646464 53%,#6b6b6b 53.6%,#535353 57.3%,#727272 58.5%,#6c6c6c 59.1%,#5a5a5a 59.7%,#505050 60.3%,#5a5a5a 61.5%,#535353 62.7%,#727272 65.2%,#6e6e6e 65.8%,#5e5e5e 66.4%,#595959 67%,#6e6e6e 68.2%,#595959 69.4%,#595959 71.2%,#696969 72.4%,#5a5a5a 73.6%,#6a6a6a 76.1%,#6d6d6d 77.9%,#595959 79.1%,#535353 80.9%,#464646 81.5%,#4c4c4c 82.1%,#5f5f5f 82.7%,#606060 83.9%,#7f7f7f 85.2%,#818181 85.8%,#676767 87%,#656565 87.6%,#757575 88.8%,#6b6b6b 90.6%,#6c6c6c 91.8%,#7e7e7e 92.4%,#9b9b9b 93%,#acacac 93.6%,#a1a1a1 94.2%,#8c8c8c 94.8%,#969696 95.5%,#a8a8a8 96.1%,#8e8e8e 97.3%,#999999 97.9%,#9a9a9a 98.5%,#5e5e5e 99.7%,#5e5e5e 100%)"></i>
<i style="background:linear-gradient(90deg,#ebebeb 0%,#e7e7e7 1.5%,#dbdbdb 2.1%,#eeeeee 2.7%,#ebebeb 3.3%,#f8f8f8 3.9%,#fdfdfd 4.5%,#ffffff 11.2%,#fafafa 11.8%,#d0d0d0 13%,#d7d7d7 13.6%,#f0f0f0 14.2%,#f8f8f8 14.8%,#eeeeee 15.5%,#c2c2c2 16.7%,#9c9c9c 18.5%,#858585 20.9%,#868686 21.5%,#9a9a9a 22.1%,#b7b7b7 22.7%,#c0c0c0 23.3%,#b4b4b4 23.9%,#919191 25.2%,#9d9d9d 25.8%,#979797 26.4%,#868686 27%,#8f8f8f 27.6%,#b2b2b2 28.2%,#c9c9c9 28.8%,#b8b8b8 30%,#c1c1c1 30.6%,#b5b5b5 31.8%,#c0c0c0 32.4%,#d3d3d3 33%,#d6d6d6 35.5%,#e8e8e8 36.1%,#c8c8c8 37.3%,#fbfbfb 38.5%,#e6e6e6 39.1%,#c7c7c7 39.7%,#bababa 40.3%,#c7c7c7 41.5%,#ececec 42.7%,#f1f1f1 43.9%,#ffffff 44.5%,#ffffff 45.2%,#e8e8e8 45.8%,#d8d8d8 47%,#b0b0b0 47.6%,#7d7d7d 48.2%,#8b8b8b 48.8%,#acacac 49.4%,#a7a7a7 50%,#989898 50.6%,#949494 51.2%,#999999 51.8%,#ababab 52.4%,#c7c7c7 53%,#d4d4d4 53.6%,#bfbfbf 55.5%,#a9a9a9 56.7%,#a8a8a8 57.3%,#e7e7e7 58.5%,#dbdbdb 59.1%,#b8b8b8 59.7%,#a4a4a4 60.3%,#a8a8a8 60.9%,#b9b9b9 61.5%,#b7b7b7 62.1%,#ababab 62.7%,#b5b5b5 63.3%,#dfdfdf 64.5%,#ececec 65.2%,#e4e4e4 65.8%,#c3c3c3 66.4%,#b9b9b9 67%,#d4d4d4 67.6%,#e5e5e5 68.2%,#b9b9b9 69.4%,#c0c0c0 70.6%,#bababa 71.2%,#dcdcdc 72.4%,#bcbcbc 73.6%,#cacaca 74.2%,#d3d3d3 75.5%,#dedede 76.1%,#e3e3e3 77.9%,#bababa 79.1%,#b2b2b2 79.7%,#b6b6b6 80.3%,#ababab 80.9%,#868686 81.5%,#7f7f7f 82.1%,#8e8e8e 82.7%,#868686 83.3%,#868686 83.9%,#9f9f9f 84.5%,#b1b1b1 85.2%,#b3b3b3 85.8%,#8f8f8f 87%,#8d8d8d 87.6%,#a3a3a3 88.8%,#959595 90.6%,#959595 91.8%,#aeaeae 92.4%,#d6d6d6 93%,#ededed 93.6%,#dedede 94.2%,#c1c1c1 94.8%,#cfcfcf 95.5%,#e7e7e7 96.1%,#c4c4c4 97.3%,#d2d2d2 97.9%,#d3d3d3 98.5%,#797979 99.7%,#797979 100%)"></i>
<i style="background:linear-gradient(90deg,#ececec 0%,#e8e8e8 1.5%,#dbdbdb 2.1%,#eeeeee 2.7%,#ebebeb 3.3%,#f8f8f8 3.9%,#fdfdfd 4.5%,#fefefe 11.2%,#ececec 11.8%,#aeaeae 12.4%,#898989 13%,#a3a3a3 13.6%,#d9d9d9 14.2%,#dadada 14.8%,#7a7a7a 16.7%,#555555 17.9%,#464646 20.9%,#474747 21.5%,#616161 22.7%,#676767 23.3%,#616161 25.2%,#6e6e6e 25.8%,#6b6b6b 26.4%,#5f5f5f 27%,#656565 27.6%,#7e7e7e 28.2%,#8f8f8f 28.8%,#838383 30%,#8a8a8a 30.6%,#828282 31.8%,#939393 32.4%,#b1b1b1 33%,#bfbfbf 33.6%,#cdcdcd 34.8%,#cccccc 35.5%,#dbdbdb 36.1%,#bcbcbc 37.3%,#ececec 38.5%,#d8d8d8 39.1%,#bbbbbb 39.7%,#afafaf 40.3%,#bbbbbb 41.5%,#dddddd 42.7%,#e2e2e2 43.9%,#f3f3f3 44.5%,#efefef 45.2%,#d9d9d9 45.8%,#cacaca 47%,#a5a5a5 47.6%,#797979 48.2%,#8e8e8e 48.8%,#b4b4b4 49.4%,#b0b0b0 50%,#a0a0a0 50.6%,#9d9d9d 51.2%,#a2a2a2 51.8%,#b4b4b4 52.4%,#d3d3d3 53%,#e0e0e0 53.6%,#cacaca 55.5%,#b2b2b2 56.7%,#b2b2b2 57.3%,#f4f4f4 58.5%,#e8e8e8 59.1%,#c3c3c3 59.7%,#adadad 60.3%,#b2b2b2 60.9%,#c4c4c4 61.5%,#c2c2c2 62.1%,#b5b5b5 62.7%,#bfbfbf 63.3%,#ececec 64.5%,#fafafa 65.2%,#f2f2f2 65.8%,#cfcfcf 66.4%,#c4c4c4 67%,#e1e1e1 67.6%,#f2f2f2 68.2%,#c4c4c4 69.4%,#cccccc 70.6%,#c5c5c5 71.2%,#e9e9e9 72.4%,#c8c8c8 73.6%,#d7d7d7 74.2%,#e0e0e0 75.5%,#ebebeb 76.1%,#f1f1f1 77.9%,#c5c5c5 79.1%,#bdbdbd 79.7%,#c0c0c0 80.3%,#b5b5b5 80.9%,#8d8d8d 81.5%,#848484 82.1%,#939393 82.7%,#898989 83.3%,#898989 83.9%,#a3a3a3 84.5%,#b5b5b5 85.2%,#b7b7b7 85.8%,#929292 87%,#909090 87.6%,#a6a6a6 88.8%,#989898 90.6%,#989898 91.8%,#b2b2b2 92.4%,#dbdbdb 93%,#f2f2f2 93.6%,#e3e3e3 94.2%,#c6c6c6 94.8%,#d4d4d4 95.5%,#ececec 96.1%,#c8c8c8 97.3%,#d7d7d7 97.9%,#d8d8d8 98.5%,#7b7b7b 99.7%,#7b7b7b 100%)"></i>
<i style="background:linear-gradient(90deg,#ededed 0%,#e8e8e8 1.5%,#dcdcdc 2.1%,#eeeeee 2.7%,#ebebeb 3.3%,#f8f8f8 3.9%,#fcfcfc 4.5%,#ffffff 10.6%,#f9f9f9 11.2%,#cccccc 11.8%,#6f6f6f 12.4%,#535353 13%,#b3b3b3 14.2%,#a1a1a1 14.8%,#565656 16.1%,#3a3a3a 16.7%,#2d2d2d 17.9%,#272727 20.9%,#272727 21.5%,#343434 22.7%,#363636 23.9%,#4a4a4a 25.2%,#636363 25.8%,#626262 26.4%,#575757 27%,#5d5d5d 27.6%,#747474 28.2%,#838383 28.8%,#797979 30%,#7e7e7e 30.6%,#767676 31.8%,#9c9c9c 34.8%,#9a9a9a 35.5%,#a0a0a0 36.1%,#808080 37.3%,#a1a1a1 38.5%,#7f7f7f 39.7%,#767676 40.3%,#7e7e7e 41.5%,#949494 42.7%,#979797 43.9%,#a2a2a2 44.5%,#9f9f9f 45.2%,#919191 45.8%,#868686 47%,#5a5a5a 48.2%,#7b7b7b 49.4%,#6b6b6b 50.6%,#6c6c6c 51.8%,#797979 52.4%,#8d8d8d 53%,#969696 53.6%,#878787 55.5%,#777777 56.7%,#777777 57.3%,#a2a2a2 58.5%,#9b9b9b 59.1%,#818181 59.7%,#737373 60.3%,#767676 60.9%,#828282 61.5%,#787878 62.7%,#7f7f7f 63.3%,#9d9d9d 64.5%,#a5a5a5 65.2%,#a0a0a0 65.8%,#898989 66.4%,#828282 67%,#959595 67.6%,#a1a1a1 68.2%,#828282 69.4%,#878787 70.6%,#838383 71.2%,#9b9b9b 72.4%,#848484 73.6%,#8e8e8e 74.2%,#9c9c9c 76.1%,#a0a0a0 77.9%,#838383 79.1%,#7d7d7d 79.7%,#808080 80.3%,#797979 80.9%,#5f5f5f 81.5%,#5c5c5c 82.1%,#696969 82.7%,#646464 83.9%,#848484 85.2%,#868686 85.8%,#6c6c6c 87%,#6a6a6a 87.6%,#7b7b7b 88.8%,#717171 90.6%,#727272 91.8%,#858585 92.4%,#a4a4a4 93%,#b6b6b6 93.6%,#aaaaaa 94.2%,#959595 94.8%,#a0a0a0 95.5%,#b2b2b2 96.1%,#989898 97.3%,#a3a3a3 97.9%,#a4a4a4 98.5%,#626262 99.7%,#626262 100%)"></i>
<i style="background:linear-gradient(90deg,#eeeeee 0%,#e9e9e9 1.5%,#dcdcdc 2.1%,#efefef 2.7%,#ececec 3.3%,#f7f7f7 3.9%,#eeeeee 5.8%,#fefefe 7%,#ffffff 10.6%,#f0f0f0 11.2%,#a3a3a3 11.8%,#444444 12.4%,#3e3e3e 13%,#777777 13.6%,#878787 14.2%,#484848 15.5%,#313131 16.1%,#282828 16.7%,#222222 21.5%,#2d2d2d 22.7%,#303030 24.5%,#424242 25.2%,#626262 25.8%,#626262 26.4%,#575757 27%,#5d5d5d 27.6%,#747474 28.2%,#838383 28.8%,#787878 30%,#7e7e7e 30.6%,#7b7b7b 31.2%,#5b5b5b 33%,#555555 33.6%,#6b6b6b 36.1%,#4e4e4e 37.3%,#585858 38.5%,#434343 39.7%,#3e3e3e 40.3%,#414141 41.5%,#4b4b4b 42.7%,#4f4f4f 45.2%,#3a3a3a 47.6%,#3c3c3c 48.8%,#252525 49.4%,#1d1d1d 50%,#1a1a1a 51.2%,#252525 53.6%,#1e1e1e 57.3%,#292929 58.5%,#1d1d1d 60.3%,#1f1f1f 62.7%,#2a2a2a 65.2%,#212121 67%,#2a2a2a 68.2%,#222222 69.4%,#222222 71.2%,#292929 72.4%,#232323 73.6%,#2c2c2c 77.9%,#242424 79.1%,#212121 81.5%,#2b2b2b 82.1%,#3d3d3d 82.7%,#434343 83.9%,#5a5a5a 85.2%,#5d5d5d 85.8%,#4c4c4c 87%,#4c4c4c 87.6%,#5a5a5a 88.8%,#585858 91.8%,#909090 93.6%,#898989 94.2%,#797979 94.8%,#939393 96.1%,#7f7f7f 97.3%,#8a8a8a 97.9%,#8d8d8d 98.5%,#575757 99.7%,#575757 100%)"></i>
<i style="background:linear-gradient(90deg,#efefef 0%,#eaeaea 1.5%,#dddddd 2.1%,#efefef 2.7%,#ececec 3.3%,#f5f5f5 3.9%,#e9e9e9 4.5%,#d4d4d4 5.2%,#d4d4d4 5.8%,#fcfcfc 7%,#fdfdfd 10.6%,#e1e1e1 11.2%,#787878 11.8%,#303030 12.4%,#404040 13%,#686868 13.6%,#5f5f5f 14.2%,#444444 14.8%,#313131 15.5%,#262626 16.7%,#212121 21.5%,#2d2d2d 22.7%,#2f2f2f 24.5%,#414141 25.2%,#616161 25.8%,#626262 26.4%,#575757 27%,#5d5d5d 27.6%,#747474 28.2%,#838383 28.8%,#787878 30%,#7e7e7e 30.6%,#7b7b7b 31.2%,#727272 31.8%,#5e5e5e 32.4%,#414141 33%,#2f2f2f 33.6%,#2d2d2d 34.2%,#333333 34.8%,#525252 36.1%,#4f4f4f 36.7%,#454545 37.3%,#4a4a4a 38.5%,#363636 39.7%,#323232 40.3%,#414141 44.5%,#2f2f2f 47.6%,#313131 48.8%,#121212 49.4%,#090909 50%,#080808 50.6%,#0e0e0e 58.5%,#0a0a0a 60.3%,#0f0f0f 65.2%,#0f0f0f 80.9%,#131313 81.5%,#343434 82.7%,#3c3c3c 83.9%,#525252 85.2%,#555555 85.8%,#464646 87%,#464646 87.6%,#545454 88.8%,#535353 91.8%,#8a8a8a 93.6%,#838383 94.2%,#747474 94.8%,#8f8f8f 96.1%,#7c7c7c 97.3%,#878787 97.9%,#898989 98.5%,#565656 99.7%,#565656 100%)"></i>
<i style="background:linear-gradient(90deg,#efefef 0%,#ebebeb 1.5%,#dddddd 2.1%,#efefef 2.7%,#ececec 3.3%,#f3f3f3 3.9%,#dbdbdb 4.5%,#b7b7b7 5.2%,#b8b8b8 5.8%,#dddddd 6.4%,#fafafa 7%,#ffffff 7.6%,#fefefe 10%,#f2f2f2 10.6%,#b7b7b7 11.2%,#4a4a4a 11.8%,#252525 12.4%,#414141 13%,#535353 13.6%,#363636 14.8%,#262626 16.7%,#212121 21.5%,#2d2d2d 22.7%,#2e2e2e 24.5%,#414141 25.2%,#616161 25.8%,#626262 26.4%,#575757 27%,#5d5d5d 27.6%,#747474 28.2%,#838383 28.8%,#787878 30%,#7e7e7e 30.6%,#7b7b7b 31.2%,#717171 31.8%,#5d5d5d 32.4%,#3c3c3c 33%,#282828 33.6%,#242424 34.2%,#282828 34.8%,#4a4a4a 36.1%,#4d4d4d 36.7%,#444444 37.3%,#494949 38.5%,#363636 39.7%,#323232 40.3%,#414141 44.5%,#2c2c2c 48.8%,#111111 49.4%,#080808 50.6%,#0e0e0e 58.5%,#0a0a0a 60.3%,#0f0f0f 65.2%,#0f0f0f 80.9%,#131313 81.5%,#343434 82.7%,#3c3c3c 83.9%,#525252 85.2%,#555555 85.8%,#464646 87%,#464646 87.6%,#545454 88.8%,#535353 91.8%,#8a8a8a 93.6%,#838383 94.2%,#747474 94.8%,#8e8e8e 96.1%,#7c7c7c 97.3%,#878787 97.9%,#898989 98.5%,#565656 99.7%,#565656 100%)"></i>
<i style="background:linear-gradient(90deg,#f0f0f0 0%,#ebebeb 1.5%,#dddddd 2.1%,#efefef 2.7%,#ececec 3.3%,#f1f1f1 3.9%,#cecece 4.5%,#9c9c9c 5.2%,#9a9a9a 5.8%,#cecece 6.4%,#f7f7f7 7%,#ffffff 7.6%,#ffffff 8.8%,#f7f7f7 10%,#d6d6d6 10.6%,#2c2c2c 11.8%,#242424 12.4%,#3e3e3e 13%,#454545 13.6%,#272727 16.7%,#212121 21.5%,#2d2d2d 22.7%,#2e2e2e 24.5%,#414141 25.2%,#616161 25.8%,#626262 26.4%,#575757 27%,#5d5d5d 27.6%,#747474 28.2%,#838383 28.8%,#787878 30%,#7e7e7e 30.6%,#7b7b7b 31.2%,#727272 31.8%,#5f5f5f 32.4%,#444444 33%,#323232 33.6%,#2f2f2f 34.2%,#313131 34.8%,#4c4c4c 36.1%,#4d4d4d 36.7%,#454545 37.3%,#4d4d4d 38.5%,#3a3a3a 39.7%,#373737 40.3%,#4b4b4b 45.2%,#424242 47%,#303030 48.2%,#2f2f2f 48.8%,#222222 49.4%,#1c1c1c 50%,#191919 51.2%,#232323 53.6%,#1b1b1b 57.3%,#252525 58.5%,#1a1a1a 60.3%,#1b1b1b 62.7%,#252525 65.2%,#1d1d1d 67%,#242424 68.2%,#1d1d1d 69.4%,#262626 77.9%,#1f1f1f 79.1%,#1d1d1d 81.5%,#343434 82.7%,#393939 83.9%,#4e4e4e 85.2%,#505050 85.8%,#424242 87%,#424242 87.6%,#4f4f4f 88.8%,#4d4d4d 91.8%,#808080 93.6%,#797979 94.2%,#6b6b6b 94.8%,#838383 96.1%,#717171 97.3%,#7b7b7b 97.9%,#7e7e7e 98.5%,#505050 99.7%,#505050 100%)"></i>
<i style="background:linear-gradient(90deg,#f1f1f1 0%,#ececec 1.5%,#dedede 2.1%,#f0f0f0 2.7%,#efefef 3.9%,#c1c1c1 4.5%,#828282 5.2%,#7a7a7a 5.8%,#bebebe 6.4%,#f5f5f5 7%,#ffffff 7.6%,#fefefe 8.8%,#f6f6f6 9.4%,#dedede 10%,#aeaeae 10.6%,#555555 11.2%,#232323 11.8%,#2b2b2b 12.4%,#404040 13%,#494949 13.6%,#494949 14.2%,#282828 16.7%,#212121 21.5%,#2d2d2d 22.7%,#2e2e2e 24.5%,#414141 25.2%,#616161 25.8%,#626262 26.4%,#575757 27%,#5d5d5d 27.6%,#747474 28.2%,#838383 28.8%,#787878 30%,#7e7e7e 30.6%,#7b7b7b 31.2%,#6d6d6d 32.4%,#646464 34.2%,#666666 35.5%,#707070 36.1%,#606060 37.3%,#737373 38.5%,#5a5a5a 39.7%,#565656 40.3%,#5c5c5c 41.5%,#6d6d6d 42.7%,#717171 43.9%,#7a7a7a 44.5%,#797979 45.2%,#707070 45.8%,#6c6c6c 47%,#4f4f4f 48.2%,#646464 48.8%,#818181 49.4%,#7e7e7e 50%,#717171 50.6%,#707070 51.8%,#7c7c7c 52.4%,#909090 53%,#999999 53.6%,#757575 56.7%,#747474 57.3%,#9c9c9c 58.5%,#949494 59.1%,#7b7b7b 59.7%,#6d6d6d 60.3%,#6f6f6f 60.9%,#797979 61.5%,#6f6f6f 62.7%,#747474 63.3%,#8d8d8d 64.5%,#949494 65.2%,#8e8e8e 65.8%,#797979 66.4%,#737373 67%,#8e8e8e 68.2%,#737373 69.4%,#777777 70.6%,#747474 71.2%,#898989 72.4%,#757575 73.6%,#7e7e7e 74.2%,#8b8b8b 76.1%,#8e8e8e 77.9%,#747474 79.1%,#6f6f6f 79.7%,#727272 80.3%,#6b6b6b 80.9%,#4e4e4e 81.5%,#3f3f3f 82.1%,#323232 83.3%,#313131 83.9%,#414141 85.2%,#424242 85.8%,#353535 87%,#3c3c3c 88.8%,#373737 91.8%,#585858 93.6%,#484848 94.8%,#565656 96.1%,#494949 97.3%,#505050 98.5%,#393939 99.7%,#393939 100%)"></i>
<i style="background:linear-gradient(90deg,#f2f2f2 0%,#ededed 1.5%,#dedede 2.1%,#f0f0f0 2.7%,#ededed 3.9%,#b3b3b3 4.5%,#616161 5.2%,#565656 5.8%,#a8a8a8 6.4%,#f1f1f1 7%,#ffffff 7.6%,#f6f6f6 8.8%,#dedede 9.4%,#b8b8b8 10%,#828282 10.6%,#393939 11.2%,#222222 11.8%,#4a4a4a 13%,#545454 13.6%,#545454 14.2%,#4c4c4c 14.8%,#313131 16.1%,#292929 16.7%,#212121 21.5%,#2d2d2d 22.7%,#2e2e2e 24.5%,#414141 25.2%,#616161 25.8%,#626262 26.4%,#575757 27%,#5d5d5d 27.6%,#747474 28.2%,#838383 28.8%,#787878 30%,#7e7e7e 30.6%,#767676 31.8%,#7b7b7b 32.4%,#909090 33%,#9b9b9b 33.6%,#979797 35.5%,#a1a1a1 36.1%,#878787 37.3%,#a5a5a5 38.5%,#828282 39.7%,#7a7a7a 40.3%,#848484 41.5%,#9d9d9d 42.7%,#a3a3a3 43.9%,#b2b2b2 44.5%,#b1b1b1 45.2%,#a3a3a3 45.8%,#9c9c9c 47%,#6e6e6e 48.2%,#9c9c9c 48.8%,#e5e5e5 49.4%,#e3e3e3 50%,#cdcdcd 50.6%,#c7c7c7 51.2%,#cccccc 51.8%,#e1e1e1 52.4%,#ffffff 53%,#fcfcfc 54.8%,#f3f3f3 55.5%,#d3d3d3 56.7%,#d1d1d1 57.3%,#f3f3f3 57.9%,#ffffff 58.5%,#ffffff 59.1%,#dedede 59.7%,#c4c4c4 60.3%,#c7c7c7 60.9%,#dadada 61.5%,#d6d6d6 62.1%,#c7c7c7 62.7%,#d1d1d1 63.3%,#fefefe 64.5%,#ffffff 65.8%,#dadada 66.4%,#cecece 67%,#ececec 67.6%,#ffffff 68.2%,#cecece 69.4%,#d7d7d7 70.6%,#d0d0d0 71.2%,#f6f6f6 72.4%,#d2d2d2 73.6%,#e2e2e2 74.2%,#ececec 75.5%,#f8f8f8 76.1%,#ffffff 77.9%,#d0d0d0 79.1%,#c7c7c7 79.7%,#cccccc 80.3%,#bebebe 80.9%,#868686 81.5%,#626262 82.1%,#3b3b3b 83.3%,#373737 83.9%,#484848 85.2%,#484848 85.8%,#393939 87%,#3f3f3f 88.8%,#373737 91.8%,#565656 93.6%,#454545 94.8%,#515151 96.1%,#434343 97.3%,#484848 98.5%,#3b3b3b 99.1%,#343434 100%)"></i>
<i style="background:linear-gradient(90deg,#f3f3f3 0%,#ededed 1.5%,#dfdfdf 2.1%,#f0f0f0 2.7%,#ededed 3.9%,#acacac 4.5%,#414141 5.2%,#393939 5.8%,#ececec 7%,#fefefe 7.6%,#f6f6f6 8.2%,#dedede 8.8%,#bababa 9.4%,#909090 10%,#262626 11.2%,#242424 11.8%,#545454 13%,#5f5f5f 13.6%,#5f5f5f 14.2%,#555555 14.8%,#343434 16.1%,#2a2a2a 16.7%,#212121 21.5%,#2d2d2d 22.7%,#2e2e2e 24.5%,#414141 25.2%,#616161 25.8%,#626262 26.4%,#575757 27%,#5d5d5d 27.6%,#747474 28.2%,#838383 28.8%,#787878 30%,#7e7e7e 30.6%,#767676 31.8%,#7e7e7e 32.4%,#989898 33%,#a5a5a5 33.6%,#a1a1a1 35.5%,#acacac 36.1%,#909090 37.3%,#afafaf 38.5%,#8a8a8a 39.7%,#828282 40.3%,#8c8c8c 41.5%,#a7a7a7 42.7%,#aeaeae 43.9%,#bdbdbd 44.5%,#bcbcbc 45.2%,#aeaeae 45.8%,#a6a6a6 47%,#747474 48.2%,#a8a8a8 48.8%,#fafafa 49.4%,#f8f8f8 50%,#e0e0e0 50.6%,#d9d9d9 51.2%,#dedede 51.8%,#f6f6f6 52.4%,#ffffff 53%,#ffffff 55.5%,#f9f9f9 56.1%,#e6e6e6 56.7%,#e4e4e4 57.3%,#ffffff 57.9%,#ffffff 59.1%,#f2f2f2 59.7%,#d6d6d6 60.3%,#dadada 60.9%,#efefef 61.5%,#eaeaea 62.1%,#d9d9d9 62.7%,#e4e4e4 63.3%,#fdfdfd 63.9%,#ffffff 64.5%,#ffffff 65.8%,#e1e1e1 67%,#ffffff 67.6%,#ffffff 68.8%,#e1e1e1 69.4%,#eaeaea 70.6%,#e3e3e3 71.2%,#f5f5f5 71.8%,#ffffff 72.4%,#f7f7f7 73%,#e6e6e6 73.6%,#f7f7f7 74.2%,#ffffff 74.8%,#ffffff 78.5%,#e3e3e3 79.1%,#dadada 79.7%,#dedede 80.3%,#cfcfcf 80.9%,#929292 81.5%,#6b6b6b 82.1%,#414141 83.3%,#3d3d3d 83.9%,#505050 85.2%,#505050 85.8%,#3f3f3f 87%,#3d3d3d 87.6%,#464646 88.8%,#3d3d3d 91.8%,#5f5f5f 93.6%,#4c4c4c 94.8%,#595959 96.1%,#4a4a4a 97.3%,#505050 98.5%,#373737 99.7%,#373737 100%)"></i>
<i style="background:linear-gradient(90deg,#f4f4f4 0%,#eeeeee 1.5%,#dfdfdf 2.1%,#f1f1f1 2.7%,#efefef 3.9%,#adadad 4.5%,#313131 5.2%,#252525 5.8%,#7d7d7d 6.4%,#e7e7e7 7%,#f7f7f7 7.6%,#dfdfdf 8.2%,#bcbcbc 8.8%,#6b6b6b 10%,#383838 10.6%,#1d1d1d 11.2%,#292929 11.8%,#5d5d5d 13%,#686868 13.6%,#686868 14.2%,#5e5e5e 14.8%,#393939 16.1%,#2c2c2c 16.7%,#212121 21.5%,#2d2d2d 22.7%,#2e2e2e 24.5%,#404040 25.2%,#5f5f5f 25.8%,#5f5f5f 26.4%,#555555 27%,#5a5a5a 27.6%,#717171 28.2%,#7f7f7f 28.8%,#757575 30%,#7b7b7b 30.6%,#737373 31.8%,#7b7b7b 32.4%,#949494 33%,#a2a2a2 33.6%,#9e9e9e 35.5%,#a8a8a8 36.1%,#8d8d8d 37.3%,#ababab 38.5%,#878787 39.7%,#808080 40.3%,#898989 41.5%,#a4a4a4 42.7%,#aaaaaa 43.9%,#b9b9b9 44.5%,#b8b8b8 45.2%,#aaaaaa 45.8%,#a3a3a3 47%,#737373 48.2%,#a8a8a8 48.8%,#fafafa 49.4%,#f8f8f8 50%,#e0e0e0 50.6%,#d9d9d9 51.2%,#dedede 51.8%,#f6f6f6 52.4%,#ffffff 53%,#ffffff 55.5%,#f9f9f9 56.1%,#e7e7e7 56.7%,#e4e4e4 57.3%,#ffffff 57.9%,#ffffff 59.1%,#f2f2f2 59.7%,#d6d6d6 60.3%,#dadada 60.9%,#efefef 61.5%,#eaeaea 62.1%,#dadada 62.7%,#e4e4e4 63.3%,#fdfdfd 63.9%,#ffffff 64.5%,#ffffff 65.8%,#e1e1e1 67%,#ffffff 67.6%,#ffffff 68.8%,#e1e1e1 69.4%,#eaeaea 70.6%,#e3e3e3 71.2%,#f5f5f5 71.8%,#ffffff 72.4%,#f7f7f7 73%,#e6e6e6 73.6%,#f7f7f7 74.2%,#ffffff 74.8%,#ffffff 78.5%,#e4e4e4 79.1%,#dadada 79.7%,#dedede 80.3%,#cfcfcf 80.9%,#929292 81.5%,#707070 82.1%,#5e5e5e 83.3%,#5c5c5c 83.9%,#797979 85.2%,#7a7a7a 85.8%,#606060 87%,#5e5e5e 87.6%,#6c6c6c 88.8%,#616161 90.6%,#606060 91.8%,#707070 92.4%,#898989 93%,#979797 93.6%,#8d8d8d 94.2%,#7a7a7a 94.8%,#919191 96.1%,#797979 97.3%,#848484 98.5%,#535353 99.7%,#535353 100%)"></i>
<i style="background:linear-gradient(90deg,#f5f5f5 0%,#efefef 1.5%,#dfdfdf 2.1%,#f1f1f1 2.7%,#f1f1f1 3.9%,#b4b4b4 4.5%,#2b2b2b 5.2%,#191919 5.8%,#6e6e6e 6.4%,#dfdfdf 7%,#e6e6e6 7.6%,#c4c4c4 8.2%,#252525 10.6%,#1b1b1b 11.2%,#2f2f2f 11.8%,#4f4f4f 12.4%,#656565 13%,#6f6f6f 13.6%,#6f6f6f 14.2%,#656565 14.8%,#3c3c3c 16.1%,#2e2e2e 16.7%,#212121 20.9%,#2f2f2f 23.3%,#2b2b2b 24.5%,#363636 25.2%,#4c4c4c 25.8%,#4c4c4c 26.4%,#444444 27%,#484848 27.6%,#666666 28.8%,#5e5e5e 30%,#636363 30.6%,#5d5d5d 31.8%,#656565 32.4%,#797979 33%,#838383 33.6%,#7f7f7f 35.5%,#888888 36.1%,#737373 37.3%,#8c8c8c 38.5%,#6f6f6f 39.7%,#686868 40.3%,#707070 41.5%,#868686 42.7%,#8b8b8b 43.9%,#989898 44.5%,#979797 45.2%,#8c8c8c 45.8%,#868686 47%,#727272 47.6%,#666666 48.2%,#9d9d9d 48.8%,#eaeaea 49.4%,#e9e9e9 50%,#d3d3d3 50.6%,#cccccc 51.2%,#d1d1d1 51.8%,#ffffff 53%,#ffffff 54.8%,#fafafa 55.5%,#dadada 56.7%,#d7d7d7 57.3%,#fbfbfb 57.9%,#ffffff 59.1%,#cacaca 60.3%,#cecece 60.9%,#e2e2e2 61.5%,#dedede 62.1%,#cecece 62.7%,#d8d8d8 63.3%,#f0f0f0 63.9%,#ffffff 64.5%,#ffffff 65.8%,#e3e3e3 66.4%,#d6d6d6 67%,#f6f6f6 67.6%,#ffffff 68.2%,#f3f3f3 68.8%,#d6d6d6 69.4%,#dfdfdf 70.6%,#d8d8d8 71.2%,#ffffff 72.4%,#dbdbdb 73.6%,#ececec 74.2%,#ffffff 76.1%,#ffffff 77.9%,#f5f5f5 78.5%,#d9d9d9 79.1%,#d0d0d0 79.7%,#d4d4d4 80.3%,#c5c5c5 80.9%,#8c8c8c 81.5%,#797979 82.1%,#939393 82.7%,#9e9e9e 83.9%,#bcbcbc 84.5%,#d0d0d0 85.2%,#d2d2d2 85.8%,#c0c0c0 86.4%,#a7a7a7 87%,#a4a4a4 87.6%,#bdbdbd 88.8%,#acacac 90.6%,#ababab 91.8%,#c8c8c8 92.4%,#f5f5f5 93%,#ffffff 93.6%,#fdfdfd 94.2%,#dddddd 94.8%,#ffffff 96.1%,#f6f6f6 96.7%,#dedede 97.3%,#eeeeee 97.9%,#f3f3f3 98.5%,#c9c9c9 99.1%,#8e8e8e 99.7%,#8e8e8e 100%)"></i>
<i style="background:linear-gradient(90deg,#f5f5f5 0%,#f0f0f0 1.5%,#e0e0e0 2.1%,#f1f1f1 2.7%,#eeeeee 3.3%,#f4f4f4 3.9%,#bfbfbf 4.5%,#313131 5.2%,#161616 5.8%,#606060 6.4%,#d1d1d1 7%,#d3d3d3 7.6%,#b5b5b5 8.2%,#363636 10%,#1c1c1c 10.6%,#1c1c1c 11.2%,#353535 11.8%,#565656 12.4%,#6a6a6a 13%,#737373 13.6%,#737373 14.2%,#6a6a6a 14.8%,#2f2f2f 16.7%,#292929 17.3%,#212121 20.9%,#2f2f2f 23.3%,#212121 25.2%,#1f1f1f 27%,#222222 27.6%,#323232 28.8%,#323232 31.8%,#3e3e3e 36.1%,#353535 37.3%,#434343 38.5%,#333333 40.3%,#4c4c4c 44.5%,#454545 47%,#3c3c3c 47.6%,#404040 48.2%,#717171 48.8%,#aaaaaa 49.4%,#a9a9a9 50%,#9a9a9a 50.6%,#969696 51.2%,#9a9a9a 51.8%,#ababab 52.4%,#c8c8c8 53%,#d4d4d4 53.6%,#bdbdbd 55.5%,#a6a6a6 56.7%,#a5a5a5 57.3%,#e2e2e2 58.5%,#d6d6d6 59.1%,#b3b3b3 59.7%,#9f9f9f 60.3%,#a3a3a3 60.9%,#b3b3b3 61.5%,#b0b0b0 62.1%,#a5a5a5 62.7%,#adadad 63.3%,#d5d5d5 64.5%,#e1e1e1 65.2%,#d9d9d9 65.8%,#b9b9b9 66.4%,#b0b0b0 67%,#cacaca 67.6%,#dadada 68.2%,#b1b1b1 69.4%,#b9b9b9 70.6%,#b3b3b3 71.2%,#d5d5d5 72.4%,#b7b7b7 73.6%,#c5c5c5 74.2%,#cecece 75.5%,#d9d9d9 76.1%,#dfdfdf 77.9%,#b7b7b7 79.1%,#b0b0b0 79.7%,#b2b2b2 80.3%,#9d9d9d 80.9%,#6c6c6c 81.5%,#676767 82.1%,#969696 82.7%,#a7a7a7 83.3%,#adadad 83.9%,#cecece 84.5%,#e4e4e4 85.2%,#e7e7e7 85.8%,#d3d3d3 86.4%,#b8b8b8 87%,#b5b5b5 87.6%,#c6c6c6 88.2%,#d0d0d0 88.8%,#bcbcbc 91.2%,#bdbdbd 91.8%,#ffffff 93%,#ffffff 94.2%,#f4f4f4 94.8%,#ffffff 95.5%,#ffffff 96.7%,#f5f5f5 97.3%,#ffffff 97.9%,#ffffff 98.5%,#dedede 99.1%,#9a9a9a 99.7%,#9a9a9a 100%)"></i>
<i style="background:linear-gradient(90deg,#f6f6f6 0%,#f0f0f0 1.5%,#e0e0e0 2.1%,#f2f2f2 2.7%,#eeeeee 3.3%,#f6f6f6 3.9%,#cccccc 4.5%,#3d3d3d 5.2%,#151515 5.8%,#515151 6.4%,#bebebe 7%,#c9c9c9 7.6%,#b7b7b7 8.2%,#898989 8.8%,#4b4b4b 9.4%,#272727 10%,#171717 10.6%,#1d1d1d 11.2%,#5a5a5a 12.4%,#6e6e6e 13%,#767676 13.6%,#767676 14.2%,#6e6e6e 14.8%,#303030 16.7%,#2a2a2a 17.3%,#212121 21.5%,#2f2f2f 23.3%,#2b2b2b 23.9%,#0f0f0f 25.8%,#0e0e0e 27%,#1b1b1b 28.8%,#212121 31.2%,#252525 36.1%,#212121 37.3%,#2b2b2b 38.5%,#222222 40.3%,#363636 44.5%,#323232 47%,#2b2b2b 47.6%,#2f2f2f 48.2%,#595959 48.8%,#8d8d8d 49.4%,#8e8e8e 50%,#838383 50.6%,#818181 51.2%,#868686 51.8%,#979797 52.4%,#b1b1b1 53%,#bebebe 53.6%,#afafaf 55.5%,#9c9c9c 56.7%,#9d9d9d 57.3%,#dadada 58.5%,#d1d1d1 59.1%,#b0b0b0 59.7%,#9d9d9d 60.3%,#a2a2a2 60.9%,#b4b4b4 61.5%,#b3b3b3 62.1%,#a8a8a8 62.7%,#b2b2b2 63.3%,#dfdfdf 64.5%,#ececec 65.2%,#e6e6e6 65.8%,#c5c5c5 66.4%,#bcbcbc 67%,#d9d9d9 67.6%,#ebebeb 68.2%,#bfbfbf 69.4%,#c9c9c9 70.6%,#c3c3c3 71.2%,#e8e8e8 72.4%,#c9c9c9 73.6%,#d9d9d9 74.2%,#e4e4e4 75.5%,#f0f0f0 76.1%,#f9f9f9 77.9%,#cdcdcd 79.1%,#c2c2c2 80.3%,#939393 80.9%,#535353 81.5%,#4b4b4b 82.1%,#818181 82.7%,#979797 83.3%,#9d9d9d 83.9%,#bbbbbb 84.5%,#cfcfcf 85.2%,#d1d1d1 85.8%,#bfbfbf 86.4%,#a6a6a6 87%,#a4a4a4 87.6%,#bcbcbc 88.8%,#acacac 90.6%,#ababab 91.8%,#c8c8c8 92.4%,#f5f5f5 93%,#ffffff 93.6%,#fefefe 94.2%,#dddddd 94.8%,#ffffff 96.1%,#f6f6f6 96.7%,#dedede 97.3%,#eeeeee 97.9%,#f4f4f4 98.5%,#cacaca 99.1%,#8b8b8b 99.7%,#8b8b8b 100%)"></i>
<i style="background:linear-gradient(90deg,#f7f7f7 0%,#f1f1f1 1.5%,#e0e0e0 2.1%,#f2f2f2 2.7%,#eeeeee 3.3%,#f9f9f9 3.9%,#d7d7d7 4.5%,#494949 5.2%,#141414 5.8%,#424242 6.4%,#acacac 7%,#c3c3c3 7.6%,#b8b8b8 8.2%,#838383 8.8%,#3b3b3b 9.4%,#1f1f1f 10%,#131313 10.6%,#1e1e1e 11.2%,#5c5c5c 12.4%,#6f6f6f 13%,#767676 13.6%,#767676 14.2%,#6f6f6f 14.8%,#313131 16.7%,#2a2a2a 17.3%,#212121 21.5%,#2f2f2f 23.3%,#222222 24.5%,#0c0c0c 25.8%,#0c0c0c 27%,#181818 28.8%,#1e1e1e 31.2%,#232323 36.1%,#202020 37.3%,#292929 38.5%,#222222 39.7%,#222222 40.9%,#343434 44.5%,#303030 47%,#2a2a2a 47.6%,#2d2d2d 48.2%,#555555 48.8%,#898989 49.4%,#8b8b8b 50%,#808080 50.6%,#7f7f7f 51.2%,#848484 51.8%,#959595 52.4%,#b0b0b0 53%,#bdbdbd 53.6%,#afafaf 55.5%,#9d9d9d 56.7%,#9e9e9e 57.3%,#dcdcdc 58.5%,#d3d3d3 59.1%,#b2b2b2 59.7%,#9f9f9f 60.3%,#a5a5a5 60.9%,#b7b7b7 61.5%,#b6b6b6 62.1%,#acacac 62.7%,#b6b6b6 63.3%,#e4e4e4 64.5%,#f2f2f2 65.2%,#ececec 65.8%,#cbcbcb 66.4%,#c2c2c2 67%,#dfdfdf 67.6%,#f2f2f2 68.2%,#c5c5c5 69.4%,#cfcfcf 70.6%,#c9c9c9 71.2%,#f0f0f0 72.4%,#d0d0d0 73.6%,#e0e0e0 74.2%,#ececec 75.5%,#f9f9f9 76.1%,#ffffff 77.3%,#ffffff 77.9%,#efefef 78.5%,#d5d5d5 79.1%,#c8c8c8 80.3%,#939393 80.9%,#4c4c4c 81.5%,#323232 82.1%,#494949 82.7%,#545454 83.9%,#6f6f6f 85.2%,#707070 85.8%,#595959 87%,#585858 87.6%,#656565 88.8%,#5c5c5c 91.8%,#6b6b6b 92.4%,#838383 93%,#919191 93.6%,#888888 94.2%,#767676 94.8%,#8d8d8d 96.1%,#777777 97.3%,#828282 98.5%,#545454 99.7%,#545454 100%)"></i>
<i style="background:linear-gradient(90deg,#f8f8f8 0%,#f2f2f2 1.5%,#e1e1e1 2.1%,#f2f2f2 2.7%,#efefef 3.3%,#fafafa 3.9%,#dddddd 4.5%,#535353 5.2%,#131313 5.8%,#333333 6.4%,#9b9b9b 7%,#bababa 7.6%,#b1b1b1 8.2%,#7b7b7b 8.8%,#353535 9.4%,#1b1b1b 10%,#121212 10.6%,#1f1f1f 11.2%,#5d5d5d 12.4%,#6f6f6f 13%,#767676 13.6%,#767676 14.2%,#6f6f6f 14.8%,#313131 16.7%,#2a2a2a 17.3%,#212121 21.5%,#2f2f2f 23.3%,#191919 25.2%,#131313 27%,#232323 28.8%,#262626 30.6%,#242424 34.2%,#2a2a2a 36.1%,#252525 37.3%,#303030 38.5%,#262626 40.3%,#3b3b3b 44.5%,#303030 48.2%,#565656 48.8%,#858585 49.4%,#878787 50%,#7c7c7c 50.6%,#7b7b7b 51.2%,#808080 51.8%,#909090 52.4%,#aaaaaa 53%,#b7b7b7 53.6%,#a9a9a9 55.5%,#989898 56.7%,#999999 57.3%,#d5d5d5 58.5%,#cccccc 59.1%,#acacac 59.7%,#9a9a9a 60.3%,#9f9f9f 60.9%,#b1b1b1 61.5%,#b0b0b0 62.1%,#a6a6a6 62.7%,#b0b0b0 63.3%,#dddddd 64.5%,#ebebeb 65.2%,#e4e4e4 65.8%,#c5c5c5 66.4%,#bbbbbb 67%,#d8d8d8 67.6%,#eaeaea 68.2%,#bfbfbf 69.4%,#c9c9c9 70.6%,#c3c3c3 71.2%,#e9e9e9 72.4%,#c9c9c9 73.6%,#d9d9d9 74.2%,#e5e5e5 75.5%,#f1f1f1 76.1%,#fbfbfb 77.9%,#cfcfcf 79.1%,#c3c3c3 80.3%,#909090 80.9%,#494949 81.5%,#242424 82.1%,#252525 83.9%,#313131 85.8%,#272727 87%,#2c2c2c 88.8%,#282828 91.8%,#404040 93.6%,#343434 94.8%,#3e3e3e 96.1%,#343434 97.3%,#393939 98.5%,#2d2d2d 100%)"></i>
<i style="background:linear-gradient(90deg,#f9f9f9 0%,#f3f3f3 1.5%,#e1e1e1 2.1%,#f2f2f2 2.7%,#efefef 3.3%,#fafafa 3.9%,#e0e0e0 4.5%,#5d5d5d 5.2%,#131313 5.8%,#272727 6.4%,#8d8d8d 7%,#b1b1b1 7.6%,#aaaaaa 8.2%,#737373 8.8%,#323232 9.4%,#171717 10%,#111111 10.6%,#212121 11.2%,#5c5c5c 12.4%,#6e6e6e 13%,#767676 13.6%,#767676 14.2%,#6e6e6e 14.8%,#303030 16.7%,#2a2a2a 17.3%,#212121 20.9%,#2f2f2f 23.3%,#282828 24.5%,#2c2c2c 25.2%,#383838 25.8%,#323232 27%,#363636 27.6%,#4e4e4e 28.8%,#4a4a4a 30%,#4d4d4d 31.2%,#414141 34.2%,#4a4a4a 36.1%,#414141 37.3%,#535353 38.5%,#404040 40.3%,#464646 41.5%,#545454 42.7%,#595959 43.9%,#616161 44.5%,#575757 47%,#404040 48.2%,#666666 49.4%,#5c5c5c 50.6%,#5f5f5f 51.8%,#6b6b6b 52.4%,#7f7f7f 53%,#888888 53.6%,#7e7e7e 55.5%,#717171 56.7%,#727272 57.3%,#9f9f9f 58.5%,#989898 59.1%,#808080 59.7%,#737373 60.3%,#777777 60.9%,#848484 61.5%,#7c7c7c 62.7%,#848484 63.3%,#a5a5a5 64.5%,#afafaf 65.2%,#aaaaaa 65.8%,#939393 66.4%,#8c8c8c 67%,#a2a2a2 67.6%,#afafaf 68.2%,#8f8f8f 69.4%,#979797 70.6%,#939393 71.2%,#b0b0b0 72.4%,#989898 73.6%,#a4a4a4 74.2%,#b7b7b7 76.1%,#bfbfbf 77.9%,#9e9e9e 79.1%,#969696 80.3%,#757575 80.9%,#3f3f3f 81.5%,#202020 82.1%,#1d1d1d 83.9%,#272727 85.8%,#1f1f1f 87%,#232323 88.8%,#202020 91.8%,#323232 93.6%,#292929 94.8%,#313131 96.1%,#292929 97.3%,#2d2d2d 98.5%,#272727 100%)"></i>
<i style="background:linear-gradient(90deg,#fafafa 0%,#f9f9f9 0.9%,#f3f3f3 1.5%,#e2e2e2 2.1%,#f3f3f3 2.7%,#efefef 3.3%,#fafafa 3.9%,#e2e2e2 4.5%,#676767 5.2%,#141414 5.8%,#1e1e1e 6.4%,#828282 7%,#ababab 7.6%,#a5a5a5 8.2%,#6d6d6d 8.8%,#2d2d2d 9.4%,#131313 10%,#111111 10.6%,#232323 11.2%,#595959 12.4%,#6b6b6b 13%,#737373 13.6%,#737373 14.2%,#6a6a6a 14.8%,#2f2f2f 16.7%,#292929 17.3%,#212121 21.5%,#2d2d2d 22.7%,#2c2c2c 24.5%,#383838 25.2%,#515151 25.8%,#515151 26.4%,#494949 27%,#4e4e4e 27.6%,#707070 28.8%,#696969 30%,#6f6f6f 30.6%,#6d6d6d 31.2%,#5c5c5c 34.2%,#5f5f5f 35.5%,#686868 36.1%,#5c5c5c 37.3%,#757575 38.5%,#5f5f5f 39.7%,#5a5a5a 40.3%,#626262 41.5%,#777777 42.7%,#7d7d7d 43.9%,#898989 44.5%,#898989 45.2%,#7f7f7f 45.8%,#7b7b7b 47%,#676767 47.6%,#474747 48.2%,#212121 49.4%,#191919 50.6%,#1a1a1a 51.8%,#252525 53.6%,#1f1f1f 57.3%,#2c2c2c 58.5%,#202020 60.3%,#252525 61.5%,#232323 62.7%,#313131 65.2%,#282828 67%,#333333 68.2%,#2a2a2a 69.4%,#2c2c2c 71.2%,#363636 72.4%,#303030 73.6%,#3f3f3f 77.9%,#353535 79.1%,#343434 80.9%,#1c1c1c 82.1%,#1d1d1d 83.9%,#272727 85.8%,#1f1f1f 87%,#232323 88.8%,#202020 91.8%,#323232 93.6%,#292929 94.8%,#313131 96.1%,#292929 97.3%,#2d2d2d 98.5%,#272727 100%)"></i>
<i style="background:linear-gradient(90deg,#fafafa 0%,#fafafa 0.9%,#f4f4f4 1.5%,#e2e2e2 2.1%,#f3f3f3 2.7%,#efefef 3.3%,#fafafa 3.9%,#e5e5e5 4.5%,#717171 5.2%,#151515 5.8%,#1a1a1a 6.4%,#7a7a7a 7%,#a8a8a8 7.6%,#a3a3a3 8.2%,#6a6a6a 8.8%,#292929 9.4%,#0f0f0f 10%,#101010 10.6%,#545454 12.4%,#656565 13%,#6f6f6f 13.6%,#6f6f6f 14.2%,#656565 14.8%,#3c3c3c 16.1%,#2e2e2e 16.7%,#212121 21.5%,#2d2d2d 22.7%,#2d2d2d 24.5%,#3a3a3a 25.2%,#555555 25.8%,#565656 26.4%,#4d4d4d 27%,#525252 27.6%,#686868 28.2%,#767676 28.8%,#6e6e6e 30%,#757575 30.6%,#737373 31.2%,#616161 34.2%,#646464 35.5%,#6e6e6e 36.1%,#616161 37.3%,#7c7c7c 38.5%,#646464 39.7%,#5f5f5f 40.3%,#686868 41.5%,#7e7e7e 42.7%,#848484 43.9%,#919191 44.5%,#919191 45.2%,#878787 45.8%,#838383 47%,#6d6d6d 47.6%,#494949 48.2%,#1c1c1c 49.4%,#151515 50.6%,#202020 53.6%,#1b1b1b 57.3%,#262626 58.5%,#1c1c1c 60.3%,#1e1e1e 62.7%,#2b2b2b 65.2%,#232323 67%,#2d2d2d 68.2%,#252525 69.4%,#272727 71.2%,#303030 72.4%,#2a2a2a 73.6%,#383838 77.9%,#2f2f2f 79.1%,#303030 80.9%,#272727 81.5%,#252525 82.1%,#2a2a2a 82.7%,#272727 83.9%,#333333 85.2%,#343434 85.8%,#292929 87%,#2f2f2f 88.8%,#2a2a2a 91.8%,#434343 93.6%,#373737 94.8%,#414141 96.1%,#373737 97.3%,#3c3c3c 98.5%,#333333 99.1%,#2e2e2e 100%)"></i>
<i style="background:linear-gradient(90deg,#fbfbfb 0%,#fbfbfb 0.9%,#f5f5f5 1.5%,#e2e2e2 2.1%,#f3f3f3 2.7%,#f0f0f0 3.3%,#fafafa 3.9%,#e8e8e8 4.5%,#7b7b7b 5.2%,#171717 5.8%,#181818 6.4%,#737373 7%,#a5a5a5 7.6%,#a2a2a2 8.2%,#686868 8.8%,#252525 9.4%,#0e0e0e 10%,#111111 10.6%,#4d4d4d 12.4%,#5e5e5e 13%,#686868 13.6%,#686868 14.2%,#5e5e5e 14.8%,#393939 16.1%,#2c2c2c 16.7%,#212121 21.5%,#2d2d2d 22.7%,#2c2c2c 24.5%,#383838 25.2%,#515151 25.8%,#515151 26.4%,#494949 27%,#4e4e4e 27.6%,#717171 28.8%,#696969 30%,#6f6f6f 30.6%,#6d6d6d 31.2%,#5c5c5c 34.2%,#5f5f5f 35.5%,#686868 36.1%,#5c5c5c 37.3%,#757575 38.5%,#5f5f5f 39.7%,#5a5a5a 40.3%,#626262 41.5%,#777777 42.7%,#7d7d7d 43.9%,#898989 44.5%,#898989 45.2%,#7f7f7f 45.8%,#7b7b7b 47%,#676767 47.6%,#4c4c4c 48.2%,#4b4b4b 48.8%,#545454 49.4%,#4a4a4a 51.2%,#4e4e4e 51.8%,#707070 53.6%,#5f5f5f 56.7%,#606060 57.3%,#868686 58.5%,#818181 59.1%,#6d6d6d 59.7%,#626262 60.3%,#656565 60.9%,#717171 61.5%,#6a6a6a 62.7%,#717171 63.3%,#8e8e8e 64.5%,#979797 65.2%,#939393 65.8%,#7f7f7f 66.4%,#797979 67%,#979797 68.2%,#7b7b7b 69.4%,#818181 70.6%,#7d7d7d 71.2%,#959595 72.4%,#818181 73.6%,#8b8b8b 74.2%,#9a9a9a 76.1%,#9f9f9f 77.9%,#838383 79.1%,#7e7e7e 79.7%,#818181 80.3%,#7b7b7b 80.9%,#5e5e5e 81.5%,#565656 82.1%,#5d5d5d 82.7%,#555555 83.3%,#555555 83.9%,#6f6f6f 85.2%,#717171 85.8%,#5a5a5a 87%,#585858 87.6%,#666666 88.8%,#5c5c5c 91.8%,#6c6c6c 92.4%,#848484 93%,#929292 93.6%,#898989 94.2%,#777777 94.8%,#8e8e8e 96.1%,#787878 97.3%,#808080 97.9%,#818181 98.5%,#505050 99.7%,#505050 100%)"></i>
<i style="background:linear-gradient(90deg,#fcfcfc 0%,#fcfcfc 0.9%,#f6f6f6 1.5%,#e3e3e3 2.1%,#f4f4f4 2.7%,#f0f0f0 3.3%,#fbfbfb 3.9%,#eaeaea 4.5%,#868686 5.2%,#191919 5.8%,#171717 6.4%,#6d6d6d 7%,#a3a3a3 7.6%,#a0a0a0 8.2%,#666666 8.8%,#212121 9.4%,#0d0d0d 10%,#141414 10.6%,#565656 13%,#5f5f5f 13.6%,#5f5f5f 14.2%,#555555 14.8%,#343434 16.1%,#2a2a2a 16.7%,#212121 20.9%,#2f2f2f 23.3%,#2a2a2a 24.5%,#313131 25.2%,#424242 25.8%,#3b3b3b 27%,#3f3f3f 27.6%,#595959 28.8%,#525252 30%,#555555 31.2%,#454545 34.2%,#474747 35.5%,#4d4d4d 36.1%,#444444 37.3%,#565656 38.5%,#414141 40.3%,#464646 41.5%,#545454 42.7%,#585858 43.9%,#606060 44.5%,#606060 45.2%,#595959 45.8%,#555555 47%,#3f3f3f 48.2%,#565656 48.8%,#767676 49.4%,#767676 50%,#6d6d6d 50.6%,#727272 51.8%,#818181 52.4%,#999999 53%,#a5a5a5 53.6%,#9b9b9b 55.5%,#8d8d8d 56.7%,#8e8e8e 57.3%,#c7c7c7 58.5%,#c0c0c0 59.1%,#a2a2a2 59.7%,#929292 60.3%,#979797 60.9%,#a9a9a9 61.5%,#a8a8a8 62.1%,#9f9f9f 62.7%,#aaaaaa 63.3%,#d5d5d5 64.5%,#e3e3e3 65.2%,#dedede 65.8%,#bfbfbf 66.4%,#b6b6b6 67%,#d2d2d2 67.6%,#e3e3e3 68.2%,#b9b9b9 69.4%,#c1c1c1 70.6%,#bcbcbc 71.2%,#dfdfdf 72.4%,#c0c0c0 73.6%,#d0d0d0 74.2%,#dadada 75.5%,#e6e6e6 76.1%,#ededed 77.9%,#c3c3c3 79.1%,#bbbbbb 79.7%,#c0c0c0 80.3%,#b5b5b5 80.9%,#8a8a8a 81.5%,#7d7d7d 82.1%,#858585 82.7%,#797979 83.3%,#797979 83.9%,#8f8f8f 84.5%,#9f9f9f 85.2%,#a1a1a1 85.8%,#808080 87%,#7e7e7e 87.6%,#919191 88.8%,#848484 90.6%,#848484 91.8%,#9a9a9a 92.4%,#bcbcbc 93%,#d0d0d0 93.6%,#c3c3c3 94.2%,#aaaaaa 94.8%,#b5b5b5 95.5%,#cacaca 96.1%,#ababab 97.3%,#b7b7b7 97.9%,#b8b8b8 98.5%,#6b6b6b 99.7%,#6b6b6b 100%)"></i>
<i style="background:linear-gradient(90deg,#fdfdfd 0%,#fdfdfd 0.9%,#f6f6f6 1.5%,#e3e3e3 2.1%,#f4f4f4 2.7%,#f0f0f0 3.3%,#fbfbfb 3.9%,#ededed 4.5%,#909090 5.2%,#1b1b1b 5.8%,#151515 6.4%,#686868 7%,#a1a1a1 7.6%,#9e9e9e 8.2%,#1c1c1c 9.4%,#0d0d0d 10%,#4c4c4c 13%,#545454 13.6%,#545454 14.2%,#4c4c4c 14.8%,#313131 16.1%,#292929 16.7%,#212121 20.9%,#2f2f2f 23.3%,#2a2a2a 24.5%,#323232 25.2%,#434343 25.8%,#3a3a3a 27%,#3d3d3d 27.6%,#545454 28.8%,#383838 34.2%,#3c3c3c 36.1%,#323232 37.3%,#3d3d3d 38.5%,#2c2c2c 40.3%,#383838 44.5%,#262626 47.6%,#282828 48.2%,#4c4c4c 48.8%,#797979 49.4%,#7c7c7c 50%,#737373 50.6%,#727272 51.2%,#787878 51.8%,#888888 52.4%,#a2a2a2 53%,#aeaeae 53.6%,#a4a4a4 55.5%,#949494 56.7%,#969696 57.3%,#d3d3d3 58.5%,#cbcbcb 59.1%,#acacac 59.7%,#9a9a9a 60.3%,#a0a0a0 60.9%,#b3b3b3 61.5%,#b2b2b2 62.1%,#a8a8a8 62.7%,#b4b4b4 63.3%,#e2e2e2 64.5%,#f1f1f1 65.2%,#ebebeb 65.8%,#cbcbcb 66.4%,#c1c1c1 67%,#dfdfdf 67.6%,#f1f1f1 68.2%,#c4c4c4 69.4%,#cdcdcd 70.6%,#c7c7c7 71.2%,#ededed 72.4%,#cccccc 73.6%,#dcdcdc 74.2%,#e7e7e7 75.5%,#f3f3f3 76.1%,#fbfbfb 77.9%,#cfcfcf 79.1%,#c7c7c7 79.7%,#cbcbcb 80.3%,#c0c0c0 80.9%,#929292 81.5%,#848484 82.1%,#8c8c8c 82.7%,#808080 83.3%,#7f7f7f 83.9%,#979797 84.5%,#a8a8a8 85.2%,#aaaaaa 85.8%,#878787 87%,#858585 87.6%,#999999 88.8%,#8b8b8b 90.6%,#8b8b8b 91.8%,#a2a2a2 92.4%,#c7c7c7 93%,#dcdcdc 93.6%,#cdcdcd 94.2%,#b3b3b3 94.8%,#bfbfbf 95.5%,#d5d5d5 96.1%,#b4b4b4 97.3%,#c1c1c1 97.9%,#c2c2c2 98.5%,#707070 99.7%,#707070 100%)"></i>
<i style="background:linear-gradient(90deg,#f8f8f8 0%,#f8f8f8 0.9%,#f2f2f2 1.5%,#dfdfdf 2.1%,#efefef 2.7%,#ebebeb 3.3%,#f5f5f5 3.9%,#eaeaea 4.5%,#989898 5.2%,#1f1f1f 5.8%,#171717 6.4%,#636363 7%,#9b9b9b 7.6%,#969696 8.2%,#525252 8.8%,#181818 9.4%,#0d0d0d 10%,#282828 11.2%,#494949 13.6%,#494949 14.2%,#282828 16.7%,#212121 21.5%,#2f2f2f 23.3%,#2b2b2b 24.5%,#333333 25.2%,#454545 25.8%,#3b3b3b 27%,#3e3e3e 27.6%,#545454 28.8%,#363636 34.2%,#393939 36.1%,#2f2f2f 37.3%,#393939 38.5%,#282828 40.3%,#2f2f2f 44.5%,#1f1f1f 47.6%,#232323 48.2%,#494949 48.8%,#797979 49.4%,#7c7c7c 50%,#737373 50.6%,#727272 51.2%,#787878 51.8%,#888888 52.4%,#a2a2a2 53%,#afafaf 53.6%,#a4a4a4 55.5%,#959595 56.7%,#969696 57.3%,#d3d3d3 58.5%,#cbcbcb 59.1%,#acacac 59.7%,#9b9b9b 60.3%,#a0a0a0 60.9%,#b3b3b3 61.5%,#b2b2b2 62.1%,#a9a9a9 62.7%,#b4b4b4 63.3%,#e2e2e2 64.5%,#f1f1f1 65.2%,#ebebeb 65.8%,#cbcbcb 66.4%,#c1c1c1 67%,#dfdfdf 67.6%,#f1f1f1 68.2%,#c4c4c4 69.4%,#cdcdcd 70.6%,#c7c7c7 71.2%,#ededed 72.4%,#cccccc 73.6%,#dcdcdc 74.2%,#e7e7e7 75.5%,#f3f3f3 76.1%,#fcfcfc 77.9%,#cfcfcf 79.1%,#c7c7c7 79.7%,#cbcbcb 80.3%,#c0c0c0 80.9%,#939393 81.5%,#848484 82.1%,#8d8d8d 82.7%,#808080 83.3%,#7f7f7f 83.9%,#979797 84.5%,#a8a8a8 85.2%,#aaaaaa 85.8%,#878787 87%,#858585 87.6%,#999999 88.8%,#8b8b8b 90.6%,#8b8b8b 91.8%,#a2a2a2 92.4%,#c7c7c7 93%,#dcdcdc 93.6%,#cecece 94.2%,#b3b3b3 94.8%,#bfbfbf 95.5%,#d5d5d5 96.1%,#b4b4b4 97.3%,#c1c1c1 97.9%,#c2c2c2 98.5%,#707070 99.7%,#707070 100%)"></i>
<i style="background:linear-gradient(90deg,#e1e1e1 0%,#dcdcdc 1.5%,#cdcdcd 2.1%,#dadada 2.7%,#d8d8d8 3.3%,#dfdfdf 3.9%,#d7d7d7 4.5%,#979797 5.2%,#292929 5.8%,#232323 6.4%,#5f5f5f 7%,#8e8e8e 7.6%,#848484 8.2%,#474747 8.8%,#181818 9.4%,#121212 10%,#282828 11.2%,#404040 13.6%,#404040 14.2%,#272727 16.7%,#212121 21.5%,#2d2d2d 22.7%,#2c2c2c 24.5%,#343434 25.2%,#454545 25.8%,#3b3b3b 27%,#3e3e3e 27.6%,#545454 28.8%,#363636 34.2%,#383838 36.1%,#2f2f2f 37.3%,#393939 38.5%,#282828 40.3%,#2f2f2f 44.5%,#1f1f1f 47.6%,#232323 48.2%,#494949 48.8%,#797979 49.4%,#7c7c7c 50%,#737373 50.6%,#727272 51.2%,#787878 51.8%,#888888 52.4%,#a2a2a2 53%,#afafaf 53.6%,#a4a4a4 55.5%,#959595 56.7%,#969696 57.3%,#d3d3d3 58.5%,#cbcbcb 59.1%,#acacac 59.7%,#9b9b9b 60.3%,#a0a0a0 60.9%,#b3b3b3 61.5%,#b2b2b2 62.1%,#a9a9a9 62.7%,#b4b4b4 63.3%,#e2e2e2 64.5%,#f1f1f1 65.2%,#ebebeb 65.8%,#cbcbcb 66.4%,#c1c1c1 67%,#dfdfdf 67.6%,#f1f1f1 68.2%,#c4c4c4 69.4%,#cdcdcd 70.6%,#c7c7c7 71.2%,#ededed 72.4%,#cccccc 73.6%,#dcdcdc 74.2%,#e7e7e7 75.5%,#f3f3f3 76.1%,#fcfcfc 77.9%,#cfcfcf 79.1%,#c7c7c7 79.7%,#cbcbcb 80.3%,#c0c0c0 80.9%,#939393 81.5%,#848484 82.1%,#8d8d8d 82.7%,#808080 83.3%,#7f7f7f 83.9%,#979797 84.5%,#a8a8a8 85.2%,#aaaaaa 85.8%,#878787 87%,#858585 87.6%,#999999 88.8%,#8b8b8b 90.6%,#8b8b8b 91.8%,#a2a2a2 92.4%,#c7c7c7 93%,#dcdcdc 93.6%,#cecece 94.2%,#b3b3b3 94.8%,#bfbfbf 95.5%,#d5d5d5 96.1%,#b4b4b4 97.3%,#c1c1c1 97.9%,#c2c2c2 98.5%,#707070 99.7%,#707070 100%)"></i></div>
<svg width="550" height="432" viewBox="0 0 550 432">
<defs>
<filter id="soft" x="-5%" y="-5%" width="110%" height="110%"><feGaussianBlur stdDeviation="0.45"/></filter>
<filter id="soft2" x="-5%" y="-5%" width="110%" height="110%"><feGaussianBlur stdDeviation="0.4"/></filter>

</defs>
<g filter="url(#soft)">
<rect x="32.0" y="6.6" width="290.00" height="177.60" fill="none" stroke="#929292" stroke-width="1.0"/>
<line x1="32.00" y1="184.20" x2="32.00" y2="182.00" stroke="#929292" stroke-width="0.8"/>
<line x1="32.00" y1="6.60" x2="32.00" y2="8.80" stroke="#929292" stroke-width="0.8"/>
<text x="32.00" y="193.60" font-size="6.3" text-anchor="middle" fill="#4a4a4a" stroke="#4a4a4a" stroke-width="0.12" font-weight="normal">0</text>
<line x1="72.06" y1="184.20" x2="72.06" y2="182.00" stroke="#929292" stroke-width="0.8"/>
<line x1="72.06" y1="6.60" x2="72.06" y2="8.80" stroke="#929292" stroke-width="0.8"/>
<text x="72.06" y="193.60" font-size="6.3" text-anchor="middle" fill="#4a4a4a" stroke="#4a4a4a" stroke-width="0.12" font-weight="normal">20</text>
<line x1="112.12" y1="184.20" x2="112.12" y2="182.00" stroke="#929292" stroke-width="0.8"/>
<line x1="112.12" y1="6.60" x2="112.12" y2="8.80" stroke="#929292" stroke-width="0.8"/>
<text x="112.12" y="193.60" font-size="6.3" text-anchor="middle" fill="#4a4a4a" stroke="#4a4a4a" stroke-width="0.12" font-weight="normal">40</text>
<line x1="152.18" y1="184.20" x2="152.18" y2="182.00" stroke="#929292" stroke-width="0.8"/>
<line x1="152.18" y1="6.60" x2="152.18" y2="8.80" stroke="#929292" stroke-width="0.8"/>
<text x="152.18" y="193.60" font-size="6.3" text-anchor="middle" fill="#4a4a4a" stroke="#4a4a4a" stroke-width="0.12" font-weight="normal">60</text>
<line x1="192.24" y1="184.20" x2="192.24" y2="182.00" stroke="#929292" stroke-width="0.8"/>
<line x1="192.24" y1="6.60" x2="192.24" y2="8.80" stroke="#929292" stroke-width="0.8"/>
<text x="192.24" y="193.60" font-size="6.3" text-anchor="middle" fill="#4a4a4a" stroke="#4a4a4a" stroke-width="0.12" font-weight="normal">80</text>
<line x1="232.30" y1="184.20" x2="232.30" y2="182.00" stroke="#929292" stroke-width="0.8"/>
<line x1="232.30" y1="6.60" x2="232.30" y2="8.80" stroke="#929292" stroke-width="0.8"/>
<text x="232.30" y="193.60" font-size="6.3" text-anchor="middle" fill="#4a4a4a" stroke="#4a4a4a" stroke-width="0.12" font-weight="normal">100</text>
<line x1="272.36" y1="184.20" x2="272.36" y2="182.00" stroke="#929292" stroke-width="0.8"/>
<line x1="272.36" y1="6.60" x2="272.36" y2="8.80" stroke="#929292" stroke-width="0.8"/>
<text x="272.36" y="193.60" font-size="6.3" text-anchor="middle" fill="#4a4a4a" stroke="#4a4a4a" stroke-width="0.12" font-weight="normal">120</text>
<line x1="312.42" y1="184.20" x2="312.42" y2="182.00" stroke="#929292" stroke-width="0.8"/>
<line x1="312.42" y1="6.60" x2="312.42" y2="8.80" stroke="#929292" stroke-width="0.8"/>
<text x="312.42" y="193.60" font-size="6.3" text-anchor="middle" fill="#4a4a4a" stroke="#4a4a4a" stroke-width="0.12" font-weight="normal">140</text>
<line x1="32.00" y1="5.95" x2="34.20" y2="5.95" stroke="#929292" stroke-width="0.8"/>
<line x1="322.00" y1="5.95" x2="319.80" y2="5.95" stroke="#929292" stroke-width="0.8"/>
<text x="28.40" y="8.25" font-size="6.6" text-anchor="end" fill="#4a4a4a" stroke="#4a4a4a" stroke-width="0.12" font-weight="normal">3</text>
<line x1="32.00" y1="31.30" x2="34.20" y2="31.30" stroke="#929292" stroke-width="0.8"/>
<line x1="322.00" y1="31.30" x2="319.80" y2="31.30" stroke="#929292" stroke-width="0.8"/>
<text x="28.40" y="33.60" font-size="6.6" text-anchor="end" fill="#4a4a4a" stroke="#4a4a4a" stroke-width="0.12" font-weight="normal">2</text>
<line x1="32.00" y1="56.65" x2="34.20" y2="56.65" stroke="#929292" stroke-width="0.8"/>
<line x1="322.00" y1="56.65" x2="319.80" y2="56.65" stroke="#929292" stroke-width="0.8"/>
<text x="28.40" y="58.95" font-size="6.6" text-anchor="end" fill="#4a4a4a" stroke="#4a4a4a" stroke-width="0.12" font-weight="normal">1</text>
<line x1="32.00" y1="82.00" x2="34.20" y2="82.00" stroke="#929292" stroke-width="0.8"/>
<line x1="322.00" y1="82.00" x2="319.80" y2="82.00" stroke="#929292" stroke-width="0.8"/>
<text x="28.40" y="84.30" font-size="6.6" text-anchor="end" fill="#4a4a4a" stroke="#4a4a4a" stroke-width="0.12" font-weight="normal">0</text>
<line x1="32.00" y1="107.35" x2="34.20" y2="107.35" stroke="#929292" stroke-width="0.8"/>
<line x1="322.00" y1="107.35" x2="319.80" y2="107.35" stroke="#929292" stroke-width="0.8"/>
<text x="28.40" y="109.65" font-size="6.6" text-anchor="end" fill="#4a4a4a" stroke="#4a4a4a" stroke-width="0.12" font-weight="normal">-1</text>
<line x1="32.00" y1="132.70" x2="34.20" y2="132.70" stroke="#929292" stroke-width="0.8"/>
<line x1="322.00" y1="132.70" x2="319.80" y2="132.70" stroke="#929292" stroke-width="0.8"/>
<text x="28.40" y="135.00" font-size="6.6" text-anchor="end" fill="#4a4a4a" stroke="#4a4a4a" stroke-width="0.12" font-weight="normal">-2</text>
<line x1="32.00" y1="158.05" x2="34.20" y2="158.05" stroke="#929292" stroke-width="0.8"/>
<line x1="322.00" y1="158.05" x2="319.80" y2="158.05" stroke="#929292" stroke-width="0.8"/>
<text x="28.40" y="160.35" font-size="6.6" text-anchor="end" fill="#4a4a4a" stroke="#4a4a4a" stroke-width="0.12" font-weight="normal">-3</text>
<line x1="32.00" y1="183.40" x2="34.20" y2="183.40" stroke="#929292" stroke-width="0.8"/>
<line x1="322.00" y1="183.40" x2="319.80" y2="183.40" stroke="#929292" stroke-width="0.8"/>
<text x="28.40" y="185.70" font-size="6.6" text-anchor="end" fill="#4a4a4a" stroke="#4a4a4a" stroke-width="0.12" font-weight="normal">-4</text>
<path d="M34.4,79.4 L36.0,78.0 L39.4,63.0 L41.5,76.0 L43.6,100.0 L45.6,74.0 L48.0,98.0 L50.0,98.6 L54.0,82.0 L57.0,74.0 L60.0,65.0 L61.6,73.0 L63.4,64.4 L64.8,90.0 L66.0,114.0 L68.0,109.0 L69.6,110.4 L71.6,92.4 L73.6,105.6 L76.4,85.6 L78.0,97.6 L81.6,41.0 L86.0,80.0 L88.0,72.4 L89.6,83.0 L91.0,83.6 L94.0,111.6 L98.0,78.0 L99.6,74.0 L102.0,100.0 L103.6,98.4 L105.6,122.0 L107.6,82.0 L109.6,79.0 L111.6,53.6 L114.0,90.0 L115.6,89.6 L117.6,66.4 L121.0,72.4 L124.0,88.0 L126.0,74.0 L129.4,62.4 L131.6,80.0 L134.0,62.0 L135.6,59.0 L137.6,74.0 L139.6,78.0 L142.0,95.0 L143.6,90.0 L146.0,55.0 L149.0,86.0 L151.6,101.6 L154.0,89.0 L156.0,88.4 L158.0,99.0 L159.6,98.0 L162.0,81.0 L164.0,94.0 L165.6,87.0 L167.6,90.0 L169.6,75.0 L172.0,96.0 L174.0,38.4 L176.0,42.0 L179.6,57.0 L182.0,50.0 L184.0,56.0 L186.4,59.0 L190.0,92.0 L192.0,76.0 L196.0,104.0 L198.0,62.0 L202.0,89.0 L204.0,77.0 L206.4,90.0 L209.6,79.0 L212.0,89.0 L214.0,145.0 L216.0,91.0 L218.0,105.0 L222.0,66.0 L226.0,106.0 L228.0,92.0 L230.0,119.0 L234.0,61.0 L237.0,110.0 L240.0,121.0 L244.0,85.0 L246.0,103.0 L248.0,84.0 L252.0,106.0 L255.0,84.0 L256.0,78.0 L258.0,59.0 L260.0,85.0 L262.0,100.0 L265.0,104.0 L266.6,110.4 L268.1,162.5 L269.8,153.8 L272.3,181.3 L275.0,141.7 L277.0,100.0 L278.0,74.0 L280.0,84.0 L282.0,56.0 L284.0,75.0 L286.0,49.0 L288.0,47.0 L290.0,37.0 L294.4,51.0 L297.0,40.0 L299.0,36.0 L302.0,34.0 L306.0,24.4 L308.4,49.0 L312.0,66.0 L314.4,29.0 L316.4,50.0 L318.6,58.0 L319.6,84.0 L320.4,110.0 L321.3,120.0" fill="none" stroke="#5a9fc8" stroke-width="1.0" stroke-linejoin="round" stroke-linecap="round" filter="url(#soft2)"/>
<text transform="translate(14.3,93.3) rotate(-90)" font-size="10.2" text-anchor="middle" fill="#2a2a2a" stroke="#333" stroke-width="0.2" textLength="47.5" lengthAdjust="spacingAndGlyphs">Amplitude</text>
<text x="172.00" y="207.40" font-size="9.6" text-anchor="middle" fill="#383838" stroke="#383838" stroke-width="0.12" font-weight="bold" textLength="40.2" lengthAdjust="spacingAndGlyphs">Time (s)</text>
<rect x="30.6" y="222.0" width="291.00" height="177.70" fill="none" stroke="#929292" stroke-width="1.0"/>
<line x1="30.60" y1="399.70" x2="30.60" y2="397.50" stroke="#929292" stroke-width="0.8"/>
<line x1="30.60" y1="222.00" x2="30.60" y2="224.20" stroke="#929292" stroke-width="0.8"/>
<text x="30.60" y="408.80" font-size="6.3" text-anchor="middle" fill="#4a4a4a" stroke="#4a4a4a" stroke-width="0.12" font-weight="normal">0</text>
<line x1="70.72" y1="399.70" x2="70.72" y2="397.50" stroke="#929292" stroke-width="0.8"/>
<line x1="70.72" y1="222.00" x2="70.72" y2="224.20" stroke="#929292" stroke-width="0.8"/>
<text x="70.72" y="408.80" font-size="6.3" text-anchor="middle" fill="#4a4a4a" stroke="#4a4a4a" stroke-width="0.12" font-weight="normal">20</text>
<line x1="110.84" y1="399.70" x2="110.84" y2="397.50" stroke="#929292" stroke-width="0.8"/>
<line x1="110.84" y1="222.00" x2="110.84" y2="224.20" stroke="#929292" stroke-width="0.8"/>
<text x="110.84" y="408.80" font-size="6.3" text-anchor="middle" fill="#4a4a4a" stroke="#4a4a4a" stroke-width="0.12" font-weight="normal">40</text>
<line x1="150.96" y1="399.70" x2="150.96" y2="397.50" stroke="#929292" stroke-width="0.8"/>
<line x1="150.96" y1="222.00" x2="150.96" y2="224.20" stroke="#929292" stroke-width="0.8"/>
<text x="150.96" y="408.80" font-size="6.3" text-anchor="middle" fill="#4a4a4a" stroke="#4a4a4a" stroke-width="0.12" font-weight="normal">60</text>
<line x1="191.08" y1="399.70" x2="191.08" y2="397.50" stroke="#929292" stroke-width="0.8"/>
<line x1="191.08" y1="222.00" x2="191.08" y2="224.20" stroke="#929292" stroke-width="0.8"/>
<text x="191.08" y="408.80" font-size="6.3" text-anchor="middle" fill="#4a4a4a" stroke="#4a4a4a" stroke-width="0.12" font-weight="normal">80</text>
<line x1="231.20" y1="399.70" x2="231.20" y2="397.50" stroke="#929292" stroke-width="0.8"/>
<line x1="231.20" y1="222.00" x2="231.20" y2="224.20" stroke="#929292" stroke-width="0.8"/>
<text x="231.20" y="408.80" font-size="6.3" text-anchor="middle" fill="#4a4a4a" stroke="#4a4a4a" stroke-width="0.12" font-weight="normal">100</text>
<line x1="271.32" y1="399.70" x2="271.32" y2="397.50" stroke="#929292" stroke-width="0.8"/>
<line x1="271.32" y1="222.00" x2="271.32" y2="224.20" stroke="#929292" stroke-width="0.8"/>
<text x="271.32" y="408.80" font-size="6.3" text-anchor="middle" fill="#4a4a4a" stroke="#4a4a4a" stroke-width="0.12" font-weight="normal">120</text>
<line x1="311.44" y1="399.70" x2="311.44" y2="397.50" stroke="#929292" stroke-width="0.8"/>
<line x1="311.44" y1="222.00" x2="311.44" y2="224.20" stroke="#929292" stroke-width="0.8"/>
<text x="311.44" y="408.80" font-size="6.3" text-anchor="middle" fill="#4a4a4a" stroke="#4a4a4a" stroke-width="0.12" font-weight="normal">140</text>
<line x1="30.60" y1="222.00" x2="32.80" y2="222.00" stroke="#929292" stroke-width="0.8"/>
<line x1="321.60" y1="222.00" x2="319.40" y2="222.00" stroke="#929292" stroke-width="0.8"/>
<text x="26.80" y="224.30" font-size="6.6" text-anchor="end" fill="#4a4a4a" stroke="#4a4a4a" stroke-width="0.12" font-weight="normal">6</text>
<line x1="30.60" y1="251.60" x2="32.80" y2="251.60" stroke="#929292" stroke-width="0.8"/>
<line x1="321.60" y1="251.60" x2="319.40" y2="251.60" stroke="#929292" stroke-width="0.8"/>
<text x="26.80" y="253.90" font-size="6.6" text-anchor="end" fill="#4a4a4a" stroke="#4a4a4a" stroke-width="0.12" font-weight="normal">4</text>
<line x1="30.60" y1="281.20" x2="32.80" y2="281.20" stroke="#929292" stroke-width="0.8"/>
<line x1="321.60" y1="281.20" x2="319.40" y2="281.20" stroke="#929292" stroke-width="0.8"/>
<text x="26.80" y="283.50" font-size="6.6" text-anchor="end" fill="#4a4a4a" stroke="#4a4a4a" stroke-width="0.12" font-weight="normal">2</text>
<line x1="30.60" y1="310.80" x2="32.80" y2="310.80" stroke="#929292" stroke-width="0.8"/>
<line x1="321.60" y1="310.80" x2="319.40" y2="310.80" stroke="#929292" stroke-width="0.8"/>
<text x="26.80" y="313.10" font-size="6.6" text-anchor="end" fill="#4a4a4a" stroke="#4a4a4a" stroke-width="0.12" font-weight="normal">0</text>
<line x1="30.60" y1="340.40" x2="32.80" y2="340.40" stroke="#929292" stroke-width="0.8"/>
<line x1="321.60" y1="340.40" x2="319.40" y2="340.40" stroke="#929292" stroke-width="0.8"/>
<text x="26.80" y="342.70" font-size="6.6" text-anchor="end" fill="#4a4a4a" stroke="#4a4a4a" stroke-width="0.12" font-weight="normal">-2</text>
<line x1="30.60" y1="370.00" x2="32.80" y2="370.00" stroke="#929292" stroke-width="0.8"/>
<line x1="321.60" y1="370.00" x2="319.40" y2="370.00" stroke="#929292" stroke-width="0.8"/>
<text x="26.80" y="372.30" font-size="6.6" text-anchor="end" fill="#4a4a4a" stroke="#4a4a4a" stroke-width="0.12" font-weight="normal">-4</text>
<line x1="30.60" y1="399.60" x2="32.80" y2="399.60" stroke="#929292" stroke-width="0.8"/>
<line x1="321.60" y1="399.60" x2="319.40" y2="399.60" stroke="#929292" stroke-width="0.8"/>
<text x="26.80" y="401.90" font-size="6.6" text-anchor="end" fill="#4a4a4a" stroke="#4a4a4a" stroke-width="0.12" font-weight="normal">-6</text>
<path d="M32.4,280.0 L34.4,279.0 L36.4,294.0 L39.0,285.0 L41.0,283.6 L44.4,290.0 L47.0,277.6 L50.4,283.0 L52.0,277.0 L54.4,251.0 L57.6,266.0 L61.0,272.0 L63.6,282.0 L67.0,303.0 L68.4,299.6 L70.4,310.0 L72.0,310.0 L74.4,288.0 L76.4,262.4 L79.0,288.0 L81.0,281.0 L83.0,289.0 L85.0,283.6 L86.0,300.0 L87.6,320.0 L90.6,351.0 L93.0,325.0 L94.4,331.0 L97.0,299.6 L99.0,310.0 L101.0,306.0 L103.0,322.4 L105.0,305.0 L107.0,312.0 L109.0,310.0 L111.0,314.0 L115.0,293.0 L117.0,306.0 L119.0,299.0 L121.0,305.0 L123.0,291.0 L125.0,317.0 L126.4,311.0 L129.0,329.0 L133.0,337.0 L136.0,342.0 L138.4,353.0 L140.4,314.0 L143.0,306.0 L145.6,304.4 L148.0,310.0 L150.4,335.0 L152.0,330.0 L154.0,330.0 L156.4,341.0 L159.0,323.0 L161.0,318.4 L163.0,318.0 L164.6,331.0 L166.0,331.0 L169.0,345.0 L170.6,346.0 L172.4,314.0 L175.0,291.0 L177.0,291.0 L180.4,300.0 L183.0,312.0 L186.4,324.0 L189.0,351.0 L191.0,338.0 L194.0,328.0 L197.0,299.0 L199.0,295.0 L201.0,278.0 L203.0,300.0 L205.0,336.0 L207.0,350.0 L209.0,336.0 L211.6,300.0 L212.4,260.0 L215.0,229.6 L217.0,250.0 L219.0,272.0 L220.4,306.0 L222.0,340.0 L224.5,372.0 L226.8,389.4 L228.3,370.0 L229.4,348.0 L231.0,320.0 L231.8,280.0 L233.0,264.0 L235.0,271.0 L236.4,300.0 L237.6,324.0 L239.0,347.0 L241.0,347.6 L243.0,351.0 L245.0,348.0 L247.0,324.0 L248.4,300.0 L249.6,260.0 L251.0,240.4 L253.0,255.0 L255.6,270.0 L257.0,300.0 L258.0,310.0 L260.0,340.0 L261.6,364.0 L263.0,377.0 L265.0,356.0 L267.0,320.0 L268.2,300.0 L269.0,282.5 L270.0,300.0 L271.6,312.0 L273.6,324.0 L275.0,339.0 L276.4,339.6 L278.0,326.0 L280.0,306.0 L281.0,295.3 L282.5,305.0 L283.6,310.0 L285.0,316.0 L287.0,338.0 L290.0,342.0 L293.0,346.5 L295.0,325.0 L297.2,287.6 L298.6,302.8 L301.0,307.0 L303.0,325.0 L305.2,286.0 L307.2,259.2 L309.7,287.0 L312.4,309.7 L315.0,322.0 L317.2,354.0 L319.1,333.0 L320.8,291.7 L321.4,286.0" fill="none" stroke="#5a9fc8" stroke-width="1.0" stroke-linejoin="round" stroke-linecap="round" filter="url(#soft2)"/>
<text transform="translate(13.5,312.3) rotate(-90)" font-size="10.2" text-anchor="middle" fill="#2a2a2a" stroke="#333" stroke-width="0.2" textLength="47.5" lengthAdjust="spacingAndGlyphs">Amplitude</text>
<text x="177.30" y="424.20" font-size="9.6" text-anchor="middle" fill="#383838" stroke="#383838" stroke-width="0.12" font-weight="bold" textLength="40.2" lengthAdjust="spacingAndGlyphs">Time (s)</text>
<rect x="376" y="14" width="167" height="1.40" fill="#fff"/>
<rect x="376" y="179.90" width="167" height="2.10" fill="#fff"/>
<rect x="376" y="14" width="0.90" height="168" fill="#fff"/>
<rect x="541.40" y="14" width="1.60" height="168" fill="#fff"/>
<line x1="376.60" y1="15.40" x2="376.60" y2="180.40" stroke="#4a4a4a" stroke-width="0.8"/>
<line x1="376.60" y1="180.20" x2="541.40" y2="180.20" stroke="#4a4a4a" stroke-width="0.9"/>
<line x1="541.60" y1="15.40" x2="541.60" y2="180.40" stroke="#888" stroke-width="0.7"/>
<line x1="398.58" y1="15.40" x2="398.58" y2="13.00" stroke="#666" stroke-width="0.8"/>
<line x1="398.58" y1="179.90" x2="398.58" y2="181.10" stroke="#666" stroke-width="0.8"/>
<text x="398.58" y="191.70" font-size="6.0" text-anchor="middle" fill="#4a4a4a" stroke="#4a4a4a" stroke-width="0.12" font-weight="normal">20</text>
<line x1="421.26" y1="15.40" x2="421.26" y2="13.00" stroke="#666" stroke-width="0.8"/>
<line x1="421.26" y1="179.90" x2="421.26" y2="181.10" stroke="#666" stroke-width="0.8"/>
<text x="421.26" y="191.70" font-size="6.0" text-anchor="middle" fill="#4a4a4a" stroke="#4a4a4a" stroke-width="0.12" font-weight="normal">40</text>
<line x1="443.94" y1="15.40" x2="443.94" y2="13.00" stroke="#666" stroke-width="0.8"/>
<line x1="443.94" y1="179.90" x2="443.94" y2="181.10" stroke="#666" stroke-width="0.8"/>
<text x="443.94" y="191.70" font-size="6.0" text-anchor="middle" fill="#4a4a4a" stroke="#4a4a4a" stroke-width="0.12" font-weight="normal">60</text>
<line x1="466.62" y1="15.40" x2="466.62" y2="13.00" stroke="#666" stroke-width="0.8"/>
<line x1="466.62" y1="179.90" x2="466.62" y2="181.10" stroke="#666" stroke-width="0.8"/>
<text x="466.62" y="191.70" font-size="6.0" text-anchor="middle" fill="#4a4a4a" stroke="#4a4a4a" stroke-width="0.12" font-weight="normal">80</text>
<line x1="489.30" y1="15.40" x2="489.30" y2="13.00" stroke="#666" stroke-width="0.8"/>
<line x1="489.30" y1="179.90" x2="489.30" y2="181.10" stroke="#666" stroke-width="0.8"/>
<text x="489.30" y="191.70" font-size="6.0" text-anchor="middle" fill="#4a4a4a" stroke="#4a4a4a" stroke-width="0.12" font-weight="normal">100</text>
<line x1="511.98" y1="15.40" x2="511.98" y2="13.00" stroke="#666" stroke-width="0.8"/>
<line x1="511.98" y1="179.90" x2="511.98" y2="181.10" stroke="#666" stroke-width="0.8"/>
<text x="511.98" y="191.70" font-size="6.0" text-anchor="middle" fill="#4a4a4a" stroke="#4a4a4a" stroke-width="0.12" font-weight="normal">120</text>
<line x1="534.66" y1="15.40" x2="534.66" y2="13.00" stroke="#666" stroke-width="0.8"/>
<line x1="534.66" y1="179.90" x2="534.66" y2="181.10" stroke="#666" stroke-width="0.8"/>
<text x="534.66" y="191.70" font-size="6.0" text-anchor="middle" fill="#4a4a4a" stroke="#4a4a4a" stroke-width="0.12" font-weight="normal">140</text>
<line x1="376.90" y1="167.23" x2="374.50" y2="167.23" stroke="#666" stroke-width="0.8"/>
<line x1="541.40" y1="167.23" x2="543.00" y2="167.23" stroke="#777" stroke-width="0.8"/>
<text x="371.10" y="169.43" font-size="6.0" text-anchor="end" fill="#4a4a4a" stroke="#4a4a4a" stroke-width="0.12" font-weight="normal" textLength="7.5" lengthAdjust="spacingAndGlyphs">50</text>
<line x1="376.90" y1="152.66" x2="374.50" y2="152.66" stroke="#666" stroke-width="0.8"/>
<line x1="541.40" y1="152.66" x2="543.00" y2="152.66" stroke="#777" stroke-width="0.8"/>
<text x="371.10" y="154.86" font-size="6.0" text-anchor="end" fill="#4a4a4a" stroke="#4a4a4a" stroke-width="0.12" font-weight="normal" textLength="11.25" lengthAdjust="spacingAndGlyphs">100</text>
<line x1="376.90" y1="138.09" x2="374.50" y2="138.09" stroke="#666" stroke-width="0.8"/>
<line x1="541.40" y1="138.09" x2="543.00" y2="138.09" stroke="#777" stroke-width="0.8"/>
<text x="371.10" y="140.29" font-size="6.0" text-anchor="end" fill="#4a4a4a" stroke="#4a4a4a" stroke-width="0.12" font-weight="normal" textLength="11.25" lengthAdjust="spacingAndGlyphs">150</text>
<line x1="376.90" y1="123.52" x2="374.50" y2="123.52" stroke="#666" stroke-width="0.8"/>
<line x1="541.40" y1="123.52" x2="543.00" y2="123.52" stroke="#777" stroke-width="0.8"/>
<text x="371.10" y="125.72" font-size="6.0" text-anchor="end" fill="#4a4a4a" stroke="#4a4a4a" stroke-width="0.12" font-weight="normal" textLength="11.25" lengthAdjust="spacingAndGlyphs">200</text>
<line x1="376.90" y1="108.95" x2="374.50" y2="108.95" stroke="#666" stroke-width="0.8"/>
<line x1="541.40" y1="108.95" x2="543.00" y2="108.95" stroke="#777" stroke-width="0.8"/>
<text x="371.10" y="111.15" font-size="6.0" text-anchor="end" fill="#4a4a4a" stroke="#4a4a4a" stroke-width="0.12" font-weight="normal" textLength="11.25" lengthAdjust="spacingAndGlyphs">250</text>
<line x1="376.90" y1="94.38" x2="374.50" y2="94.38" stroke="#666" stroke-width="0.8"/>
<line x1="541.40" y1="94.38" x2="543.00" y2="94.38" stroke="#777" stroke-width="0.8"/>
<text x="371.10" y="96.58" font-size="6.0" text-anchor="end" fill="#4a4a4a" stroke="#4a4a4a" stroke-width="0.12" font-weight="normal" textLength="11.25" lengthAdjust="spacingAndGlyphs">300</text>
<line x1="376.90" y1="79.81" x2="374.50" y2="79.81" stroke="#666" stroke-width="0.8"/>
<line x1="541.40" y1="79.81" x2="543.00" y2="79.81" stroke="#777" stroke-width="0.8"/>
<text x="371.10" y="82.01" font-size="6.0" text-anchor="end" fill="#4a4a4a" stroke="#4a4a4a" stroke-width="0.12" font-weight="normal" textLength="11.25" lengthAdjust="spacingAndGlyphs">350</text>
<line x1="376.90" y1="65.24" x2="374.50" y2="65.24" stroke="#666" stroke-width="0.8"/>
<line x1="541.40" y1="65.24" x2="543.00" y2="65.24" stroke="#777" stroke-width="0.8"/>
<text x="371.10" y="67.44" font-size="6.0" text-anchor="end" fill="#4a4a4a" stroke="#4a4a4a" stroke-width="0.12" font-weight="normal" textLength="11.25" lengthAdjust="spacingAndGlyphs">400</text>
<line x1="376.90" y1="50.67" x2="374.50" y2="50.67" stroke="#666" stroke-width="0.8"/>
<line x1="541.40" y1="50.67" x2="543.00" y2="50.67" stroke="#777" stroke-width="0.8"/>
<text x="371.10" y="52.87" font-size="6.0" text-anchor="end" fill="#4a4a4a" stroke="#4a4a4a" stroke-width="0.12" font-weight="normal" textLength="11.25" lengthAdjust="spacingAndGlyphs">450</text>
<line x1="376.90" y1="36.10" x2="374.50" y2="36.10" stroke="#666" stroke-width="0.8"/>
<line x1="541.40" y1="36.10" x2="543.00" y2="36.10" stroke="#777" stroke-width="0.8"/>
<text x="371.10" y="38.30" font-size="6.0" text-anchor="end" fill="#4a4a4a" stroke="#4a4a4a" stroke-width="0.12" font-weight="normal" textLength="11.25" lengthAdjust="spacingAndGlyphs">500</text>
<line x1="376.90" y1="21.53" x2="374.50" y2="21.53" stroke="#666" stroke-width="0.8"/>
<line x1="541.40" y1="21.53" x2="543.00" y2="21.53" stroke="#777" stroke-width="0.8"/>
<text x="371.10" y="23.73" font-size="6.0" text-anchor="end" fill="#4a4a4a" stroke="#4a4a4a" stroke-width="0.12" font-weight="normal" textLength="11.25" lengthAdjust="spacingAndGlyphs">550</text>
<text transform="translate(346.7,92.9) rotate(-90)" font-size="10.2" text-anchor="middle" fill="#2a2a2a" stroke="#333" stroke-width="0.3" textLength="67.5" lengthAdjust="spacingAndGlyphs">Frequency (Hz)</text>
<text x="468.20" y="207.20" font-size="9.6" text-anchor="middle" fill="#383838" stroke="#383838" stroke-width="0.12" font-weight="bold" textLength="40.6" lengthAdjust="spacingAndGlyphs">Time (s)</text>
<rect x="372" y="230" width="167" height="1.00" fill="#fff"/>
<rect x="372" y="396.40" width="167" height="1.60" fill="#fff"/>
<rect x="372" y="230" width="1.00" height="168" fill="#fff"/>
<rect x="537.70" y="230" width="1.30" height="168" fill="#fff"/>
<line x1="372.70" y1="231.00" x2="372.70" y2="396.90" stroke="#4a4a4a" stroke-width="0.8"/>
<line x1="372.70" y1="396.70" x2="537.70" y2="396.70" stroke="#4a4a4a" stroke-width="0.9"/>
<line x1="537.90" y1="231.00" x2="537.90" y2="396.90" stroke="#888" stroke-width="0.7"/>
<line x1="395.06" y1="231.00" x2="395.06" y2="228.60" stroke="#666" stroke-width="0.8"/>
<line x1="395.06" y1="396.40" x2="395.06" y2="397.60" stroke="#666" stroke-width="0.8"/>
<text x="395.06" y="407.70" font-size="6.0" text-anchor="middle" fill="#4a4a4a" stroke="#4a4a4a" stroke-width="0.12" font-weight="normal">20</text>
<line x1="417.82" y1="231.00" x2="417.82" y2="228.60" stroke="#666" stroke-width="0.8"/>
<line x1="417.82" y1="396.40" x2="417.82" y2="397.60" stroke="#666" stroke-width="0.8"/>
<text x="417.82" y="407.70" font-size="6.0" text-anchor="middle" fill="#4a4a4a" stroke="#4a4a4a" stroke-width="0.12" font-weight="normal">40</text>
<line x1="440.58" y1="231.00" x2="440.58" y2="228.60" stroke="#666" stroke-width="0.8"/>
<line x1="440.58" y1="396.40" x2="440.58" y2="397.60" stroke="#666" stroke-width="0.8"/>
<text x="440.58" y="407.70" font-size="6.0" text-anchor="middle" fill="#4a4a4a" stroke="#4a4a4a" stroke-width="0.12" font-weight="normal">60</text>
<line x1="463.34" y1="231.00" x2="463.34" y2="228.60" stroke="#666" stroke-width="0.8"/>
<line x1="463.34" y1="396.40" x2="463.34" y2="397.60" stroke="#666" stroke-width="0.8"/>
<text x="463.34" y="407.70" font-size="6.0" text-anchor="middle" fill="#4a4a4a" stroke="#4a4a4a" stroke-width="0.12" font-weight="normal">80</text>
<line x1="486.10" y1="231.00" x2="486.10" y2="228.60" stroke="#666" stroke-width="0.8"/>
<line x1="486.10" y1="396.40" x2="486.10" y2="397.60" stroke="#666" stroke-width="0.8"/>
<text x="486.10" y="407.70" font-size="6.0" text-anchor="middle" fill="#4a4a4a" stroke="#4a4a4a" stroke-width="0.12" font-weight="normal">100</text>
<line x1="508.86" y1="231.00" x2="508.86" y2="228.60" stroke="#666" stroke-width="0.8"/>
<line x1="508.86" y1="396.40" x2="508.86" y2="397.60" stroke="#666" stroke-width="0.8"/>
<text x="508.86" y="407.70" font-size="6.0" text-anchor="middle" fill="#4a4a4a" stroke="#4a4a4a" stroke-width="0.12" font-weight="normal">120</text>
<line x1="531.62" y1="231.00" x2="531.62" y2="228.60" stroke="#666" stroke-width="0.8"/>
<line x1="531.62" y1="396.40" x2="531.62" y2="397.60" stroke="#666" stroke-width="0.8"/>
<text x="531.62" y="407.70" font-size="6.0" text-anchor="middle" fill="#4a4a4a" stroke="#4a4a4a" stroke-width="0.12" font-weight="normal">140</text>
<line x1="373.00" y1="383.04" x2="370.60" y2="383.04" stroke="#666" stroke-width="0.8"/>
<line x1="537.70" y1="383.04" x2="539.30" y2="383.04" stroke="#777" stroke-width="0.8"/>
<text x="367.40" y="385.24" font-size="6.0" text-anchor="end" fill="#4a4a4a" stroke="#4a4a4a" stroke-width="0.12" font-weight="normal" textLength="7.5" lengthAdjust="spacingAndGlyphs">50</text>
<line x1="373.00" y1="368.48" x2="370.60" y2="368.48" stroke="#666" stroke-width="0.8"/>
<line x1="537.70" y1="368.48" x2="539.30" y2="368.48" stroke="#777" stroke-width="0.8"/>
<text x="367.40" y="370.68" font-size="6.0" text-anchor="end" fill="#4a4a4a" stroke="#4a4a4a" stroke-width="0.12" font-weight="normal" textLength="11.25" lengthAdjust="spacingAndGlyphs">100</text>
<line x1="373.00" y1="353.92" x2="370.60" y2="353.92" stroke="#666" stroke-width="0.8"/>
<line x1="537.70" y1="353.92" x2="539.30" y2="353.92" stroke="#777" stroke-width="0.8"/>
<text x="367.40" y="356.12" font-size="6.0" text-anchor="end" fill="#4a4a4a" stroke="#4a4a4a" stroke-width="0.12" font-weight="normal" textLength="11.25" lengthAdjust="spacingAndGlyphs">150</text>
<line x1="373.00" y1="339.36" x2="370.60" y2="339.36" stroke="#666" stroke-width="0.8"/>
<line x1="537.70" y1="339.36" x2="539.30" y2="339.36" stroke="#777" stroke-width="0.8"/>
<text x="367.40" y="341.56" font-size="6.0" text-anchor="end" fill="#4a4a4a" stroke="#4a4a4a" stroke-width="0.12" font-weight="normal" textLength="11.25" lengthAdjust="spacingAndGlyphs">200</text>
<line x1="373.00" y1="324.80" x2="370.60" y2="324.80" stroke="#666" stroke-width="0.8"/>
<line x1="537.70" y1="324.80" x2="539.30" y2="324.80" stroke="#777" stroke-width="0.8"/>
<text x="367.40" y="327.00" font-size="6.0" text-anchor="end" fill="#4a4a4a" stroke="#4a4a4a" stroke-width="0.12" font-weight="normal" textLength="11.25" lengthAdjust="spacingAndGlyphs">250</text>
<line x1="373.00" y1="310.24" x2="370.60" y2="310.24" stroke="#666" stroke-width="0.8"/>
<line x1="537.70" y1="310.24" x2="539.30" y2="310.24" stroke="#777" stroke-width="0.8"/>
<text x="367.40" y="312.44" font-size="6.0" text-anchor="end" fill="#4a4a4a" stroke="#4a4a4a" stroke-width="0.12" font-weight="normal" textLength="11.25" lengthAdjust="spacingAndGlyphs">300</text>
<line x1="373.00" y1="295.68" x2="370.60" y2="295.68" stroke="#666" stroke-width="0.8"/>
<line x1="537.70" y1="295.68" x2="539.30" y2="295.68" stroke="#777" stroke-width="0.8"/>
<text x="367.40" y="297.88" font-size="6.0" text-anchor="end" fill="#4a4a4a" stroke="#4a4a4a" stroke-width="0.12" font-weight="normal" textLength="11.25" lengthAdjust="spacingAndGlyphs">350</text>
<line x1="373.00" y1="281.12" x2="370.60" y2="281.12" stroke="#666" stroke-width="0.8"/>
<line x1="537.70" y1="281.12" x2="539.30" y2="281.12" stroke="#777" stroke-width="0.8"/>
<text x="367.40" y="283.32" font-size="6.0" text-anchor="end" fill="#4a4a4a" stroke="#4a4a4a" stroke-width="0.12" font-weight="normal" textLength="11.25" lengthAdjust="spacingAndGlyphs">400</text>
<line x1="373.00" y1="266.56" x2="370.60" y2="266.56" stroke="#666" stroke-width="0.8"/>
<line x1="537.70" y1="266.56" x2="539.30" y2="266.56" stroke="#777" stroke-width="0.8"/>
<text x="367.40" y="268.76" font-size="6.0" text-anchor="end" fill="#4a4a4a" stroke="#4a4a4a" stroke-width="0.12" font-weight="normal" textLength="11.25" lengthAdjust="spacingAndGlyphs">450</text>
<line x1="373.00" y1="252.00" x2="370.60" y2="252.00" stroke="#666" stroke-width="0.8"/>
<line x1="537.70" y1="252.00" x2="539.30" y2="252.00" stroke="#777" stroke-width="0.8"/>
<text x="367.40" y="254.20" font-size="6.0" text-anchor="end" fill="#4a4a4a" stroke="#4a4a4a" stroke-width="0.12" font-weight="normal" textLength="11.25" lengthAdjust="spacingAndGlyphs">500</text>
<line x1="373.00" y1="237.44" x2="370.60" y2="237.44" stroke="#666" stroke-width="0.8"/>
<line x1="537.70" y1="237.44" x2="539.30" y2="237.44" stroke="#777" stroke-width="0.8"/>
<text x="367.40" y="239.64" font-size="6.0" text-anchor="end" fill="#4a4a4a" stroke="#4a4a4a" stroke-width="0.12" font-weight="normal" textLength="11.25" lengthAdjust="spacingAndGlyphs">550</text>
<text transform="translate(344.3,306.5) rotate(-90)" font-size="10.2" text-anchor="middle" fill="#2a2a2a" stroke="#333" stroke-width="0.3" textLength="67.5" lengthAdjust="spacingAndGlyphs">Frequency (Hz)</text>
<text x="472.00" y="424.20" font-size="9.6" text-anchor="middle" fill="#383838" stroke="#383838" stroke-width="0.12" font-weight="bold" textLength="40.6" lengthAdjust="spacingAndGlyphs">Time (s)</text>
</g>
</svg>
</body></html>
